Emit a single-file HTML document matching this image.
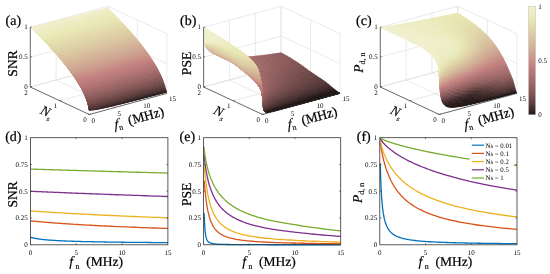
<!DOCTYPE html>
<html><head><meta charset="utf-8"><title>Figure</title>
<style>html,body{margin:0;padding:0;background:#fff}svg{display:block}text{font-family:"Liberation Serif",serif;fill:#000;text-rendering:geometricPrecision}.b{stroke:#000;stroke-width:.22px}.c{stroke:#000;stroke-width:.14px}</style></head><body>
<svg width="550" height="274" viewBox="0 0 550 274">
<rect width="550" height="274" fill="#fff"/>
<defs><filter id="sm" x="-5%" y="-5%" width="110%" height="110%"><feGaussianBlur stdDeviation="0.45"/></filter></defs>
<path d="M30.3 87L30.3 27.3" stroke="#dcdcdc" stroke-width="0.6" fill="none"/>
<path d="M30.3 87L89.3 114.5" stroke="#dcdcdc" stroke-width="0.6" fill="none"/>
<path d="M56.1 80L56.1 20.3" stroke="#dcdcdc" stroke-width="0.6" fill="none"/>
<path d="M56.1 80L115.1 107.5" stroke="#dcdcdc" stroke-width="0.6" fill="none"/>
<path d="M82 72.9L82 13.2" stroke="#dcdcdc" stroke-width="0.6" fill="none"/>
<path d="M82 72.9L141 100.4" stroke="#dcdcdc" stroke-width="0.6" fill="none"/>
<path d="M107.8 65.9L107.8 6.2" stroke="#dcdcdc" stroke-width="0.6" fill="none"/>
<path d="M107.8 65.9L166.8 93.4" stroke="#dcdcdc" stroke-width="0.6" fill="none"/>
<path d="M166.8 93.4L166.8 33.7" stroke="#dcdcdc" stroke-width="0.6" fill="none"/>
<path d="M89.3 114.5L166.8 93.4" stroke="#dcdcdc" stroke-width="0.6" fill="none"/>
<path d="M137.3 79.7L137.3 20" stroke="#dcdcdc" stroke-width="0.6" fill="none"/>
<path d="M59.8 100.8L137.3 79.7" stroke="#dcdcdc" stroke-width="0.6" fill="none"/>
<path d="M107.8 65.9L107.8 6.2" stroke="#dcdcdc" stroke-width="0.6" fill="none"/>
<path d="M30.3 87L107.8 65.9" stroke="#dcdcdc" stroke-width="0.6" fill="none"/>
<path d="M30.3 87L107.8 65.9" stroke="#dcdcdc" stroke-width="0.6" fill="none"/>
<path d="M107.8 65.9L166.8 93.4" stroke="#dcdcdc" stroke-width="0.6" fill="none"/>
<path d="M30.3 57.1L107.8 36.1" stroke="#dcdcdc" stroke-width="0.6" fill="none"/>
<path d="M107.8 36.1L166.8 63.6" stroke="#dcdcdc" stroke-width="0.6" fill="none"/>
<path d="M30.3 27.3L107.8 6.2" stroke="#dcdcdc" stroke-width="0.6" fill="none"/>
<path d="M107.8 6.2L166.8 33.7" stroke="#dcdcdc" stroke-width="0.6" fill="none"/>
<g stroke-width="0.7" stroke-linejoin="round" filter="url(#sm)">
<path fill="#eeeec8" stroke="#eeeec8" d="M106.4 12.1l-3.2-3.1 4.6-1.2 3.2 3.2zM102 13.2l-3.1-3.1 4.3-1.1 3.2 3.1zM97.8 14.3l-3.2-3.1 4.3-1.1 3.1 3.1zM93.7 15.3l-3.2-3.1 4.1-1 3.2 3.1z"/>
<path fill="#efefca" stroke="#efefca" d="M89.8 16.3l-3.2-3.1 3.9-1 3.2 3.1zM86 17.3l-3.1-3.2 3.7-.9 3.2 3.1zM82.4 18.2l-3.2-3.2 3.7-.9 3.1 3.2zM79 19l-3.2-3.1 3.4-.9 3.2 3.2zM75.6 19.9l-3.1-3.2 3.3-.8 3.2 3.1zM72.5 20.7l-3.2-3.2 3.2-.8 3.1 3.2z"/>
<path fill="#efefcc" stroke="#efefcc" d="M69.4 21.4l-3.1-3.1 3-.8 3.2 3.2zM66.6 22.1l-3.2-3.1 2.9-.7 3.1 3.1zM63.8 22.8l-3.2-3.1 2.8-.7 3.2 3.1zM61.2 23.5l-3.2-3.1 2.6-.7 3.2 3.1zM58.7 24.1l-3.1-3.1 2.4-.6 3.2 3.1zM56.4 24.7l-3.2-3.1 2.4-.6 3.1 3.1zM54.2 25.2l-3.2-3.1 2.2-.5 3.2 3.1zM52.1 25.8l-3.1-3.2 2-.5 3.2 3.1zM50.2 26.2l-3.2-3.1 2-.5 3.1 3.2z"/>
<path fill="#f0f0ce" stroke="#f0f0ce" d="M48.4 26.7l-3.2-3.1 1.8-.5 3.2 3.1zM46.7 27.1l-3.2-3.1 1.7-.4 3.2 3.1zM45.1 27.5l-3.2-3.1 1.6-.4 3.2 3.1zM43.6 27.9l-3.1-3.1 1.4-.4 3.2 3.1zM42.3 28.2l-3.2-3.1 1.4-.3 3.1 3.1zM41.1 28.5l-3.2-3.1 1.2-.3 3.2 3.1zM40 28.8l-3.2-3.1 1.1-.3 3.2 3.1zM38.9 29.1l-3.1-3.2 1-.2 3.2 3.1zM38 29.3l-3.1-3.1 .9-.3 3.1 3.2zM37.2 29.5l-3.2-3.1 .9-.2 3.1 3.1zM36.5 29.7l-3.2-3.2 .7-.1 3.2 3.1zM35.9 29.8l-3.2-3.1 .6-.2 3.2 3.2zM35.4 29.9l-3.2-3.1 .5-.1 3.2 3.1zM34.9 30.1l-3.2-3.2 .5-.1 3.2 3.1zM34.6 30.1l-3.2-3.1 .3-.1 3.2 3.2zM34.3 30.2l-3.2-3.1 .3-.1 3.2 3.1zM34 30.3l-3.1-3.1 .2-.1 3.2 3.1zM33.9 30.3l-3.2-3.1 .2 0 3.1 3.1zM33.8 30.3l-3.2-3.1 .1 0 3.2 3.1zM33.7 30.3l-3.1-3.1 0 0 3.2 3.1zM33.7 30.3l-3.1-3.1 0 0 3.1 3.1z"/>
<path fill="#ececbf" stroke="#ececbf" d="M109.5 15.2l-3.1-3.1 4.6-1.1 3.1 3.1zM105.1 16.4l-3.1-3.2 4.4-1.1 3.1 3.1z"/>
<path fill="#ececc1" stroke="#ececc1" d="M100.9 17.4l-3.1-3.1 4.2-1.1 3.1 3.2zM96.8 18.4l-3.1-3.1 4.1-1 3.1 3.1zM92.9 19.4l-3.1-3.1 3.9-1 3.1 3.1zM89.1 20.4l-3.1-3.1 3.8-1 3.1 3.1zM85.5 21.3l-3.1-3.1 3.6-.9 3.1 3.1z"/>
<path fill="#ededc3" stroke="#ededc3" d="M82 22.1l-3-3.1 3.4-.8 3.1 3.1zM78.7 23l-3.1-3.1 3.4-.9 3 3.1zM75.5 23.8l-3-3.1 3.1-.8 3.1 3.1zM72.5 24.5l-3.1-3.1 3.1-.7 3 3.1zM69.6 25.2l-3-3.1 2.8-.7 3.1 3.1zM66.9 25.9l-3.1-3.1 2.8-.7 3 3.1zM64.3 26.6l-3.1-3.1 2.6-.7 3.1 3.1z"/>
<path fill="#ededc6" stroke="#ededc6" d="M61.8 27.2l-3.1-3.1 2.5-.6 3.1 3.1zM59.5 27.8l-3.1-3.1 2.3-.6 3.1 3.1zM57.3 28.3l-3.1-3.1 2.2-.5 3.1 3.1zM55.2 28.8l-3.1-3 2.1-.6 3.1 3.1zM53.3 29.3l-3.1-3.1 1.9-.4 3.1 3zM51.5 29.8l-3.1-3.1 1.8-.5 3.1 3.1zM49.8 30.2l-3.1-3.1 1.7-.4 3.1 3.1zM48.2 30.6l-3.1-3.1 1.6-.4 3.1 3.1zM46.7 30.9l-3.1-3 1.5-.4 3.1 3.1zM45.4 31.3l-3.1-3.1 1.3-.3 3.1 3zM44.2 31.6l-3.1-3.1 1.2-.3 3.1 3.1zM43 31.9l-3-3.1 1.1-.3 3.1 3.1z"/>
<path fill="#eeeec8" stroke="#eeeec8" d="M42 32.1l-3.1-3 1.1-.3 3 3.1zM41.1 32.3l-3.1-3 .9-.2 3.1 3zM40.3 32.5l-3.1-3 .8-.2 3.1 3zM39.6 32.7l-3.1-3 .7-.2 3.1 3zM39 32.9l-3.1-3.1 .6-.1 3.1 3zM38.4 33l-3-3.1 .5-.1 3.1 3.1zM38 33.1l-3.1-3 .5-.2 3 3.1zM37.6 33.2l-3-3.1 .3 0 3.1 3zM37.3 33.3l-3-3.1 .3-.1 3 3.1zM37.1 33.3l-3.1-3 .3-.1 3 3.1zM37 33.4l-3.1-3.1 .1 0 3.1 3zM36.9 33.4l-3.1-3.1 .1 0 3.1 3.1zM36.8 33.4l-3.1-3.1 .1 0 3.1 3.1zM36.8 33.4l-3.1-3.1 0 0 3.1 3.1z"/>
<path fill="#eaeab8" stroke="#eaeab8" d="M112.5 18.3l-3-3.1 4.6-1.1 3 3.1zM108.1 19.4l-3-3 4.4-1.2 3 3.1zM103.9 20.5l-3-3.1 4.2-1 3 3zM99.8 21.5l-3-3.1 4.1-1 3 3.1z"/>
<path fill="#eaeaba" stroke="#eaeaba" d="M95.9 22.5l-3-3.1 3.9-1 3 3.1zM92.1 23.4l-3-3 3.8-1 3 3.1zM88.5 24.3l-3-3 3.6-.9 3 3zM85 25.2l-3-3.1 3.5-.8 3 3zM81.7 26l-3-3 3.3-.9 3 3.1zM78.5 26.8l-3-3 3.2-.8 3 3zM75.5 27.5l-3-3 3-.7 3 3z"/>
<path fill="#ebebbd" stroke="#ebebbd" d="M72.6 28.3l-3-3.1 2.9-.7 3 3zM69.9 29l-3-3.1 2.7-.7 3 3.1zM67.3 29.6l-3-3 2.6-.7 3 3.1zM64.8 30.2l-3-3 2.5-.6 3 3zM62.5 30.8l-3-3 2.3-.6 3 3zM60.3 31.3l-3-3 2.2-.5 3 3zM58.2 31.9l-3-3.1 2.1-.5 3 3zM56.3 32.3l-3-3 1.9-.5 3 3.1z"/>
<path fill="#ececbf" stroke="#ececbf" d="M54.4 32.8l-2.9-3 1.8-.5 3 3zM52.8 33.2l-3-3 1.7-.4 2.9 3zM51.2 33.6l-3-3 1.6-.4 3 3zM49.7 34l-3-3.1 1.5-.3 3 3zM48.4 34.3l-3-3 1.3-.4 3 3.1zM47.1 34.6l-2.9-3 1.2-.3 3 3zM46 34.9l-3-3 1.2-.3 2.9 3zM45 35.1l-3-3 1-.2 3 3zM44.1 35.4l-3-3.1 .9-.2 3 3zM43.3 35.6l-3-3.1 .8-.2 3 3.1zM42.6 35.7l-3-3 .7-.2 3 3.1zM42 35.9l-3-3 .6-.2 3 3zM41.4 36l-3-3 .6-.1 3 3zM41 36.1l-3-3 .4-.1 3 3zM40.6 36.2l-3-3 .4-.1 3 3zM40.3 36.3l-3-3 .3-.1 3 3zM40.1 36.4l-3-3.1 .2 0 3 3zM40 36.4l-3-3 .1-.1 3 3.1zM39.9 36.4l-3-3 .1 0 3 3zM39.8 36.4l-3-3 .1 0 3 3zM39.8 36.4l-3-3 0 0 3 3z"/>
<path fill="#e7e5b2" stroke="#e7e5b2" d="M115.4 21.3l-2.9-3 4.6-1.1 2.8 3zM111 22.4l-2.9-3 4.4-1.1 2.9 3z"/>
<path fill="#e8e7b3" stroke="#e8e7b3" d="M106.8 23.5l-2.9-3 4.2-1.1 2.9 3zM102.7 24.5l-2.9-3 4.1-1 2.9 3zM98.8 25.5l-2.9-3 3.9-1 2.9 3zM95 26.4l-2.9-3 3.8-.9 2.9 3zM91.4 27.3l-2.9-3 3.6-.9 2.9 3z"/>
<path fill="#e9e8b4" stroke="#e9e8b4" d="M87.9 28.2l-2.9-3 3.5-.9 2.9 3zM84.6 29l-2.9-3 3.3-.8 2.9 3zM81.4 29.8l-2.9-3 3.2-.8 2.9 3zM78.4 30.5l-2.9-3 3-.7 2.9 3zM75.5 31.3l-2.9-3 2.9-.8 2.9 3zM72.8 31.9l-2.9-2.9 2.7-.7 2.9 3zM70.2 32.6l-2.9-3 2.6-.6 2.9 2.9z"/>
<path fill="#e9e9b6" stroke="#e9e9b6" d="M67.7 33.2l-2.9-3 2.5-.6 2.9 3zM65.4 33.8l-2.9-3 2.3-.6 2.9 3zM63.2 34.3l-2.9-3 2.2-.5 2.9 3zM61.1 34.8l-2.9-2.9 2.1-.6 2.9 3zM59.2 35.3l-2.9-3 1.9-.4 2.9 2.9zM57.3 35.8l-2.9-3 1.9-.5 2.9 3zM55.6 36.2l-2.8-3 1.6-.4 2.9 3zM54.1 36.6l-2.9-3 1.6-.4 2.8 3zM52.6 36.9l-2.9-2.9 1.5-.4 2.9 3zM51.3 37.3l-2.9-3 1.3-.3 2.9 2.9zM50 37.6l-2.9-3 1.3-.3 2.9 3z"/>
<path fill="#eaeab8" stroke="#eaeab8" d="M48.9 37.9l-2.9-3 1.1-.3 2.9 3zM47.9 38.1l-2.9-3 1-.2 2.9 3zM47 38.3l-2.9-2.9 .9-.3 2.9 3zM46.2 38.5l-2.9-2.9 .8-.2 2.9 2.9zM45.5 38.7l-2.9-3 .7-.1 2.9 2.9zM44.9 38.9l-2.9-3 .6-.2 2.9 3zM44.3 39l-2.9-3 .6-.1 2.9 3zM43.9 39.1l-2.9-3 .4-.1 2.9 3zM43.5 39.2l-2.9-3 .4-.1 2.9 3zM43.2 39.3l-2.9-3 .3-.1 2.9 3zM43 39.3l-2.9-2.9 .2-.1 2.9 3zM42.9 39.4l-2.9-3 .1 0 2.9 2.9zM42.8 39.4l-2.9-3 .1 0 2.9 3zM42.7 39.4l-2.9-3 .1 0 2.9 3zM42.7 39.4l-2.9-3 0 0 2.9 3z"/>
<path fill="#e5e1b0" stroke="#e5e1b0" d="M118.2 24.3l-2.8-3 4.5-1.1 2.8 3zM113.8 25.4l-2.8-3 4.4-1.1 2.8 3zM109.6 26.4l-2.8-2.9 4.2-1.1 2.8 3zM105.5 27.5l-2.8-3 4.1-1 2.8 2.9zM101.6 28.4l-2.8-2.9 3.9-1 2.8 3z"/>
<path fill="#e6e2b1" stroke="#e6e2b1" d="M97.8 29.4l-2.8-3 3.8-.9 2.8 2.9zM94.2 30.3l-2.8-3 3.6-.9 2.8 3zM90.7 31.1l-2.8-2.9 3.5-.9 2.8 3zM87.4 31.9l-2.8-2.9 3.3-.8 2.8 2.9zM84.2 32.7l-2.8-2.9 3.2-.8 2.8 2.9z"/>
<path fill="#e7e4b2" stroke="#e7e4b2" d="M81.2 33.5l-2.8-3 3-.7 2.8 2.9zM78.3 34.2l-2.8-2.9 2.9-.8 2.8 3zM75.6 34.9l-2.8-3 2.7-.6 2.8 2.9zM73 35.5l-2.8-2.9 2.6-.7 2.8 3zM70.5 36.1l-2.8-2.9 2.5-.6 2.8 2.9zM68.2 36.7l-2.8-2.9 2.3-.6 2.8 2.9zM66 37.3l-2.8-3 2.2-.5 2.8 2.9zM63.9 37.8l-2.8-3 2.1-.5 2.8 3z"/>
<path fill="#e7e5b2" stroke="#e7e5b2" d="M62 38.2l-2.8-2.9 1.9-.5 2.8 3zM60.1 38.7l-2.8-2.9 1.9-.5 2.8 2.9zM58.4 39.1l-2.8-2.9 1.7-.4 2.8 2.9zM56.9 39.5l-2.8-2.9 1.5-.4 2.8 2.9zM55.4 39.9l-2.8-3 1.5-.3 2.8 2.9zM54.1 40.2l-2.8-2.9 1.3-.4 2.8 3zM52.8 40.5l-2.8-2.9 1.3-.3 2.8 2.9zM51.7 40.8l-2.8-2.9 1.1-.3 2.8 2.9zM50.7 41l-2.8-2.9 1-.2 2.8 2.9zM49.8 41.3l-2.8-3 .9-.2 2.8 2.9zM49 41.5l-2.8-3 .8-.2 2.8 3zM48.3 41.6l-2.8-2.9 .7-.2 2.8 3zM47.7 41.8l-2.8-2.9 .6-.2 2.8 2.9zM47.1 41.9l-2.8-2.9 .6-.1 2.8 2.9zM46.7 42l-2.8-2.9 .4-.1 2.8 2.9zM46.3 42.1l-2.8-2.9 .4-.1 2.8 2.9zM46 42.2l-2.8-2.9 .3-.1 2.8 2.9zM45.8 42.2l-2.8-2.9 .2 0 2.8 2.9zM45.7 42.3l-2.8-2.9 .1-.1 2.8 2.9zM45.6 42.3l-2.8-2.9 .1 0 2.8 2.9zM45.5 42.3l-2.8-2.9 .1 0 2.8 2.9zM45.5 42.3l-2.8-2.9 0 0 2.8 2.9z"/>
<path fill="#e3dbad" stroke="#e3dbad" d="M120.9 27.2l-2.7-2.9 4.5-1.1 2.7 2.9zM116.5 28.3l-2.7-2.9 4.4-1.1 2.7 2.9z"/>
<path fill="#e4dcae" stroke="#e4dcae" d="M112.3 29.3l-2.7-2.9 4.2-1 2.7 2.9zM108.2 30.4l-2.7-2.9 4.1-1.1 2.7 2.9zM104.3 31.3l-2.7-2.9 3.9-.9 2.7 2.9zM100.5 32.3l-2.7-2.9 3.8-1 2.7 2.9zM96.9 33.2l-2.7-2.9 3.6-.9 2.7 2.9z"/>
<path fill="#e4deae" stroke="#e4deae" d="M93.4 34l-2.7-2.9 3.5-.8 2.7 2.9zM90.1 34.8l-2.7-2.9 3.3-.8 2.7 2.9zM86.9 35.6l-2.7-2.9 3.2-.8 2.7 2.9zM83.9 36.4l-2.7-2.9 3-.8 2.7 2.9zM81 37.1l-2.7-2.9 2.9-.7 2.7 2.9zM78.3 37.8l-2.7-2.9 2.7-.7 2.7 2.9zM75.7 38.4l-2.7-2.9 2.6-.6 2.7 2.9z"/>
<path fill="#e5dfaf" stroke="#e5dfaf" d="M73.2 39l-2.7-2.9 2.5-.6 2.7 2.9zM70.9 39.6l-2.7-2.9 2.3-.6 2.7 2.9zM68.7 40.1l-2.7-2.8 2.2-.6 2.7 2.9zM66.6 40.7l-2.7-2.9 2.1-.5 2.7 2.8zM64.7 41.1l-2.7-2.9 1.9-.4 2.7 2.9zM62.8 41.6l-2.7-2.9 1.9-.5 2.7 2.9zM61.1 42l-2.7-2.9 1.7-.4 2.7 2.9zM59.6 42.4l-2.7-2.9 1.5-.4 2.7 2.9zM58.1 42.7l-2.7-2.8 1.5-.4 2.7 2.9z"/>
<path fill="#e5e1b0" stroke="#e5e1b0" d="M56.8 43.1l-2.7-2.9 1.3-.3 2.7 2.8zM55.5 43.4l-2.7-2.9 1.3-.3 2.7 2.9zM54.4 43.7l-2.7-2.9 1.1-.3 2.7 2.9zM53.4 43.9l-2.7-2.9 1-.2 2.7 2.9zM52.5 44.1l-2.7-2.8 .9-.3 2.7 2.9zM51.7 44.3l-2.7-2.8 .8-.2 2.7 2.8zM51 44.5l-2.7-2.9 .7-.1 2.7 2.8zM50.4 44.7l-2.7-2.9 .6-.2 2.7 2.9zM49.8 44.8l-2.7-2.9 .6-.1 2.7 2.9zM49.4 44.9l-2.7-2.9 .4-.1 2.7 2.9zM49 45l-2.7-2.9 .4-.1 2.7 2.9zM48.7 45.1l-2.7-2.9 .3-.1 2.7 2.9zM48.5 45.1l-2.7-2.9 .2 0 2.7 2.9zM48.4 45.1l-2.7-2.8 .1-.1 2.7 2.9zM48.3 45.2l-2.7-2.9 .1 0 2.7 2.8zM48.2 45.2l-2.7-2.9 .1 0 2.7 2.9zM48.2 45.2l-2.7-2.9 0 0 2.7 2.9z"/>
<path fill="#e1d6aa" stroke="#e1d6aa" d="M123.5 30.1l-2.6-2.9 4.5-1.1 2.7 2.8zM119.1 31.2l-2.6-2.9 4.4-1.1 2.6 2.9zM114.9 32.2l-2.6-2.9 4.2-1 2.6 2.9zM110.8 33.2l-2.6-2.8 4.1-1.1 2.6 2.9zM106.9 34.2l-2.6-2.9 3.9-.9 2.6 2.8z"/>
<path fill="#e2d8ab" stroke="#e2d8ab" d="M103.1 35.1l-2.6-2.8 3.8-1 2.6 2.9zM99.5 36l-2.6-2.8 3.6-.9 2.6 2.8zM96 36.9l-2.6-2.9 3.5-.8 2.6 2.8zM92.7 37.7l-2.6-2.9 3.3-.8 2.6 2.9zM89.5 38.5l-2.6-2.9 3.2-.8 2.6 2.9z"/>
<path fill="#e2d9ac" stroke="#e2d9ac" d="M86.5 39.2l-2.6-2.8 3-.8 2.6 2.9zM83.6 39.9l-2.6-2.8 2.9-.7 2.6 2.8zM80.9 40.6l-2.6-2.8 2.7-.7 2.6 2.8zM78.3 41.3l-2.6-2.9 2.6-.6 2.6 2.8zM75.8 41.9l-2.6-2.9 2.5-.6 2.6 2.9zM73.5 42.4l-2.6-2.8 2.3-.6 2.6 2.9zM71.3 43l-2.6-2.9 2.2-.5 2.6 2.8z"/>
<path fill="#e3dbad" stroke="#e3dbad" d="M69.2 43.5l-2.6-2.8 2.1-.6 2.6 2.9zM67.3 44l-2.6-2.9 1.9-.4 2.6 2.8zM65.4 44.4l-2.6-2.8 1.9-.5 2.6 2.9zM63.8 44.8l-2.7-2.8 1.7-.4 2.6 2.8zM62.2 45.2l-2.6-2.8 1.5-.4 2.7 2.8zM60.7 45.6l-2.6-2.9 1.5-.3 2.6 2.8zM59.4 45.9l-2.6-2.8 1.3-.4 2.6 2.9zM58.2 46.2l-2.7-2.8 1.3-.3 2.6 2.8zM57 46.5l-2.6-2.8 1.1-.3 2.7 2.8zM56 46.7l-2.6-2.8 1-.2 2.6 2.8zM55.1 46.9l-2.6-2.8 .9-.2 2.6 2.8zM54.3 47.1l-2.6-2.8 .8-.2 2.6 2.8zM53.6 47.3l-2.6-2.8 .7-.2 2.6 2.8zM53 47.5l-2.6-2.8 .6-.2 2.6 2.8zM52.4 47.6l-2.6-2.8 .6-.1 2.6 2.8z"/>
<path fill="#e4dcae" stroke="#e4dcae" d="M52 47.7l-2.6-2.8 .4-.1 2.6 2.8zM51.6 47.8l-2.6-2.8 .4-.1 2.6 2.8zM51.3 47.9l-2.6-2.8 .3-.1 2.6 2.8zM51.1 47.9l-2.6-2.8 .2 0 2.6 2.8zM51 48l-2.6-2.9 .1 0 2.6 2.8zM50.9 48l-2.6-2.8 .1-.1 2.6 2.9zM50.8 48l-2.6-2.8 .1 0 2.6 2.8zM50.8 48l-2.6-2.8 0 0 2.6 2.8z"/>
<path fill="#ded0a7" stroke="#ded0a7" d="M126 32.9l-2.5-2.8 4.6-1.2 2.5 2.9zM121.6 34l-2.5-2.8 4.4-1.1 2.5 2.8z"/>
<path fill="#dfd1a8" stroke="#dfd1a8" d="M117.4 35l-2.5-2.8 4.2-1 2.5 2.8zM113.3 36l-2.5-2.8 4.1-1 2.5 2.8zM109.4 37l-2.5-2.8 3.9-1 2.5 2.8zM105.6 37.9l-2.5-2.8 3.8-.9 2.5 2.8zM102 38.8l-2.5-2.8 3.6-.9 2.5 2.8z"/>
<path fill="#e0d3a8" stroke="#e0d3a8" d="M98.5 39.7l-2.5-2.8 3.5-.9 2.5 2.8zM95.2 40.5l-2.5-2.8 3.3-.8 2.5 2.8zM92.1 41.3l-2.6-2.8 3.2-.8 2.5 2.8zM89 42l-2.5-2.8 3-.7 2.6 2.8zM86.1 42.7l-2.5-2.8 2.9-.7 2.5 2.8zM83.4 43.4l-2.5-2.8 2.7-.7 2.5 2.8z"/>
<path fill="#e0d5a9" stroke="#e0d5a9" d="M80.8 44l-2.5-2.7 2.6-.7 2.5 2.8zM78.3 44.7l-2.5-2.8 2.5-.6 2.5 2.7zM76 45.2l-2.5-2.8 2.3-.5 2.5 2.8zM73.8 45.8l-2.5-2.8 2.2-.6 2.5 2.8zM71.7 46.3l-2.5-2.8 2.1-.5 2.5 2.8zM69.8 46.7l-2.5-2.7 1.9-.5 2.5 2.8zM68 47.2l-2.6-2.8 1.9-.4 2.5 2.7zM66.3 47.6l-2.5-2.8 1.6-.4 2.6 2.8zM64.7 48l-2.5-2.8 1.6-.4 2.5 2.8z"/>
<path fill="#e1d6aa" stroke="#e1d6aa" d="M63.2 48.4l-2.5-2.8 1.5-.4 2.5 2.8zM61.9 48.7l-2.5-2.8 1.3-.3 2.5 2.8zM60.7 49l-2.5-2.8 1.2-.3 2.5 2.8zM59.5 49.3l-2.5-2.8 1.2-.3 2.5 2.8zM58.5 49.5l-2.5-2.8 1-.2 2.5 2.8zM57.6 49.7l-2.5-2.8 .9-.2 2.5 2.8zM56.8 49.9l-2.5-2.8 .8-.2 2.5 2.8zM56.1 50.1l-2.5-2.8 .7-.2 2.5 2.8zM55.5 50.2l-2.5-2.7 .6-.2 2.5 2.8zM55 50.4l-2.6-2.8 .6-.1 2.5 2.7zM54.5 50.5l-2.5-2.8 .4-.1 2.6 2.8zM54.1 50.6l-2.5-2.8 .4-.1 2.5 2.8zM53.9 50.6l-2.6-2.7 .3-.1 2.5 2.8zM53.6 50.7l-2.5-2.8 .2 0 2.6 2.7zM53.5 50.7l-2.5-2.7 .1-.1 2.5 2.8zM53.4 50.8l-2.5-2.8 .1 0 2.5 2.7zM53.3 50.8l-2.5-2.8 .1 0 2.5 2.8zM53.3 50.8l-2.5-2.8 0 0 2.5 2.8z"/>
<path fill="#ddcba4" stroke="#ddcba4" d="M128.4 35.7l-2.4-2.8 4.6-1.1 2.4 2.8zM124.1 36.8l-2.5-2.8 4.4-1.1 2.4 2.8zM119.8 37.8l-2.4-2.8 4.2-1 2.5 2.8zM115.7 38.8l-2.4-2.8 4.1-1 2.4 2.8zM111.8 39.8l-2.4-2.8 3.9-1 2.4 2.8z"/>
<path fill="#ddcda5" stroke="#ddcda5" d="M108.1 40.7l-2.5-2.8 3.8-.9 2.4 2.8zM104.4 41.6l-2.4-2.8 3.6-.9 2.5 2.8zM101 42.4l-2.5-2.7 3.5-.9 2.4 2.8zM97.7 43.3l-2.5-2.8 3.3-.8 2.5 2.7zM94.5 44l-2.4-2.7 3.1-.8 2.5 2.8z"/>
<path fill="#decea6" stroke="#decea6" d="M91.5 44.8l-2.5-2.8 3.1-.7 2.4 2.7zM88.6 45.5l-2.5-2.8 2.9-.7 2.5 2.8zM85.8 46.2l-2.4-2.8 2.7-.7 2.5 2.8zM83.2 46.8l-2.4-2.8 2.6-.6 2.4 2.8zM80.8 47.4l-2.5-2.7 2.5-.7 2.4 2.8zM78.4 48l-2.4-2.8 2.3-.5 2.5 2.7z"/>
<path fill="#ded0a7" stroke="#ded0a7" d="M76.2 48.5l-2.4-2.7 2.2-.6 2.4 2.8zM74.2 49l-2.5-2.7 2.1-.5 2.4 2.7zM72.2 49.5l-2.4-2.8 1.9-.4 2.5 2.7zM70.4 49.9l-2.4-2.7 1.8-.5 2.4 2.8zM68.7 50.3l-2.4-2.7 1.7-.4 2.4 2.7zM67.1 50.7l-2.4-2.7 1.6-.4 2.4 2.7zM65.7 51.1l-2.5-2.7 1.5-.4 2.4 2.7zM64.3 51.4l-2.4-2.7 1.3-.3 2.5 2.7zM63.1 51.7l-2.4-2.7 1.2-.3 2.4 2.7zM62 52l-2.5-2.7 1.2-.3 2.4 2.7zM61 52.2l-2.5-2.7 1-.2 2.5 2.7z"/>
<path fill="#dfd1a8" stroke="#dfd1a8" d="M60.1 52.4l-2.5-2.7 .9-.2 2.5 2.7zM59.2 52.6l-2.4-2.7 .8-.2 2.5 2.7zM58.5 52.8l-2.4-2.7 .7-.2 2.4 2.7zM57.9 53l-2.4-2.8 .6-.1 2.4 2.7zM57.4 53.1l-2.4-2.7 .5-.2 2.4 2.8zM56.9 53.2l-2.4-2.7 .5-.1 2.4 2.7zM56.6 53.3l-2.5-2.7 .4-.1 2.4 2.7zM56.3 53.4l-2.4-2.8 .2 0 2.5 2.7zM56.1 53.4l-2.5-2.7 .3-.1 2.4 2.8zM55.9 53.5l-2.4-2.8 .1 0 2.5 2.7zM55.8 53.5l-2.4-2.7 .1-.1 2.4 2.8zM55.8 53.5l-2.5-2.7 .1 0 2.4 2.7zM55.8 53.5l-2.5-2.7 0 0 2.5 2.7z"/>
<path fill="#dac4a1" stroke="#dac4a1" d="M130.8 38.4l-2.4-2.7 4.6-1.1 2.3 2.7zM126.4 39.5l-2.3-2.7 4.3-1.1 2.4 2.7z"/>
<path fill="#dbc6a2" stroke="#dbc6a2" d="M122.1 40.5l-2.3-2.7 4.3-1 2.3 2.7zM118.1 41.5l-2.4-2.7 4.1-1 2.3 2.7zM114.2 42.5l-2.4-2.7 3.9-1 2.4 2.7zM110.4 43.4l-2.3-2.7 3.7-.9 2.4 2.7zM106.8 44.3l-2.4-2.7 3.7-.9 2.3 2.7z"/>
<path fill="#dbc8a2" stroke="#dbc8a2" d="M103.3 45.2l-2.3-2.8 3.4-.8 2.4 2.7zM100 46l-2.3-2.7 3.3-.9 2.3 2.8zM96.8 46.8l-2.3-2.8 3.2-.7 2.3 2.7zM93.8 47.5l-2.3-2.7 3-.8 2.3 2.8zM90.9 48.2l-2.3-2.7 2.9-.7 2.3 2.7zM88.2 48.9l-2.4-2.7 2.8-.7 2.3 2.7z"/>
<path fill="#dcc9a3" stroke="#dcc9a3" d="M85.6 49.5l-2.4-2.7 2.6-.6 2.4 2.7zM83.1 50.1l-2.3-2.7 2.4-.6 2.4 2.7zM80.8 50.7l-2.4-2.7 2.4-.6 2.3 2.7zM78.6 51.2l-2.4-2.7 2.2-.5 2.4 2.7zM76.5 51.7l-2.3-2.7 2-.5 2.4 2.7zM74.5 52.2l-2.3-2.7 2-.5 2.3 2.7zM72.7 52.6l-2.3-2.7 1.8-.4 2.3 2.7z"/>
<path fill="#ddcba4" stroke="#ddcba4" d="M71 53l-2.3-2.7 1.7-.4 2.3 2.7zM69.5 53.4l-2.4-2.7 1.6-.4 2.3 2.7zM68 53.8l-2.3-2.7 1.4-.4 2.4 2.7zM66.7 54.1l-2.4-2.7 1.4-.3 2.3 2.7zM65.4 54.4l-2.3-2.7 1.2-.3 2.4 2.7zM64.3 54.7l-2.3-2.7 1.1-.3 2.3 2.7zM63.3 54.9l-2.3-2.7 1-.2 2.3 2.7zM62.4 55.1l-2.3-2.7 .9-.2 2.3 2.7zM61.6 55.3l-2.4-2.7 .9-.2 2.3 2.7zM60.9 55.5l-2.4-2.7 .7-.2 2.4 2.7zM60.2 55.6l-2.3-2.6 .6-.2 2.4 2.7zM59.7 55.8l-2.3-2.7 .5-.1 2.3 2.6zM59.3 55.9l-2.4-2.7 .5-.1 2.3 2.7zM58.9 56l-2.3-2.7 .3-.1 2.4 2.7zM58.6 56l-2.3-2.6 .3-.1 2.3 2.7zM58.4 56.1l-2.3-2.7 .2 0 2.3 2.6zM58.2 56.1l-2.3-2.6 .2-.1 2.3 2.7zM58.1 56.2l-2.3-2.7 .1 0 2.3 2.6zM58.1 56.2l-2.3-2.7 0 0 2.3 2.7zM58.1 56.2l-2.3-2.7 0 0 2.3 2.7z"/>
<path fill="#d8bf9e" stroke="#d8bf9e" d="M133 41.1l-2.2-2.7 4.5-1.1 2.3 2.7zM128.6 42.2l-2.2-2.7 4.4-1.1 2.2 2.7zM124.4 43.2l-2.3-2.7 4.3-1 2.2 2.7zM120.3 44.2l-2.2-2.7 4-1 2.3 2.7zM116.4 45.2l-2.2-2.7 3.9-1 2.2 2.7z"/>
<path fill="#d9c19f" stroke="#d9c19f" d="M112.6 46.1l-2.2-2.7 3.8-.9 2.2 2.7zM109 47l-2.2-2.7 3.6-.9 2.2 2.7zM105.5 47.8l-2.2-2.6 3.5-.9 2.2 2.7zM102.2 48.6l-2.2-2.6 3.3-.8 2.2 2.6z"/>
<path fill="#d9c3a0" stroke="#d9c3a0" d="M99.1 49.4l-2.3-2.6 3.2-.8 2.2 2.6zM96 50.2l-2.2-2.7 3-.7 2.3 2.6zM93.1 50.9l-2.2-2.7 2.9-.7 2.2 2.7zM90.4 51.5l-2.2-2.6 2.7-.7 2.2 2.7zM87.8 52.2l-2.2-2.7 2.6-.6 2.2 2.6zM85.3 52.7l-2.2-2.6 2.5-.6 2.2 2.7z"/>
<path fill="#dac4a1" stroke="#dac4a1" d="M83 53.3l-2.2-2.6 2.3-.6 2.2 2.6zM80.8 53.8l-2.2-2.6 2.2-.5 2.2 2.6zM78.7 54.4l-2.2-2.7 2.1-.5 2.2 2.6zM76.8 54.8l-2.3-2.6 2-.5 2.2 2.7zM75 55.3l-2.3-2.7 1.8-.4 2.3 2.6zM73.3 55.7l-2.3-2.7 1.7-.4 2.3 2.7zM71.7 56.1l-2.2-2.7 1.5-.4 2.3 2.7zM70.2 56.4l-2.2-2.6 1.5-.4 2.2 2.7zM68.9 56.7l-2.2-2.6 1.3-.3 2.2 2.6z"/>
<path fill="#dbc6a2" stroke="#dbc6a2" d="M67.7 57l-2.3-2.6 1.3-.3 2.2 2.6zM66.5 57.3l-2.2-2.6 1.1-.3 2.3 2.6zM65.5 57.5l-2.2-2.6 1-.2 2.2 2.6zM64.6 57.8l-2.2-2.7 .9-.2 2.2 2.6zM63.8 58l-2.2-2.7 .8-.2 2.2 2.7zM63.1 58.1l-2.2-2.6 .7-.2 2.2 2.7zM62.5 58.3l-2.3-2.7 .7-.1 2.2 2.6zM62 58.4l-2.3-2.6 .5-.2 2.3 2.7zM61.5 58.5l-2.2-2.6 .4-.1 2.3 2.6zM61.1 58.6l-2.2-2.6 .4-.1 2.2 2.6zM60.9 58.7l-2.3-2.7 .3 0 2.2 2.6zM60.6 58.7l-2.2-2.6 .2-.1 2.3 2.7zM60.5 58.8l-2.3-2.7 .2 0 2.2 2.6zM60.4 58.8l-2.3-2.6 .1-.1 2.3 2.7zM60.3 58.8l-2.2-2.6 0 0 2.3 2.6zM60.3 58.8l-2.2-2.6 0 0 2.2 2.6z"/>
<path fill="#d5b89a" stroke="#d5b89a" d="M135.2 43.8l-2.2-2.7 4.6-1.1 2.1 2.6zM130.8 44.8l-2.2-2.6 4.4-1.1 2.2 2.7z"/>
<path fill="#d6ba9b" stroke="#d6ba9b" d="M126.5 45.9l-2.1-2.7 4.2-1 2.2 2.6zM122.5 46.9l-2.2-2.7 4.1-1 2.1 2.7zM118.5 47.8l-2.1-2.6 3.9-1 2.2 2.7zM114.8 48.7l-2.2-2.6 3.8-.9 2.1 2.6zM111.2 49.6l-2.2-2.6 3.6-.9 2.2 2.6z"/>
<path fill="#d7bc9c" stroke="#d7bc9c" d="M107.7 50.5l-2.2-2.7 3.5-.8 2.2 2.6zM104.4 51.3l-2.2-2.7 3.3-.8 2.2 2.7zM101.2 52l-2.1-2.6 3.1-.8 2.2 2.7zM98.2 52.8l-2.2-2.6 3.1-.8 2.1 2.6zM95.3 53.5l-2.2-2.6 2.9-.7 2.2 2.6z"/>
<path fill="#d7bd9d" stroke="#d7bd9d" d="M92.6 54.1l-2.2-2.6 2.7-.6 2.2 2.6zM89.9 54.8l-2.1-2.6 2.6-.7 2.2 2.6zM87.5 55.4l-2.2-2.7 2.5-.5 2.1 2.6zM85.1 55.9l-2.1-2.6 2.3-.6 2.2 2.7zM82.9 56.4l-2.1-2.6 2.2-.5 2.1 2.6zM80.9 56.9l-2.2-2.5 2.1-.6 2.1 2.6z"/>
<path fill="#d8bf9e" stroke="#d8bf9e" d="M78.9 57.4l-2.1-2.6 1.9-.4 2.2 2.5zM77.1 57.9l-2.1-2.6 1.8-.5 2.1 2.6zM75.4 58.3l-2.1-2.6 1.7-.4 2.1 2.6zM73.8 58.6l-2.1-2.5 1.6-.4 2.1 2.6zM72.4 59l-2.2-2.6 1.5-.3 2.1 2.5zM71 59.3l-2.1-2.6 1.3-.3 2.2 2.6zM69.8 59.6l-2.1-2.6 1.2-.3 2.1 2.6zM68.7 59.9l-2.2-2.6 1.2-.3 2.1 2.6zM67.7 60.1l-2.2-2.6 1-.2 2.2 2.6zM66.8 60.3l-2.2-2.5 .9-.3 2.2 2.6zM66 60.5l-2.2-2.5 .8-.2 2.2 2.5zM65.3 60.7l-2.2-2.6 .7-.1 2.2 2.5z"/>
<path fill="#d9c19f" stroke="#d9c19f" d="M64.6 60.9l-2.1-2.6 .6-.2 2.2 2.6zM64.1 61l-2.1-2.6 .5-.1 2.1 2.6zM63.7 61.1l-2.2-2.6 .5-.1 2.1 2.6zM63.3 61.2l-2.2-2.6 .4-.1 2.2 2.6zM63 61.2l-2.1-2.5 .2-.1 2.2 2.6zM62.8 61.3l-2.2-2.6 .3 0 2.1 2.5zM62.6 61.3l-2.1-2.5 .1-.1 2.2 2.6zM62.5 61.4l-2.1-2.6 .1 0 2.1 2.5zM62.5 61.4l-2.2-2.6 .1 0 2.1 2.6zM62.5 61.4l-2.2-2.6 0 0 2.2 2.6z"/>
<path fill="#d3b297" stroke="#d3b297" d="M137.2 46.4l-2-2.6 4.5-1.2 2.1 2.7zM132.8 47.4l-2-2.6 4.4-1 2 2.6zM128.6 48.5l-2.1-2.6 4.3-1.1 2 2.6zM124.5 49.5l-2-2.6 4-1 2.1 2.6z"/>
<path fill="#d4b498" stroke="#d4b498" d="M120.6 50.4l-2.1-2.6 4-.9 2 2.6zM116.8 51.3l-2-2.6 3.7-.9 2.1 2.6zM113.2 52.2l-2-2.6 3.6-.9 2 2.6zM109.8 53l-2.1-2.5 3.5-.9 2 2.6zM106.4 53.8l-2-2.5 3.3-.8 2.1 2.5z"/>
<path fill="#d5b699" stroke="#d5b699" d="M103.3 54.6l-2.1-2.6 3.2-.7 2 2.5zM100.2 55.3l-2-2.5 3-.8 2.1 2.6zM97.4 56l-2.1-2.5 2.9-.7 2 2.5zM94.6 56.7l-2-2.6 2.7-.6 2.1 2.5zM92 57.3l-2.1-2.5 2.7-.7 2 2.6z"/>
<path fill="#d5b89a" stroke="#d5b89a" d="M89.5 57.9l-2-2.5 2.4-.6 2.1 2.5zM87.2 58.5l-2.1-2.6 2.4-.5 2 2.5zM85 59l-2.1-2.6 2.2-.5 2.1 2.6zM82.9 59.5l-2-2.6 2-.5 2.1 2.6zM81 60l-2.1-2.6 2-.5 2 2.6zM79.2 60.4l-2.1-2.5 1.8-.5 2.1 2.6zM77.5 60.8l-2.1-2.5 1.7-.4 2.1 2.5z"/>
<path fill="#d6ba9b" stroke="#d6ba9b" d="M75.9 61.2l-2.1-2.6 1.6-.3 2.1 2.5zM74.4 61.5l-2-2.5 1.4-.4 2.1 2.6zM73.1 61.9l-2.1-2.6 1.4-.3 2 2.5zM71.9 62.1l-2.1-2.5 1.2-.3 2.1 2.6zM70.8 62.4l-2.1-2.5 1.1-.3 2.1 2.5zM69.7 62.7l-2-2.6 1-.2 2.1 2.5zM68.8 62.9l-2-2.6 .9-.2 2 2.6zM68 63.1l-2-2.6 .8-.2 2 2.6zM67.3 63.2l-2-2.5 .7-.2 2 2.6zM66.7 63.4l-2.1-2.5 .7-.2 2 2.5zM66.2 63.5l-2.1-2.5 .5-.1 2.1 2.5zM65.7 63.6l-2-2.5 .4-.1 2.1 2.5zM65.4 63.7l-2.1-2.5 .4-.1 2 2.5zM65.1 63.8l-2.1-2.6 .3 0 2.1 2.5zM64.8 63.8l-2-2.5 .2-.1 2.1 2.6zM64.7 63.9l-2.1-2.6 .2 0 2 2.5zM64.6 63.9l-2.1-2.5 .1-.1 2.1 2.6zM64.5 63.9l-2-2.5 0 0 2.1 2.5zM64.5 63.9l-2-2.5 0 0 2 2.5z"/>
<path fill="#d0ab94" stroke="#d0ab94" d="M139.2 48.9l-2-2.5 4.6-1.1 1.9 2.5zM134.8 50l-2-2.6 4.4-1 2 2.5z"/>
<path fill="#d1ad95" stroke="#d1ad95" d="M130.6 51l-2-2.5 4.2-1.1 2 2.6zM126.5 52l-2-2.5 4.1-1 2 2.5zM122.6 53l-2-2.6 3.9-.9 2 2.5zM118.8 53.9l-2-2.6 3.8-.9 2 2.6z"/>
<path fill="#d2af96" stroke="#d2af96" d="M115.2 54.7l-2-2.5 3.6-.9 2 2.6zM111.7 55.6l-1.9-2.6 3.4-.8 2 2.5zM108.4 56.4l-2-2.6 3.4-.8 1.9 2.6zM105.2 57.1l-1.9-2.5 3.1-.8 2 2.6zM102.2 57.9l-2-2.6 3.1-.7 1.9 2.5z"/>
<path fill="#d3b197" stroke="#d3b197" d="M99.3 58.6l-1.9-2.6 2.8-.7 2 2.6zM96.6 59.2l-2-2.5 2.8-.7 1.9 2.6zM94 59.8l-2-2.5 2.6-.6 2 2.5zM91.5 60.4l-2-2.5 2.5-.6 2 2.5zM89.2 61l-2-2.5 2.3-.6 2 2.5zM87 61.5l-2-2.5 2.2-.5 2 2.5z"/>
<path fill="#d3b297" stroke="#d3b297" d="M84.9 62l-2-2.5 2.1-.5 2 2.5zM83 62.5l-2-2.5 1.9-.5 2 2.5zM81.1 62.9l-1.9-2.5 1.8-.4 2 2.5zM79.4 63.3l-1.9-2.5 1.7-.4 1.9 2.5zM77.9 63.7l-2-2.5 1.6-.4 1.9 2.5zM76.4 64l-2-2.5 1.5-.3 2 2.5zM75.1 64.3l-2-2.4 1.3-.4 2 2.5zM73.8 64.6l-1.9-2.5 1.2-.2 2 2.4z"/>
<path fill="#d4b498" stroke="#d4b498" d="M72.7 64.9l-1.9-2.5 1.1-.3 1.9 2.5zM71.7 65.1l-2-2.4 1.1-.3 1.9 2.5zM70.8 65.4l-2-2.5 .9-.2 2 2.4zM70 65.6l-2-2.5 .8-.2 2 2.5zM69.3 65.7l-2-2.5 .7-.1 2 2.5zM68.7 65.9l-2-2.5 .6-.2 2 2.5zM68.1 66l-1.9-2.5 .5-.1 2 2.5zM67.7 66.1l-2-2.5 .5-.1 1.9 2.5zM67.3 66.2l-1.9-2.5 .3-.1 2 2.5zM67 66.3l-1.9-2.5 .3-.1 1.9 2.5zM66.8 66.3l-2-2.5 .3 0 1.9 2.5zM66.7 66.3l-2-2.4 .1-.1 2 2.5zM66.6 66.4l-2-2.5 .1 0 2 2.4zM66.5 66.4l-2-2.5 .1 0 2 2.5zM66.5 66.4l-2-2.5 0 0 2 2.5z"/>
<path fill="#cea591" stroke="#cea591" d="M141.1 51.4l-1.9-2.5 4.5-1.1 1.9 2.5zM136.7 52.5l-1.9-2.5 4.4-1.1 1.9 2.5zM132.4 53.5l-1.8-2.5 4.2-1 1.9 2.5zM128.4 54.5l-1.9-2.5 4.1-1 1.8 2.5z"/>
<path fill="#cfa792" stroke="#cfa792" d="M124.5 55.5l-1.9-2.5 3.9-1 1.9 2.5zM120.7 56.4l-1.9-2.5 3.8-.9 1.9 2.5zM117.1 57.2l-1.9-2.5 3.6-.8 1.9 2.5zM113.6 58.1l-1.9-2.5 3.5-.9 1.9 2.5z"/>
<path fill="#d0a993" stroke="#d0a993" d="M110.3 58.9l-1.9-2.5 3.3-.8 1.9 2.5zM107.1 59.6l-1.9-2.5 3.2-.7 1.9 2.5zM104.1 60.3l-1.9-2.4 3-.8 1.9 2.5zM101.2 61l-1.9-2.4 2.9-.7 1.9 2.4zM98.5 61.7l-1.9-2.5 2.7-.6 1.9 2.4z"/>
<path fill="#d0ab94" stroke="#d0ab94" d="M95.9 62.3l-1.9-2.5 2.6-.6 1.9 2.5zM93.4 62.9l-1.9-2.5 2.5-.6 1.9 2.5zM91.1 63.4l-1.9-2.4 2.3-.6 1.9 2.5zM88.9 64l-1.9-2.5 2.2-.5 1.9 2.4zM86.8 64.5l-1.9-2.5 2.1-.5 1.9 2.5zM84.8 64.9l-1.8-2.4 1.9-.5 1.9 2.5z"/>
<path fill="#d1ad95" stroke="#d1ad95" d="M83 65.4l-1.9-2.5 1.9-.4 1.8 2.4zM81.3 65.8l-1.9-2.5 1.7-.4 1.9 2.5zM79.8 66.1l-1.9-2.4 1.5-.4 1.9 2.5zM78.3 66.5l-1.9-2.5 1.5-.3 1.9 2.4zM77 66.8l-1.9-2.5 1.3-.3 1.9 2.5zM75.7 67.1l-1.9-2.5 1.3-.3 1.9 2.5zM74.6 67.3l-1.9-2.4 1.1-.3 1.9 2.5zM73.6 67.6l-1.9-2.5 1-.2 1.9 2.4zM72.7 67.8l-1.9-2.4 .9-.3 1.9 2.5zM71.9 68l-1.9-2.4 .8-.2 1.9 2.4zM71.2 68.2l-1.9-2.5 .7-.1 1.9 2.4z"/>
<path fill="#d2af96" stroke="#d2af96" d="M70.5 68.3l-1.8-2.4 .6-.2 1.9 2.5zM70 68.4l-1.9-2.4 .6-.1 1.8 2.4zM69.6 68.5l-1.9-2.4 .4-.1 1.9 2.4zM69.2 68.6l-1.9-2.4 .4-.1 1.9 2.4zM68.9 68.7l-1.9-2.4 .3-.1 1.9 2.4zM68.7 68.7l-1.9-2.4 .2 0 1.9 2.4zM68.5 68.8l-1.8-2.5 .1 0 1.9 2.4zM68.4 68.8l-1.8-2.4 .1-.1 1.8 2.5zM68.4 68.8l-1.9-2.4 .1 0 1.8 2.4zM68.4 68.8l-1.9-2.4 0 0 1.9 2.4z"/>
<path fill="#cc9c8d" stroke="#cc9c8d" d="M142.9 53.9l-1.8-2.5 4.5-1.1 1.8 2.5zM138.5 55l-1.8-2.5 4.4-1.1 1.8 2.5z"/>
<path fill="#cc9f8e" stroke="#cc9f8e" d="M134.2 56l-1.8-2.5 4.3-1 1.8 2.5zM130.2 57l-1.8-2.5 4-1 1.8 2.5zM126.2 57.9l-1.7-2.4 3.9-1 1.8 2.5zM122.5 58.8l-1.8-2.4 3.8-.9 1.7 2.4z"/>
<path fill="#cda18f" stroke="#cda18f" d="M118.9 59.7l-1.8-2.5 3.6-.8 1.8 2.4zM115.4 60.5l-1.8-2.4 3.5-.9 1.8 2.5zM112.1 61.3l-1.8-2.4 3.3-.8 1.8 2.4zM108.9 62.1l-1.8-2.5 3.2-.7 1.8 2.4z"/>
<path fill="#cea390" stroke="#cea390" d="M105.9 62.8l-1.8-2.5 3-.7 1.8 2.5zM103 63.5l-1.8-2.5 2.9-.7 1.8 2.5zM100.3 64.1l-1.8-2.4 2.7-.7 1.8 2.5zM97.7 64.7l-1.8-2.4 2.6-.6 1.8 2.4zM95.2 65.3l-1.8-2.4 2.5-.6 1.8 2.4z"/>
<path fill="#cea591" stroke="#cea591" d="M92.9 65.9l-1.8-2.5 2.3-.5 1.8 2.4zM90.6 66.4l-1.7-2.4 2.2-.6 1.8 2.5zM88.6 66.9l-1.8-2.4 2.1-.5 1.7 2.4zM86.6 67.3l-1.8-2.4 2-.4 1.8 2.4zM84.8 67.8l-1.8-2.4 1.8-.5 1.8 2.4zM83.1 68.2l-1.8-2.4 1.7-.4 1.8 2.4zM81.5 68.5l-1.7-2.4 1.5-.3 1.8 2.4z"/>
<path fill="#cfa792" stroke="#cfa792" d="M80.1 68.9l-1.8-2.4 1.5-.4 1.7 2.4zM78.7 69.2l-1.7-2.4 1.3-.3 1.8 2.4zM77.5 69.5l-1.8-2.4 1.3-.3 1.7 2.4zM76.4 69.7l-1.8-2.4 1.1-.2 1.8 2.4zM75.4 70l-1.8-2.4 1-.3 1.8 2.4zM74.5 70.2l-1.8-2.4 .9-.2 1.8 2.4zM73.7 70.4l-1.8-2.4 .8-.2 1.8 2.4zM73 70.5l-1.8-2.3 .7-.2 1.8 2.4zM72.3 70.7l-1.8-2.4 .7-.1 1.8 2.3zM71.8 70.8l-1.8-2.4 .5-.1 1.8 2.4zM71.4 70.9l-1.8-2.4 .4-.1 1.8 2.4zM71 71l-1.8-2.4 .4-.1 1.8 2.4zM70.7 71.1l-1.8-2.4 .3-.1 1.8 2.4zM70.5 71.1l-1.8-2.4 .2 0 1.8 2.4zM70.3 71.2l-1.8-2.4 .2-.1 1.8 2.4zM70.2 71.2l-1.8-2.4 .1 0 1.8 2.4zM70.2 71.2l-1.8-2.4 0 0 1.8 2.4zM70.2 71.2l-1.8-2.4 0 0 1.8 2.4z"/>
<path fill="#c9968a" stroke="#c9968a" d="M144.6 56.3l-1.7-2.4 4.5-1.1 1.7 2.4zM140.2 57.4l-1.7-2.4 4.4-1.1 1.7 2.4zM135.9 58.4l-1.7-2.4 4.3-1 1.7 2.4zM131.9 59.4l-1.7-2.4 4-1 1.7 2.4z"/>
<path fill="#ca988b" stroke="#ca988b" d="M127.9 60.3l-1.7-2.4 4-.9 1.7 2.4zM124.2 61.2l-1.7-2.4 3.7-.9 1.7 2.4zM120.6 62.1l-1.7-2.4 3.6-.9 1.7 2.4zM117.1 62.9l-1.7-2.4 3.5-.8 1.7 2.4z"/>
<path fill="#cb9a8c" stroke="#cb9a8c" d="M113.8 63.7l-1.7-2.4 3.3-.8 1.7 2.4zM110.6 64.4l-1.7-2.3 3.2-.8 1.7 2.4zM107.6 65.2l-1.7-2.4 3-.7 1.7 2.3zM104.7 65.8l-1.7-2.3 2.9-.7 1.7 2.4z"/>
<path fill="#cc9c8d" stroke="#cc9c8d" d="M102 66.5l-1.7-2.4 2.7-.6 1.7 2.3zM99.4 67.1l-1.7-2.4 2.6-.6 1.7 2.4zM96.9 67.7l-1.7-2.4 2.5-.6 1.7 2.4zM94.6 68.2l-1.7-2.3 2.3-.6 1.7 2.4zM92.4 68.8l-1.8-2.4 2.3-.5 1.7 2.3z"/>
<path fill="#cc9f8e" stroke="#cc9f8e" d="M90.3 69.2l-1.7-2.3 2-.5 1.8 2.4zM88.3 69.7l-1.7-2.4 2-.4 1.7 2.3zM86.5 70.1l-1.7-2.3 1.8-.5 1.7 2.4zM84.8 70.5l-1.7-2.3 1.7-.4 1.7 2.3zM83.3 70.9l-1.8-2.4 1.6-.3 1.7 2.3zM81.8 71.2l-1.7-2.3 1.4-.4 1.8 2.4zM80.5 71.5l-1.8-2.3 1.4-.3 1.7 2.3zM79.2 71.8l-1.7-2.3 1.2-.3 1.8 2.3z"/>
<path fill="#cda18f" stroke="#cda18f" d="M78.1 72.1l-1.7-2.4 1.1-.2 1.7 2.3zM77.1 72.3l-1.7-2.3 1-.3 1.7 2.4zM76.2 72.5l-1.7-2.3 .9-.2 1.7 2.3zM75.4 72.7l-1.7-2.3 .8-.2 1.7 2.3zM74.7 72.9l-1.7-2.4 .7-.1 1.7 2.3zM74 73l-1.7-2.3 .7-.2 1.7 2.4zM73.5 73.2l-1.7-2.4 .5-.1 1.7 2.3zM73.1 73.3l-1.7-2.4 .4-.1 1.7 2.4zM72.7 73.3l-1.7-2.3 .4-.1 1.7 2.4zM72.4 73.4l-1.7-2.3 .3-.1 1.7 2.3zM72.2 73.5l-1.7-2.4 .2 0 1.7 2.3zM72 73.5l-1.7-2.3 .2-.1 1.7 2.4zM71.9 73.5l-1.7-2.3 .1 0 1.7 2.3zM71.9 73.5l-1.7-2.3 0 0 1.7 2.3zM71.9 73.5l-1.7-2.3 0 0 1.7 2.3z"/>
<path fill="#c78d85" stroke="#c78d85" d="M146.2 58.7l-1.6-2.4 4.5-1.1 1.6 2.4zM141.8 59.8l-1.6-2.4 4.4-1.1 1.6 2.4z"/>
<path fill="#c78f86" stroke="#c78f86" d="M137.6 60.8l-1.7-2.4 4.3-1 1.6 2.4zM133.5 61.8l-1.6-2.4 4-1 1.7 2.4zM129.6 62.7l-1.7-2.4 4-.9 1.6 2.4z"/>
<path fill="#c89187" stroke="#c89187" d="M125.8 63.6l-1.6-2.4 3.7-.9 1.7 2.4zM122.2 64.4l-1.6-2.3 3.6-.9 1.6 2.4zM118.7 65.3l-1.6-2.4 3.5-.8 1.6 2.3zM115.4 66l-1.6-2.3 3.3-.8 1.6 2.4z"/>
<path fill="#c99489" stroke="#c99489" d="M112.2 66.8l-1.6-2.4 3.2-.7 1.6 2.3zM109.2 67.5l-1.6-2.3 3-.8 1.6 2.4zM106.3 68.2l-1.6-2.4 2.9-.6 1.6 2.3zM103.6 68.8l-1.6-2.3 2.7-.7 1.6 2.4zM101 69.4l-1.6-2.3 2.6-.6 1.6 2.3z"/>
<path fill="#c9968a" stroke="#c9968a" d="M98.5 70l-1.6-2.3 2.5-.6 1.6 2.3zM96.2 70.6l-1.6-2.4 2.3-.5 1.6 2.3zM94 71.1l-1.6-2.3 2.2-.6 1.6 2.4zM91.9 71.6l-1.6-2.4 2.1-.4 1.6 2.3zM90 72l-1.7-2.3 2-.5 1.6 2.4z"/>
<path fill="#ca988b" stroke="#ca988b" d="M88.1 72.4l-1.6-2.3 1.8-.4 1.7 2.3zM86.4 72.8l-1.6-2.3 1.7-.4 1.6 2.3zM84.9 73.2l-1.6-2.3 1.5-.4 1.6 2.3zM83.4 73.5l-1.6-2.3 1.5-.3 1.6 2.3zM82.1 73.8l-1.6-2.3 1.3-.3 1.6 2.3zM80.8 74.1l-1.6-2.3 1.3-.3 1.6 2.3zM79.7 74.4l-1.6-2.3 1.1-.3 1.6 2.3zM78.7 74.6l-1.6-2.3 1-.2 1.6 2.3zM77.8 74.8l-1.6-2.3 .9-.2 1.6 2.3z"/>
<path fill="#cb9a8c" stroke="#cb9a8c" d="M77 75l-1.6-2.3 .8-.2 1.6 2.3zM76.3 75.2l-1.6-2.3 .7-.2 1.6 2.3zM75.7 75.3l-1.7-2.3 .7-.1 1.6 2.3zM75.1 75.4l-1.6-2.2 .5-.2 1.7 2.3zM74.7 75.5l-1.6-2.2 .4-.1 1.6 2.2zM74.3 75.6l-1.6-2.3 .4 0 1.6 2.2zM74 75.7l-1.6-2.3 .3-.1 1.6 2.3zM73.8 75.7l-1.6-2.2 .2-.1 1.6 2.3zM73.7 75.8l-1.7-2.3 .2 0 1.6 2.2zM73.6 75.8l-1.7-2.3 .1 0 1.7 2.3zM73.5 75.8l-1.6-2.3 0 0 1.7 2.3zM73.5 75.8l-1.6-2.3 0 0 1.6 2.3z"/>
<path fill="#c48582" stroke="#c48582" d="M147.7 61.1l-1.5-2.4 4.5-1.1 1.6 2.4zM143.3 62.1l-1.5-2.3 4.4-1.1 1.5 2.4zM139.1 63.1l-1.5-2.3 4.2-1 1.5 2.3z"/>
<path fill="#c58883" stroke="#c58883" d="M135 64.1l-1.5-2.3 4.1-1 1.5 2.3zM131.1 65l-1.5-2.3 3.9-.9 1.5 2.3zM127.3 65.9l-1.5-2.3 3.8-.9 1.5 2.3zM123.7 66.8l-1.5-2.4 3.6-.8 1.5 2.3z"/>
<path fill="#c68a84" stroke="#c68a84" d="M120.3 67.6l-1.6-2.3 3.5-.9 1.5 2.4zM116.9 68.4l-1.5-2.4 3.3-.7 1.6 2.3zM113.8 69.1l-1.6-2.3 3.2-.8 1.5 2.4zM110.7 69.8l-1.5-2.3 3-.7 1.6 2.3z"/>
<path fill="#c78d85" stroke="#c78d85" d="M107.9 70.5l-1.6-2.3 2.9-.7 1.5 2.3zM105.1 71.1l-1.5-2.3 2.7-.6 1.6 2.3zM102.5 71.7l-1.5-2.3 2.6-.6 1.5 2.3zM100 72.3l-1.5-2.3 2.5-.6 1.5 2.3z"/>
<path fill="#c78f86" stroke="#c78f86" d="M97.7 72.8l-1.5-2.2 2.3-.6 1.5 2.3zM95.5 73.4l-1.5-2.3 2.2-.5 1.5 2.2zM93.4 73.8l-1.5-2.2 2.1-.5 1.5 2.3zM91.5 74.3l-1.5-2.3 1.9-.4 1.5 2.2zM89.7 74.7l-1.6-2.3 1.9-.4 1.5 2.3zM88 75.1l-1.6-2.3 1.7-.4 1.6 2.3z"/>
<path fill="#c89187" stroke="#c89187" d="M86.4 75.5l-1.5-2.3 1.5-.4 1.6 2.3zM84.9 75.8l-1.5-2.3 1.5-.3 1.5 2.3zM83.6 76.1l-1.5-2.3 1.3-.3 1.5 2.3zM82.4 76.4l-1.6-2.3 1.3-.3 1.5 2.3zM81.3 76.6l-1.6-2.2 1.1-.3 1.6 2.3zM80.2 76.9l-1.5-2.3 1-.2 1.6 2.2zM79.3 77.1l-1.5-2.3 .9-.2 1.5 2.3zM78.5 77.3l-1.5-2.3 .8-.2 1.5 2.3zM77.8 77.4l-1.5-2.2 .7-.2 1.5 2.3zM77.2 77.6l-1.5-2.3 .6-.1 1.5 2.2zM76.7 77.7l-1.6-2.3 .6-.1 1.5 2.3zM76.2 77.8l-1.5-2.3 .4-.1 1.6 2.3z"/>
<path fill="#c99489" stroke="#c99489" d="M75.9 77.9l-1.6-2.3 .4-.1 1.5 2.3zM75.6 77.9l-1.6-2.2 .3-.1 1.6 2.3zM75.3 78l-1.5-2.3 .2 0 1.6 2.2zM75.2 78l-1.5-2.2 .1-.1 1.5 2.3zM75.1 78l-1.5-2.2 .1 0 1.5 2.2zM75.1 78.1l-1.6-2.3 .1 0 1.5 2.2zM75 78.1l-1.5-2.3 0 0 1.6 2.3z"/>
<path fill="#c07e7e" stroke="#c07e7e" d="M149.2 63.4l-1.5-2.3 4.6-1.1 1.4 2.3zM144.8 64.4l-1.5-2.3 4.4-1 1.5 2.3z"/>
<path fill="#c27f7f" stroke="#c27f7f" d="M140.5 65.4l-1.4-2.3 4.2-1 1.5 2.3zM136.5 66.4l-1.5-2.3 4.1-1 1.4 2.3zM132.5 67.3l-1.4-2.3 3.9-.9 1.5 2.3z"/>
<path fill="#c38080" stroke="#c38080" d="M128.8 68.2l-1.5-2.3 3.8-.9 1.4 2.3zM125.2 69l-1.5-2.2 3.6-.9 1.5 2.3zM121.7 69.8l-1.4-2.2 3.4-.8 1.5 2.2z"/>
<path fill="#c48381" stroke="#c48381" d="M118.4 70.6l-1.5-2.2 3.4-.8 1.4 2.2zM115.2 71.4l-1.4-2.3 3.1-.7 1.5 2.2zM112.2 72.1l-1.5-2.3 3.1-.7 1.4 2.3zM109.3 72.7l-1.4-2.2 2.8-.7 1.5 2.3z"/>
<path fill="#c48582" stroke="#c48582" d="M106.6 73.4l-1.5-2.3 2.8-.6 1.4 2.2zM104 74l-1.5-2.3 2.6-.6 1.5 2.3zM101.5 74.5l-1.5-2.2 2.5-.6 1.5 2.3zM99.2 75.1l-1.5-2.3 2.3-.5 1.5 2.2zM97 75.6l-1.5-2.2 2.2-.6 1.5 2.3z"/>
<path fill="#c58883" stroke="#c58883" d="M94.9 76.1l-1.5-2.3 2.1-.4 1.5 2.2zM92.9 76.5l-1.4-2.2 1.9-.5 1.5 2.3zM91.1 76.9l-1.4-2.2 1.8-.4 1.4 2.2zM89.4 77.3l-1.4-2.2 1.7-.4 1.4 2.2zM87.9 77.7l-1.5-2.2 1.6-.4 1.4 2.2zM86.4 78l-1.5-2.2 1.5-.3 1.5 2.2zM85.1 78.3l-1.5-2.2 1.3-.3 1.5 2.2z"/>
<path fill="#c68a84" stroke="#c68a84" d="M83.8 78.6l-1.4-2.2 1.2-.3 1.5 2.2zM82.7 78.8l-1.4-2.2 1.1-.2 1.4 2.2zM81.7 79.1l-1.5-2.2 1.1-.3 1.4 2.2zM80.8 79.3l-1.5-2.2 .9-.2 1.5 2.2zM80 79.5l-1.5-2.2 .8-.2 1.5 2.2zM79.3 79.6l-1.5-2.2 .7-.1 1.5 2.2zM78.6 79.8l-1.4-2.2 .6-.2 1.5 2.2zM78.1 79.9l-1.4-2.2 .5-.1 1.4 2.2zM77.7 80l-1.5-2.2 .5-.1 1.4 2.2zM77.3 80.1l-1.4-2.2 .3-.1 1.5 2.2zM77 80.1l-1.4-2.2 .3 0 1.4 2.2zM76.8 80.2l-1.5-2.2 .3-.1 1.4 2.2zM76.6 80.2l-1.4-2.2 .1 0 1.5 2.2zM76.5 80.2l-1.4-2.2 .1 0 1.4 2.2zM76.5 80.2l-1.4-2.1 0-.1 1.4 2.2zM76.5 80.2l-1.5-2.1 .1 0 1.4 2.1z"/>
<path fill="#bb7a7a" stroke="#bb7a7a" d="M150.5 65.6l-1.3-2.2 4.5-1.1 1.4 2.2zM146.1 66.6l-1.3-2.2 4.4-1 1.3 2.2zM141.9 67.6l-1.4-2.2 4.3-1 1.3 2.2z"/>
<path fill="#bc7b7b" stroke="#bc7b7b" d="M137.8 68.6l-1.3-2.2 4-1 1.4 2.2zM133.9 69.5l-1.4-2.2 4-.9 1.3 2.2zM130.1 70.4l-1.3-2.2 3.7-.9 1.4 2.2z"/>
<path fill="#be7c7c" stroke="#be7c7c" d="M126.5 71.3l-1.3-2.3 3.6-.8 1.3 2.2zM123.1 72.1l-1.4-2.3 3.5-.8 1.3 2.3zM119.7 72.8l-1.3-2.2 3.3-.8 1.4 2.3zM116.6 73.6l-1.4-2.2 3.2-.8 1.3 2.2z"/>
<path fill="#c07e7e" stroke="#c07e7e" d="M113.5 74.3l-1.3-2.2 3-.7 1.4 2.2zM110.7 74.9l-1.4-2.2 2.9-.6 1.3 2.2zM107.9 75.6l-1.3-2.2 2.7-.7 1.4 2.2zM105.3 76.2l-1.3-2.2 2.6-.6 1.3 2.2z"/>
<path fill="#c27f7f" stroke="#c27f7f" d="M102.9 76.7l-1.4-2.2 2.5-.5 1.3 2.2zM100.5 77.3l-1.3-2.2 2.3-.6 1.4 2.2zM98.3 77.8l-1.3-2.2 2.2-.5 1.3 2.2zM96.2 78.2l-1.3-2.1 2.1-.5 1.3 2.2zM94.3 78.7l-1.4-2.2 2-.4 1.3 2.1z"/>
<path fill="#c38080" stroke="#c38080" d="M92.5 79.1l-1.4-2.2 1.8-.4 1.4 2.2zM90.8 79.5l-1.4-2.2 1.7-.4 1.4 2.2zM89.2 79.8l-1.3-2.1 1.5-.4 1.4 2.2zM87.8 80.2l-1.4-2.2 1.5-.3 1.3 2.1zM86.4 80.5l-1.3-2.2 1.3-.3 1.4 2.2zM85.2 80.7l-1.4-2.1 1.3-.3 1.3 2.2zM84.1 81l-1.4-2.2 1.1-.2 1.4 2.1z"/>
<path fill="#c48381" stroke="#c48381" d="M83.1 81.2l-1.4-2.1 1-.3 1.4 2.2zM82.1 81.4l-1.3-2.1 .9-.2 1.4 2.1zM81.3 81.6l-1.3-2.1 .8-.2 1.3 2.1zM80.6 81.8l-1.3-2.2 .7-.1 1.3 2.1zM80 81.9l-1.4-2.1 .7-.2 1.3 2.2zM79.5 82l-1.4-2.1 .5-.1 1.4 2.1zM79 82.1l-1.3-2.1 .4-.1 1.4 2.1zM78.7 82.2l-1.4-2.1 .4-.1 1.3 2.1zM78.4 82.3l-1.4-2.2 .3 0 1.4 2.1zM78.2 82.3l-1.4-2.1 .2-.1 1.4 2.2zM78 82.4l-1.4-2.2 .2 0 1.4 2.1zM77.9 82.4l-1.4-2.2 .1 0 1.4 2.2zM77.9 82.4l-1.4-2.2 0 0 1.4 2.2zM77.9 82.4l-1.4-2.2 0 0 1.4 2.2z"/>
<path fill="#b37575" stroke="#b37575" d="M151.8 67.8l-1.3-2.2 4.6-1.1 1.3 2.2z"/>
<path fill="#b57777" stroke="#b57777" d="M147.4 68.9l-1.3-2.3 4.4-1 1.3 2.2zM143.2 69.9l-1.3-2.3 4.2-1 1.3 2.3zM139.1 70.8l-1.3-2.2 4.1-1 1.3 2.3z"/>
<path fill="#b77878" stroke="#b77878" d="M135.2 71.7l-1.3-2.2 3.9-.9 1.3 2.2zM131.4 72.6l-1.3-2.2 3.8-.9 1.3 2.2zM127.8 73.5l-1.3-2.2 3.6-.9 1.3 2.2zM124.3 74.3l-1.2-2.2 3.4-.8 1.3 2.2z"/>
<path fill="#b97979" stroke="#b97979" d="M121 75l-1.3-2.2 3.4-.7 1.2 2.2zM117.9 75.8l-1.3-2.2 3.1-.8 1.3 2.2zM114.8 76.5l-1.3-2.2 3.1-.7 1.3 2.2z"/>
<path fill="#bb7a7a" stroke="#bb7a7a" d="M111.9 77.1l-1.2-2.2 2.8-.6 1.3 2.2zM109.2 77.7l-1.3-2.1 2.8-.7 1.2 2.2zM106.6 78.3l-1.3-2.1 2.6-.6 1.3 2.1zM104.1 78.9l-1.2-2.2 2.4-.5 1.3 2.1z"/>
<path fill="#bc7b7b" stroke="#bc7b7b" d="M101.8 79.4l-1.3-2.1 2.4-.6 1.2 2.2zM99.6 79.9l-1.3-2.1 2.2-.5 1.3 2.1zM97.5 80.4l-1.3-2.2 2.1-.4 1.3 2.1zM95.6 80.8l-1.3-2.1 1.9-.5 1.3 2.2zM93.8 81.2l-1.3-2.1 1.8-.4 1.3 2.1z"/>
<path fill="#be7c7c" stroke="#be7c7c" d="M92.1 81.6l-1.3-2.1 1.7-.4 1.3 2.1zM90.5 82l-1.3-2.2 1.6-.3 1.3 2.1zM89 82.3l-1.2-2.1 1.4-.4 1.3 2.2zM87.7 82.6l-1.3-2.1 1.4-.3 1.2 2.1zM86.5 82.9l-1.3-2.2 1.2-.2 1.3 2.1zM85.3 83.1l-1.2-2.1 1.1-.3 1.3 2.2zM84.3 83.3l-1.2-2.1 1-.2 1.2 2.1zM83.4 83.5l-1.3-2.1 1-.2 1.2 2.1z"/>
<path fill="#c07e7e" stroke="#c07e7e" d="M82.6 83.7l-1.3-2.1 .8-.2 1.3 2.1zM81.9 83.9l-1.3-2.1 .7-.2 1.3 2.1zM81.3 84l-1.3-2.1 .6-.1 1.3 2.1zM80.8 84.1l-1.3-2.1 .5-.1 1.3 2.1zM80.3 84.2l-1.3-2.1 .5-.1 1.3 2.1zM79.9 84.3l-1.2-2.1 .3-.1 1.3 2.1zM79.7 84.4l-1.3-2.1 .3-.1 1.2 2.1zM79.4 84.4l-1.2-2.1 .2 0 1.3 2.1zM79.3 84.5l-1.3-2.1 .2-.1 1.2 2.1zM79.2 84.5l-1.3-2.1 .1 0 1.3 2.1zM79.1 84.5l-1.2-2.1 0 0 1.3 2.1zM79.1 84.5l-1.2-2.1 0 0 1.2 2.1z"/>
<path fill="#ae7272" stroke="#ae7272" d="M153 70l-1.2-2.2 4.6-1.1 1.2 2.2zM148.6 71l-1.2-2.1 4.4-1.1 1.2 2.2z"/>
<path fill="#af7373" stroke="#af7373" d="M144.4 72l-1.2-2.1 4.2-1 1.2 2.1zM140.3 73l-1.2-2.2 4.1-.9 1.2 2.1zM136.4 73.9l-1.2-2.2 3.9-.9 1.2 2.2zM132.6 74.8l-1.2-2.2 3.8-.9 1.2 2.2z"/>
<path fill="#b17474" stroke="#b17474" d="M129 75.6l-1.2-2.1 3.6-.9 1.2 2.2zM125.5 76.4l-1.2-2.1 3.5-.8 1.2 2.1zM122.2 77.2l-1.2-2.2 3.3-.7 1.2 2.1z"/>
<path fill="#b37575" stroke="#b37575" d="M119.1 77.9l-1.2-2.1 3.1-.8 1.2 2.2zM116 78.6l-1.2-2.1 3.1-.7 1.2 2.1zM113.1 79.2l-1.2-2.1 2.9-.6 1.2 2.1z"/>
<path fill="#b57777" stroke="#b57777" d="M110.4 79.9l-1.2-2.2 2.7-.6 1.2 2.1zM107.8 80.4l-1.2-2.1 2.6-.6 1.2 2.2zM105.3 81l-1.2-2.1 2.5-.6 1.2 2.1zM103 81.5l-1.2-2.1 2.3-.5 1.2 2.1zM100.8 82l-1.2-2.1 2.2-.5 1.2 2.1z"/>
<path fill="#b77878" stroke="#b77878" d="M98.7 82.5l-1.2-2.1 2.1-.5 1.2 2.1zM96.8 82.9l-1.2-2.1 1.9-.4 1.2 2.1zM95 83.3l-1.2-2.1 1.8-.4 1.2 2.1zM93.3 83.7l-1.2-2.1 1.7-.4 1.2 2.1zM91.7 84l-1.2-2 1.6-.4 1.2 2.1z"/>
<path fill="#b97979" stroke="#b97979" d="M90.2 84.4l-1.2-2.1 1.5-.3 1.2 2zM88.9 84.7l-1.2-2.1 1.3-.3 1.2 2.1zM87.7 84.9l-1.2-2 1.2-.3 1.2 2.1zM86.5 85.2l-1.2-2.1 1.2-.2 1.2 2zM85.5 85.4l-1.2-2.1 1-.2 1.2 2.1zM84.6 85.6l-1.2-2.1 .9-.2 1.2 2.1zM83.8 85.8l-1.2-2.1 .8-.2 1.2 2.1zM83.1 85.9l-1.2-2 .7-.2 1.2 2.1z"/>
<path fill="#bb7a7a" stroke="#bb7a7a" d="M82.5 86.1l-1.2-2.1 .6-.1 1.2 2zM82 86.2l-1.2-2.1 .5-.1 1.2 2.1zM81.5 86.3l-1.2-2.1 .5-.1 1.2 2.1zM81.1 86.4l-1.2-2.1 .4-.1 1.2 2.1zM80.9 86.4l-1.2-2 .2-.1 1.2 2.1zM80.6 86.5l-1.2-2.1 .3 0 1.2 2zM80.5 86.5l-1.2-2 .1-.1 1.2 2.1zM80.4 86.5l-1.2-2 .1 0 1.2 2zM80.3 86.5l-1.2-2 .1 0 1.2 2zM80.3 86.5l-1.2-2 0 0 1.2 2z"/>
<path fill="#a66c6c" stroke="#a66c6c" d="M154.1 72.1l-1.1-2.1 4.6-1.1 1.1 2.1z"/>
<path fill="#a86e6e" stroke="#a86e6e" d="M149.7 73.1l-1.1-2.1 4.4-1 1.1 2.1zM145.5 74.1l-1.1-2.1 4.2-1 1.1 2.1zM141.4 75.1l-1.1-2.1 4.1-1 1.1 2.1z"/>
<path fill="#aa6f6f" stroke="#aa6f6f" d="M137.5 76l-1.1-2.1 3.9-.9 1.1 2.1zM133.7 76.9l-1.1-2.1 3.8-.9 1.1 2.1zM130.1 77.7l-1.1-2.1 3.6-.8 1.1 2.1z"/>
<path fill="#ac7070" stroke="#ac7070" d="M126.7 78.5l-1.2-2.1 3.5-.8 1.1 2.1zM123.3 79.3l-1.1-2.1 3.3-.8 1.2 2.1zM120.2 80l-1.1-2.1 3.1-.7 1.1 2.1z"/>
<path fill="#ae7272" stroke="#ae7272" d="M117.1 80.7l-1.1-2.1 3.1-.7 1.1 2.1zM114.3 81.3l-1.2-2.1 2.9-.6 1.1 2.1zM111.5 81.9l-1.1-2 2.7-.7 1.2 2.1zM108.9 82.5l-1.1-2.1 2.6-.5 1.1 2z"/>
<path fill="#af7373" stroke="#af7373" d="M106.4 83.1l-1.1-2.1 2.5-.6 1.1 2.1zM104.1 83.6l-1.1-2.1 2.3-.5 1.1 2.1zM101.9 84.1l-1.1-2.1 2.2-.5 1.1 2.1zM99.8 84.5l-1.1-2 2.1-.5 1.1 2.1z"/>
<path fill="#b17474" stroke="#b17474" d="M97.9 85l-1.1-2.1 1.9-.4 1.1 2zM96.1 85.4l-1.1-2.1 1.8-.4 1.1 2.1zM94.4 85.7l-1.1-2 1.7-.4 1.1 2.1zM92.8 86.1l-1.1-2.1 1.6-.3 1.1 2zM91.4 86.4l-1.2-2 1.5-.4 1.1 2.1z"/>
<path fill="#b37575" stroke="#b37575" d="M90 86.7l-1.1-2 1.3-.3 1.2 2zM88.8 86.9l-1.1-2 1.2-.2 1.1 2zM87.7 87.2l-1.2-2 1.2-.3 1.1 2zM86.6 87.4l-1.1-2 1-.2 1.2 2zM85.7 87.6l-1.1-2 .9-.2 1.1 2zM84.9 87.8l-1.1-2 .8-.2 1.1 2zM84.2 87.9l-1.1-2 .7-.1 1.1 2zM83.6 88.1l-1.1-2 .6-.2 1.1 2zM83.1 88.2l-1.1-2 .5-.1 1.1 2zM82.6 88.3l-1.1-2 .5-.1 1.1 2z"/>
<path fill="#b57777" stroke="#b57777" d="M82.3 88.3l-1.2-1.9 .4-.1 1.1 2zM82 88.4l-1.1-2 .2 0 1.2 1.9zM81.8 88.5l-1.2-2 .3-.1 1.1 2zM81.6 88.5l-1.1-2 .1 0 1.2 2zM81.5 88.5l-1.1-2 .1 0 1.1 2zM81.5 88.5l-1.2-2 .1 0 1.1 2zM81.4 88.5l-1.1-2 0 0 1.2 2z"/>
<path fill="#9f6868" stroke="#9f6868" d="M155.2 74.2l-1.1-2.1 4.6-1.1 1 2.1zM150.8 75.2l-1.1-2.1 4.4-1 1.1 2.1z"/>
<path fill="#a26a6a" stroke="#a26a6a" d="M146.5 76.2l-1-2.1 4.2-1 1.1 2.1zM142.5 77.1l-1.1-2 4.1-1 1 2.1zM138.5 78.1l-1-2.1 3.9-.9 1.1 2z"/>
<path fill="#a46b6b" stroke="#a46b6b" d="M134.8 78.9l-1.1-2 3.8-.9 1 2.1zM131.2 79.8l-1.1-2.1 3.6-.8 1.1 2zM127.7 80.5l-1-2 3.4-.8 1.1 2.1z"/>
<path fill="#a66c6c" stroke="#a66c6c" d="M124.4 81.3l-1.1-2 3.4-.8 1 2zM121.2 82l-1-2 3.1-.7 1.1 2zM118.2 82.7l-1.1-2 3.1-.7 1 2z"/>
<path fill="#a86e6e" stroke="#a86e6e" d="M115.3 83.3l-1-2 2.8-.6 1.1 2zM112.6 84l-1.1-2.1 2.8-.6 1 2zM109.9 84.5l-1-2 2.6-.6 1.1 2.1zM107.5 85.1l-1.1-2 2.5-.6 1 2z"/>
<path fill="#aa6f6f" stroke="#aa6f6f" d="M105.1 85.6l-1-2 2.3-.5 1.1 2zM102.9 86.1l-1-2 2.2-.5 1 2zM100.9 86.5l-1.1-2 2.1-.4 1 2zM98.9 87l-1-2 1.9-.5 1.1 2z"/>
<path fill="#ac7070" stroke="#ac7070" d="M97.1 87.4l-1-2 1.8-.4 1 2zM95.4 87.7l-1-2 1.7-.3 1 2zM93.8 88.1l-1-2 1.6-.4 1 2zM92.4 88.4l-1-2 1.4-.3 1 2zM91 88.7l-1-2 1.4-.3 1 2z"/>
<path fill="#ae7272" stroke="#ae7272" d="M89.8 88.9l-1-2 1.2-.2 1 2zM88.7 89.2l-1-2 1.1-.3 1 2zM87.7 89.4l-1.1-2 1.1-.2 1 2zM86.8 89.6l-1.1-2 .9-.2 1.1 2zM86 89.7l-1.1-1.9 .8-.2 1.1 2zM85.3 89.9l-1.1-2 .7-.1 1.1 1.9zM84.6 90l-1-1.9 .6-.2 1.1 2zM84.1 90.1l-1-1.9 .5-.1 1 1.9zM83.7 90.2l-1.1-1.9 .5-.1 1 1.9zM83.3 90.3l-1-2 .3 0 1.1 1.9zM83 90.4l-1-2 .3-.1 1 2zM82.8 90.4l-1-1.9 .2-.1 1 2zM82.6 90.4l-1-1.9 .2 0 1 1.9zM82.5 90.5l-1-2 .1 0 1 1.9z"/>
<path fill="#af7373" stroke="#af7373" d="M82.5 90.5l-1-2 0 0 1 2zM82.5 90.5l-1.1-2 .1 0 1 2z"/>
<path fill="#996464" stroke="#996464" d="M156.1 76.2l-.9-2 4.5-1.1 1 2zM151.7 77.2l-.9-2 4.4-1 .9 2zM147.5 78.2l-1-2 4.3-1 .9 2z"/>
<path fill="#9b6666" stroke="#9b6666" d="M143.4 79.2l-.9-2.1 4-.9 1 2zM139.5 80.1l-1-2 4-1 .9 2.1zM135.7 80.9l-.9-2 3.7-.8 1 2z"/>
<path fill="#9d6767" stroke="#9d6767" d="M132.1 81.8l-.9-2 3.6-.9 .9 2zM128.6 82.6l-.9-2.1 3.5-.7 .9 2zM125.3 83.3l-.9-2 3.3-.8 .9 2.1z"/>
<path fill="#9f6868" stroke="#9f6868" d="M122.2 84l-1-2 3.2-.7 .9 2zM119.1 84.7l-.9-2 3-.7 1 2zM116.3 85.3l-1-2 2.9-.6 .9 2z"/>
<path fill="#a26a6a" stroke="#a26a6a" d="M113.5 85.9l-.9-1.9 2.7-.7 1 2zM110.9 86.5l-1-2 2.7-.5 .9 1.9zM108.4 87.1l-.9-2 2.4-.6 1 2zM106.1 87.6l-1-2 2.4-.5 .9 2z"/>
<path fill="#a46b6b" stroke="#a46b6b" d="M103.9 88l-1-1.9 2.2-.5 1 2zM101.8 88.5l-.9-2 2-.4 1 1.9zM99.9 88.9l-1-1.9 2-.5 .9 2zM98.1 89.3l-1-1.9 1.8-.4 1 1.9z"/>
<path fill="#a66c6c" stroke="#a66c6c" d="M96.4 89.7l-1-2 1.7-.3 1 1.9zM94.8 90l-1-1.9 1.6-.4 1 2zM93.3 90.3l-.9-1.9 1.4-.3 1 1.9zM92 90.6l-1-1.9 1.4-.3 .9 1.9zM90.8 90.8l-1-1.9 1.2-.2 1 1.9zM89.7 91.1l-1-1.9 1.1-.3 1 1.9z"/>
<path fill="#a86e6e" stroke="#a86e6e" d="M88.6 91.3l-.9-1.9 1-.2 1 1.9zM87.7 91.5l-.9-1.9 .9-.2 .9 1.9zM86.9 91.6l-.9-1.9 .8-.1 .9 1.9zM86.2 91.8l-.9-1.9 .7-.2 .9 1.9zM85.6 91.9l-1-1.9 .7-.1 .9 1.9zM85.1 92l-1-1.9 .5-.1 1 1.9zM84.6 92.1l-.9-1.9 .4-.1 1 1.9zM84.2 92.2l-.9-1.9 .4-.1 .9 1.9zM84 92.3l-1-1.9 .3-.1 .9 1.9zM83.7 92.3l-.9-1.9 .2 0 1 1.9zM83.6 92.3l-1-1.9 .2 0 .9 1.9zM83.5 92.3l-1-1.8 .1-.1 1 1.9zM83.4 92.4l-.9-1.9 0 0 1 1.8zM83.4 92.4l-.9-1.9 0 0 .9 1.9z"/>
<path fill="#905e5e" stroke="#905e5e" d="M157 78.2l-.9-2 4.6-1.1 .9 2z"/>
<path fill="#926060" stroke="#926060" d="M152.6 79.2l-.9-2 4.4-1 .9 2zM148.4 80.2l-.9-2 4.2-1 .9 2zM144.3 81.1l-.9-1.9 4.1-1 .9 2z"/>
<path fill="#956161" stroke="#956161" d="M140.4 82l-.9-1.9 3.9-.9 .9 1.9zM136.6 82.9l-.9-2 3.8-.8 .9 1.9zM133 83.7l-.9-1.9 3.6-.9 .9 2z"/>
<path fill="#976363" stroke="#976363" d="M129.5 84.5l-.9-1.9 3.5-.8 .9 1.9zM126.2 85.3l-.9-2 3.3-.7 .9 1.9zM123 86l-.8-2 3.1-.7 .9 2z"/>
<path fill="#996464" stroke="#996464" d="M120 86.6l-.9-1.9 3.1-.7 .8 2zM117.1 87.3l-.8-2 2.8-.6 .9 1.9zM114.4 87.9l-.9-2 2.8-.6 .8 2z"/>
<path fill="#9b6666" stroke="#9b6666" d="M111.8 88.5l-.9-2 2.6-.6 .9 2zM109.3 89l-.9-1.9 2.5-.6 .9 2zM107 89.5l-.9-1.9 2.3-.5 .9 1.9zM104.8 90l-.9-2 2.2-.4 .9 1.9z"/>
<path fill="#9d6767" stroke="#9d6767" d="M102.7 90.4l-.9-1.9 2.1-.5 .9 2zM100.8 90.8l-.9-1.9 1.9-.4 .9 1.9zM98.9 91.2l-.8-1.9 1.8-.4 .9 1.9zM97.3 91.6l-.9-1.9 1.7-.4 .8 1.9z"/>
<path fill="#9f6868" stroke="#9f6868" d="M95.7 91.9l-.9-1.9 1.6-.3 .9 1.9zM94.2 92.2l-.9-1.9 1.5-.3 .9 1.9zM92.9 92.5l-.9-1.9 1.3-.3 .9 1.9zM91.6 92.7l-.8-1.9 1.2-.2 .9 1.9zM90.5 92.9l-.8-1.8 1.1-.3 .8 1.9z"/>
<path fill="#a26a6a" stroke="#a26a6a" d="M89.5 93.2l-.9-1.9 1.1-.2 .8 1.8zM88.6 93.3l-.9-1.8 .9-.2 .9 1.9zM87.8 93.5l-.9-1.9 .8-.1 .9 1.8zM87.1 93.6l-.9-1.8 .7-.2 .9 1.9zM86.5 93.8l-.9-1.9 .6-.1 .9 1.8zM85.9 93.9l-.8-1.9 .5-.1 .9 1.9zM85.5 94l-.9-1.9 .5-.1 .8 1.9zM85.1 94l-.9-1.8 .4-.1 .9 1.9zM84.8 94.1l-.8-1.8 .2-.1 .9 1.8zM84.6 94.1l-.9-1.8 .3 0 .8 1.8zM84.5 94.2l-.9-1.9 .1 0 .9 1.8zM84.4 94.2l-.9-1.9 .1 0 .9 1.9zM84.3 94.2l-.9-1.8 .1-.1 .9 1.9zM84.3 94.2l-.9-1.8 0 0 .9 1.8z"/>
<path fill="#895a5a" stroke="#895a5a" d="M157.8 80.1l-.8-1.9 4.6-1.1 .8 1.9zM153.4 81.1l-.8-1.9 4.4-1 .8 1.9z"/>
<path fill="#8b5b5b" stroke="#8b5b5b" d="M149.2 82.1l-.8-1.9 4.2-1 .8 1.9zM145.1 83l-.8-1.9 4.1-.9 .8 1.9zM141.2 83.9l-.8-1.9 3.9-.9 .8 1.9z"/>
<path fill="#8e5d5d" stroke="#8e5d5d" d="M137.4 84.8l-.8-1.9 3.8-.9 .8 1.9zM133.8 85.6l-.8-1.9 3.6-.8 .8 1.9zM130.3 86.4l-.8-1.9 3.5-.8 .8 1.9z"/>
<path fill="#905e5e" stroke="#905e5e" d="M127 87.2l-.8-1.9 3.3-.8 .8 1.9zM123.8 87.9l-.8-1.9 3.2-.7 .8 1.9zM120.8 88.5l-.8-1.9 3-.6 .8 1.9z"/>
<path fill="#926060" stroke="#926060" d="M117.9 89.2l-.8-1.9 2.9-.7 .8 1.9zM115.2 89.8l-.8-1.9 2.7-.6 .8 1.9zM112.6 90.3l-.8-1.8 2.6-.6 .8 1.9z"/>
<path fill="#956161" stroke="#956161" d="M110.1 90.9l-.8-1.9 2.5-.5 .8 1.8zM107.8 91.4l-.8-1.9 2.3-.5 .8 1.9zM105.6 91.8l-.8-1.8 2.2-.5 .8 1.9z"/>
<path fill="#976363" stroke="#976363" d="M103.5 92.3l-.8-1.9 2.1-.4 .8 1.8zM101.6 92.7l-.8-1.9 1.9-.4 .8 1.9zM99.7 93.1l-.8-1.9 1.9-.4 .8 1.9zM98 93.4l-.7-1.8 1.6-.4 .8 1.9zM96.5 93.7l-.8-1.8 1.6-.3 .7 1.8z"/>
<path fill="#996464" stroke="#996464" d="M95 94l-.8-1.8 1.5-.3 .8 1.8zM93.7 94.3l-.8-1.8 1.3-.3 .8 1.8zM92.4 94.5l-.8-1.8 1.3-.2 .8 1.8zM91.3 94.8l-.8-1.9 1.1-.2 .8 1.8zM90.3 95l-.8-1.8 1-.3 .8 1.9z"/>
<path fill="#9b6666" stroke="#9b6666" d="M89.4 95.2l-.8-1.9 .9-.1 .8 1.8zM88.6 95.3l-.8-1.8 .8-.2 .8 1.9zM87.9 95.4l-.8-1.8 .7-.1 .8 1.8zM87.3 95.6l-.8-1.8 .6-.2 .8 1.8zM86.7 95.7l-.8-1.8 .6-.1 .8 1.8zM86.3 95.8l-.8-1.8 .4-.1 .8 1.8zM85.9 95.8l-.8-1.8 .4 0 .8 1.8zM85.6 95.9l-.8-1.8 .3-.1 .8 1.8zM85.4 95.9l-.8-1.8 .2 0 .8 1.8zM85.3 96l-.8-1.8 .1-.1 .8 1.8zM85.2 96l-.8-1.8 .1 0 .8 1.8zM85.1 96l-.8-1.8 .1 0 .8 1.8zM85.1 96l-.8-1.8 0 0 .8 1.8z"/>
<path fill="#815555" stroke="#815555" d="M158.5 81.9l-.7-1.8 4.6-1.1 .7 1.8zM154.1 82.9l-.7-1.8 4.4-1 .7 1.8z"/>
<path fill="#845656" stroke="#845656" d="M149.9 83.9l-.7-1.8 4.2-1 .7 1.8zM145.8 84.9l-.7-1.9 4.1-.9 .7 1.8zM141.9 85.8l-.7-1.9 3.9-.9 .7 1.9z"/>
<path fill="#865858" stroke="#865858" d="M138.1 86.7l-.7-1.9 3.8-.9 .7 1.9zM134.5 87.5l-.7-1.9 3.6-.8 .7 1.9zM131 88.3l-.7-1.9 3.5-.8 .7 1.9z"/>
<path fill="#895a5a" stroke="#895a5a" d="M127.7 89l-.7-1.8 3.3-.8 .7 1.9zM124.6 89.7l-.8-1.8 3.2-.7 .7 1.8zM121.5 90.4l-.7-1.9 3-.6 .8 1.8z"/>
<path fill="#8b5b5b" stroke="#8b5b5b" d="M118.7 91l-.8-1.8 2.9-.7 .7 1.9zM115.9 91.6l-.7-1.8 2.7-.6 .8 1.8zM113.3 92.2l-.7-1.9 2.6-.5 .7 1.8zM110.8 92.7l-.7-1.8 2.5-.6 .7 1.9z"/>
<path fill="#8e5d5d" stroke="#8e5d5d" d="M108.5 93.2l-.7-1.8 2.3-.5 .7 1.8zM106.3 93.7l-.7-1.9 2.2-.4 .7 1.8zM104.2 94.1l-.7-1.8 2.1-.5 .7 1.9z"/>
<path fill="#905e5e" stroke="#905e5e" d="M102.3 94.5l-.7-1.8 1.9-.4 .7 1.8zM100.5 94.9l-.8-1.8 1.9-.4 .7 1.8zM98.8 95.2l-.8-1.8 1.7-.3 .8 1.8zM97.2 95.5l-.7-1.8 1.5-.3 .8 1.8z"/>
<path fill="#926060" stroke="#926060" d="M95.7 95.8l-.7-1.8 1.5-.3 .7 1.8zM94.4 96.1l-.7-1.8 1.3-.3 .7 1.8zM93.2 96.3l-.8-1.8 1.3-.2 .7 1.8zM92.1 96.5l-.8-1.7 1.1-.3 .8 1.8zM91 96.7l-.7-1.7 1-.2 .8 1.7z"/>
<path fill="#956161" stroke="#956161" d="M90.1 96.9l-.7-1.7 .9-.2 .7 1.7zM89.3 97.1l-.7-1.8 .8-.1 .7 1.7zM88.6 97.2l-.7-1.8 .7-.1 .7 1.8zM88 97.3l-.7-1.7 .6-.2 .7 1.8zM87.5 97.4l-.8-1.7 .6-.1 .7 1.7zM87 97.5l-.7-1.7 .4-.1 .8 1.7zM86.6 97.6l-.7-1.8 .4 0 .7 1.7zM86.4 97.6l-.8-1.7 .3-.1 .7 1.8zM86.1 97.7l-.7-1.8 .2 0 .8 1.7zM86 97.7l-.7-1.7 .1-.1 .7 1.8zM85.9 97.7l-.7-1.7 .1 0 .7 1.7zM85.8 97.7l-.7-1.7 .1 0 .7 1.7zM85.8 97.7l-.7-1.7 0 0 .7 1.7z"/>
<path fill="#794f4f" stroke="#794f4f" d="M159.2 83.7l-.7-1.8 4.6-1.1 .6 1.8zM154.8 84.7l-.7-1.8 4.4-1 .7 1.8zM150.5 85.7l-.6-1.8 4.2-1 .7 1.8z"/>
<path fill="#7c5151" stroke="#7c5151" d="M146.5 86.7l-.7-1.8 4.1-1 .6 1.8zM142.5 87.6l-.6-1.8 3.9-.9 .7 1.8zM138.8 88.4l-.7-1.7 3.8-.9 .6 1.8z"/>
<path fill="#7f5353" stroke="#7f5353" d="M135.2 89.3l-.7-1.8 3.6-.8 .7 1.7zM131.7 90.1l-.7-1.8 3.5-.8 .7 1.8zM128.4 90.8l-.7-1.8 3.3-.7 .7 1.8z"/>
<path fill="#815555" stroke="#815555" d="M125.2 91.5l-.6-1.8 3.1-.7 .7 1.8zM122.2 92.2l-.7-1.8 3.1-.7 .6 1.8zM119.3 92.8l-.6-1.8 2.8-.6 .7 1.8z"/>
<path fill="#845656" stroke="#845656" d="M116.6 93.4l-.7-1.8 2.8-.6 .6 1.8zM114 94l-.7-1.8 2.6-.6 .7 1.8zM111.5 94.5l-.7-1.8 2.5-.5 .7 1.8z"/>
<path fill="#865858" stroke="#865858" d="M109.2 95l-.7-1.8 2.3-.5 .7 1.8zM106.9 95.4l-.6-1.7 2.2-.5 .7 1.8zM104.9 95.9l-.7-1.8 2.1-.4 .6 1.7zM102.9 96.3l-.6-1.8 1.9-.4 .7 1.8z"/>
<path fill="#895a5a" stroke="#895a5a" d="M101.1 96.6l-.6-1.7 1.8-.4 .6 1.8zM99.4 97l-.6-1.8 1.7-.3 .6 1.7zM97.8 97.3l-.6-1.8 1.6-.3 .6 1.8z"/>
<path fill="#8b5b5b" stroke="#8b5b5b" d="M96.4 97.6l-.7-1.8 1.5-.3 .6 1.8zM95 97.8l-.6-1.7 1.3-.3 .7 1.8zM93.8 98l-.6-1.7 1.2-.2 .6 1.7zM92.7 98.3l-.6-1.8 1.1-.2 .6 1.7zM91.7 98.4l-.7-1.7 1.1-.2 .6 1.8z"/>
<path fill="#8e5d5d" stroke="#8e5d5d" d="M90.8 98.6l-.7-1.7 .9-.2 .7 1.7zM90 98.8l-.7-1.7 .8-.2 .7 1.7zM89.3 98.9l-.7-1.7 .7-.1 .7 1.7zM88.6 99l-.6-1.7 .6-.1 .7 1.7zM88.1 99.1l-.6-1.7 .5-.1 .6 1.7zM87.7 99.2l-.7-1.7 .5-.1 .6 1.7zM87.3 99.2l-.7-1.6 .4-.1 .7 1.7zM87 99.3l-.6-1.7 .2 0 .7 1.6zM86.8 99.3l-.7-1.6 .3-.1 .6 1.7zM86.6 99.4l-.6-1.7 .1 0 .7 1.6zM86.5 99.4l-.6-1.7 .1 0 .6 1.7zM86.5 99.4l-.7-1.7 .1 0 .6 1.7zM86.5 99.4l-.7-1.7 0 0 .7 1.7z"/>
<path fill="#714a4a" stroke="#714a4a" d="M159.7 85.3l-.5-1.6 4.5-1.1 .6 1.6zM155.4 86.4l-.6-1.7 4.4-1 .5 1.6zM151.1 87.4l-.6-1.7 4.3-1 .6 1.7z"/>
<path fill="#744c4c" stroke="#744c4c" d="M147 88.4l-.5-1.7 4-1 .6 1.7zM143.1 89.3l-.6-1.7 4-.9 .5 1.7zM139.4 90.2l-.6-1.8 3.7-.8 .6 1.7z"/>
<path fill="#774e4e" stroke="#774e4e" d="M135.7 91l-.5-1.7 3.6-.9 .6 1.8zM132.3 91.8l-.6-1.7 3.5-.8 .5 1.7zM129 92.5l-.6-1.7 3.3-.7 .6 1.7z"/>
<path fill="#794f4f" stroke="#794f4f" d="M125.8 93.2l-.6-1.7 3.2-.7 .6 1.7zM122.8 93.9l-.6-1.7 3-.7 .6 1.7zM119.9 94.5l-.6-1.7 2.9-.6 .6 1.7z"/>
<path fill="#7c5151" stroke="#7c5151" d="M117.1 95.1l-.5-1.7 2.7-.6 .6 1.7zM114.5 95.7l-.5-1.7 2.6-.6 .5 1.7zM112.1 96.2l-.6-1.7 2.5-.5 .5 1.7zM109.7 96.7l-.5-1.7 2.3-.5 .6 1.7z"/>
<path fill="#7f5353" stroke="#7f5353" d="M107.5 97.2l-.6-1.8 2.3-.4 .5 1.7zM105.5 97.6l-.6-1.7 2-.5 .6 1.8zM103.5 98l-.6-1.7 2-.4 .6 1.7z"/>
<path fill="#815555" stroke="#815555" d="M101.7 98.3l-.6-1.7 1.8-.3 .6 1.7zM100 98.7l-.6-1.7 1.7-.4 .6 1.7zM98.4 99l-.6-1.7 1.6-.3 .6 1.7zM97 99.2l-.6-1.6 1.4-.3 .6 1.7z"/>
<path fill="#845656" stroke="#845656" d="M95.6 99.5l-.6-1.7 1.4-.2 .6 1.6zM94.4 99.7l-.6-1.7 1.2-.2 .6 1.7zM93.3 99.9l-.6-1.6 1.1-.3 .6 1.7zM92.3 100.1l-.6-1.7 1-.1 .6 1.6z"/>
<path fill="#865858" stroke="#865858" d="M91.4 100.3l-.6-1.7 .9-.2 .6 1.7zM90.5 100.4l-.5-1.6 .8-.2 .6 1.7zM89.8 100.5l-.5-1.6 .7-.1 .5 1.6zM89.2 100.6l-.6-1.6 .7-.1 .5 1.6zM88.7 100.7l-.6-1.6 .5-.1 .6 1.6zM88.2 100.8l-.5-1.6 .4-.1 .6 1.6zM87.9 100.9l-.6-1.7 .4 0 .5 1.6zM87.6 100.9l-.6-1.6 .3-.1 .6 1.7zM87.4 101l-.6-1.7 .2 0 .6 1.6zM87.2 101l-.6-1.6 .2-.1 .6 1.7zM87.1 101l-.6-1.6 .1 0 .6 1.6z"/>
<path fill="#895a5a" stroke="#895a5a" d="M87.1 101l-.6-1.6 0 0 .6 1.6zM87.1 101l-.6-1.6 0 0 .6 1.6z"/>
<path fill="#674444" stroke="#674444" d="M160.2 86.9l-.5-1.6 4.6-1.1 .5 1.6zM155.9 88l-.5-1.6 4.3-1.1 .5 1.6zM151.6 89l-.5-1.6 4.3-1 .5 1.6z"/>
<path fill="#6b4646" stroke="#6b4646" d="M147.5 90l-.5-1.6 4.1-1 .5 1.6zM143.6 90.9l-.5-1.6 3.9-.9 .5 1.6zM139.9 91.8l-.5-1.6 3.7-.9 .5 1.6z"/>
<path fill="#6e4848" stroke="#6e4848" d="M136.2 92.6l-.5-1.6 3.7-.8 .5 1.6zM132.8 93.4l-.5-1.6 3.4-.8 .5 1.6zM129.5 94.2l-.5-1.7 3.3-.7 .5 1.6z"/>
<path fill="#714a4a" stroke="#714a4a" d="M126.3 94.9l-.5-1.7 3.2-.7 .5 1.7zM123.3 95.6l-.5-1.7 3-.7 .5 1.7zM120.4 96.2l-.5-1.7 2.9-.6 .5 1.7zM117.6 96.8l-.5-1.7 2.8-.6 .5 1.7z"/>
<path fill="#744c4c" stroke="#744c4c" d="M115 97.4l-.5-1.7 2.6-.6 .5 1.7zM112.6 97.9l-.5-1.7 2.4-.5 .5 1.7zM110.2 98.4l-.5-1.7 2.4-.5 .5 1.7z"/>
<path fill="#774e4e" stroke="#774e4e" d="M108 98.8l-.5-1.6 2.2-.5 .5 1.7zM106 99.2l-.5-1.6 2-.4 .5 1.6zM104 99.6l-.5-1.6 2-.4 .5 1.6z"/>
<path fill="#794f4f" stroke="#794f4f" d="M102.2 100l-.5-1.7 1.8-.3 .5 1.6zM100.5 100.3l-.5-1.6 1.7-.4 .5 1.7zM98.9 100.6l-.5-1.6 1.6-.3 .5 1.6zM97.5 100.9l-.5-1.7 1.4-.2 .5 1.6z"/>
<path fill="#7c5151" stroke="#7c5151" d="M96.1 101.1l-.5-1.6 1.4-.3 .5 1.7zM94.9 101.3l-.5-1.6 1.2-.2 .5 1.6zM93.8 101.5l-.5-1.6 1.1-.2 .5 1.6zM92.8 101.7l-.5-1.6 1-.2 .5 1.6z"/>
<path fill="#7f5353" stroke="#7f5353" d="M91.9 101.9l-.5-1.6 .9-.2 .5 1.6zM91 102l-.5-1.6 .9-.1 .5 1.6zM90.3 102.1l-.5-1.6 .7-.1 .5 1.6zM89.7 102.2l-.5-1.6 .6-.1 .5 1.6zM89.2 102.3l-.5-1.6 .5-.1 .5 1.6zM88.7 102.4l-.5-1.6 .5-.1 .5 1.6zM88.4 102.4l-.5-1.5 .3-.1 .5 1.6z"/>
<path fill="#815555" stroke="#815555" d="M88.1 102.5l-.5-1.6 .3 0 .5 1.5zM87.9 102.5l-.5-1.5 .2-.1 .5 1.6zM87.7 102.5l-.5-1.5 .2 0 .5 1.5zM87.6 102.5l-.5-1.5 .1 0 .5 1.5zM87.6 102.5l-.5-1.5 0 0 .5 1.5zM87.6 102.5l-.5-1.5 0 0 .5 1.5z"/>
<path fill="#5d3d3d" stroke="#5d3d3d" d="M160.7 88.3l-.5-1.4 4.6-1.1 .4 1.4zM156.3 89.4l-.4-1.4 4.3-1.1 .5 1.4z"/>
<path fill="#613f3f" stroke="#613f3f" d="M152.1 90.4l-.5-1.4 4.3-1 .4 1.4zM148 91.4l-.5-1.4 4.1-1 .5 1.4zM144.1 92.4l-.5-1.5 3.9-.9 .5 1.4zM140.3 93.3l-.4-1.5 3.7-.9 .5 1.5z"/>
<path fill="#644242" stroke="#644242" d="M136.7 94.1l-.5-1.5 3.7-.8 .4 1.5zM133.2 94.9l-.4-1.5 3.4-.8 .5 1.5zM129.9 95.7l-.4-1.5 3.3-.8 .4 1.5z"/>
<path fill="#674444" stroke="#674444" d="M126.7 96.4l-.4-1.5 3.2-.7 .4 1.5zM123.7 97.1l-.4-1.5 3-.7 .4 1.5zM120.8 97.8l-.4-1.6 2.9-.6 .4 1.5z"/>
<path fill="#6b4646" stroke="#6b4646" d="M118.1 98.4l-.5-1.6 2.8-.6 .4 1.6zM115.5 98.9l-.5-1.5 2.6-.6 .5 1.6zM113 99.5l-.4-1.6 2.4-.5 .5 1.5zM110.7 99.9l-.5-1.5 2.4-.5 .4 1.6z"/>
<path fill="#6e4848" stroke="#6e4848" d="M108.5 100.4l-.5-1.6 2.2-.4 .5 1.5zM106.4 100.8l-.4-1.6 2-.4 .5 1.6zM104.4 101.2l-.4-1.6 2-.4 .4 1.6z"/>
<path fill="#714a4a" stroke="#714a4a" d="M102.6 101.5l-.4-1.5 1.8-.4 .4 1.6zM100.9 101.9l-.4-1.6 1.7-.3 .4 1.5zM99.4 102.2l-.5-1.6 1.6-.3 .4 1.6z"/>
<path fill="#744c4c" stroke="#744c4c" d="M97.9 102.4l-.4-1.5 1.4-.3 .5 1.6zM96.6 102.7l-.5-1.6 1.4-.2 .4 1.5zM95.3 102.9l-.4-1.6 1.2-.2 .5 1.6zM94.2 103.1l-.4-1.6 1.1-.2 .4 1.6z"/>
<path fill="#774e4e" stroke="#774e4e" d="M93.2 103.2l-.4-1.5 1-.2 .4 1.6zM92.3 103.4l-.4-1.5 .9-.2 .4 1.5zM91.5 103.5l-.5-1.5 .9-.1 .4 1.5zM90.8 103.6l-.5-1.5 .7-.1 .5 1.5zM90.1 103.7l-.4-1.5 .6-.1 .5 1.5zM89.6 103.8l-.4-1.5 .5-.1 .4 1.5z"/>
<path fill="#794f4f" stroke="#794f4f" d="M89.2 103.9l-.5-1.5 .5-.1 .4 1.5zM88.8 103.9l-.4-1.5 .3 0 .5 1.5zM88.5 103.9l-.4-1.4 .3-.1 .4 1.5zM88.3 104l-.4-1.5 .2 0 .4 1.4zM88.1 104l-.4-1.5 .2 0 .4 1.5zM88.1 104l-.5-1.5 .1 0 .4 1.5zM88 104l-.4-1.5 0 0 .5 1.5zM88 104l-.4-1.5 0 0 .4 1.5z"/>
<path fill="#563838" stroke="#563838" d="M161 89.6l-.3-1.3 4.5-1.1 .4 1.3zM156.7 90.7l-.4-1.3 4.4-1.1 .3 1.3zM152.4 91.8l-.3-1.4 4.2-1 .4 1.3zM148.3 92.8l-.3-1.4 4.1-1 .3 1.4z"/>
<path fill="#5a3b3b" stroke="#5a3b3b" d="M144.4 93.7l-.3-1.3 3.9-1 .3 1.4zM140.7 94.6l-.4-1.3 3.8-.9 .3 1.3zM137 95.5l-.3-1.4 3.6-.8 .4 1.3zM133.6 96.3l-.4-1.4 3.5-.8 .3 1.4z"/>
<path fill="#5d3d3d" stroke="#5d3d3d" d="M130.3 97.1l-.4-1.4 3.3-.8 .4 1.4zM127.1 97.9l-.4-1.5 3.2-.7 .4 1.4zM124.1 98.6l-.4-1.5 3-.7 .4 1.5zM121.2 99.2l-.4-1.4 2.9-.7 .4 1.5z"/>
<path fill="#613f3f" stroke="#613f3f" d="M118.4 99.8l-.3-1.4 2.7-.6 .4 1.4zM115.8 100.4l-.3-1.5 2.6-.5 .3 1.4zM113.4 100.9l-.4-1.4 2.5-.6 .3 1.5z"/>
<path fill="#644242" stroke="#644242" d="M111 101.4l-.3-1.5 2.3-.4 .4 1.4zM108.8 101.9l-.3-1.5 2.2-.5 .3 1.5zM106.8 102.3l-.4-1.5 2.1-.4 .3 1.5z"/>
<path fill="#674444" stroke="#674444" d="M104.8 102.7l-.4-1.5 2-.4 .4 1.5zM103 103l-.4-1.5 1.8-.3 .4 1.5zM101.3 103.4l-.4-1.5 1.7-.4 .4 1.5zM99.7 103.6l-.3-1.4 1.5-.3 .4 1.5z"/>
<path fill="#6b4646" stroke="#6b4646" d="M98.3 103.9l-.4-1.5 1.5-.2 .3 1.4zM96.9 104.1l-.3-1.4 1.3-.3 .4 1.5zM95.7 104.3l-.4-1.4 1.3-.2 .3 1.4z"/>
<path fill="#6e4848" stroke="#6e4848" d="M94.6 104.5l-.4-1.4 1.1-.2 .4 1.4zM93.6 104.7l-.4-1.5 1-.1 .4 1.4zM92.7 104.8l-.4-1.4 .9-.2 .4 1.5zM91.8 104.9l-.3-1.4 .8-.1 .4 1.4zM91.1 105l-.3-1.4 .7-.1 .3 1.4z"/>
<path fill="#714a4a" stroke="#714a4a" d="M90.5 105.1l-.4-1.4 .7-.1 .3 1.4zM90 105.2l-.4-1.4 .5-.1 .4 1.4zM89.5 105.3l-.3-1.4 .4-.1 .4 1.4zM89.2 105.3l-.4-1.4 .4 0 .3 1.4zM88.9 105.3l-.4-1.4 .3 0 .4 1.4zM88.7 105.4l-.4-1.4 .2-.1 .4 1.4zM88.5 105.4l-.4-1.4 .2 0 .4 1.4zM88.4 105.4l-.3-1.4 0 0 .4 1.4zM88.4 105.4l-.4-1.4 .1 0 .3 1.4zM88.4 105.4l-.4-1.4 0 0 .4 1.4z"/>
<path fill="#493030" stroke="#493030" d="M161.3 90.8l-.3-1.2 4.6-1.1 .3 1.1z"/>
<path fill="#4e3333" stroke="#4e3333" d="M157 91.9l-.3-1.2 4.3-1.1 .3 1.2zM152.7 92.9l-.3-1.1 4.3-1.1 .3 1.2zM148.6 94l-.3-1.2 4.1-1 .3 1.1zM144.7 94.9l-.3-1.2 3.9-.9 .3 1.2zM141 95.9l-.3-1.3 3.7-.9 .3 1.2z"/>
<path fill="#523636" stroke="#523636" d="M137.3 96.7l-.3-1.2 3.7-.9 .3 1.3zM133.9 97.6l-.3-1.3 3.4-.8 .3 1.2zM130.6 98.4l-.3-1.3 3.3-.8 .3 1.3zM127.4 99.1l-.3-1.2 3.2-.8 .3 1.3z"/>
<path fill="#563838" stroke="#563838" d="M124.4 99.8l-.3-1.2 3-.7 .3 1.2zM121.5 100.5l-.3-1.3 2.9-.6 .3 1.2zM118.7 101.1l-.3-1.3 2.8-.6 .3 1.3zM116.1 101.7l-.3-1.3 2.6-.6 .3 1.3z"/>
<path fill="#5a3b3b" stroke="#5a3b3b" d="M113.7 102.3l-.3-1.4 2.4-.5 .3 1.3zM111.3 102.8l-.3-1.4 2.4-.5 .3 1.4zM109.1 103.2l-.3-1.3 2.2-.5 .3 1.4z"/>
<path fill="#5d3d3d" stroke="#5d3d3d" d="M107.1 103.7l-.3-1.4 2-.4 .3 1.3zM105.1 104.1l-.3-1.4 2-.4 .3 1.4zM103.3 104.4l-.3-1.4 1.8-.3 .3 1.4zM101.6 104.7l-.3-1.3 1.7-.4 .3 1.4z"/>
<path fill="#613f3f" stroke="#613f3f" d="M100 105l-.3-1.4 1.6-.2 .3 1.3zM98.6 105.3l-.3-1.4 1.4-.3 .3 1.4zM97.2 105.5l-.3-1.4 1.4-.2 .3 1.4z"/>
<path fill="#644242" stroke="#644242" d="M96 105.7l-.3-1.4 1.2-.2 .3 1.4zM94.9 105.9l-.3-1.4 1.1-.2 .3 1.4zM93.9 106l-.3-1.3 1-.2 .3 1.4zM93 106.2l-.3-1.4 .9-.1 .3 1.3z"/>
<path fill="#674444" stroke="#674444" d="M92.1 106.3l-.3-1.4 .9-.1 .3 1.4zM91.4 106.4l-.3-1.4 .7-.1 .3 1.4zM90.8 106.4l-.3-1.3 .6-.1 .3 1.4zM90.3 106.5l-.3-1.3 .5-.1 .3 1.3zM89.8 106.6l-.3-1.3 .5-.1 .3 1.3zM89.5 106.6l-.3-1.3 .3 0 .3 1.3z"/>
<path fill="#6b4646" stroke="#6b4646" d="M89.2 106.6l-.3-1.3 .3 0 .3 1.3zM89 106.7l-.3-1.3 .2-.1 .3 1.3zM88.8 106.7l-.3-1.3 .2 0 .3 1.3zM88.7 106.7l-.3-1.3 .1 0 .3 1.3zM88.7 106.7l-.3-1.3 0 0 .3 1.3zM88.7 106.7l-.3-1.3 0 0 .3 1.3z"/>
<path fill="#3f2929" stroke="#3f2929" d="M161.6 91.7l-.3-.9 4.6-1.2 .2 .9z"/>
<path fill="#442d2d" stroke="#442d2d" d="M157.2 92.8l-.2-.9 4.3-1.1 .3 .9zM153 93.9l-.3-1 4.3-1 .2 .9zM148.9 94.9l-.3-.9 4.1-1.1 .3 1zM145 95.9l-.3-1 3.9-.9 .3 .9zM141.2 96.9l-.2-1 3.7-1 .3 1zM137.6 97.8l-.3-1.1 3.7-.8 .2 1z"/>
<path fill="#493030" stroke="#493030" d="M134.1 98.6l-.2-1 3.4-.9 .3 1.1zM130.8 99.4l-.2-1 3.3-.8 .2 1zM127.6 100.2l-.2-1.1 3.2-.7 .2 1zM124.6 100.9l-.2-1.1 3-.7 .2 1.1z"/>
<path fill="#4e3333" stroke="#4e3333" d="M121.7 101.6l-.2-1.1 2.9-.7 .2 1.1zM119 102.3l-.3-1.2 2.8-.6 .2 1.1zM116.4 102.9l-.3-1.2 2.6-.6 .3 1.2zM113.9 103.4l-.2-1.1 2.4-.6 .3 1.2z"/>
<path fill="#523636" stroke="#523636" d="M111.6 103.9l-.3-1.1 2.4-.5 .2 1.1zM109.4 104.4l-.3-1.2 2.2-.4 .3 1.1zM107.3 104.9l-.2-1.2 2-.5 .3 1.2zM105.3 105.3l-.2-1.2 2-.4 .2 1.2z"/>
<path fill="#563838" stroke="#563838" d="M103.5 105.6l-.2-1.2 1.8-.3 .2 1.2zM101.8 106l-.2-1.3 1.7-.3 .2 1.2zM100.3 106.3l-.3-1.3 1.6-.3 .2 1.3zM98.8 106.5l-.2-1.2 1.4-.3 .3 1.3z"/>
<path fill="#5a3b3b" stroke="#5a3b3b" d="M97.5 106.7l-.3-1.2 1.4-.2 .2 1.2zM96.2 106.9l-.2-1.2 1.2-.2 .3 1.2zM95.1 107.1l-.2-1.2 1.1-.2 .2 1.2z"/>
<path fill="#5d3d3d" stroke="#5d3d3d" d="M94.1 107.3l-.2-1.3 1-.1 .2 1.2zM93.2 107.4l-.2-1.2 .9-.2 .2 1.3zM92.4 107.5l-.3-1.2 .9-.1 .2 1.2zM91.7 107.6l-.3-1.2 .7-.1 .3 1.2z"/>
<path fill="#613f3f" stroke="#613f3f" d="M91 107.6l-.2-1.2 .6 0 .3 1.2zM90.5 107.7l-.2-1.2 .5-.1 .2 1.2zM90.1 107.7l-.3-1.1 .5-.1 .2 1.2zM89.7 107.8l-.2-1.2 .3 0 .3 1.1zM89.4 107.8l-.2-1.2 .3 0 .2 1.2zM89.2 107.8l-.2-1.1 .2-.1 .2 1.2zM89 107.8l-.2-1.1 .2 0 .2 1.1zM89 107.8l-.3-1.1 .1 0 .2 1.1zM88.9 107.8l-.2-1.1 0 0 .3 1.1zM88.9 107.8l-.2-1.1 0 0 .2 1.1z"/>
<path fill="#3a2626" stroke="#3a2626" d="M161.8 92.4l-.2-.7 4.5-1.2 .2 .7zM157.4 93.6l-.2-.8 4.4-1.1 .2 .7zM153.1 94.7l-.1-.8 4.2-1.1 .2 .8zM149.1 95.7l-.2-.8 4.1-1 .1 .8zM145.1 96.7l-.1-.8 3.9-1 .2 .8z"/>
<path fill="#3f2929" stroke="#3f2929" d="M141.4 97.7l-.2-.8 3.8-1 .1 .8zM137.7 98.6l-.1-.8 3.6-.9 .2 .8zM134.3 99.5l-.2-.9 3.5-.8 .1 .8zM131 100.3l-.2-.9 3.3-.8 .2 .9zM127.8 101.1l-.2-.9 3.2-.8 .2 .9zM124.8 101.8l-.2-.9 3-.7 .2 .9z"/>
<path fill="#442d2d" stroke="#442d2d" d="M121.9 102.5l-.2-.9 2.9-.7 .2 .9zM119.1 103.2l-.1-.9 2.7-.7 .2 .9zM116.5 103.8l-.1-.9 2.6-.6 .1 .9zM114.1 104.4l-.2-1 2.5-.5 .1 .9zM111.7 104.9l-.1-1 2.3-.5 .2 1z"/>
<path fill="#493030" stroke="#493030" d="M109.5 105.4l-.1-1 2.2-.5 .1 1zM107.5 105.8l-.2-.9 2.1-.5 .1 1zM105.5 106.3l-.2-1 2-.4 .2 .9zM103.7 106.6l-.2-1 1.8-.3 .2 1z"/>
<path fill="#4e3333" stroke="#4e3333" d="M102 107l-.2-1 1.7-.4 .2 1zM100.4 107.3l-.1-1 1.5-.3 .2 1zM99 107.6l-.2-1.1 1.5-.2 .1 1z"/>
<path fill="#523636" stroke="#523636" d="M97.6 107.8l-.1-1.1 1.3-.2 .2 1.1zM96.4 108l-.2-1.1 1.3-.2 .1 1.1zM95.3 108.2l-.2-1.1 1.1-.2 .2 1.1zM94.3 108.3l-.2-1 1-.2 .2 1.1z"/>
<path fill="#563838" stroke="#563838" d="M93.4 108.4l-.2-1 .9-.1 .2 1zM92.6 108.5l-.2-1 .8-.1 .2 1zM91.8 108.6l-.1-1 .7-.1 .2 1zM91.2 108.7l-.2-1.1 .7 0 .1 1z"/>
<path fill="#5a3b3b" stroke="#5a3b3b" d="M90.7 108.7l-.2-1 .5-.1 .2 1.1zM90.2 108.7l-.1-1 .4 0 .2 1zM89.9 108.8l-.2-1 .4-.1 .1 1zM89.6 108.8l-.2-1 .3 0 .2 1zM89.4 108.8l-.2-1 .2 0 .2 1zM89.2 108.8l-.2-1 .2 0 .2 1zM89.1 108.8l-.1-1 0 0 .2 1zM89.1 108.8l-.2-1 .1 0 .1 1zM89.1 108.8l-.2-1 0 0 .2 1z"/>
<path fill="#342222" stroke="#342222" d="M161.9 92.9l-.1-.5 4.5-1.2 .1 .5zM157.5 94.1l-.1-.5 4.4-1.2 .1 .5zM153.2 95.2l-.1-.5 4.3-1.1 .1 .5zM149.2 96.2l-.1-.5 4-1 .1 .5zM145.2 97.3l-.1-.6 4-1 .1 .5zM141.5 98.2l-.1-.5 3.7-1 .1 .6zM137.9 99.2l-.2-.6 3.7-.9 .1 .5z"/>
<path fill="#3a2626" stroke="#3a2626" d="M134.4 100l-.1-.5 3.4-.9 .2 .6zM131.1 100.9l-.1-.6 3.3-.8 .1 .5zM127.9 101.7l-.1-.6 3.2-.8 .1 .6zM124.9 102.4l-.1-.6 3-.7 .1 .6zM122 103.2l-.1-.7 2.9-.7 .1 .6zM119.3 103.8l-.2-.6 2.8-.7 .1 .7zM116.7 104.5l-.2-.7 2.6-.6 .2 .6z"/>
<path fill="#3f2929" stroke="#3f2929" d="M114.2 105l-.1-.6 2.4-.6 .2 .7zM111.9 105.6l-.2-.7 2.4-.5 .1 .6zM109.6 106.1l-.1-.7 2.2-.5 .2 .7zM107.6 106.6l-.1-.8 2-.4 .1 .7z"/>
<path fill="#442d2d" stroke="#442d2d" d="M105.6 107l-.1-.7 2-.5 .1 .8zM103.8 107.4l-.1-.8 1.8-.3 .1 .7zM102.1 107.7l-.1-.7 1.7-.4 .1 .8zM100.5 108.1l-.1-.8 1.6-.3 .1 .7z"/>
<path fill="#493030" stroke="#493030" d="M99.1 108.3l-.1-.7 1.4-.3 .1 .8zM97.7 108.6l-.1-.8 1.4-.2 .1 .7zM96.5 108.8l-.1-.8 1.2-.2 .1 .8zM95.4 109l-.1-.8 1.1-.2 .1 .8z"/>
<path fill="#4e3333" stroke="#4e3333" d="M94.4 109.1l-.1-.8 1-.1 .1 .8zM93.5 109.2l-.1-.8 .9-.1 .1 .8zM92.7 109.3l-.1-.8 .8-.1 .1 .8zM92 109.4l-.2-.8 .8-.1 .1 .8z"/>
<path fill="#523636" stroke="#523636" d="M91.3 109.5l-.1-.8 .6-.1 .2 .8zM90.8 109.5l-.1-.8 .5 0 .1 .8zM90.4 109.5l-.2-.8 .5 0 .1 .8zM90 109.5l-.1-.7 .3-.1 .2 .8zM89.7 109.6l-.1-.8 .3 0 .1 .7z"/>
<path fill="#563838" stroke="#563838" d="M89.5 109.6l-.1-.8 .2 0 .1 .8zM89.3 109.6l-.1-.8 .2 0 .1 .8zM89.2 109.6l-.1-.8 .1 0 .1 .8zM89.2 109.6l-.1-.8 0 0 .1 .8zM89.2 109.6l-.1-.8 0 0 .1 .8z"/>
<path fill="#2d1d1d" stroke="#2d1d1d" d="M161.9 93.2l0-.3 4.5-1.2 .1 .3zM157.5 94.4l0-.3 4.4-1.2 0 .3zM153.3 95.5l-.1-.3 4.3-1.1 0 .3zM149.2 96.5l0-.3 4-1 .1 .3zM145.3 97.6l-.1-.3 4-1.1 0 .3zM141.5 98.5l0-.3 3.7-.9 .1 .3z"/>
<path fill="#342222" stroke="#342222" d="M137.9 99.5l0-.3 3.6-1 0 .3zM134.5 100.4l-.1-.4 3.5-.8 0 .3zM131.1 101.2l0-.3 3.3-.9 .1 .4zM128 102l-.1-.3 3.2-.8 0 .3zM124.9 102.8l0-.4 3-.7 .1 .3zM122.1 103.5l-.1-.3 2.9-.8 0 .4zM119.3 104.2l0-.4 2.7-.6 .1 .3zM116.7 104.8l0-.3 2.6-.7 0 .4z"/>
<path fill="#3a2626" stroke="#3a2626" d="M114.2 105.4l0-.4 2.5-.5 0 .3zM111.9 106l0-.4 2.3-.6 0 .4zM109.7 106.5l-.1-.4 2.3-.5 0 .4zM107.6 107l0-.4 2-.5 .1 .4zM105.7 107.4l-.1-.4 2-.4 0 .4z"/>
<path fill="#3f2929" stroke="#3f2929" d="M103.9 107.8l-.1-.4 1.8-.4 .1 .4zM102.2 108.2l-.1-.5 1.7-.3 .1 .4zM100.6 108.5l-.1-.4 1.6-.4 .1 .5zM99.2 108.8l-.1-.5 1.4-.2 .1 .4z"/>
<path fill="#442d2d" stroke="#442d2d" d="M97.8 109l-.1-.4 1.4-.3 .1 .5zM96.6 109.3l-.1-.5 1.2-.2 .1 .4zM95.5 109.4l-.1-.4 1.1-.2 .1 .5zM94.5 109.6l-.1-.5 1-.1 .1 .4z"/>
<path fill="#493030" stroke="#493030" d="M93.5 109.7l0-.5 .9-.1 .1 .5zM92.7 109.8l0-.5 .8-.1 0 .5zM92 109.9l0-.5 .7-.1 0 .5zM91.4 109.9l-.1-.4 .7-.1 0 .5z"/>
<path fill="#4e3333" stroke="#4e3333" d="M90.9 110l-.1-.5 .5 0 .1 .4zM90.4 110l0-.5 .4 0 .1 .5zM90.1 110l-.1-.5 .4 0 0 .5zM89.8 110l-.1-.4 .3-.1 .1 .5zM89.6 110l-.1-.4 .2 0 .1 .4zM89.4 110l-.1-.4 .2 0 .1 .4zM89.3 110l-.1-.4 .1 0 .1 .4z"/>
<path fill="#523636" stroke="#523636" d="M89.3 110l-.1-.4 0 0 .1 .4zM89.2 110l0-.4 0 0 .1 .4z"/>
<path fill="#2d1d1d" stroke="#2d1d1d" d="M162 93.3l-.1-.1 4.6-1.2 0 .1zM157.6 94.4l-.1 0 4.4-1.2 .1 .1zM153.3 95.5l0 0 4.2-1.1 .1 0zM149.2 96.6l0-.1 4.1-1 0 0zM145.3 97.6l0 0 3.9-1.1 0 .1zM141.6 98.6l-.1-.1 3.8-.9 0 0zM137.9 99.6l0-.1 3.6-1 .1 .1zM134.5 100.5l0-.1 3.4-.9 0 .1zM131.2 101.3l-.1-.1 3.4-.8 0 .1zM128 102.1l0-.1 3.1-.8 .1 .1z"/>
<path fill="#342222" stroke="#342222" d="M125 102.9l-.1-.1 3.1-.8 0 .1zM122.1 103.6l0-.1 2.8-.7 .1 .1zM119.3 104.3l0-.1 2.8-.7 0 .1zM116.7 104.9l0-.1 2.6-.6 0 .1zM114.3 105.5l-.1-.1 2.5-.6 0 .1zM111.9 106.1l0-.1 2.3-.6 .1 .1zM109.7 106.6l0-.1 2.2-.5 0 .1z"/>
<path fill="#3a2626" stroke="#3a2626" d="M107.7 107.1l-.1-.1 2.1-.5 0 .1zM105.7 107.5l0-.1 1.9-.4 .1 .1zM103.9 107.9l0-.1 1.8-.4 0 .1zM102.2 108.3l0-.1 1.7-.4 0 .1zM100.6 108.6l0-.1 1.6-.3 0 .1z"/>
<path fill="#3f2929" stroke="#3f2929" d="M99.2 108.9l0-.1 1.4-.3 0 .1zM97.8 109.2l0-.2 1.4-.2 0 .1zM96.6 109.4l0-.1 1.2-.3 0 .2zM95.5 109.6l0-.2 1.1-.1 0 .1z"/>
<path fill="#442d2d" stroke="#442d2d" d="M94.5 109.7l0-.1 1-.2 0 .2zM93.6 109.9l-.1-.2 1-.1 0 .1zM92.7 110l0-.2 .8-.1 .1 .2zM92 110l0-.1 .7-.1 0 .2z"/>
<path fill="#493030" stroke="#493030" d="M91.4 110.1l0-.2 .6 0 0 .1zM90.9 110.1l0-.1 .5-.1 0 .2zM90.4 110.1l0-.1 .5 0 0 .1zM90.1 110.1l0-.1 .3 0 0 .1z"/>
<path fill="#4e3333" stroke="#4e3333" d="M89.8 110.2l0-.2 .3 0 0 .1zM89.6 110.2l0-.2 .2 0 0 .2zM89.4 110.2l0-.2 .2 0 0 .2zM89.3 110.2l0-.2 .1 0 0 .2zM89.3 110.1l0-.1 0 0 0 .2zM89.3 110.1l-.1-.1 .1 0 0 .1z"/>
</g>
<path d="M30.3 87L30.3 27.3" stroke="#333" stroke-width="0.7" fill="none"/>
<path d="M30.3 87L89.3 114.5" stroke="#333" stroke-width="0.7" fill="none"/>
<path d="M89.3 114.5L166.8 93.4" stroke="#333" stroke-width="0.7" fill="none"/>
<path d="M30.3 87L31.8 86.6" stroke="#333" stroke-width="0.6" fill="none"/>
<path d="M30.3 57.1L31.8 56.7" stroke="#333" stroke-width="0.6" fill="none"/>
<path d="M30.3 27.3L31.8 26.9" stroke="#333" stroke-width="0.6" fill="none"/>
<path d="M89.3 114.5L90.8 114.1" stroke="#333" stroke-width="0.6" fill="none"/>
<path d="M59.8 100.8L61.3 100.3" stroke="#333" stroke-width="0.6" fill="none"/>
<path d="M30.3 87L31.8 86.6" stroke="#333" stroke-width="0.6" fill="none"/>
<path d="M89.3 114.5L87.8 113.8" stroke="#333" stroke-width="0.6" fill="none"/>
<path d="M115.1 107.5L113.7 106.8" stroke="#333" stroke-width="0.6" fill="none"/>
<path d="M141 100.4L139.5 99.8" stroke="#333" stroke-width="0.6" fill="none"/>
<path d="M166.8 93.4L165.3 92.7" stroke="#333" stroke-width="0.6" fill="none"/>
<text x="27.7" y="88.9" font-size="7" text-anchor="end" >0</text>
<text x="27.7" y="59" font-size="7" text-anchor="end" >0.5</text>
<text x="27.7" y="29.2" font-size="7" text-anchor="end" >1</text>
<text x="27.8" y="94.6" font-size="7" text-anchor="end" >2</text>
<text x="57.3" y="108.3" font-size="7" text-anchor="end" >1</text>
<text x="86.8" y="122.1" font-size="7" text-anchor="end" >0</text>
<text x="91.6" y="122.5" font-size="7" text-anchor="start" >0</text>
<text x="117.4" y="115.5" font-size="7" text-anchor="start" >5</text>
<text x="143.3" y="108.4" font-size="7" text-anchor="start" >10</text>
<text x="169.1" y="101.4" font-size="7" text-anchor="start" >15</text>
<text x="5.5" y="25.1" font-size="14" text-anchor="start" class="b">(a)</text>
<text transform="translate(17.3 63.5) rotate(-90)" class="b" font-size="13.5" text-anchor="middle">SNR</text>
<text transform="translate(44.7 115.8) rotate(25)" class="c" font-size="13.5" text-anchor="middle" font-style="italic">N<tspan font-size="7" dy="3.5">s</tspan></text>
<g transform="translate(139.2 122.3) rotate(-15.2)"><text x="-25.4" y="0.2" font-size="14" font-style="italic" class="c" transform="skewX(-13)">f</text><text x="-20.9" y="2.5" font-size="8" class="c">n</text><text x="-10.2" y="0" font-size="13.5" class="b">(MHz)</text></g>
<path d="M203.6 87L203.6 27.3" stroke="#dcdcdc" stroke-width="0.6" fill="none"/>
<path d="M203.6 87L262.6 114.5" stroke="#dcdcdc" stroke-width="0.6" fill="none"/>
<path d="M229.4 80L229.4 20.3" stroke="#dcdcdc" stroke-width="0.6" fill="none"/>
<path d="M229.4 80L288.4 107.5" stroke="#dcdcdc" stroke-width="0.6" fill="none"/>
<path d="M255.3 72.9L255.3 13.2" stroke="#dcdcdc" stroke-width="0.6" fill="none"/>
<path d="M255.3 72.9L314.3 100.4" stroke="#dcdcdc" stroke-width="0.6" fill="none"/>
<path d="M281.1 65.9L281.1 6.2" stroke="#dcdcdc" stroke-width="0.6" fill="none"/>
<path d="M281.1 65.9L340.1 93.4" stroke="#dcdcdc" stroke-width="0.6" fill="none"/>
<path d="M340.1 93.4L340.1 33.7" stroke="#dcdcdc" stroke-width="0.6" fill="none"/>
<path d="M262.6 114.5L340.1 93.4" stroke="#dcdcdc" stroke-width="0.6" fill="none"/>
<path d="M310.6 79.7L310.6 20" stroke="#dcdcdc" stroke-width="0.6" fill="none"/>
<path d="M233.1 100.8L310.6 79.7" stroke="#dcdcdc" stroke-width="0.6" fill="none"/>
<path d="M281.1 65.9L281.1 6.2" stroke="#dcdcdc" stroke-width="0.6" fill="none"/>
<path d="M203.6 87L281.1 65.9" stroke="#dcdcdc" stroke-width="0.6" fill="none"/>
<path d="M203.6 87L281.1 65.9" stroke="#dcdcdc" stroke-width="0.6" fill="none"/>
<path d="M281.1 65.9L340.1 93.4" stroke="#dcdcdc" stroke-width="0.6" fill="none"/>
<path d="M203.6 57.1L281.1 36.1" stroke="#dcdcdc" stroke-width="0.6" fill="none"/>
<path d="M281.1 36.1L340.1 63.6" stroke="#dcdcdc" stroke-width="0.6" fill="none"/>
<path d="M203.6 27.3L281.1 6.2" stroke="#dcdcdc" stroke-width="0.6" fill="none"/>
<path d="M281.1 6.2L340.1 33.7" stroke="#dcdcdc" stroke-width="0.6" fill="none"/>
<g stroke-width="0.7" stroke-linejoin="round" filter="url(#sm)">
<path fill="#8e5d5d" stroke="#8e5d5d" d="M279.7 55.2l-3.2-1.7 4.6-.7 3.2 1.7z"/>
<path fill="#905e5e" stroke="#905e5e" d="M275.3 55.9l-3.1-1.8 4.3-.6 3.2 1.7z"/>
<path fill="#926060" stroke="#926060" d="M271.1 56.5l-3.2-1.8 4.3-.6 3.1 1.8z"/>
<path fill="#976363" stroke="#976363" d="M267 57l-3.2-1.8 4.1-.5 3.2 1.8z"/>
<path fill="#996464" stroke="#996464" d="M263.1 57.5l-3.2-1.8 3.9-.5 3.2 1.8z"/>
<path fill="#9b6666" stroke="#9b6666" d="M259.3 57.9l-3.1-1.8 3.7-.4 3.2 1.8z"/>
<path fill="#9f6868" stroke="#9f6868" d="M255.7 58.2l-3.2-1.7 3.7-.4 3.1 1.8z"/>
<path fill="#a26a6a" stroke="#a26a6a" d="M252.3 58.6l-3.2-1.8 3.4-.3 3.2 1.7z"/>
<path fill="#a66c6c" stroke="#a66c6c" d="M248.9 58.8l-3.1-1.7 3.3-.3 3.2 1.8z"/>
<path fill="#a86e6e" stroke="#a86e6e" d="M245.8 59l-3.2-1.7 3.2-.2 3.1 1.7z"/>
<path fill="#ac7070" stroke="#ac7070" d="M242.7 59.1l-3.1-1.7 3-.1 3.2 1.7z"/>
<path fill="#af7373" stroke="#af7373" d="M239.9 59.1l-3.2-1.7 2.9 0 3.1 1.7z"/>
<path fill="#b37575" stroke="#b37575" d="M237.1 59l-3.2-1.7 2.8 .1 3.2 1.7z"/>
<path fill="#b77878" stroke="#b77878" d="M234.5 58.8l-3.2-1.7 2.6 .2 3.2 1.7z"/>
<path fill="#bc7b7b" stroke="#bc7b7b" d="M232 58.6l-3.1-1.7 2.4 .2 3.2 1.7z"/>
<path fill="#c07e7e" stroke="#c07e7e" d="M229.7 58.3l-3.2-1.6 2.4 .2 3.1 1.7z"/>
<path fill="#c38080" stroke="#c38080" d="M227.5 58l-3.2-1.6 2.2 .3 3.2 1.6z"/>
<path fill="#c48582" stroke="#c48582" d="M225.4 57.6l-3.1-1.5 2 .3 3.2 1.6z"/>
<path fill="#c68a84" stroke="#c68a84" d="M223.5 57.2l-3.2-1.5 2 .4 3.1 1.5z"/>
<path fill="#c78f86" stroke="#c78f86" d="M221.7 56.8l-3.2-1.6 1.8 .5 3.2 1.5z"/>
<path fill="#c9968a" stroke="#c9968a" d="M220 56.3l-3.2-1.5 1.7 .4 3.2 1.6z"/>
<path fill="#cb9a8c" stroke="#cb9a8c" d="M218.4 55.7l-3.2-1.5 1.6 .6 3.2 1.5z"/>
<path fill="#cc9f8e" stroke="#cc9f8e" d="M216.9 55.1l-3.1-1.4 1.4 .5 3.2 1.5z"/>
<path fill="#cea390" stroke="#cea390" d="M215.6 54.5l-3.2-1.4 1.4 .6 3.1 1.4z"/>
<path fill="#d0a993" stroke="#d0a993" d="M214.4 53.8l-3.2-1.4 1.2 .7 3.2 1.4z"/>
<path fill="#d1ad95" stroke="#d1ad95" d="M213.3 53l-3.2-1.3 1.1 .7 3.2 1.4z"/>
<path fill="#d3b197" stroke="#d3b197" d="M212.2 52.1l-3.1-1.2 1 .8 3.2 1.3z"/>
<path fill="#d5b699" stroke="#d5b699" d="M211.3 51.2l-3.1-1.1 .9 .8 3.1 1.2z"/>
<path fill="#d6ba9b" stroke="#d6ba9b" d="M210.5 50.3l-3.2-1 .9 .8 3.1 1.1z"/>
<path fill="#d7bd9d" stroke="#d7bd9d" d="M209.8 49.3l-3.2-.9 .7 .9 3.2 1z"/>
<path fill="#d9c3a0" stroke="#d9c3a0" d="M209.2 48.2l-3.2-.7 .6 .9 3.2 .9z"/>
<path fill="#dbc6a2" stroke="#dbc6a2" d="M208.7 47.2l-3.2-.6 .5 .9 3.2 .7z"/>
<path fill="#ddcba4" stroke="#ddcba4" d="M208.2 46l-3.2-.3 .5 .9 3.2 .6z"/>
<path fill="#dfd1a8" stroke="#dfd1a8" d="M207.9 44.7l-3.2-.2 .3 1.2 3.2 .3z"/>
<path fill="#e6e2b1" stroke="#e6e2b1" d="M207.6 43.2l-3.2-.1 .3 1.4 3.2 .2z"/>
<path fill="#ededc6" stroke="#ededc6" d="M207.3 41.1l-3.1 0 .2 2 3.2 .1z"/>
<path fill="#f0f0ce" stroke="#f0f0ce" d="M207.2 36.2l-3.2-.9 .2 5.8 3.1 0z"/>
<path fill="#f0f0d0" stroke="#f0f0d0" d="M207.1 31.2l-3.2-1.7 .1 5.8 3.2 .9zM207 29.7l-3.1-1.7 0 1.5 3.2 1.7zM207 29.5l-3.1-1.7 0 .2 3.1 1.7z"/>
<path fill="#8b5b5b" stroke="#8b5b5b" d="M282.8 57l-3.1-1.8 4.6-.7 3.1 1.8z"/>
<path fill="#8e5d5d" stroke="#8e5d5d" d="M278.4 57.7l-3.1-1.8 4.4-.7 3.1 1.8z"/>
<path fill="#926060" stroke="#926060" d="M274.2 58.2l-3.1-1.7 4.2-.6 3.1 1.8z"/>
<path fill="#956161" stroke="#956161" d="M270.1 58.8l-3.1-1.8 4.1-.5 3.1 1.7z"/>
<path fill="#976363" stroke="#976363" d="M266.2 59.2l-3.1-1.7 3.9-.5 3.1 1.8z"/>
<path fill="#9b6666" stroke="#9b6666" d="M262.4 59.6l-3.1-1.7 3.8-.4 3.1 1.7z"/>
<path fill="#9d6767" stroke="#9d6767" d="M258.8 60l-3.1-1.8 3.6-.3 3.1 1.7z"/>
<path fill="#a26a6a" stroke="#a26a6a" d="M255.3 60.3l-3-1.7 3.4-.4 3.1 1.8z"/>
<path fill="#a46b6b" stroke="#a46b6b" d="M252 60.5l-3.1-1.7 3.4-.2 3 1.7z"/>
<path fill="#a86e6e" stroke="#a86e6e" d="M248.8 60.7l-3-1.7 3.1-.2 3.1 1.7z"/>
<path fill="#ac7070" stroke="#ac7070" d="M245.8 60.8l-3.1-1.7 3.1-.1 3 1.7z"/>
<path fill="#af7373" stroke="#af7373" d="M242.9 60.7l-3-1.6 2.8 0 3.1 1.7z"/>
<path fill="#b37575" stroke="#b37575" d="M240.2 60.6l-3.1-1.6 2.8 .1 3 1.6z"/>
<path fill="#b77878" stroke="#b77878" d="M237.6 60.5l-3.1-1.7 2.6 .2 3.1 1.6z"/>
<path fill="#bb7a7a" stroke="#bb7a7a" d="M235.1 60.3l-3.1-1.7 2.5 .2 3.1 1.7z"/>
<path fill="#be7c7c" stroke="#be7c7c" d="M232.8 60l-3.1-1.7 2.3 .3 3.1 1.7z"/>
<path fill="#c38080" stroke="#c38080" d="M230.6 59.6l-3.1-1.6 2.2 .3 3.1 1.7z"/>
<path fill="#c48582" stroke="#c48582" d="M228.5 59.2l-3.1-1.6 2.1 .4 3.1 1.6z"/>
<path fill="#c68a84" stroke="#c68a84" d="M226.6 58.8l-3.1-1.6 1.9 .4 3.1 1.6z"/>
<path fill="#c78f86" stroke="#c78f86" d="M224.8 58.3l-3.1-1.5 1.8 .4 3.1 1.6z"/>
<path fill="#c9968a" stroke="#c9968a" d="M223.1 57.8l-3.1-1.5 1.7 .5 3.1 1.5z"/>
<path fill="#cb9a8c" stroke="#cb9a8c" d="M221.5 57.2l-3.1-1.5 1.6 .6 3.1 1.5z"/>
<path fill="#cc9f8e" stroke="#cc9f8e" d="M220 56.6l-3.1-1.5 1.5 .6 3.1 1.5z"/>
<path fill="#cea591" stroke="#cea591" d="M218.7 55.9l-3.1-1.4 1.3 .6 3.1 1.5z"/>
<path fill="#d0a993" stroke="#d0a993" d="M217.5 55.1l-3.1-1.3 1.2 .7 3.1 1.4z"/>
<path fill="#d2af96" stroke="#d2af96" d="M216.3 54.3l-3-1.3 1.1 .8 3.1 1.3z"/>
<path fill="#d4b498" stroke="#d4b498" d="M215.3 53.3l-3.1-1.2 1.1 .9 3 1.3z"/>
<path fill="#d5b89a" stroke="#d5b89a" d="M214.4 52.3l-3.1-1.1 .9 .9 3.1 1.2z"/>
<path fill="#d7bd9d" stroke="#d7bd9d" d="M213.6 51.3l-3.1-1 .8 .9 3.1 1.1z"/>
<path fill="#d9c19f" stroke="#d9c19f" d="M212.9 50.1l-3.1-.8 .7 1 3.1 1z"/>
<path fill="#dbc6a2" stroke="#dbc6a2" d="M212.3 48.9l-3.1-.7 .6 1.1 3.1 .8z"/>
<path fill="#ddcba4" stroke="#ddcba4" d="M211.7 47.7l-3-.5 .5 1 3.1 .7z"/>
<path fill="#ded0a7" stroke="#ded0a7" d="M211.3 46.4l-3.1-.4 .5 1.2 3 .5z"/>
<path fill="#e1d6aa" stroke="#e1d6aa" d="M210.9 44.9l-3-.2 .3 1.3 3.1 .4z"/>
<path fill="#e7e4b2" stroke="#e7e4b2" d="M210.6 43.3l-3-.1 .3 1.5 3 .2z"/>
<path fill="#ededc6" stroke="#ededc6" d="M210.4 41.3l-3.1-.2 .3 2.1 3 .1z"/>
<path fill="#f0f0ce" stroke="#f0f0ce" d="M210.3 37l-3.1-.8 .1 4.9 3.1 .2zM210.2 32.8l-3.1-1.6 .1 5 3.1 .8zM210.1 31.4l-3.1-1.7 .1 1.5 3.1 1.6zM210.1 31.2l-3.1-1.7 0 .2 3.1 1.7z"/>
<path fill="#895a5a" stroke="#895a5a" d="M285.8 58.8l-3-1.8 4.6-.7 3 1.7z"/>
<path fill="#8e5d5d" stroke="#8e5d5d" d="M281.4 59.4l-3-1.7 4.4-.7 3 1.8z"/>
<path fill="#905e5e" stroke="#905e5e" d="M277.2 60l-3-1.8 4.2-.5 3 1.7z"/>
<path fill="#926060" stroke="#926060" d="M273.1 60.5l-3-1.7 4.1-.6 3 1.8z"/>
<path fill="#976363" stroke="#976363" d="M269.2 61l-3-1.8 3.9-.4 3 1.7z"/>
<path fill="#996464" stroke="#996464" d="M265.4 61.4l-3-1.8 3.8-.4 3 1.8z"/>
<path fill="#9b6666" stroke="#9b6666" d="M261.8 61.7l-3-1.7 3.6-.4 3 1.8z"/>
<path fill="#9f6868" stroke="#9f6868" d="M258.3 62l-3-1.7 3.5-.3 3 1.7z"/>
<path fill="#a46b6b" stroke="#a46b6b" d="M255 62.2l-3-1.7 3.3-.2 3 1.7z"/>
<path fill="#a66c6c" stroke="#a66c6c" d="M251.8 62.4l-3-1.7 3.2-.2 3 1.7z"/>
<path fill="#aa6f6f" stroke="#aa6f6f" d="M248.8 62.5l-3-1.7 3-.1 3 1.7z"/>
<path fill="#ae7272" stroke="#ae7272" d="M245.9 62.4l-3-1.7 2.9 .1 3 1.7z"/>
<path fill="#b17474" stroke="#b17474" d="M243.2 62.4l-3-1.8 2.7 .1 3 1.7z"/>
<path fill="#b57777" stroke="#b57777" d="M240.6 62.2l-3-1.7 2.6 .1 3 1.8z"/>
<path fill="#bb7a7a" stroke="#bb7a7a" d="M238.1 62l-3-1.7 2.5 .2 3 1.7z"/>
<path fill="#be7c7c" stroke="#be7c7c" d="M235.8 61.7l-3-1.7 2.3 .3 3 1.7z"/>
<path fill="#c27f7f" stroke="#c27f7f" d="M233.6 61.3l-3-1.7 2.2 .4 3 1.7z"/>
<path fill="#c48582" stroke="#c48582" d="M231.5 60.9l-3-1.7 2.1 .4 3 1.7z"/>
<path fill="#c68a84" stroke="#c68a84" d="M229.6 60.4l-3-1.6 1.9 .4 3 1.7z"/>
<path fill="#c78f86" stroke="#c78f86" d="M227.7 59.8l-2.9-1.5 1.8 .5 3 1.6z"/>
<path fill="#c9968a" stroke="#c9968a" d="M226.1 59.3l-3-1.5 1.7 .5 2.9 1.5z"/>
<path fill="#cb9a8c" stroke="#cb9a8c" d="M224.5 58.7l-3-1.5 1.6 .6 3 1.5z"/>
<path fill="#cda18f" stroke="#cda18f" d="M223 58l-3-1.4 1.5 .6 3 1.5z"/>
<path fill="#cea591" stroke="#cea591" d="M221.7 57.2l-3-1.3 1.3 .7 3 1.4z"/>
<path fill="#d0ab94" stroke="#d0ab94" d="M220.4 56.4l-2.9-1.3 1.2 .8 3 1.3z"/>
<path fill="#d3b197" stroke="#d3b197" d="M219.3 55.5l-3-1.2 1.2 .8 2.9 1.3z"/>
<path fill="#d5b699" stroke="#d5b699" d="M218.3 54.6l-3-1.3 1 1 3 1.2z"/>
<path fill="#d6ba9b" stroke="#d6ba9b" d="M217.4 53.5l-3-1.2 .9 1 3 1.3z"/>
<path fill="#d8bf9e" stroke="#d8bf9e" d="M216.6 52.3l-3-1 .8 1 3 1.2z"/>
<path fill="#dac4a1" stroke="#dac4a1" d="M215.9 51l-3-.9 .7 1.2 3 1z"/>
<path fill="#dcc9a3" stroke="#dcc9a3" d="M215.3 49.7l-3-.8 .6 1.2 3 .9z"/>
<path fill="#decea6" stroke="#decea6" d="M214.7 48.3l-3-.6 .6 1.2 3 .8z"/>
<path fill="#e0d3a8" stroke="#e0d3a8" d="M214.3 46.9l-3-.5 .4 1.3 3 .6z"/>
<path fill="#e3dbad" stroke="#e3dbad" d="M213.9 45.3l-3-.4 .4 1.5 3 .5z"/>
<path fill="#e7e5b2" stroke="#e7e5b2" d="M213.6 43.6l-3-.3 .3 1.6 3 .4z"/>
<path fill="#ededc3" stroke="#ededc3" d="M213.4 41.6l-3-.3 .2 2 3 .3z"/>
<path fill="#efefcc" stroke="#efefcc" d="M213.3 38l-3-1 .1 4.3 3 .3zM213.2 34.5l-3-1.7 .1 4.2 3 1zM213.1 33.2l-3-1.8 .1 1.4 3 1.7zM213.1 32.9l-3-1.7 0 .2 3 1.8z"/>
<path fill="#865858" stroke="#865858" d="M288.7 60.5l-2.9-1.7 4.6-.8 2.8 1.8z"/>
<path fill="#8b5b5b" stroke="#8b5b5b" d="M284.3 61.2l-2.9-1.8 4.4-.6 2.9 1.7z"/>
<path fill="#8e5d5d" stroke="#8e5d5d" d="M280.1 61.8l-2.9-1.8 4.2-.6 2.9 1.8z"/>
<path fill="#905e5e" stroke="#905e5e" d="M276 62.3l-2.9-1.8 4.1-.5 2.9 1.8z"/>
<path fill="#956161" stroke="#956161" d="M272.1 62.8l-2.9-1.8 3.9-.5 2.9 1.8z"/>
<path fill="#976363" stroke="#976363" d="M268.3 63.2l-2.9-1.8 3.8-.4 2.9 1.8z"/>
<path fill="#9b6666" stroke="#9b6666" d="M264.7 63.5l-2.9-1.8 3.6-.3 2.9 1.8z"/>
<path fill="#9d6767" stroke="#9d6767" d="M261.2 63.8l-2.9-1.8 3.5-.3 2.9 1.8z"/>
<path fill="#a26a6a" stroke="#a26a6a" d="M257.9 64l-2.9-1.8 3.3-.2 2.9 1.8z"/>
<path fill="#a66c6c" stroke="#a66c6c" d="M254.7 64.1l-2.9-1.7 3.2-.2 2.9 1.8z"/>
<path fill="#aa6f6f" stroke="#aa6f6f" d="M251.7 64.2l-2.9-1.7 3-.1 2.9 1.7z"/>
<path fill="#ae7272" stroke="#ae7272" d="M248.8 64.2l-2.9-1.8 2.9 .1 2.9 1.7z"/>
<path fill="#b17474" stroke="#b17474" d="M246.1 64.1l-2.9-1.7 2.7 0 2.9 1.8z"/>
<path fill="#b57777" stroke="#b57777" d="M243.5 63.9l-2.9-1.7 2.6 .2 2.9 1.7z"/>
<path fill="#b97979" stroke="#b97979" d="M241 63.7l-2.9-1.7 2.5 .2 2.9 1.7z"/>
<path fill="#bc7b7b" stroke="#bc7b7b" d="M238.7 63.4l-2.9-1.7 2.3 .3 2.9 1.7z"/>
<path fill="#c27f7f" stroke="#c27f7f" d="M236.5 63l-2.9-1.7 2.2 .4 2.9 1.7z"/>
<path fill="#c48381" stroke="#c48381" d="M234.4 62.5l-2.9-1.6 2.1 .4 2.9 1.7z"/>
<path fill="#c68a84" stroke="#c68a84" d="M232.5 62l-2.9-1.6 1.9 .5 2.9 1.6z"/>
<path fill="#c78f86" stroke="#c78f86" d="M230.6 61.4l-2.9-1.6 1.9 .6 2.9 1.6z"/>
<path fill="#c9968a" stroke="#c9968a" d="M228.9 60.8l-2.8-1.5 1.6 .5 2.9 1.6z"/>
<path fill="#cb9a8c" stroke="#cb9a8c" d="M227.4 60.1l-2.9-1.4 1.6 .6 2.8 1.5z"/>
<path fill="#cda18f" stroke="#cda18f" d="M225.9 59.3l-2.9-1.3 1.5 .7 2.9 1.4z"/>
<path fill="#cea591" stroke="#cea591" d="M224.6 58.5l-2.9-1.3 1.3 .8 2.9 1.3z"/>
<path fill="#d0ab94" stroke="#d0ab94" d="M223.3 57.7l-2.9-1.3 1.3 .8 2.9 1.3z"/>
<path fill="#d3b197" stroke="#d3b197" d="M222.2 56.8l-2.9-1.3 1.1 .9 2.9 1.3z"/>
<path fill="#d5b699" stroke="#d5b699" d="M221.2 55.8l-2.9-1.2 1 .9 2.9 1.3z"/>
<path fill="#d7bc9c" stroke="#d7bc9c" d="M220.3 54.7l-2.9-1.2 .9 1.1 2.9 1.2z"/>
<path fill="#d9c3a0" stroke="#d9c3a0" d="M219.5 53.4l-2.9-1.1 .8 1.2 2.9 1.2z"/>
<path fill="#dbc8a2" stroke="#dbc8a2" d="M218.8 52l-2.9-1 .7 1.3 2.9 1.1z"/>
<path fill="#ddcda5" stroke="#ddcda5" d="M218.2 50.5l-2.9-.8 .6 1.3 2.9 1z"/>
<path fill="#dfd1a8" stroke="#dfd1a8" d="M217.6 49.1l-2.9-.8 .6 1.4 2.9 .8z"/>
<path fill="#e1d6aa" stroke="#e1d6aa" d="M217.2 47.6l-2.9-.7 .4 1.4 2.9 .8z"/>
<path fill="#e4deae" stroke="#e4deae" d="M216.8 45.9l-2.9-.6 .4 1.6 2.9 .7z"/>
<path fill="#e8e7b3" stroke="#e8e7b3" d="M216.5 44.2l-2.9-.6 .3 1.7 2.9 .6z"/>
<path fill="#ededc3" stroke="#ededc3" d="M216.3 42.2l-2.9-.6 .2 2 2.9 .6z"/>
<path fill="#efefcc" stroke="#efefcc" d="M216.2 39.1l-2.9-1.1 .1 3.6 2.9 .6zM216.1 36.1l-2.9-1.6 .1 3.5 2.9 1.1zM216 34.9l-2.9-1.7 .1 1.3 2.9 1.6zM216 34.6l-2.9-1.7 0 .3 2.9 1.7z"/>
<path fill="#865858" stroke="#865858" d="M291.5 62.3l-2.8-1.8 4.5-.7 2.8 1.8z"/>
<path fill="#895a5a" stroke="#895a5a" d="M287.1 62.9l-2.8-1.7 4.4-.7 2.8 1.8z"/>
<path fill="#8b5b5b" stroke="#8b5b5b" d="M282.9 63.5l-2.8-1.7 4.2-.6 2.8 1.7z"/>
<path fill="#8e5d5d" stroke="#8e5d5d" d="M278.8 64.1l-2.8-1.8 4.1-.5 2.8 1.7z"/>
<path fill="#926060" stroke="#926060" d="M274.9 64.5l-2.8-1.7 3.9-.5 2.8 1.8z"/>
<path fill="#956161" stroke="#956161" d="M271.1 64.9l-2.8-1.7 3.8-.4 2.8 1.7z"/>
<path fill="#996464" stroke="#996464" d="M267.5 65.2l-2.8-1.7 3.6-.3 2.8 1.7z"/>
<path fill="#9b6666" stroke="#9b6666" d="M264 65.5l-2.8-1.7 3.5-.3 2.8 1.7z"/>
<path fill="#9f6868" stroke="#9f6868" d="M260.7 65.7l-2.8-1.7 3.3-.2 2.8 1.7z"/>
<path fill="#a46b6b" stroke="#a46b6b" d="M257.5 65.8l-2.8-1.7 3.2-.1 2.8 1.7z"/>
<path fill="#a86e6e" stroke="#a86e6e" d="M254.5 65.9l-2.8-1.7 3-.1 2.8 1.7z"/>
<path fill="#ac7070" stroke="#ac7070" d="M251.6 65.9l-2.8-1.7 2.9 0 2.8 1.7z"/>
<path fill="#af7373" stroke="#af7373" d="M248.9 65.8l-2.8-1.7 2.7 .1 2.8 1.7z"/>
<path fill="#b37575" stroke="#b37575" d="M246.3 65.6l-2.8-1.7 2.6 .2 2.8 1.7z"/>
<path fill="#b77878" stroke="#b77878" d="M243.8 65.4l-2.8-1.7 2.5 .2 2.8 1.7z"/>
<path fill="#bc7b7b" stroke="#bc7b7b" d="M241.5 65.1l-2.8-1.7 2.3 .3 2.8 1.7z"/>
<path fill="#c07e7e" stroke="#c07e7e" d="M239.3 64.6l-2.8-1.6 2.2 .4 2.8 1.7z"/>
<path fill="#c48381" stroke="#c48381" d="M237.2 64.1l-2.8-1.6 2.1 .5 2.8 1.6z"/>
<path fill="#c58883" stroke="#c58883" d="M235.3 63.6l-2.8-1.6 1.9 .5 2.8 1.6z"/>
<path fill="#c78f86" stroke="#c78f86" d="M233.4 62.9l-2.8-1.5 1.9 .6 2.8 1.6z"/>
<path fill="#c9968a" stroke="#c9968a" d="M231.7 62.2l-2.8-1.4 1.7 .6 2.8 1.5z"/>
<path fill="#cb9a8c" stroke="#cb9a8c" d="M230.2 61.4l-2.8-1.3 1.5 .7 2.8 1.4z"/>
<path fill="#cda18f" stroke="#cda18f" d="M228.7 60.6l-2.8-1.3 1.5 .8 2.8 1.3z"/>
<path fill="#cfa792" stroke="#cfa792" d="M227.4 59.8l-2.8-1.3 1.3 .8 2.8 1.3z"/>
<path fill="#d0ab94" stroke="#d0ab94" d="M226.1 59l-2.8-1.3 1.3 .8 2.8 1.3z"/>
<path fill="#d3b297" stroke="#d3b297" d="M225 58.1l-2.8-1.3 1.1 .9 2.8 1.3z"/>
<path fill="#d5b89a" stroke="#d5b89a" d="M224 57.1l-2.8-1.3 1 1 2.8 1.3z"/>
<path fill="#d7bd9d" stroke="#d7bd9d" d="M223.1 55.9l-2.8-1.2 .9 1.1 2.8 1.3z"/>
<path fill="#d9c3a0" stroke="#d9c3a0" d="M222.3 54.6l-2.8-1.2 .8 1.3 2.8 1.2z"/>
<path fill="#dcc9a3" stroke="#dcc9a3" d="M221.6 53.1l-2.8-1.1 .7 1.4 2.8 1.2z"/>
<path fill="#decea6" stroke="#decea6" d="M221 51.6l-2.8-1.1 .6 1.5 2.8 1.1z"/>
<path fill="#e0d3a8" stroke="#e0d3a8" d="M220.4 50.1l-2.8-1 .6 1.4 2.8 1.1z"/>
<path fill="#e2d9ac" stroke="#e2d9ac" d="M220 48.5l-2.8-.9 .4 1.5 2.8 1z"/>
<path fill="#e5dfaf" stroke="#e5dfaf" d="M219.6 46.7l-2.8-.8 .4 1.7 2.8 .9z"/>
<path fill="#e9e8b4" stroke="#e9e8b4" d="M219.3 45l-2.8-.8 .3 1.7 2.8 .8z"/>
<path fill="#ededc3" stroke="#ededc3" d="M219.1 43.1l-2.8-.9 .2 2 2.8 .8z"/>
<path fill="#efefca" stroke="#efefca" d="M219 40.4l-2.8-1.3 .1 3.1 2.8 .9zM218.9 37.8l-2.8-1.7 .1 3 2.8 1.3zM218.8 36.6l-2.8-1.7 .1 1.2 2.8 1.7zM218.8 36.3l-2.8-1.7 0 .3 2.8 1.7z"/>
<path fill="#815555" stroke="#815555" d="M294.2 64.1l-2.7-1.8 4.5-.7 2.7 1.7z"/>
<path fill="#865858" stroke="#865858" d="M289.8 64.7l-2.7-1.8 4.4-.6 2.7 1.8z"/>
<path fill="#895a5a" stroke="#895a5a" d="M285.6 65.3l-2.7-1.8 4.2-.6 2.7 1.8z"/>
<path fill="#8b5b5b" stroke="#8b5b5b" d="M281.5 65.9l-2.7-1.8 4.1-.6 2.7 1.8z"/>
<path fill="#905e5e" stroke="#905e5e" d="M277.6 66.3l-2.7-1.8 3.9-.4 2.7 1.8z"/>
<path fill="#926060" stroke="#926060" d="M273.8 66.7l-2.7-1.8 3.8-.4 2.7 1.8z"/>
<path fill="#976363" stroke="#976363" d="M270.2 67l-2.7-1.8 3.6-.3 2.7 1.8z"/>
<path fill="#996464" stroke="#996464" d="M266.7 67.3l-2.7-1.8 3.5-.3 2.7 1.8z"/>
<path fill="#9d6767" stroke="#9d6767" d="M263.4 67.5l-2.7-1.8 3.3-.2 2.7 1.8z"/>
<path fill="#a26a6a" stroke="#a26a6a" d="M260.2 67.6l-2.7-1.8 3.2-.1 2.7 1.8z"/>
<path fill="#a66c6c" stroke="#a66c6c" d="M257.2 67.7l-2.7-1.8 3-.1 2.7 1.8z"/>
<path fill="#aa6f6f" stroke="#aa6f6f" d="M254.3 67.7l-2.7-1.8 2.9 0 2.7 1.8z"/>
<path fill="#ae7272" stroke="#ae7272" d="M251.6 67.6l-2.7-1.8 2.7 .1 2.7 1.8z"/>
<path fill="#b17474" stroke="#b17474" d="M249 67.5l-2.7-1.9 2.6 .2 2.7 1.8z"/>
<path fill="#b57777" stroke="#b57777" d="M246.5 67.2l-2.7-1.8 2.5 .2 2.7 1.9z"/>
<path fill="#bb7a7a" stroke="#bb7a7a" d="M244.2 66.9l-2.7-1.8 2.3 .3 2.7 1.8z"/>
<path fill="#be7c7c" stroke="#be7c7c" d="M242 66.4l-2.7-1.8 2.2 .5 2.7 1.8z"/>
<path fill="#c38080" stroke="#c38080" d="M239.9 65.9l-2.7-1.8 2.1 .5 2.7 1.8z"/>
<path fill="#c58883" stroke="#c58883" d="M238 65.3l-2.7-1.7 1.9 .5 2.7 1.8z"/>
<path fill="#c78f86" stroke="#c78f86" d="M236.1 64.6l-2.7-1.7 1.9 .7 2.7 1.7z"/>
<path fill="#c9968a" stroke="#c9968a" d="M234.4 63.8l-2.7-1.6 1.7 .7 2.7 1.7z"/>
<path fill="#cb9a8c" stroke="#cb9a8c" d="M232.9 62.9l-2.7-1.5 1.5 .8 2.7 1.6z"/>
<path fill="#cda18f" stroke="#cda18f" d="M231.4 62.1l-2.7-1.5 1.5 .8 2.7 1.5z"/>
<path fill="#cfa792" stroke="#cfa792" d="M230.1 61.2l-2.7-1.4 1.3 .8 2.7 1.5z"/>
<path fill="#d0ab94" stroke="#d0ab94" d="M228.8 60.4l-2.7-1.4 1.3 .8 2.7 1.4z"/>
<path fill="#d3b297" stroke="#d3b297" d="M227.7 59.4l-2.7-1.3 1.1 .9 2.7 1.4z"/>
<path fill="#d5b89a" stroke="#d5b89a" d="M226.7 58.4l-2.7-1.3 1 1 2.7 1.3z"/>
<path fill="#d7bd9d" stroke="#d7bd9d" d="M225.8 57.2l-2.7-1.3 .9 1.2 2.7 1.3z"/>
<path fill="#dac4a1" stroke="#dac4a1" d="M225 55.8l-2.7-1.2 .8 1.3 2.7 1.3z"/>
<path fill="#dcc9a3" stroke="#dcc9a3" d="M224.3 54.4l-2.7-1.3 .7 1.5 2.7 1.2z"/>
<path fill="#ded0a7" stroke="#ded0a7" d="M223.7 52.8l-2.7-1.2 .6 1.5 2.7 1.3z"/>
<path fill="#e0d5a9" stroke="#e0d5a9" d="M223.1 51.2l-2.7-1.1 .6 1.5 2.7 1.2z"/>
<path fill="#e3dbad" stroke="#e3dbad" d="M222.7 49.5l-2.7-1 .4 1.6 2.7 1.1z"/>
<path fill="#e5dfaf" stroke="#e5dfaf" d="M222.3 47.7l-2.7-1 .4 1.8 2.7 1z"/>
<path fill="#e9e8b4" stroke="#e9e8b4" d="M222 46l-2.7-1 .3 1.7 2.7 1z"/>
<path fill="#ececc1" stroke="#ececc1" d="M221.8 44.2l-2.7-1.1 .2 1.9 2.7 1z"/>
<path fill="#eeeec8" stroke="#eeeec8" d="M221.7 41.7l-2.7-1.3 .1 2.7 2.7 1.1zM221.6 39.4l-2.7-1.6 .1 2.6 2.7 1.3zM221.5 38.2l-2.7-1.6 .1 1.2 2.7 1.6zM221.5 38l-2.7-1.7 0 .3 2.7 1.6z"/>
<path fill="#7f5353" stroke="#7f5353" d="M296.8 65.9l-2.6-1.8 4.5-.8 2.7 1.9z"/>
<path fill="#815555" stroke="#815555" d="M292.4 66.6l-2.6-1.9 4.4-.6 2.6 1.8z"/>
<path fill="#865858" stroke="#865858" d="M288.2 67.2l-2.6-1.9 4.2-.6 2.6 1.9z"/>
<path fill="#895a5a" stroke="#895a5a" d="M284.1 67.7l-2.6-1.8 4.1-.6 2.6 1.9z"/>
<path fill="#8e5d5d" stroke="#8e5d5d" d="M280.2 68.2l-2.6-1.9 3.9-.4 2.6 1.8z"/>
<path fill="#905e5e" stroke="#905e5e" d="M276.4 68.6l-2.6-1.9 3.8-.4 2.6 1.9z"/>
<path fill="#956161" stroke="#956161" d="M272.8 68.9l-2.6-1.9 3.6-.3 2.6 1.9z"/>
<path fill="#976363" stroke="#976363" d="M269.3 69.2l-2.6-1.9 3.5-.3 2.6 1.9z"/>
<path fill="#9b6666" stroke="#9b6666" d="M266 69.4l-2.6-1.9 3.3-.2 2.6 1.9z"/>
<path fill="#9f6868" stroke="#9f6868" d="M262.8 69.5l-2.6-1.9 3.2-.1 2.6 1.9z"/>
<path fill="#a26a6a" stroke="#a26a6a" d="M259.8 69.6l-2.6-1.9 3-.1 2.6 1.9z"/>
<path fill="#a66c6c" stroke="#a66c6c" d="M256.9 69.6l-2.6-1.9 2.9 0 2.6 1.9z"/>
<path fill="#aa6f6f" stroke="#aa6f6f" d="M254.2 69.5l-2.6-1.9 2.7 .1 2.6 1.9z"/>
<path fill="#af7373" stroke="#af7373" d="M251.6 69.4l-2.6-1.9 2.6 .1 2.6 1.9z"/>
<path fill="#b37575" stroke="#b37575" d="M249.1 69.1l-2.6-1.9 2.5 .3 2.6 1.9z"/>
<path fill="#b97979" stroke="#b97979" d="M246.8 68.8l-2.6-1.9 2.3 .3 2.6 1.9z"/>
<path fill="#bc7b7b" stroke="#bc7b7b" d="M244.6 68.3l-2.6-1.9 2.2 .5 2.6 1.9z"/>
<path fill="#c27f7f" stroke="#c27f7f" d="M242.5 67.8l-2.6-1.9 2.1 .5 2.6 1.9z"/>
<path fill="#c48582" stroke="#c48582" d="M240.6 67.1l-2.6-1.8 1.9 .6 2.6 1.9z"/>
<path fill="#c78d85" stroke="#c78d85" d="M238.7 66.4l-2.6-1.8 1.9 .7 2.6 1.8z"/>
<path fill="#c99489" stroke="#c99489" d="M237.1 65.6l-2.7-1.8 1.7 .8 2.6 1.8z"/>
<path fill="#cb9a8c" stroke="#cb9a8c" d="M235.5 64.7l-2.6-1.8 1.5 .9 2.7 1.8z"/>
<path fill="#cc9f8e" stroke="#cc9f8e" d="M234 63.7l-2.6-1.6 1.5 .8 2.6 1.8z"/>
<path fill="#cea591" stroke="#cea591" d="M232.7 62.8l-2.6-1.6 1.3 .9 2.6 1.6z"/>
<path fill="#d0ab94" stroke="#d0ab94" d="M231.5 61.9l-2.7-1.5 1.3 .8 2.6 1.6z"/>
<path fill="#d3b197" stroke="#d3b197" d="M230.3 60.9l-2.6-1.5 1.1 1 2.7 1.5z"/>
<path fill="#d5b89a" stroke="#d5b89a" d="M229.3 59.8l-2.6-1.4 1 1 2.6 1.5z"/>
<path fill="#d7bd9d" stroke="#d7bd9d" d="M228.4 58.5l-2.6-1.3 .9 1.2 2.6 1.4z"/>
<path fill="#dac4a1" stroke="#dac4a1" d="M227.6 57.1l-2.6-1.3 .8 1.4 2.6 1.3z"/>
<path fill="#ddcba4" stroke="#ddcba4" d="M226.9 55.6l-2.6-1.2 .7 1.4 2.6 1.3z"/>
<path fill="#ded0a7" stroke="#ded0a7" d="M226.3 53.9l-2.6-1.1 .6 1.6 2.6 1.2z"/>
<path fill="#e1d6aa" stroke="#e1d6aa" d="M225.7 52.2l-2.6-1 .6 1.6 2.6 1.1z"/>
<path fill="#e3dbad" stroke="#e3dbad" d="M225.3 50.5l-2.6-1 .4 1.7 2.6 1z"/>
<path fill="#e5e1b0" stroke="#e5e1b0" d="M224.9 48.6l-2.6-.9 .4 1.8 2.6 1z"/>
<path fill="#e9e8b4" stroke="#e9e8b4" d="M224.6 47l-2.6-1 .3 1.7 2.6 .9z"/>
<path fill="#ececbf" stroke="#ececbf" d="M224.4 45.3l-2.6-1.1 .2 1.8 2.6 1z"/>
<path fill="#ededc6" stroke="#ededc6" d="M224.3 43l-2.6-1.3 .1 2.5 2.6 1.1zM224.2 41l-2.6-1.6 .1 2.3 2.6 1.3zM224.1 39.9l-2.6-1.7 .1 1.2 2.6 1.6zM224.1 39.7l-2.6-1.7 0 .2 2.6 1.7z"/>
<path fill="#7c5151" stroke="#7c5151" d="M299.3 67.7l-2.5-1.8 4.6-.7 2.5 1.8z"/>
<path fill="#7f5353" stroke="#7f5353" d="M294.9 68.4l-2.5-1.8 4.4-.7 2.5 1.8z"/>
<path fill="#815555" stroke="#815555" d="M290.7 69l-2.5-1.8 4.2-.6 2.5 1.8z"/>
<path fill="#865858" stroke="#865858" d="M286.6 69.5l-2.5-1.8 4.1-.5 2.5 1.8z"/>
<path fill="#895a5a" stroke="#895a5a" d="M282.7 70l-2.5-1.8 3.9-.5 2.5 1.8z"/>
<path fill="#8e5d5d" stroke="#8e5d5d" d="M278.9 70.4l-2.5-1.8 3.8-.4 2.5 1.8z"/>
<path fill="#905e5e" stroke="#905e5e" d="M275.3 70.7l-2.5-1.8 3.6-.3 2.5 1.8z"/>
<path fill="#956161" stroke="#956161" d="M271.8 71l-2.5-1.8 3.5-.3 2.5 1.8z"/>
<path fill="#976363" stroke="#976363" d="M268.5 71.3l-2.5-1.9 3.3-.2 2.5 1.8z"/>
<path fill="#9b6666" stroke="#9b6666" d="M265.4 71.5l-2.6-2 3.2-.1 2.5 1.9z"/>
<path fill="#9f6868" stroke="#9f6868" d="M262.3 71.5l-2.5-1.9 3-.1 2.6 2z"/>
<path fill="#a46b6b" stroke="#a46b6b" d="M259.4 71.6l-2.5-2 2.9 0 2.5 1.9z"/>
<path fill="#a86e6e" stroke="#a86e6e" d="M256.7 71.5l-2.5-2 2.7 .1 2.5 2z"/>
<path fill="#ac7070" stroke="#ac7070" d="M254.1 71.4l-2.5-2 2.6 .1 2.5 2z"/>
<path fill="#af7373" stroke="#af7373" d="M251.6 71.1l-2.5-2 2.5 .3 2.5 2z"/>
<path fill="#b57777" stroke="#b57777" d="M249.3 70.8l-2.5-2 2.3 .3 2.5 2z"/>
<path fill="#bb7a7a" stroke="#bb7a7a" d="M247.1 70.3l-2.5-2 2.2 .5 2.5 2z"/>
<path fill="#c07e7e" stroke="#c07e7e" d="M245 69.8l-2.5-2 2.1 .5 2.5 2z"/>
<path fill="#c48381" stroke="#c48381" d="M243.1 69.1l-2.5-2 1.9 .7 2.5 2z"/>
<path fill="#c68a84" stroke="#c68a84" d="M241.3 68.4l-2.6-2 1.9 .7 2.5 2z"/>
<path fill="#c89187" stroke="#c89187" d="M239.6 67.5l-2.5-1.9 1.6 .8 2.6 2z"/>
<path fill="#ca988b" stroke="#ca988b" d="M238 66.6l-2.5-1.9 1.6 .9 2.5 1.9z"/>
<path fill="#cc9f8e" stroke="#cc9f8e" d="M236.5 65.6l-2.5-1.9 1.5 1 2.5 1.9z"/>
<path fill="#cea591" stroke="#cea591" d="M235.2 64.6l-2.5-1.8 1.3 .9 2.5 1.9z"/>
<path fill="#d0ab94" stroke="#d0ab94" d="M234 63.6l-2.5-1.7 1.2 .9 2.5 1.8z"/>
<path fill="#d3b197" stroke="#d3b197" d="M232.8 62.4l-2.5-1.5 1.2 1 2.5 1.7z"/>
<path fill="#d5b89a" stroke="#d5b89a" d="M231.8 61.2l-2.5-1.4 1 1.1 2.5 1.5z"/>
<path fill="#d7bd9d" stroke="#d7bd9d" d="M230.9 59.8l-2.5-1.3 .9 1.3 2.5 1.4z"/>
<path fill="#dac4a1" stroke="#dac4a1" d="M230.1 58.4l-2.5-1.3 .8 1.4 2.5 1.3z"/>
<path fill="#ddcba4" stroke="#ddcba4" d="M229.4 56.8l-2.5-1.2 .7 1.5 2.5 1.3z"/>
<path fill="#dfd1a8" stroke="#dfd1a8" d="M228.8 55.1l-2.5-1.2 .6 1.7 2.5 1.2z"/>
<path fill="#e1d6aa" stroke="#e1d6aa" d="M228.3 53.3l-2.6-1.1 .6 1.7 2.5 1.2z"/>
<path fill="#e4dcae" stroke="#e4dcae" d="M227.8 51.4l-2.5-.9 .4 1.7 2.6 1.1z"/>
<path fill="#e5e1b0" stroke="#e5e1b0" d="M227.4 49.6l-2.5-1 .4 1.9 2.5 .9z"/>
<path fill="#e9e8b4" stroke="#e9e8b4" d="M227.2 47.9l-2.6-.9 .3 1.6 2.5 1z"/>
<path fill="#ebebbd" stroke="#ebebbd" d="M226.9 46.3l-2.5-1 .2 1.7 2.6 .9z"/>
<path fill="#ededc3" stroke="#ededc3" d="M226.8 44.3l-2.5-1.3 .1 2.3 2.5 1zM226.7 42.6l-2.5-1.6 .1 2 2.5 1.3zM226.6 41.6l-2.5-1.7 .1 1.1 2.5 1.6zM226.6 41.4l-2.5-1.7 0 .2 2.5 1.7z"/>
<path fill="#774e4e" stroke="#774e4e" d="M301.7 69.5l-2.4-1.8 4.6-.7 2.4 1.8z"/>
<path fill="#7c5151" stroke="#7c5151" d="M297.4 70.2l-2.5-1.8 4.4-.7 2.4 1.8z"/>
<path fill="#7f5353" stroke="#7f5353" d="M293.1 70.8l-2.4-1.8 4.2-.6 2.5 1.8z"/>
<path fill="#815555" stroke="#815555" d="M289 71.3l-2.4-1.8 4.1-.5 2.4 1.8z"/>
<path fill="#865858" stroke="#865858" d="M285.1 71.8l-2.4-1.8 3.9-.5 2.4 1.8z"/>
<path fill="#895a5a" stroke="#895a5a" d="M281.4 72.2l-2.5-1.8 3.8-.4 2.4 1.8z"/>
<path fill="#8e5d5d" stroke="#8e5d5d" d="M277.7 72.6l-2.4-1.9 3.6-.3 2.5 1.8z"/>
<path fill="#905e5e" stroke="#905e5e" d="M274.3 72.9l-2.5-1.9 3.5-.3 2.4 1.9z"/>
<path fill="#956161" stroke="#956161" d="M271 73.2l-2.5-1.9 3.3-.3 2.5 1.9z"/>
<path fill="#976363" stroke="#976363" d="M267.8 73.4l-2.4-1.9 3.1-.2 2.5 1.9z"/>
<path fill="#9b6666" stroke="#9b6666" d="M264.8 73.5l-2.5-2 3.1 0 2.4 1.9z"/>
<path fill="#9f6868" stroke="#9f6868" d="M261.9 73.5l-2.5-1.9 2.9-.1 2.5 2z"/>
<path fill="#a46b6b" stroke="#a46b6b" d="M259.1 73.5l-2.4-2 2.7 .1 2.5 1.9z"/>
<path fill="#a86e6e" stroke="#a86e6e" d="M256.5 73.3l-2.4-1.9 2.6 .1 2.4 2z"/>
<path fill="#ae7272" stroke="#ae7272" d="M254.1 73.1l-2.5-2 2.5 .3 2.4 1.9z"/>
<path fill="#b17474" stroke="#b17474" d="M251.7 72.8l-2.4-2 2.3 .3 2.5 2z"/>
<path fill="#b77878" stroke="#b77878" d="M249.5 72.3l-2.4-2 2.2 .5 2.4 2z"/>
<path fill="#bc7b7b" stroke="#bc7b7b" d="M247.5 71.8l-2.5-2 2.1 .5 2.4 2z"/>
<path fill="#c27f7f" stroke="#c27f7f" d="M245.5 71.2l-2.4-2.1 1.9 .7 2.5 2z"/>
<path fill="#c48582" stroke="#c48582" d="M243.7 70.4l-2.4-2 1.8 .7 2.4 2.1z"/>
<path fill="#c78d85" stroke="#c78d85" d="M242 69.5l-2.4-2 1.7 .9 2.4 2z"/>
<path fill="#c99489" stroke="#c99489" d="M240.4 68.6l-2.4-2 1.6 .9 2.4 2z"/>
<path fill="#cc9c8d" stroke="#cc9c8d" d="M239 67.5l-2.5-1.9 1.5 1 2.4 2z"/>
<path fill="#cea390" stroke="#cea390" d="M237.6 66.4l-2.4-1.8 1.3 1 2.5 1.9z"/>
<path fill="#d0a993" stroke="#d0a993" d="M236.4 65.3l-2.4-1.7 1.2 1 2.4 1.8z"/>
<path fill="#d3b197" stroke="#d3b197" d="M235.3 64l-2.5-1.6 1.2 1.2 2.4 1.7z"/>
<path fill="#d5b89a" stroke="#d5b89a" d="M234.3 62.7l-2.5-1.5 1 1.2 2.5 1.6z"/>
<path fill="#d7bd9d" stroke="#d7bd9d" d="M233.4 61.2l-2.5-1.4 .9 1.4 2.5 1.5z"/>
<path fill="#dac4a1" stroke="#dac4a1" d="M232.5 59.6l-2.4-1.2 .8 1.4 2.5 1.4z"/>
<path fill="#ddcba4" stroke="#ddcba4" d="M231.8 57.9l-2.4-1.1 .7 1.6 2.4 1.2z"/>
<path fill="#dfd1a8" stroke="#dfd1a8" d="M231.2 56.1l-2.4-1 .6 1.7 2.4 1.1z"/>
<path fill="#e2d8ab" stroke="#e2d8ab" d="M230.7 54.3l-2.4-1 .5 1.8 2.4 1z"/>
<path fill="#e4dcae" stroke="#e4dcae" d="M230.2 52.4l-2.4-1 .5 1.9 2.4 1z"/>
<path fill="#e5e1b0" stroke="#e5e1b0" d="M229.9 50.6l-2.5-1 .4 1.8 2.4 1z"/>
<path fill="#e8e7b3" stroke="#e8e7b3" d="M229.6 48.9l-2.4-1 .2 1.7 2.5 1z"/>
<path fill="#ebebbd" stroke="#ebebbd" d="M229.4 47.3l-2.5-1 .3 1.6 2.4 1z"/>
<path fill="#ececc1" stroke="#ececc1" d="M229.2 45.6l-2.4-1.3 .1 2 2.5 1zM229.1 44.1l-2.4-1.5 .1 1.7 2.4 1.3zM229.1 43.3l-2.5-1.7 .1 1 2.4 1.5zM229.1 43.1l-2.5-1.7 0 .2 2.5 1.7z"/>
<path fill="#744c4c" stroke="#744c4c" d="M304.1 71.2l-2.4-1.7 4.6-.7 2.3 1.7z"/>
<path fill="#774e4e" stroke="#774e4e" d="M299.7 71.9l-2.3-1.7 4.3-.7 2.4 1.7z"/>
<path fill="#7c5151" stroke="#7c5151" d="M295.4 72.5l-2.3-1.7 4.3-.6 2.3 1.7z"/>
<path fill="#7f5353" stroke="#7f5353" d="M291.4 73.1l-2.4-1.8 4.1-.5 2.3 1.7z"/>
<path fill="#815555" stroke="#815555" d="M287.5 73.5l-2.4-1.7 3.9-.5 2.4 1.8z"/>
<path fill="#865858" stroke="#865858" d="M283.7 74l-2.3-1.8 3.7-.4 2.4 1.7z"/>
<path fill="#895a5a" stroke="#895a5a" d="M280.1 74.4l-2.4-1.8 3.7-.4 2.3 1.8z"/>
<path fill="#8b5b5b" stroke="#8b5b5b" d="M276.6 74.7l-2.3-1.8 3.4-.3 2.4 1.8z"/>
<path fill="#905e5e" stroke="#905e5e" d="M273.3 75l-2.3-1.8 3.3-.3 2.3 1.8z"/>
<path fill="#956161" stroke="#956161" d="M270.1 75.3l-2.3-1.9 3.2-.2 2.3 1.8z"/>
<path fill="#976363" stroke="#976363" d="M267.1 75.4l-2.3-1.9 3-.1 2.3 1.9z"/>
<path fill="#9b6666" stroke="#9b6666" d="M264.2 75.4l-2.3-1.9 2.9 0 2.3 1.9z"/>
<path fill="#9f6868" stroke="#9f6868" d="M261.5 75.4l-2.4-1.9 2.8 0 2.3 1.9z"/>
<path fill="#a46b6b" stroke="#a46b6b" d="M258.9 75.3l-2.4-2 2.6 .2 2.4 1.9z"/>
<path fill="#aa6f6f" stroke="#aa6f6f" d="M256.4 75.1l-2.3-2 2.4 .2 2.4 2z"/>
<path fill="#ae7272" stroke="#ae7272" d="M254.1 74.7l-2.4-1.9 2.4 .3 2.3 2z"/>
<path fill="#b37575" stroke="#b37575" d="M251.9 74.3l-2.4-2 2.2 .5 2.4 1.9z"/>
<path fill="#b97979" stroke="#b97979" d="M249.8 73.8l-2.3-2 2 .5 2.4 2z"/>
<path fill="#be7c7c" stroke="#be7c7c" d="M247.8 73.1l-2.3-1.9 2 .6 2.3 2z"/>
<path fill="#c38080" stroke="#c38080" d="M246 72.4l-2.3-2 1.8 .8 2.3 1.9z"/>
<path fill="#c58883" stroke="#c58883" d="M244.3 71.5l-2.3-2 1.7 .9 2.3 2z"/>
<path fill="#c89187" stroke="#c89187" d="M242.8 70.6l-2.4-2 1.6 .9 2.3 2z"/>
<path fill="#ca988b" stroke="#ca988b" d="M241.3 69.5l-2.3-2 1.4 1.1 2.4 2z"/>
<path fill="#cda18f" stroke="#cda18f" d="M240 68.3l-2.4-1.9 1.4 1.1 2.3 2z"/>
<path fill="#d0a993" stroke="#d0a993" d="M238.7 67l-2.3-1.7 1.2 1.1 2.4 1.9z"/>
<path fill="#d3b197" stroke="#d3b197" d="M237.6 65.6l-2.3-1.6 1.1 1.3 2.3 1.7z"/>
<path fill="#d5b699" stroke="#d5b699" d="M236.6 64.1l-2.3-1.4 1 1.3 2.3 1.6z"/>
<path fill="#d7bd9d" stroke="#d7bd9d" d="M235.7 62.5l-2.3-1.3 .9 1.5 2.3 1.4z"/>
<path fill="#dac4a1" stroke="#dac4a1" d="M234.9 60.8l-2.4-1.2 .9 1.6 2.3 1.3z"/>
<path fill="#ddcba4" stroke="#ddcba4" d="M234.2 59l-2.4-1.1 .7 1.7 2.4 1.2z"/>
<path fill="#dfd1a8" stroke="#dfd1a8" d="M233.5 57.2l-2.3-1.1 .6 1.8 2.4 1.1z"/>
<path fill="#e2d8ab" stroke="#e2d8ab" d="M233 55.3l-2.3-1 .5 1.8 2.3 1.1z"/>
<path fill="#e4dcae" stroke="#e4dcae" d="M232.6 53.4l-2.4-1 .5 1.9 2.3 1z"/>
<path fill="#e6e2b1" stroke="#e6e2b1" d="M232.2 51.5l-2.3-.9 .3 1.8 2.4 1z"/>
<path fill="#e8e7b3" stroke="#e8e7b3" d="M231.9 49.9l-2.3-1 .3 1.7 2.3 .9z"/>
<path fill="#eaeaba" stroke="#eaeaba" d="M231.7 48.3l-2.3-1 .2 1.6 2.3 1z"/>
<path fill="#ececbf" stroke="#ececbf" d="M231.5 46.8l-2.3-1.2 .2 1.7 2.3 1zM231.4 45.6l-2.3-1.5 .1 1.5 2.3 1.2zM231.4 44.9l-2.3-1.6 0 .8 2.3 1.5zM231.4 44.7l-2.3-1.6 0 .2 2.3 1.6z"/>
<path fill="#714a4a" stroke="#714a4a" d="M306.3 72.8l-2.2-1.6 4.5-.7 2.3 1.6z"/>
<path fill="#744c4c" stroke="#744c4c" d="M301.9 73.5l-2.2-1.6 4.4-.7 2.2 1.6z"/>
<path fill="#774e4e" stroke="#774e4e" d="M297.7 74.1l-2.3-1.6 4.3-.6 2.2 1.6z"/>
<path fill="#7c5151" stroke="#7c5151" d="M293.6 74.7l-2.2-1.6 4-.6 2.3 1.6z"/>
<path fill="#7f5353" stroke="#7f5353" d="M289.7 75.2l-2.2-1.7 3.9-.4 2.2 1.6z"/>
<path fill="#815555" stroke="#815555" d="M285.9 75.6l-2.2-1.6 3.8-.5 2.2 1.7z"/>
<path fill="#865858" stroke="#865858" d="M282.3 76l-2.2-1.6 3.6-.4 2.2 1.6z"/>
<path fill="#895a5a" stroke="#895a5a" d="M278.8 76.4l-2.2-1.7 3.5-.3 2.2 1.6z"/>
<path fill="#8b5b5b" stroke="#8b5b5b" d="M275.5 76.7l-2.2-1.7 3.3-.3 2.2 1.7z"/>
<path fill="#905e5e" stroke="#905e5e" d="M272.4 77l-2.3-1.7 3.2-.3 2.2 1.7z"/>
<path fill="#956161" stroke="#956161" d="M269.3 77.1l-2.2-1.7 3-.1 2.3 1.7z"/>
<path fill="#976363" stroke="#976363" d="M266.4 77.2l-2.2-1.8 2.9 0 2.2 1.7z"/>
<path fill="#9b6666" stroke="#9b6666" d="M263.7 77.2l-2.2-1.8 2.7 0 2.2 1.8z"/>
<path fill="#a26a6a" stroke="#a26a6a" d="M261.1 77.1l-2.2-1.8 2.6 .1 2.2 1.8z"/>
<path fill="#a66c6c" stroke="#a66c6c" d="M258.6 76.9l-2.2-1.8 2.5 .2 2.2 1.8z"/>
<path fill="#aa6f6f" stroke="#aa6f6f" d="M256.3 76.6l-2.2-1.9 2.3 .4 2.2 1.8z"/>
<path fill="#af7373" stroke="#af7373" d="M254.1 76.1l-2.2-1.8 2.2 .4 2.2 1.9z"/>
<path fill="#b57777" stroke="#b57777" d="M252 75.6l-2.2-1.8 2.1 .5 2.2 1.8z"/>
<path fill="#bb7a7a" stroke="#bb7a7a" d="M250.1 75l-2.3-1.9 2 .7 2.2 1.8z"/>
<path fill="#c07e7e" stroke="#c07e7e" d="M248.3 74.2l-2.3-1.8 1.8 .7 2.3 1.9z"/>
<path fill="#c48582" stroke="#c48582" d="M246.6 73.4l-2.3-1.9 1.7 .9 2.3 1.8z"/>
<path fill="#c78d85" stroke="#c78d85" d="M245 72.4l-2.2-1.8 1.5 .9 2.3 1.9z"/>
<path fill="#c9968a" stroke="#c9968a" d="M243.5 71.3l-2.2-1.8 1.5 1.1 2.2 1.8z"/>
<path fill="#cc9f8e" stroke="#cc9f8e" d="M242.2 70l-2.2-1.7 1.3 1.2 2.2 1.8z"/>
<path fill="#cfa792" stroke="#cfa792" d="M241 68.7l-2.3-1.7 1.3 1.3 2.2 1.7z"/>
<path fill="#d2af96" stroke="#d2af96" d="M239.8 67.2l-2.2-1.6 1.1 1.4 2.3 1.7z"/>
<path fill="#d5b699" stroke="#d5b699" d="M238.8 65.6l-2.2-1.5 1 1.5 2.2 1.6z"/>
<path fill="#d7bd9d" stroke="#d7bd9d" d="M237.9 63.8l-2.2-1.3 .9 1.6 2.2 1.5z"/>
<path fill="#dac4a1" stroke="#dac4a1" d="M237.1 62l-2.2-1.2 .8 1.7 2.2 1.3z"/>
<path fill="#ddcda5" stroke="#ddcda5" d="M236.4 60.1l-2.2-1.1 .7 1.8 2.2 1.2z"/>
<path fill="#dfd1a8" stroke="#dfd1a8" d="M235.8 58.2l-2.3-1 .7 1.8 2.2 1.1z"/>
<path fill="#e2d8ab" stroke="#e2d8ab" d="M235.3 56.3l-2.3-1 .5 1.9 2.3 1z"/>
<path fill="#e4deae" stroke="#e4deae" d="M234.8 54.4l-2.2-1 .4 1.9 2.3 1z"/>
<path fill="#e6e2b1" stroke="#e6e2b1" d="M234.4 52.5l-2.2-1 .4 1.9 2.2 1z"/>
<path fill="#e8e7b3" stroke="#e8e7b3" d="M234.2 50.9l-2.3-1 .3 1.6 2.2 1z"/>
<path fill="#eaeab8" stroke="#eaeab8" d="M233.9 49.3l-2.2-1 .2 1.6 2.3 1z"/>
<path fill="#ebebbd" stroke="#ebebbd" d="M233.8 48l-2.3-1.2 .2 1.5 2.2 1zM233.7 46.9l-2.3-1.3 .1 1.2 2.3 1.2zM233.6 46.4l-2.2-1.5 0 .7 2.3 1.3zM233.6 46.2l-2.2-1.5 0 .2 2.2 1.5z"/>
<path fill="#6e4848" stroke="#6e4848" d="M308.5 74.3l-2.2-1.5 4.6-.7 2.1 1.4z"/>
<path fill="#714a4a" stroke="#714a4a" d="M304.1 75l-2.2-1.5 4.4-.7 2.2 1.5z"/>
<path fill="#744c4c" stroke="#744c4c" d="M299.8 75.6l-2.1-1.5 4.2-.6 2.2 1.5z"/>
<path fill="#774e4e" stroke="#774e4e" d="M295.8 76.2l-2.2-1.5 4.1-.6 2.1 1.5z"/>
<path fill="#7c5151" stroke="#7c5151" d="M291.8 76.7l-2.1-1.5 3.9-.5 2.2 1.5z"/>
<path fill="#7f5353" stroke="#7f5353" d="M288.1 77.2l-2.2-1.6 3.8-.4 2.1 1.5z"/>
<path fill="#815555" stroke="#815555" d="M284.5 77.6l-2.2-1.6 3.6-.4 2.2 1.6z"/>
<path fill="#865858" stroke="#865858" d="M281 78l-2.2-1.6 3.5-.4 2.2 1.6z"/>
<path fill="#895a5a" stroke="#895a5a" d="M277.7 78.3l-2.2-1.6 3.3-.3 2.2 1.6z"/>
<path fill="#8b5b5b" stroke="#8b5b5b" d="M274.5 78.6l-2.1-1.6 3.1-.3 2.2 1.6z"/>
<path fill="#905e5e" stroke="#905e5e" d="M271.5 78.8l-2.2-1.7 3.1-.1 2.1 1.6z"/>
<path fill="#956161" stroke="#956161" d="M268.6 78.9l-2.2-1.7 2.9-.1 2.2 1.7z"/>
<path fill="#996464" stroke="#996464" d="M265.9 78.9l-2.2-1.7 2.7 0 2.2 1.7z"/>
<path fill="#9d6767" stroke="#9d6767" d="M263.2 78.8l-2.1-1.7 2.6 .1 2.2 1.7z"/>
<path fill="#a26a6a" stroke="#a26a6a" d="M260.8 78.6l-2.2-1.7 2.5 .2 2.1 1.7z"/>
<path fill="#a86e6e" stroke="#a86e6e" d="M258.4 78.3l-2.1-1.7 2.3 .3 2.2 1.7z"/>
<path fill="#ac7070" stroke="#ac7070" d="M256.2 77.9l-2.1-1.8 2.2 .5 2.1 1.7z"/>
<path fill="#b17474" stroke="#b17474" d="M254.2 77.4l-2.2-1.8 2.1 .5 2.1 1.8z"/>
<path fill="#b77878" stroke="#b77878" d="M252.2 76.7l-2.1-1.7 1.9 .6 2.2 1.8z"/>
<path fill="#be7c7c" stroke="#be7c7c" d="M250.4 76l-2.1-1.8 1.8 .8 2.1 1.7z"/>
<path fill="#c38080" stroke="#c38080" d="M248.7 75.1l-2.1-1.7 1.7 .8 2.1 1.8z"/>
<path fill="#c68a84" stroke="#c68a84" d="M247.1 74.1l-2.1-1.7 1.6 1 2.1 1.7z"/>
<path fill="#c99489" stroke="#c99489" d="M245.7 73l-2.2-1.7 1.5 1.1 2.1 1.7z"/>
<path fill="#cc9c8d" stroke="#cc9c8d" d="M244.3 71.7l-2.1-1.7 1.3 1.3 2.2 1.7z"/>
<path fill="#cea591" stroke="#cea591" d="M243.1 70.3l-2.1-1.6 1.2 1.3 2.1 1.7z"/>
<path fill="#d2af96" stroke="#d2af96" d="M242 68.7l-2.2-1.5 1.2 1.5 2.1 1.6z"/>
<path fill="#d5b699" stroke="#d5b699" d="M241 67l-2.2-1.4 1 1.6 2.2 1.5z"/>
<path fill="#d7bd9d" stroke="#d7bd9d" d="M240.1 65.2l-2.2-1.4 .9 1.8 2.2 1.4z"/>
<path fill="#dac4a1" stroke="#dac4a1" d="M239.3 63.3l-2.2-1.3 .8 1.8 2.2 1.4z"/>
<path fill="#ddcba4" stroke="#ddcba4" d="M238.6 61.3l-2.2-1.2 .7 1.9 2.2 1.3z"/>
<path fill="#dfd1a8" stroke="#dfd1a8" d="M237.9 59.4l-2.1-1.2 .6 1.9 2.2 1.2z"/>
<path fill="#e2d8ab" stroke="#e2d8ab" d="M237.4 57.4l-2.1-1.1 .5 1.9 2.1 1.2z"/>
<path fill="#e4dcae" stroke="#e4dcae" d="M237 55.5l-2.2-1.1 .5 1.9 2.1 1.1z"/>
<path fill="#e6e2b1" stroke="#e6e2b1" d="M236.6 53.7l-2.2-1.2 .4 1.9 2.2 1.1z"/>
<path fill="#e8e7b3" stroke="#e8e7b3" d="M236.3 51.9l-2.1-1 .2 1.6 2.2 1.2z"/>
<path fill="#e9e9b6" stroke="#e9e9b6" d="M236.1 50.4l-2.2-1.1 .3 1.6 2.1 1z"/>
<path fill="#eaeaba" stroke="#eaeaba" d="M235.9 49.2l-2.1-1.2 .1 1.3 2.2 1.1zM235.8 48.3l-2.1-1.4 .1 1.1 2.1 1.2zM235.8 47.8l-2.2-1.4 .1 .5 2.1 1.4zM235.8 47.7l-2.2-1.5 0 .2 2.2 1.4z"/>
<path fill="#6b4646" stroke="#6b4646" d="M310.5 75.7l-2-1.4 4.5-.8 2.1 1.4z"/>
<path fill="#6e4848" stroke="#6e4848" d="M306.1 76.4l-2-1.4 4.4-.7 2 1.4z"/>
<path fill="#714a4a" stroke="#714a4a" d="M301.9 77l-2.1-1.4 4.3-.6 2 1.4z"/>
<path fill="#744c4c" stroke="#744c4c" d="M297.8 77.6l-2-1.4 4-.6 2.1 1.4z"/>
<path fill="#794f4f" stroke="#794f4f" d="M293.9 78.2l-2.1-1.5 4-.5 2 1.4z"/>
<path fill="#7c5151" stroke="#7c5151" d="M290.1 78.6l-2-1.4 3.7-.5 2.1 1.5z"/>
<path fill="#7f5353" stroke="#7f5353" d="M286.5 79.1l-2-1.5 3.6-.4 2 1.4z"/>
<path fill="#815555" stroke="#815555" d="M283.1 79.5l-2.1-1.5 3.5-.4 2 1.5z"/>
<path fill="#865858" stroke="#865858" d="M279.7 79.9l-2-1.6 3.3-.3 2.1 1.5z"/>
<path fill="#895a5a" stroke="#895a5a" d="M276.6 80.2l-2.1-1.6 3.2-.3 2 1.6z"/>
<path fill="#8e5d5d" stroke="#8e5d5d" d="M273.5 80.3l-2-1.5 3-.2 2.1 1.6z"/>
<path fill="#926060" stroke="#926060" d="M270.7 80.4l-2.1-1.5 2.9-.1 2 1.5z"/>
<path fill="#976363" stroke="#976363" d="M267.9 80.4l-2-1.5 2.7 0 2.1 1.5z"/>
<path fill="#9b6666" stroke="#9b6666" d="M265.3 80.4l-2.1-1.6 2.7 .1 2 1.5z"/>
<path fill="#9f6868" stroke="#9f6868" d="M262.8 80.2l-2-1.6 2.4 .2 2.1 1.6z"/>
<path fill="#a46b6b" stroke="#a46b6b" d="M260.5 79.9l-2.1-1.6 2.4 .3 2 1.6z"/>
<path fill="#aa6f6f" stroke="#aa6f6f" d="M258.3 79.5l-2.1-1.6 2.2 .4 2.1 1.6z"/>
<path fill="#af7373" stroke="#af7373" d="M256.2 79l-2-1.6 2 .5 2.1 1.6z"/>
<path fill="#b57777" stroke="#b57777" d="M254.3 78.4l-2.1-1.7 2 .7 2 1.6z"/>
<path fill="#bb7a7a" stroke="#bb7a7a" d="M252.5 77.7l-2.1-1.7 1.8 .7 2.1 1.7z"/>
<path fill="#c27f7f" stroke="#c27f7f" d="M250.8 76.8l-2.1-1.7 1.7 .9 2.1 1.7z"/>
<path fill="#c58883" stroke="#c58883" d="M249.2 75.8l-2.1-1.7 1.6 1 2.1 1.7z"/>
<path fill="#c89187" stroke="#c89187" d="M247.7 74.7l-2-1.7 1.4 1.1 2.1 1.7z"/>
<path fill="#cb9a8c" stroke="#cb9a8c" d="M246.4 73.4l-2.1-1.7 1.4 1.3 2 1.7z"/>
<path fill="#cea390" stroke="#cea390" d="M245.2 71.9l-2.1-1.6 1.2 1.4 2.1 1.7z"/>
<path fill="#d1ad95" stroke="#d1ad95" d="M244.1 70.3l-2.1-1.6 1.1 1.6 2.1 1.6z"/>
<path fill="#d4b498" stroke="#d4b498" d="M243 68.6l-2-1.6 1 1.7 2.1 1.6z"/>
<path fill="#d7bd9d" stroke="#d7bd9d" d="M242.1 66.7l-2-1.5 .9 1.8 2 1.6z"/>
<path fill="#dac4a1" stroke="#dac4a1" d="M241.3 64.7l-2-1.4 .8 1.9 2 1.5z"/>
<path fill="#ddcba4" stroke="#ddcba4" d="M240.6 62.7l-2-1.4 .7 2 2 1.4z"/>
<path fill="#dfd1a8" stroke="#dfd1a8" d="M240 60.7l-2.1-1.3 .7 1.9 2 1.4z"/>
<path fill="#e2d8ab" stroke="#e2d8ab" d="M239.5 58.7l-2.1-1.3 .5 2 2.1 1.3z"/>
<path fill="#e4dcae" stroke="#e4dcae" d="M239 56.8l-2-1.3 .4 1.9 2.1 1.3z"/>
<path fill="#e5e1b0" stroke="#e5e1b0" d="M238.7 54.9l-2.1-1.2 .4 1.8 2 1.3z"/>
<path fill="#e7e5b2" stroke="#e7e5b2" d="M238.4 53.1l-2.1-1.2 .3 1.8 2.1 1.2z"/>
<path fill="#e9e8b4" stroke="#e9e8b4" d="M238.1 51.6l-2-1.2 .2 1.5 2.1 1.2z"/>
<path fill="#eaeab8" stroke="#eaeab8" d="M238 50.4l-2.1-1.2 .2 1.2 2 1.2zM237.9 49.7l-2.1-1.4 .1 .9 2.1 1.2zM237.8 49.2l-2-1.4 0 .5 2.1 1.4zM237.8 49.1l-2-1.4 0 .1 2 1.4z"/>
<path fill="#674444" stroke="#674444" d="M312.5 77l-2-1.3 4.6-.8 1.9 1.3z"/>
<path fill="#6b4646" stroke="#6b4646" d="M308.1 77.7l-2-1.3 4.4-.7 2 1.3z"/>
<path fill="#6e4848" stroke="#6e4848" d="M303.9 78.4l-2-1.4 4.2-.6 2 1.3z"/>
<path fill="#714a4a" stroke="#714a4a" d="M299.8 79l-2-1.4 4.1-.6 2 1.4z"/>
<path fill="#744c4c" stroke="#744c4c" d="M295.9 79.6l-2-1.4 3.9-.6 2 1.4z"/>
<path fill="#794f4f" stroke="#794f4f" d="M292.1 80.1l-2-1.5 3.8-.4 2 1.4z"/>
<path fill="#7c5151" stroke="#7c5151" d="M288.5 80.5l-2-1.4 3.6-.5 2 1.5z"/>
<path fill="#7f5353" stroke="#7f5353" d="M285 80.9l-1.9-1.4 3.4-.4 2 1.4z"/>
<path fill="#815555" stroke="#815555" d="M281.7 81.3l-2-1.4 3.4-.4 1.9 1.4z"/>
<path fill="#865858" stroke="#865858" d="M278.5 81.6l-1.9-1.4 3.1-.3 2 1.4z"/>
<path fill="#895a5a" stroke="#895a5a" d="M275.5 81.8l-2-1.5 3.1-.1 1.9 1.4z"/>
<path fill="#8e5d5d" stroke="#8e5d5d" d="M272.6 81.9l-1.9-1.5 2.8-.1 2 1.5z"/>
<path fill="#926060" stroke="#926060" d="M269.9 82l-2-1.6 2.8 0 1.9 1.5z"/>
<path fill="#976363" stroke="#976363" d="M267.3 81.9l-2-1.5 2.6 0 2 1.6z"/>
<path fill="#9b6666" stroke="#9b6666" d="M264.8 81.8l-2-1.6 2.5 .2 2 1.5z"/>
<path fill="#a26a6a" stroke="#a26a6a" d="M262.5 81.5l-2-1.6 2.3 .3 2 1.6z"/>
<path fill="#a66c6c" stroke="#a66c6c" d="M260.3 81.1l-2-1.6 2.2 .4 2 1.6z"/>
<path fill="#ac7070" stroke="#ac7070" d="M258.2 80.6l-2-1.6 2.1 .5 2 1.6z"/>
<path fill="#b17474" stroke="#b17474" d="M256.3 80l-2-1.6 1.9 .6 2 1.6z"/>
<path fill="#b97979" stroke="#b97979" d="M254.4 79.3l-1.9-1.6 1.8 .7 2 1.6z"/>
<path fill="#be7c7c" stroke="#be7c7c" d="M252.7 78.5l-1.9-1.7 1.7 .9 1.9 1.6z"/>
<path fill="#c48381" stroke="#c48381" d="M251.2 77.5l-2-1.7 1.6 1 1.9 1.7z"/>
<path fill="#c78d85" stroke="#c78d85" d="M249.7 76.3l-2-1.6 1.5 1.1 2 1.7z"/>
<path fill="#c9968a" stroke="#c9968a" d="M248.4 75l-2-1.6 1.3 1.3 2 1.6z"/>
<path fill="#cda18f" stroke="#cda18f" d="M247.1 73.6l-1.9-1.7 1.2 1.5 2 1.6z"/>
<path fill="#d0a993" stroke="#d0a993" d="M246 71.9l-1.9-1.6 1.1 1.6 1.9 1.7z"/>
<path fill="#d3b297" stroke="#d3b297" d="M245 70.2l-2-1.6 1.1 1.7 1.9 1.6z"/>
<path fill="#d6ba9b" stroke="#d6ba9b" d="M244.1 68.3l-2-1.6 .9 1.9 2 1.6z"/>
<path fill="#d9c3a0" stroke="#d9c3a0" d="M243.3 66.3l-2-1.6 .8 2 2 1.6z"/>
<path fill="#dcc9a3" stroke="#dcc9a3" d="M242.6 64.2l-2-1.5 .7 2 2 1.6z"/>
<path fill="#ded0a7" stroke="#ded0a7" d="M242 62.2l-2-1.5 .6 2 2 1.5z"/>
<path fill="#e1d6aa" stroke="#e1d6aa" d="M241.4 60.2l-1.9-1.5 .5 2 2 1.5z"/>
<path fill="#e3dbad" stroke="#e3dbad" d="M241 58.2l-2-1.4 .5 1.9 1.9 1.5z"/>
<path fill="#e5dfaf" stroke="#e5dfaf" d="M240.6 56.3l-1.9-1.4 .3 1.9 2 1.4z"/>
<path fill="#e7e4b2" stroke="#e7e4b2" d="M240.3 54.5l-1.9-1.4 .3 1.8 1.9 1.4z"/>
<path fill="#e8e7b3" stroke="#e8e7b3" d="M240.1 52.9l-2-1.3 .3 1.5 1.9 1.4z"/>
<path fill="#e9e9b6" stroke="#e9e9b6" d="M240 51.8l-2-1.4 .1 1.2 2 1.3zM239.9 51l-2-1.3 .1 .7 2 1.4zM239.8 50.6l-2-1.4 .1 .5 2 1.3zM239.8 50.5l-2-1.4 0 .1 2 1.4z"/>
<path fill="#644242" stroke="#644242" d="M314.4 78.2l-1.9-1.2 4.5-.8 1.9 1.2z"/>
<path fill="#674444" stroke="#674444" d="M310 79l-1.9-1.3 4.4-.7 1.9 1.2z"/>
<path fill="#6b4646" stroke="#6b4646" d="M305.7 79.7l-1.8-1.3 4.2-.7 1.9 1.3z"/>
<path fill="#6e4848" stroke="#6e4848" d="M301.7 80.3l-1.9-1.3 4.1-.6 1.8 1.3z"/>
<path fill="#714a4a" stroke="#714a4a" d="M297.8 80.9l-1.9-1.3 3.9-.6 1.9 1.3z"/>
<path fill="#774e4e" stroke="#774e4e" d="M294 81.4l-1.9-1.3 3.8-.5 1.9 1.3z"/>
<path fill="#794f4f" stroke="#794f4f" d="M290.4 81.9l-1.9-1.4 3.6-.4 1.9 1.3z"/>
<path fill="#7c5151" stroke="#7c5151" d="M286.9 82.3l-1.9-1.4 3.5-.4 1.9 1.4z"/>
<path fill="#7f5353" stroke="#7f5353" d="M283.6 82.7l-1.9-1.4 3.3-.4 1.9 1.4z"/>
<path fill="#845656" stroke="#845656" d="M280.4 83l-1.9-1.4 3.2-.3 1.9 1.4z"/>
<path fill="#865858" stroke="#865858" d="M277.4 83.3l-1.9-1.5 3-.2 1.9 1.4z"/>
<path fill="#8b5b5b" stroke="#8b5b5b" d="M274.5 83.4l-1.9-1.5 2.9-.1 1.9 1.5z"/>
<path fill="#905e5e" stroke="#905e5e" d="M271.8 83.5l-1.9-1.5 2.7-.1 1.9 1.5z"/>
<path fill="#956161" stroke="#956161" d="M269.2 83.4l-1.9-1.5 2.6 .1 1.9 1.5z"/>
<path fill="#996464" stroke="#996464" d="M266.7 83.3l-1.9-1.5 2.5 .1 1.9 1.5z"/>
<path fill="#9d6767" stroke="#9d6767" d="M264.4 83l-1.9-1.5 2.3 .3 1.9 1.5z"/>
<path fill="#a46b6b" stroke="#a46b6b" d="M262.2 82.7l-1.9-1.6 2.2 .4 1.9 1.5z"/>
<path fill="#a86e6e" stroke="#a86e6e" d="M260.1 82.2l-1.9-1.6 2.1 .5 1.9 1.6z"/>
<path fill="#ae7272" stroke="#ae7272" d="M258.1 81.6l-1.8-1.6 1.9 .6 1.9 1.6z"/>
<path fill="#b37575" stroke="#b37575" d="M256.3 80.9l-1.9-1.6 1.9 .7 1.8 1.6z"/>
<path fill="#bb7a7a" stroke="#bb7a7a" d="M254.6 80.1l-1.9-1.6 1.7 .8 1.9 1.6z"/>
<path fill="#c27f7f" stroke="#c27f7f" d="M253.1 79.1l-1.9-1.6 1.5 1 1.9 1.6z"/>
<path fill="#c58883" stroke="#c58883" d="M251.6 78l-1.9-1.7 1.5 1.2 1.9 1.6z"/>
<path fill="#c89187" stroke="#c89187" d="M250.3 76.7l-1.9-1.7 1.3 1.3 1.9 1.7z"/>
<path fill="#cb9a8c" stroke="#cb9a8c" d="M249 75.2l-1.9-1.6 1.3 1.4 1.9 1.7z"/>
<path fill="#cea591" stroke="#cea591" d="M247.9 73.6l-1.9-1.7 1.1 1.7 1.9 1.6z"/>
<path fill="#d1ad95" stroke="#d1ad95" d="M246.9 71.9l-1.9-1.7 1 1.7 1.9 1.7z"/>
<path fill="#d5b699" stroke="#d5b699" d="M246 70l-1.9-1.7 .9 1.9 1.9 1.7z"/>
<path fill="#d7bd9d" stroke="#d7bd9d" d="M245.2 68l-1.9-1.7 .8 2 1.9 1.7z"/>
<path fill="#dbc6a2" stroke="#dbc6a2" d="M244.5 65.9l-1.9-1.7 .7 2.1 1.9 1.7z"/>
<path fill="#ddcda5" stroke="#ddcda5" d="M243.8 63.8l-1.8-1.6 .6 2 1.9 1.7z"/>
<path fill="#e0d3a8" stroke="#e0d3a8" d="M243.3 61.8l-1.9-1.6 .6 2 1.8 1.6z"/>
<path fill="#e2d8ab" stroke="#e2d8ab" d="M242.9 59.8l-1.9-1.6 .4 2 1.9 1.6z"/>
<path fill="#e4deae" stroke="#e4deae" d="M242.5 57.8l-1.9-1.5 .4 1.9 1.9 1.6z"/>
<path fill="#e6e2b1" stroke="#e6e2b1" d="M242.2 56l-1.9-1.5 .3 1.8 1.9 1.5z"/>
<path fill="#e7e5b2" stroke="#e7e5b2" d="M242 54.3l-1.9-1.4 .2 1.6 1.9 1.5z"/>
<path fill="#e8e7b3" stroke="#e8e7b3" d="M241.8 53.2l-1.8-1.4 .1 1.1 1.9 1.4z"/>
<path fill="#e9e8b4" stroke="#e9e8b4" d="M241.7 52.4l-1.8-1.4 .1 .8 1.8 1.4zM241.7 51.9l-1.9-1.3 .1 .4 1.8 1.4zM241.7 51.8l-1.9-1.3 0 .1 1.9 1.3z"/>
<path fill="#613f3f" stroke="#613f3f" d="M316.2 79.4l-1.8-1.2 4.5-.8 1.8 1.2z"/>
<path fill="#644242" stroke="#644242" d="M311.8 80.2l-1.8-1.2 4.4-.8 1.8 1.2z"/>
<path fill="#674444" stroke="#674444" d="M307.5 80.9l-1.8-1.2 4.3-.7 1.8 1.2z"/>
<path fill="#6b4646" stroke="#6b4646" d="M303.5 81.6l-1.8-1.3 4-.6 1.8 1.2z"/>
<path fill="#6e4848" stroke="#6e4848" d="M299.5 82.2l-1.7-1.3 3.9-.6 1.8 1.3z"/>
<path fill="#714a4a" stroke="#714a4a" d="M295.8 82.7l-1.8-1.3 3.8-.5 1.7 1.3z"/>
<path fill="#744c4c" stroke="#744c4c" d="M292.2 83.2l-1.8-1.3 3.6-.5 1.8 1.3z"/>
<path fill="#794f4f" stroke="#794f4f" d="M288.7 83.7l-1.8-1.4 3.5-.4 1.8 1.3z"/>
<path fill="#7c5151" stroke="#7c5151" d="M285.4 84.1l-1.8-1.4 3.3-.4 1.8 1.4z"/>
<path fill="#7f5353" stroke="#7f5353" d="M282.2 84.4l-1.8-1.4 3.2-.3 1.8 1.4z"/>
<path fill="#845656" stroke="#845656" d="M279.2 84.7l-1.8-1.4 3-.3 1.8 1.4z"/>
<path fill="#865858" stroke="#865858" d="M276.3 84.8l-1.8-1.4 2.9-.1 1.8 1.4z"/>
<path fill="#8b5b5b" stroke="#8b5b5b" d="M273.6 84.9l-1.8-1.4 2.7-.1 1.8 1.4z"/>
<path fill="#905e5e" stroke="#905e5e" d="M271 84.9l-1.8-1.5 2.6 .1 1.8 1.4z"/>
<path fill="#956161" stroke="#956161" d="M268.5 84.7l-1.8-1.4 2.5 .1 1.8 1.5z"/>
<path fill="#996464" stroke="#996464" d="M266.2 84.5l-1.8-1.5 2.3 .3 1.8 1.4z"/>
<path fill="#9f6868" stroke="#9f6868" d="M263.9 84.2l-1.7-1.5 2.2 .3 1.8 1.5z"/>
<path fill="#a46b6b" stroke="#a46b6b" d="M261.9 83.8l-1.8-1.6 2.1 .5 1.7 1.5z"/>
<path fill="#aa6f6f" stroke="#aa6f6f" d="M259.9 83.2l-1.8-1.6 2 .6 1.8 1.6z"/>
<path fill="#af7373" stroke="#af7373" d="M258.1 82.5l-1.8-1.6 1.8 .7 1.8 1.6z"/>
<path fill="#b57777" stroke="#b57777" d="M256.4 81.7l-1.8-1.6 1.7 .8 1.8 1.6z"/>
<path fill="#bc7b7b" stroke="#bc7b7b" d="M254.8 80.7l-1.7-1.6 1.5 1 1.8 1.6z"/>
<path fill="#c38080" stroke="#c38080" d="M253.4 79.6l-1.8-1.6 1.5 1.1 1.7 1.6z"/>
<path fill="#c68a84" stroke="#c68a84" d="M252 78.4l-1.7-1.7 1.3 1.3 1.8 1.6z"/>
<path fill="#c99489" stroke="#c99489" d="M250.8 76.9l-1.8-1.7 1.3 1.5 1.7 1.7z"/>
<path fill="#cc9f8e" stroke="#cc9f8e" d="M249.7 75.4l-1.8-1.8 1.1 1.6 1.8 1.7z"/>
<path fill="#cfa792" stroke="#cfa792" d="M248.7 73.6l-1.8-1.7 1 1.7 1.8 1.8z"/>
<path fill="#d3b197" stroke="#d3b197" d="M247.8 71.8l-1.8-1.8 .9 1.9 1.8 1.7z"/>
<path fill="#d6ba9b" stroke="#d6ba9b" d="M247 69.8l-1.8-1.8 .8 2 1.8 1.8z"/>
<path fill="#d9c19f" stroke="#d9c19f" d="M246.3 67.7l-1.8-1.8 .7 2.1 1.8 1.8z"/>
<path fill="#dbc8a2" stroke="#dbc8a2" d="M245.6 65.6l-1.8-1.8 .7 2.1 1.8 1.8z"/>
<path fill="#decea6" stroke="#decea6" d="M245.1 63.5l-1.8-1.7 .5 2 1.8 1.8z"/>
<path fill="#e0d5a9" stroke="#e0d5a9" d="M244.7 61.4l-1.8-1.6 .4 2 1.8 1.7z"/>
<path fill="#e3dbad" stroke="#e3dbad" d="M244.3 59.4l-1.8-1.6 .4 2 1.8 1.6z"/>
<path fill="#e5dfaf" stroke="#e5dfaf" d="M244 57.5l-1.8-1.5 .3 1.8 1.8 1.6z"/>
<path fill="#e7e4b2" stroke="#e7e4b2" d="M243.8 55.9l-1.8-1.6 .2 1.7 1.8 1.5z"/>
<path fill="#e7e5b2" stroke="#e7e5b2" d="M243.6 54.6l-1.8-1.4 .2 1.1 1.8 1.6z"/>
<path fill="#e8e7b3" stroke="#e8e7b3" d="M243.5 53.7l-1.8-1.3 .1 .8 1.8 1.4zM243.5 53.3l-1.8-1.4 0 .5 1.8 1.3zM243.5 53.1l-1.8-1.3 0 .1 1.8 1.4z"/>
<path fill="#5d3d3d" stroke="#5d3d3d" d="M317.9 80.6l-1.7-1.2 4.5-.8 1.7 1.2z"/>
<path fill="#613f3f" stroke="#613f3f" d="M313.5 81.4l-1.7-1.2 4.4-.8 1.7 1.2z"/>
<path fill="#644242" stroke="#644242" d="M309.2 82.2l-1.7-1.3 4.3-.7 1.7 1.2z"/>
<path fill="#674444" stroke="#674444" d="M305.2 82.8l-1.7-1.2 4-.7 1.7 1.3z"/>
<path fill="#6b4646" stroke="#6b4646" d="M301.2 83.5l-1.7-1.3 4-.6 1.7 1.2z"/>
<path fill="#6e4848" stroke="#6e4848" d="M297.5 84l-1.7-1.3 3.7-.5 1.7 1.3z"/>
<path fill="#714a4a" stroke="#714a4a" d="M293.9 84.5l-1.7-1.3 3.6-.5 1.7 1.3z"/>
<path fill="#744c4c" stroke="#744c4c" d="M290.4 85l-1.7-1.3 3.5-.5 1.7 1.3z"/>
<path fill="#774e4e" stroke="#774e4e" d="M287.1 85.4l-1.7-1.3 3.3-.4 1.7 1.3z"/>
<path fill="#7c5151" stroke="#7c5151" d="M283.9 85.8l-1.7-1.4 3.2-.3 1.7 1.3z"/>
<path fill="#7f5353" stroke="#7f5353" d="M280.9 86.1l-1.7-1.4 3-.3 1.7 1.4z"/>
<path fill="#845656" stroke="#845656" d="M278 86.2l-1.7-1.4 2.9-.1 1.7 1.4z"/>
<path fill="#865858" stroke="#865858" d="M275.3 86.3l-1.7-1.4 2.7-.1 1.7 1.4z"/>
<path fill="#8b5b5b" stroke="#8b5b5b" d="M272.7 86.3l-1.7-1.4 2.6 0 1.7 1.4z"/>
<path fill="#905e5e" stroke="#905e5e" d="M270.2 86.2l-1.7-1.5 2.5 .2 1.7 1.4z"/>
<path fill="#956161" stroke="#956161" d="M267.9 86l-1.7-1.5 2.3 .2 1.7 1.5z"/>
<path fill="#996464" stroke="#996464" d="M265.7 85.7l-1.8-1.5 2.3 .3 1.7 1.5z"/>
<path fill="#9f6868" stroke="#9f6868" d="M263.6 85.3l-1.7-1.5 2 .4 1.8 1.5z"/>
<path fill="#a66c6c" stroke="#a66c6c" d="M261.6 84.8l-1.7-1.6 2 .6 1.7 1.5z"/>
<path fill="#ac7070" stroke="#ac7070" d="M259.8 84.1l-1.7-1.6 1.8 .7 1.7 1.6z"/>
<path fill="#b17474" stroke="#b17474" d="M258.1 83.3l-1.7-1.6 1.7 .8 1.7 1.6z"/>
<path fill="#b77878" stroke="#b77878" d="M256.6 82.4l-1.8-1.7 1.6 1 1.7 1.6z"/>
<path fill="#be7c7c" stroke="#be7c7c" d="M255.1 81.3l-1.7-1.7 1.4 1.1 1.8 1.7z"/>
<path fill="#c48381" stroke="#c48381" d="M253.8 80.1l-1.8-1.7 1.4 1.2 1.7 1.7z"/>
<path fill="#c78d85" stroke="#c78d85" d="M252.5 78.7l-1.7-1.8 1.2 1.5 1.8 1.7z"/>
<path fill="#ca988b" stroke="#ca988b" d="M251.4 77.1l-1.7-1.7 1.1 1.5 1.7 1.8z"/>
<path fill="#cda18f" stroke="#cda18f" d="M250.4 75.4l-1.7-1.8 1 1.8 1.7 1.7z"/>
<path fill="#d0ab94" stroke="#d0ab94" d="M249.5 73.6l-1.7-1.8 .9 1.8 1.7 1.8z"/>
<path fill="#d3b297" stroke="#d3b297" d="M248.7 71.6l-1.7-1.8 .8 2 1.7 1.8z"/>
<path fill="#d7bc9c" stroke="#d7bc9c" d="M248 69.5l-1.7-1.8 .7 2.1 1.7 1.8z"/>
<path fill="#d9c3a0" stroke="#d9c3a0" d="M247.3 67.4l-1.7-1.8 .7 2.1 1.7 1.8z"/>
<path fill="#ddcba4" stroke="#ddcba4" d="M246.8 65.2l-1.7-1.7 .5 2.1 1.7 1.8z"/>
<path fill="#dfd1a8" stroke="#dfd1a8" d="M246.4 63.1l-1.7-1.7 .4 2.1 1.7 1.7z"/>
<path fill="#e1d6aa" stroke="#e1d6aa" d="M246 61l-1.7-1.6 .4 2 1.7 1.7z"/>
<path fill="#e4dcae" stroke="#e4dcae" d="M245.7 59.1l-1.7-1.6 .3 1.9 1.7 1.6z"/>
<path fill="#e5e1b0" stroke="#e5e1b0" d="M245.5 57.4l-1.7-1.5 .2 1.6 1.7 1.6z"/>
<path fill="#e7e4b2" stroke="#e7e4b2" d="M245.3 56l-1.7-1.4 .2 1.3 1.7 1.5z"/>
<path fill="#e7e5b2" stroke="#e7e5b2" d="M245.2 55.1l-1.7-1.4 .1 .9 1.7 1.4zM245.2 54.5l-1.7-1.2 0 .4 1.7 1.4zM245.2 54.4l-1.7-1.3 0 .2 1.7 1.2z"/>
<path fill="#5a3b3b" stroke="#5a3b3b" d="M319.5 81.8l-1.6-1.2 4.5-.8 1.6 1.1z"/>
<path fill="#5d3d3d" stroke="#5d3d3d" d="M315.1 82.6l-1.6-1.2 4.4-.8 1.6 1.2z"/>
<path fill="#613f3f" stroke="#613f3f" d="M310.9 83.4l-1.7-1.2 4.3-.8 1.6 1.2z"/>
<path fill="#644242" stroke="#644242" d="M306.8 84.1l-1.6-1.3 4-.6 1.7 1.2z"/>
<path fill="#674444" stroke="#674444" d="M302.9 84.7l-1.7-1.2 4-.7 1.6 1.3z"/>
<path fill="#6b4646" stroke="#6b4646" d="M299.1 85.3l-1.6-1.3 3.7-.5 1.7 1.2z"/>
<path fill="#6e4848" stroke="#6e4848" d="M295.5 85.8l-1.6-1.3 3.6-.5 1.6 1.3z"/>
<path fill="#714a4a" stroke="#714a4a" d="M292 86.3l-1.6-1.3 3.5-.5 1.6 1.3z"/>
<path fill="#744c4c" stroke="#744c4c" d="M288.7 86.8l-1.6-1.4 3.3-.4 1.6 1.3z"/>
<path fill="#774e4e" stroke="#774e4e" d="M285.5 87.2l-1.6-1.4 3.2-.4 1.6 1.4z"/>
<path fill="#7c5151" stroke="#7c5151" d="M282.5 87.4l-1.6-1.3 3-.3 1.6 1.4z"/>
<path fill="#7f5353" stroke="#7f5353" d="M279.6 87.6l-1.6-1.4 2.9-.1 1.6 1.3z"/>
<path fill="#845656" stroke="#845656" d="M276.9 87.8l-1.6-1.5 2.7-.1 1.6 1.4z"/>
<path fill="#865858" stroke="#865858" d="M274.3 87.8l-1.6-1.5 2.6 0 1.6 1.5z"/>
<path fill="#8b5b5b" stroke="#8b5b5b" d="M271.8 87.7l-1.6-1.5 2.5 .1 1.6 1.5z"/>
<path fill="#905e5e" stroke="#905e5e" d="M269.5 87.5l-1.6-1.5 2.3 .2 1.6 1.5z"/>
<path fill="#956161" stroke="#956161" d="M267.3 87.2l-1.6-1.5 2.2 .3 1.6 1.5z"/>
<path fill="#9b6666" stroke="#9b6666" d="M265.2 86.9l-1.6-1.6 2.1 .4 1.6 1.5z"/>
<path fill="#9f6868" stroke="#9f6868" d="M263.3 86.3l-1.7-1.5 2 .5 1.6 1.6z"/>
<path fill="#a66c6c" stroke="#a66c6c" d="M261.4 85.7l-1.6-1.6 1.8 .7 1.7 1.5z"/>
<path fill="#ac7070" stroke="#ac7070" d="M259.7 84.9l-1.6-1.6 1.7 .8 1.6 1.6z"/>
<path fill="#b37575" stroke="#b37575" d="M258.2 84l-1.6-1.6 1.5 .9 1.6 1.6z"/>
<path fill="#b97979" stroke="#b97979" d="M256.7 83l-1.6-1.7 1.5 1.1 1.6 1.6z"/>
<path fill="#c07e7e" stroke="#c07e7e" d="M255.4 81.8l-1.6-1.7 1.3 1.2 1.6 1.7z"/>
<path fill="#c48582" stroke="#c48582" d="M254.1 80.4l-1.6-1.7 1.3 1.4 1.6 1.7z"/>
<path fill="#c89187" stroke="#c89187" d="M253 78.9l-1.6-1.8 1.1 1.6 1.6 1.7z"/>
<path fill="#cb9a8c" stroke="#cb9a8c" d="M252 77.2l-1.6-1.8 1 1.7 1.6 1.8z"/>
<path fill="#cea591" stroke="#cea591" d="M251.1 75.3l-1.6-1.7 .9 1.8 1.6 1.8z"/>
<path fill="#d1ad95" stroke="#d1ad95" d="M250.3 73.4l-1.6-1.8 .8 2 1.6 1.7z"/>
<path fill="#d5b699" stroke="#d5b699" d="M249.6 71.3l-1.6-1.8 .7 2.1 1.6 1.8z"/>
<path fill="#d7bd9d" stroke="#d7bd9d" d="M249 69.1l-1.7-1.7 .7 2.1 1.6 1.8z"/>
<path fill="#dbc6a2" stroke="#dbc6a2" d="M248.4 67l-1.6-1.8 .5 2.2 1.7 1.7z"/>
<path fill="#ddcda5" stroke="#ddcda5" d="M248 64.8l-1.6-1.7 .4 2.1 1.6 1.8z"/>
<path fill="#e0d3a8" stroke="#e0d3a8" d="M247.6 62.6l-1.6-1.6 .4 2.1 1.6 1.7z"/>
<path fill="#e2d9ac" stroke="#e2d9ac" d="M247.3 60.7l-1.6-1.6 .3 1.9 1.6 1.6z"/>
<path fill="#e4deae" stroke="#e4deae" d="M247.1 59l-1.6-1.6 .2 1.7 1.6 1.6z"/>
<path fill="#e5e1b0" stroke="#e5e1b0" d="M247 57.5l-1.7-1.5 .2 1.4 1.6 1.6z"/>
<path fill="#e7e4b2" stroke="#e7e4b2" d="M246.9 56.4l-1.7-1.3 .1 .9 1.7 1.5zM246.8 55.8l-1.6-1.3 0 .6 1.7 1.3zM246.8 55.7l-1.6-1.3 0 .1 1.6 1.3z"/>
<path fill="#563838" stroke="#563838" d="M321 82.9l-1.5-1.1 4.5-.9 1.6 1.1z"/>
<path fill="#5a3b3b" stroke="#5a3b3b" d="M316.6 83.8l-1.5-1.2 4.4-.8 1.5 1.1z"/>
<path fill="#5d3d3d" stroke="#5d3d3d" d="M312.4 84.6l-1.5-1.2 4.2-.8 1.5 1.2z"/>
<path fill="#613f3f" stroke="#613f3f" d="M308.3 85.3l-1.5-1.2 4.1-.7 1.5 1.2z"/>
<path fill="#644242" stroke="#644242" d="M304.4 86l-1.5-1.3 3.9-.6 1.5 1.2z"/>
<path fill="#674444" stroke="#674444" d="M300.6 86.6l-1.5-1.3 3.8-.6 1.5 1.3z"/>
<path fill="#6b4646" stroke="#6b4646" d="M297 87.2l-1.5-1.4 3.6-.5 1.5 1.3z"/>
<path fill="#6e4848" stroke="#6e4848" d="M293.6 87.7l-1.6-1.4 3.5-.5 1.5 1.4z"/>
<path fill="#714a4a" stroke="#714a4a" d="M290.2 88.1l-1.5-1.3 3.3-.5 1.6 1.4z"/>
<path fill="#744c4c" stroke="#744c4c" d="M287.1 88.5l-1.6-1.3 3.2-.4 1.5 1.3z"/>
<path fill="#774e4e" stroke="#774e4e" d="M284 88.8l-1.5-1.4 3-.2 1.6 1.3z"/>
<path fill="#794f4f" stroke="#794f4f" d="M281.2 89.1l-1.6-1.5 2.9-.2 1.5 1.4z"/>
<path fill="#7f5353" stroke="#7f5353" d="M278.4 89.2l-1.5-1.4 2.7-.2 1.6 1.5z"/>
<path fill="#815555" stroke="#815555" d="M275.8 89.3l-1.5-1.5 2.6 0 1.5 1.4z"/>
<path fill="#865858" stroke="#865858" d="M273.3 89.2l-1.5-1.5 2.5 .1 1.5 1.5z"/>
<path fill="#8b5b5b" stroke="#8b5b5b" d="M271 89.1l-1.5-1.6 2.3 .2 1.5 1.5z"/>
<path fill="#905e5e" stroke="#905e5e" d="M268.8 88.8l-1.5-1.6 2.2 .3 1.5 1.6z"/>
<path fill="#976363" stroke="#976363" d="M266.7 88.4l-1.5-1.5 2.1 .3 1.5 1.6z"/>
<path fill="#9b6666" stroke="#9b6666" d="M264.8 88l-1.5-1.7 1.9 .6 1.5 1.5z"/>
<path fill="#a26a6a" stroke="#a26a6a" d="M263 87.3l-1.6-1.6 1.9 .6 1.5 1.7z"/>
<path fill="#a86e6e" stroke="#a86e6e" d="M261.3 86.6l-1.6-1.7 1.7 .8 1.6 1.6z"/>
<path fill="#ae7272" stroke="#ae7272" d="M259.7 85.7l-1.5-1.7 1.5 .9 1.6 1.7z"/>
<path fill="#b57777" stroke="#b57777" d="M258.2 84.7l-1.5-1.7 1.5 1 1.5 1.7z"/>
<path fill="#bb7a7a" stroke="#bb7a7a" d="M256.9 83.5l-1.5-1.7 1.3 1.2 1.5 1.7z"/>
<path fill="#c27f7f" stroke="#c27f7f" d="M255.7 82.1l-1.6-1.7 1.3 1.4 1.5 1.7z"/>
<path fill="#c58883" stroke="#c58883" d="M254.6 80.6l-1.6-1.7 1.1 1.5 1.6 1.7z"/>
<path fill="#c99489" stroke="#c99489" d="M253.5 78.9l-1.5-1.7 1 1.7 1.6 1.7z"/>
<path fill="#cc9c8d" stroke="#cc9c8d" d="M252.6 77.1l-1.5-1.8 .9 1.9 1.5 1.7z"/>
<path fill="#cfa792" stroke="#cfa792" d="M251.8 75.1l-1.5-1.7 .8 1.9 1.5 1.8z"/>
<path fill="#d3b197" stroke="#d3b197" d="M251.1 73l-1.5-1.7 .7 2.1 1.5 1.7z"/>
<path fill="#d5b89a" stroke="#d5b89a" d="M250.5 70.8l-1.5-1.7 .6 2.2 1.5 1.7z"/>
<path fill="#d9c19f" stroke="#d9c19f" d="M250 68.6l-1.6-1.6 .6 2.1 1.5 1.7z"/>
<path fill="#dbc8a2" stroke="#dbc8a2" d="M249.5 66.3l-1.5-1.5 .4 2.2 1.6 1.6z"/>
<path fill="#ded0a7" stroke="#ded0a7" d="M249.2 64.1l-1.6-1.5 .4 2.2 1.5 1.5z"/>
<path fill="#e0d5a9" stroke="#e0d5a9" d="M248.9 62.1l-1.6-1.4 .3 1.9 1.6 1.5z"/>
<path fill="#e3dbad" stroke="#e3dbad" d="M248.6 60.4l-1.5-1.4 .2 1.7 1.6 1.4z"/>
<path fill="#e5dfaf" stroke="#e5dfaf" d="M248.5 58.9l-1.5-1.4 .1 1.5 1.5 1.4z"/>
<path fill="#e5e1b0" stroke="#e5e1b0" d="M248.4 57.8l-1.5-1.4 .1 1.1 1.5 1.4zM248.4 57.2l-1.6-1.4 .1 .6 1.5 1.4zM248.3 57l-1.5-1.3 0 .1 1.6 1.4z"/>
<path fill="#523636" stroke="#523636" d="M322.5 84.1l-1.5-1.2 4.6-.9 1.4 1.2z"/>
<path fill="#563838" stroke="#563838" d="M318.1 85l-1.5-1.2 4.4-.9 1.5 1.2z"/>
<path fill="#5a3b3b" stroke="#5a3b3b" d="M313.8 85.8l-1.4-1.2 4.2-.8 1.5 1.2zM309.8 86.5l-1.5-1.2 4.1-.7 1.4 1.2z"/>
<path fill="#5d3d3d" stroke="#5d3d3d" d="M305.8 87.2l-1.4-1.2 3.9-.7 1.5 1.2z"/>
<path fill="#613f3f" stroke="#613f3f" d="M302.1 87.9l-1.5-1.3 3.8-.6 1.4 1.2z"/>
<path fill="#644242" stroke="#644242" d="M298.5 88.5l-1.5-1.3 3.6-.6 1.5 1.3z"/>
<path fill="#674444" stroke="#674444" d="M295 89l-1.4-1.3 3.4-.5 1.5 1.3z"/>
<path fill="#6b4646" stroke="#6b4646" d="M291.7 89.5l-1.5-1.4 3.4-.4 1.4 1.3z"/>
<path fill="#6e4848" stroke="#6e4848" d="M288.5 89.9l-1.4-1.4 3.1-.4 1.5 1.4z"/>
<path fill="#714a4a" stroke="#714a4a" d="M285.5 90.3l-1.5-1.5 3.1-.3 1.4 1.4z"/>
<path fill="#774e4e" stroke="#774e4e" d="M282.6 90.5l-1.4-1.4 2.8-.3 1.5 1.5z"/>
<path fill="#794f4f" stroke="#794f4f" d="M279.9 90.7l-1.5-1.5 2.8-.1 1.4 1.4z"/>
<path fill="#7c5151" stroke="#7c5151" d="M277.3 90.8l-1.5-1.5 2.6-.1 1.5 1.5z"/>
<path fill="#815555" stroke="#815555" d="M274.8 90.7l-1.5-1.5 2.5 .1 1.5 1.5z"/>
<path fill="#865858" stroke="#865858" d="M272.5 90.6l-1.5-1.5 2.3 .1 1.5 1.5z"/>
<path fill="#8b5b5b" stroke="#8b5b5b" d="M270.3 90.4l-1.5-1.6 2.2 .3 1.5 1.5z"/>
<path fill="#905e5e" stroke="#905e5e" d="M268.2 90.1l-1.5-1.7 2.1 .4 1.5 1.6z"/>
<path fill="#976363" stroke="#976363" d="M266.2 89.6l-1.4-1.6 1.9 .4 1.5 1.7z"/>
<path fill="#9b6666" stroke="#9b6666" d="M264.4 89l-1.4-1.7 1.8 .7 1.4 1.6z"/>
<path fill="#a26a6a" stroke="#a26a6a" d="M262.7 88.3l-1.4-1.7 1.7 .7 1.4 1.7z"/>
<path fill="#a86e6e" stroke="#a86e6e" d="M261.2 87.4l-1.5-1.7 1.6 .9 1.4 1.7z"/>
<path fill="#af7373" stroke="#af7373" d="M259.7 86.4l-1.5-1.7 1.5 1 1.5 1.7z"/>
<path fill="#b57777" stroke="#b57777" d="M258.4 85.2l-1.5-1.7 1.3 1.2 1.5 1.7z"/>
<path fill="#bc7b7b" stroke="#bc7b7b" d="M257.1 83.9l-1.4-1.8 1.2 1.4 1.5 1.7z"/>
<path fill="#c38080" stroke="#c38080" d="M256 82.3l-1.4-1.7 1.1 1.5 1.4 1.8z"/>
<path fill="#c78d85" stroke="#c78d85" d="M255 80.7l-1.5-1.8 1.1 1.7 1.4 1.7z"/>
<path fill="#c9968a" stroke="#c9968a" d="M254.1 78.8l-1.5-1.7 .9 1.8 1.5 1.8z"/>
<path fill="#cda18f" stroke="#cda18f" d="M253.3 76.8l-1.5-1.7 .8 2 1.5 1.7z"/>
<path fill="#d0ab94" stroke="#d0ab94" d="M252.6 74.6l-1.5-1.6 .7 2.1 1.5 1.7z"/>
<path fill="#d4b498" stroke="#d4b498" d="M251.9 72.4l-1.4-1.6 .6 2.2 1.5 1.6z"/>
<path fill="#d7bc9c" stroke="#d7bc9c" d="M251.4 70.1l-1.4-1.5 .5 2.2 1.4 1.6z"/>
<path fill="#dac4a1" stroke="#dac4a1" d="M251 67.8l-1.5-1.5 .5 2.3 1.4 1.5z"/>
<path fill="#ddcba4" stroke="#ddcba4" d="M250.6 65.5l-1.4-1.4 .3 2.2 1.5 1.5z"/>
<path fill="#dfd1a8" stroke="#dfd1a8" d="M250.3 63.5l-1.4-1.4 .3 2 1.4 1.4z"/>
<path fill="#e2d8ab" stroke="#e2d8ab" d="M250.1 61.7l-1.5-1.3 .3 1.7 1.4 1.4z"/>
<path fill="#e4dcae" stroke="#e4dcae" d="M249.9 60.2l-1.4-1.3 .1 1.5 1.5 1.3z"/>
<path fill="#e5dfaf" stroke="#e5dfaf" d="M249.8 59.1l-1.4-1.3 .1 1.1 1.4 1.3zM249.8 58.5l-1.4-1.3 0 .6 1.4 1.3zM249.8 58.4l-1.5-1.4 .1 .2 1.4 1.3z"/>
<path fill="#4e3333" stroke="#4e3333" d="M323.8 85.2l-1.3-1.1 4.5-.9 1.4 1.1z"/>
<path fill="#523636" stroke="#523636" d="M319.4 86.1l-1.3-1.1 4.4-.9 1.3 1.1zM315.2 87l-1.4-1.2 4.3-.8 1.3 1.1z"/>
<path fill="#563838" stroke="#563838" d="M311.1 87.8l-1.3-1.3 4-.7 1.4 1.2z"/>
<path fill="#5a3b3b" stroke="#5a3b3b" d="M307.2 88.5l-1.4-1.3 4-.7 1.3 1.3z"/>
<path fill="#5d3d3d" stroke="#5d3d3d" d="M303.4 89.2l-1.3-1.3 3.7-.7 1.4 1.3z"/>
<path fill="#613f3f" stroke="#613f3f" d="M299.8 89.8l-1.3-1.3 3.6-.6 1.3 1.3zM296.4 90.4l-1.4-1.4 3.5-.5 1.3 1.3z"/>
<path fill="#644242" stroke="#644242" d="M293 90.9l-1.3-1.4 3.3-.5 1.4 1.4z"/>
<path fill="#674444" stroke="#674444" d="M289.9 91.3l-1.4-1.4 3.2-.4 1.3 1.4z"/>
<path fill="#6b4646" stroke="#6b4646" d="M286.8 91.7l-1.3-1.4 3-.4 1.4 1.4z"/>
<path fill="#714a4a" stroke="#714a4a" d="M284 92l-1.4-1.5 2.9-.2 1.3 1.4z"/>
<path fill="#744c4c" stroke="#744c4c" d="M281.2 92.2l-1.3-1.5 2.7-.2 1.4 1.5z"/>
<path fill="#774e4e" stroke="#774e4e" d="M278.6 92.3l-1.3-1.5 2.6-.1 1.3 1.5z"/>
<path fill="#7c5151" stroke="#7c5151" d="M276.2 92.3l-1.4-1.6 2.5 .1 1.3 1.5z"/>
<path fill="#815555" stroke="#815555" d="M273.8 92.2l-1.3-1.6 2.3 .1 1.4 1.6z"/>
<path fill="#865858" stroke="#865858" d="M271.6 92l-1.3-1.6 2.2 .2 1.3 1.6z"/>
<path fill="#8b5b5b" stroke="#8b5b5b" d="M269.5 91.7l-1.3-1.6 2.1 .3 1.3 1.6z"/>
<path fill="#905e5e" stroke="#905e5e" d="M267.6 91.3l-1.4-1.7 2 .5 1.3 1.6z"/>
<path fill="#976363" stroke="#976363" d="M265.8 90.7l-1.4-1.7 1.8 .6 1.4 1.7z"/>
<path fill="#9b6666" stroke="#9b6666" d="M264.1 90l-1.4-1.7 1.7 .7 1.4 1.7z"/>
<path fill="#a26a6a" stroke="#a26a6a" d="M262.5 89.2l-1.3-1.8 1.5 .9 1.4 1.7z"/>
<path fill="#aa6f6f" stroke="#aa6f6f" d="M261.1 88.2l-1.4-1.8 1.5 1 1.3 1.8z"/>
<path fill="#af7373" stroke="#af7373" d="M259.7 87l-1.3-1.8 1.3 1.2 1.4 1.8z"/>
<path fill="#b77878" stroke="#b77878" d="M258.5 85.7l-1.4-1.8 1.3 1.3 1.3 1.8z"/>
<path fill="#be7c7c" stroke="#be7c7c" d="M257.4 84.1l-1.4-1.8 1.1 1.6 1.4 1.8z"/>
<path fill="#c48582" stroke="#c48582" d="M256.4 82.4l-1.4-1.7 1 1.6 1.4 1.8z"/>
<path fill="#c78f86" stroke="#c78f86" d="M255.4 80.5l-1.3-1.7 .9 1.9 1.4 1.7z"/>
<path fill="#cb9a8c" stroke="#cb9a8c" d="M254.6 78.4l-1.3-1.6 .8 2 1.3 1.7z"/>
<path fill="#cea591" stroke="#cea591" d="M253.9 76.2l-1.3-1.6 .7 2.2 1.3 1.6z"/>
<path fill="#d2af96" stroke="#d2af96" d="M253.3 73.9l-1.4-1.5 .7 2.2 1.3 1.6z"/>
<path fill="#d5b89a" stroke="#d5b89a" d="M252.8 71.6l-1.4-1.5 .5 2.3 1.4 1.5z"/>
<path fill="#d9c19f" stroke="#d9c19f" d="M252.3 69.2l-1.3-1.4 .4 2.3 1.4 1.5z"/>
<path fill="#dbc8a2" stroke="#dbc8a2" d="M252 66.9l-1.4-1.4 .4 2.3 1.3 1.4z"/>
<path fill="#decea6" stroke="#decea6" d="M251.7 64.8l-1.4-1.3 .3 2 1.4 1.4z"/>
<path fill="#e0d5a9" stroke="#e0d5a9" d="M251.5 63l-1.4-1.3 .2 1.8 1.4 1.3z"/>
<path fill="#e2d9ac" stroke="#e2d9ac" d="M251.3 61.5l-1.4-1.3 .2 1.5 1.4 1.3z"/>
<path fill="#e4dcae" stroke="#e4dcae" d="M251.2 60.4l-1.4-1.3 .1 1.1 1.4 1.3z"/>
<path fill="#e4deae" stroke="#e4deae" d="M251.2 59.8l-1.4-1.3 0 .6 1.4 1.3zM251.2 59.7l-1.4-1.3 0 .1 1.4 1.3z"/>
<path fill="#493030" stroke="#493030" d="M325.1 86.3l-1.3-1.1 4.6-.9 1.3 1z"/>
<path fill="#4e3333" stroke="#4e3333" d="M320.7 87.3l-1.3-1.2 4.4-.9 1.3 1.1zM316.5 88.1l-1.3-1.1 4.2-.9 1.3 1.2z"/>
<path fill="#523636" stroke="#523636" d="M312.4 89l-1.3-1.2 4.1-.8 1.3 1.1z"/>
<path fill="#563838" stroke="#563838" d="M308.5 89.7l-1.3-1.2 3.9-.7 1.3 1.2zM304.7 90.4l-1.3-1.2 3.8-.7 1.3 1.2z"/>
<path fill="#5a3b3b" stroke="#5a3b3b" d="M301.1 91.1l-1.3-1.3 3.6-.6 1.3 1.2z"/>
<path fill="#5d3d3d" stroke="#5d3d3d" d="M297.6 91.7l-1.2-1.3 3.4-.6 1.3 1.3z"/>
<path fill="#613f3f" stroke="#613f3f" d="M294.3 92.2l-1.3-1.3 3.4-.5 1.2 1.3z"/>
<path fill="#644242" stroke="#644242" d="M291.2 92.7l-1.3-1.4 3.1-.4 1.3 1.3z"/>
<path fill="#674444" stroke="#674444" d="M288.1 93.1l-1.3-1.4 3.1-.4 1.3 1.4z"/>
<path fill="#6b4646" stroke="#6b4646" d="M285.2 93.4l-1.2-1.4 2.8-.3 1.3 1.4z"/>
<path fill="#6e4848" stroke="#6e4848" d="M282.5 93.6l-1.3-1.4 2.8-.2 1.2 1.4z"/>
<path fill="#714a4a" stroke="#714a4a" d="M279.9 93.8l-1.3-1.5 2.6-.1 1.3 1.4z"/>
<path fill="#774e4e" stroke="#774e4e" d="M277.4 93.8l-1.2-1.5 2.4 0 1.3 1.5z"/>
<path fill="#794f4f" stroke="#794f4f" d="M275.1 93.8l-1.3-1.6 2.4 .1 1.2 1.5z"/>
<path fill="#7f5353" stroke="#7f5353" d="M272.9 93.6l-1.3-1.6 2.2 .2 1.3 1.6z"/>
<path fill="#845656" stroke="#845656" d="M270.8 93.4l-1.3-1.7 2.1 .3 1.3 1.6z"/>
<path fill="#895a5a" stroke="#895a5a" d="M268.9 93l-1.3-1.7 1.9 .4 1.3 1.7z"/>
<path fill="#905e5e" stroke="#905e5e" d="M267.1 92.4l-1.3-1.7 1.8 .6 1.3 1.7z"/>
<path fill="#976363" stroke="#976363" d="M265.4 91.8l-1.3-1.8 1.7 .7 1.3 1.7z"/>
<path fill="#9b6666" stroke="#9b6666" d="M263.8 90.9l-1.3-1.7 1.6 .8 1.3 1.8z"/>
<path fill="#a46b6b" stroke="#a46b6b" d="M262.3 90l-1.2-1.8 1.4 1 1.3 1.7z"/>
<path fill="#aa6f6f" stroke="#aa6f6f" d="M261 88.8l-1.3-1.8 1.4 1.2 1.2 1.8z"/>
<path fill="#b17474" stroke="#b17474" d="M259.8 87.5l-1.3-1.8 1.2 1.3 1.3 1.8z"/>
<path fill="#b97979" stroke="#b97979" d="M258.6 85.9l-1.2-1.8 1.1 1.6 1.3 1.8z"/>
<path fill="#c27f7f" stroke="#c27f7f" d="M257.6 84.2l-1.2-1.8 1 1.7 1.2 1.8z"/>
<path fill="#c58883" stroke="#c58883" d="M256.7 82.3l-1.3-1.8 1 1.9 1.2 1.8z"/>
<path fill="#c99489" stroke="#c99489" d="M255.9 80.2l-1.3-1.8 .8 2.1 1.3 1.8z"/>
<path fill="#cc9f8e" stroke="#cc9f8e" d="M255.2 77.9l-1.3-1.7 .7 2.2 1.3 1.8z"/>
<path fill="#d0a993" stroke="#d0a993" d="M254.6 75.5l-1.3-1.6 .6 2.3 1.3 1.7z"/>
<path fill="#d3b297" stroke="#d3b297" d="M254.1 73.1l-1.3-1.5 .5 2.3 1.3 1.6z"/>
<path fill="#d7bc9c" stroke="#d7bc9c" d="M253.6 70.6l-1.3-1.4 .5 2.4 1.3 1.5z"/>
<path fill="#dac4a1" stroke="#dac4a1" d="M253.2 68.3l-1.2-1.4 .3 2.3 1.3 1.4z"/>
<path fill="#ddcba4" stroke="#ddcba4" d="M253 66.1l-1.3-1.3 .3 2.1 1.2 1.4z"/>
<path fill="#dfd1a8" stroke="#dfd1a8" d="M252.7 64.3l-1.2-1.3 .2 1.8 1.3 1.3z"/>
<path fill="#e1d6aa" stroke="#e1d6aa" d="M252.6 62.8l-1.3-1.3 .2 1.5 1.2 1.3z"/>
<path fill="#e2d9ac" stroke="#e2d9ac" d="M252.5 61.7l-1.3-1.3 .1 1.1 1.3 1.3z"/>
<path fill="#e3dbad" stroke="#e3dbad" d="M252.4 61.2l-1.2-1.4 0 .6 1.3 1.3zM252.4 61l-1.2-1.3 0 .1 1.2 1.4z"/>
<path fill="#442d2d" stroke="#442d2d" d="M326.3 87.4l-1.2-1.1 4.6-1 1.2 1.1zM321.9 88.3l-1.2-1 4.4-1 1.2 1.1z"/>
<path fill="#493030" stroke="#493030" d="M317.7 89.2l-1.2-1.1 4.2-.8 1.2 1z"/>
<path fill="#4e3333" stroke="#4e3333" d="M313.6 90.1l-1.2-1.1 4.1-.9 1.2 1.1zM309.7 90.9l-1.2-1.2 3.9-.7 1.2 1.1z"/>
<path fill="#523636" stroke="#523636" d="M305.9 91.6l-1.2-1.2 3.8-.7 1.2 1.2z"/>
<path fill="#563838" stroke="#563838" d="M302.3 92.3l-1.2-1.2 3.6-.7 1.2 1.2zM298.8 92.9l-1.2-1.2 3.5-.6 1.2 1.2z"/>
<path fill="#5a3b3b" stroke="#5a3b3b" d="M295.5 93.5l-1.2-1.3 3.3-.5 1.2 1.2z"/>
<path fill="#5d3d3d" stroke="#5d3d3d" d="M292.4 94l-1.2-1.3 3.1-.5 1.2 1.3z"/>
<path fill="#613f3f" stroke="#613f3f" d="M289.3 94.4l-1.2-1.3 3.1-.4 1.2 1.3z"/>
<path fill="#644242" stroke="#644242" d="M286.4 94.8l-1.2-1.4 2.9-.3 1.2 1.3z"/>
<path fill="#674444" stroke="#674444" d="M283.7 95.1l-1.2-1.5 2.7-.2 1.2 1.4z"/>
<path fill="#6b4646" stroke="#6b4646" d="M281.1 95.2l-1.2-1.4 2.6-.2 1.2 1.5z"/>
<path fill="#714a4a" stroke="#714a4a" d="M278.6 95.3l-1.2-1.5 2.5 0 1.2 1.4z"/>
<path fill="#744c4c" stroke="#744c4c" d="M276.3 95.3l-1.2-1.5 2.3 0 1.2 1.5z"/>
<path fill="#794f4f" stroke="#794f4f" d="M274.1 95.2l-1.2-1.6 2.2 .2 1.2 1.5z"/>
<path fill="#7f5353" stroke="#7f5353" d="M272 95l-1.2-1.6 2.1 .2 1.2 1.6z"/>
<path fill="#845656" stroke="#845656" d="M270.1 94.6l-1.2-1.6 1.9 .4 1.2 1.6z"/>
<path fill="#895a5a" stroke="#895a5a" d="M268.3 94.1l-1.2-1.7 1.8 .6 1.2 1.6z"/>
<path fill="#905e5e" stroke="#905e5e" d="M266.6 93.5l-1.2-1.7 1.7 .6 1.2 1.7z"/>
<path fill="#956161" stroke="#956161" d="M265 92.7l-1.2-1.8 1.6 .9 1.2 1.7z"/>
<path fill="#9d6767" stroke="#9d6767" d="M263.5 91.8l-1.2-1.8 1.5 .9 1.2 1.8z"/>
<path fill="#a46b6b" stroke="#a46b6b" d="M262.2 90.6l-1.2-1.8 1.3 1.2 1.2 1.8z"/>
<path fill="#ac7070" stroke="#ac7070" d="M261 89.3l-1.2-1.8 1.2 1.3 1.2 1.8z"/>
<path fill="#b37575" stroke="#b37575" d="M259.8 87.8l-1.2-1.9 1.2 1.6 1.2 1.8z"/>
<path fill="#bb7a7a" stroke="#bb7a7a" d="M258.8 86l-1.2-1.8 1 1.7 1.2 1.9z"/>
<path fill="#c38080" stroke="#c38080" d="M257.9 84.1l-1.2-1.8 .9 1.9 1.2 1.8z"/>
<path fill="#c78d85" stroke="#c78d85" d="M257.1 81.9l-1.2-1.7 .8 2.1 1.2 1.8z"/>
<path fill="#ca988b" stroke="#ca988b" d="M256.4 79.6l-1.2-1.7 .7 2.3 1.2 1.7z"/>
<path fill="#cea591" stroke="#cea591" d="M255.8 77.1l-1.2-1.6 .6 2.4 1.2 1.7z"/>
<path fill="#d2af96" stroke="#d2af96" d="M255.3 74.6l-1.2-1.5 .5 2.4 1.2 1.6z"/>
<path fill="#d5b89a" stroke="#d5b89a" d="M254.8 72.1l-1.2-1.5 .5 2.5 1.2 1.5z"/>
<path fill="#d9c19f" stroke="#d9c19f" d="M254.4 69.7l-1.2-1.4 .4 2.3 1.2 1.5z"/>
<path fill="#dbc8a2" stroke="#dbc8a2" d="M254.2 67.5l-1.2-1.4 .2 2.2 1.2 1.4z"/>
<path fill="#decea6" stroke="#decea6" d="M253.9 65.6l-1.2-1.3 .3 1.8 1.2 1.4z"/>
<path fill="#e0d3a8" stroke="#e0d3a8" d="M253.8 64.1l-1.2-1.3 .1 1.5 1.2 1.3z"/>
<path fill="#e2d8ab" stroke="#e2d8ab" d="M253.7 63.1l-1.2-1.4 .1 1.1 1.2 1.3zM253.6 62.5l-1.2-1.3 .1 .5 1.2 1.4zM253.6 62.4l-1.2-1.4 0 .2 1.2 1.3z"/>
<path fill="#3f2929" stroke="#3f2929" d="M327.4 88.4l-1.1-1 4.6-1 1.1 .9zM323 89.4l-1.1-1.1 4.4-.9 1.1 1z"/>
<path fill="#442d2d" stroke="#442d2d" d="M318.8 90.3l-1.1-1.1 4.2-.9 1.1 1.1zM314.7 91.2l-1.1-1.1 4.1-.9 1.1 1.1z"/>
<path fill="#493030" stroke="#493030" d="M310.8 92l-1.1-1.1 3.9-.8 1.1 1.1zM307 92.8l-1.1-1.2 3.8-.7 1.1 1.1z"/>
<path fill="#4e3333" stroke="#4e3333" d="M303.4 93.5l-1.1-1.2 3.6-.7 1.1 1.2z"/>
<path fill="#523636" stroke="#523636" d="M300 94.1l-1.2-1.2 3.5-.6 1.1 1.2zM296.6 94.7l-1.1-1.2 3.3-.6 1.2 1.2z"/>
<path fill="#563838" stroke="#563838" d="M293.5 95.3l-1.1-1.3 3.1-.5 1.1 1.2z"/>
<path fill="#5a3b3b" stroke="#5a3b3b" d="M290.4 95.7l-1.1-1.3 3.1-.4 1.1 1.3z"/>
<path fill="#5d3d3d" stroke="#5d3d3d" d="M287.6 96.1l-1.2-1.3 2.9-.4 1.1 1.3z"/>
<path fill="#613f3f" stroke="#613f3f" d="M284.8 96.4l-1.1-1.3 2.7-.3 1.2 1.3z"/>
<path fill="#644242" stroke="#644242" d="M282.2 96.7l-1.1-1.5 2.6-.1 1.1 1.3z"/>
<path fill="#674444" stroke="#674444" d="M279.7 96.8l-1.1-1.5 2.5-.1 1.1 1.5z"/>
<path fill="#6e4848" stroke="#6e4848" d="M277.4 96.8l-1.1-1.5 2.3 0 1.1 1.5z"/>
<path fill="#714a4a" stroke="#714a4a" d="M275.2 96.8l-1.1-1.6 2.2 .1 1.1 1.5z"/>
<path fill="#774e4e" stroke="#774e4e" d="M273.1 96.6l-1.1-1.6 2.1 .2 1.1 1.6z"/>
<path fill="#7c5151" stroke="#7c5151" d="M271.2 96.3l-1.1-1.7 1.9 .4 1.1 1.6z"/>
<path fill="#815555" stroke="#815555" d="M269.4 95.8l-1.1-1.7 1.8 .5 1.1 1.7z"/>
<path fill="#895a5a" stroke="#895a5a" d="M267.7 95.3l-1.1-1.8 1.7 .6 1.1 1.7z"/>
<path fill="#8e5d5d" stroke="#8e5d5d" d="M266.1 94.5l-1.1-1.8 1.6 .8 1.1 1.8z"/>
<path fill="#956161" stroke="#956161" d="M264.7 93.6l-1.2-1.8 1.5 .9 1.1 1.8z"/>
<path fill="#9d6767" stroke="#9d6767" d="M263.3 92.5l-1.1-1.9 1.3 1.2 1.2 1.8z"/>
<path fill="#a46b6b" stroke="#a46b6b" d="M262.1 91.2l-1.1-1.9 1.2 1.3 1.1 1.9z"/>
<path fill="#ae7272" stroke="#ae7272" d="M261 89.6l-1.2-1.8 1.2 1.5 1.1 1.9z"/>
<path fill="#b57777" stroke="#b57777" d="M259.9 87.9l-1.1-1.9 1 1.8 1.2 1.8z"/>
<path fill="#be7c7c" stroke="#be7c7c" d="M259 85.9l-1.1-1.8 .9 1.9 1.1 1.9z"/>
<path fill="#c48582" stroke="#c48582" d="M258.2 83.7l-1.1-1.8 .8 2.2 1.1 1.8z"/>
<path fill="#c89187" stroke="#c89187" d="M257.5 81.3l-1.1-1.7 .7 2.3 1.1 1.8z"/>
<path fill="#cc9f8e" stroke="#cc9f8e" d="M256.9 78.8l-1.1-1.7 .6 2.5 1.1 1.7z"/>
<path fill="#d0a993" stroke="#d0a993" d="M256.4 76.2l-1.1-1.6 .5 2.5 1.1 1.7z"/>
<path fill="#d4b498" stroke="#d4b498" d="M255.9 73.6l-1.1-1.5 .5 2.5 1.1 1.6z"/>
<path fill="#d7bd9d" stroke="#d7bd9d" d="M255.6 71.1l-1.2-1.4 .4 2.4 1.1 1.5z"/>
<path fill="#dac4a1" stroke="#dac4a1" d="M255.3 68.9l-1.1-1.4 .2 2.2 1.2 1.4z"/>
<path fill="#ddcba4" stroke="#ddcba4" d="M255.1 66.9l-1.2-1.3 .3 1.9 1.1 1.4z"/>
<path fill="#ded0a7" stroke="#ded0a7" d="M254.9 65.5l-1.1-1.4 .1 1.5 1.2 1.3z"/>
<path fill="#e0d5a9" stroke="#e0d5a9" d="M254.8 64.5l-1.1-1.4 .1 1 1.1 1.4z"/>
<path fill="#e1d6aa" stroke="#e1d6aa" d="M254.8 63.9l-1.2-1.4 .1 .6 1.1 1.4zM254.7 63.8l-1.1-1.4 0 .1 1.2 1.4z"/>
<path fill="#3a2626" stroke="#3a2626" d="M328.5 89.3l-1.1-.9 4.6-1.1 1 .9zM324.1 90.3l-1.1-.9 4.4-1 1.1 .9z"/>
<path fill="#3f2929" stroke="#3f2929" d="M319.8 91.3l-1-1 4.2-.9 1.1 .9zM315.8 92.2l-1.1-1 4.1-.9 1 1z"/>
<path fill="#442d2d" stroke="#442d2d" d="M311.8 93l-1-1 3.9-.8 1.1 1zM308.1 93.8l-1.1-1 3.8-.8 1 1z"/>
<path fill="#493030" stroke="#493030" d="M304.5 94.6l-1.1-1.1 3.6-.7 1.1 1zM301 95.3l-1-1.2 3.4-.6 1.1 1.1z"/>
<path fill="#4e3333" stroke="#4e3333" d="M297.7 95.9l-1.1-1.2 3.4-.6 1 1.2z"/>
<path fill="#523636" stroke="#523636" d="M294.5 96.5l-1-1.2 3.1-.6 1.1 1.2zM291.5 97l-1.1-1.3 3.1-.4 1 1.2z"/>
<path fill="#563838" stroke="#563838" d="M288.6 97.4l-1-1.3 2.8-.4 1.1 1.3z"/>
<path fill="#5a3b3b" stroke="#5a3b3b" d="M285.9 97.8l-1.1-1.4 2.8-.3 1 1.3z"/>
<path fill="#5d3d3d" stroke="#5d3d3d" d="M283.2 98l-1-1.3 2.6-.3 1.1 1.4z"/>
<path fill="#613f3f" stroke="#613f3f" d="M280.8 98.2l-1.1-1.4 2.5-.1 1 1.3z"/>
<path fill="#674444" stroke="#674444" d="M278.4 98.3l-1-1.5 2.3 0 1.1 1.4z"/>
<path fill="#6b4646" stroke="#6b4646" d="M276.2 98.3l-1-1.5 2.2 0 1 1.5z"/>
<path fill="#714a4a" stroke="#714a4a" d="M274.2 98.1l-1.1-1.5 2.1 .2 1 1.5z"/>
<path fill="#744c4c" stroke="#744c4c" d="M272.2 97.9l-1-1.6 1.9 .3 1.1 1.5z"/>
<path fill="#794f4f" stroke="#794f4f" d="M270.4 97.5l-1-1.7 1.8 .5 1 1.6z"/>
<path fill="#815555" stroke="#815555" d="M268.7 97l-1-1.7 1.7 .5 1 1.7z"/>
<path fill="#865858" stroke="#865858" d="M267.1 96.3l-1-1.8 1.6 .8 1 1.7z"/>
<path fill="#8e5d5d" stroke="#8e5d5d" d="M265.7 95.4l-1-1.8 1.4 .9 1 1.8z"/>
<path fill="#956161" stroke="#956161" d="M264.3 94.4l-1-1.9 1.4 1.1 1 1.8z"/>
<path fill="#9d6767" stroke="#9d6767" d="M263.1 93.1l-1-1.9 1.2 1.3 1 1.9z"/>
<path fill="#a66c6c" stroke="#a66c6c" d="M262 91.6l-1-2 1.1 1.6 1 1.9z"/>
<path fill="#ae7272" stroke="#ae7272" d="M261 89.8l-1.1-1.9 1.1 1.7 1 2z"/>
<path fill="#b77878" stroke="#b77878" d="M260.1 87.9l-1.1-2 .9 2 1.1 1.9z"/>
<path fill="#c07e7e" stroke="#c07e7e" d="M259.3 85.6l-1.1-1.9 .8 2.2 1.1 2z"/>
<path fill="#c68a84" stroke="#c68a84" d="M258.6 83.2l-1.1-1.9 .7 2.4 1.1 1.9z"/>
<path fill="#c9968a" stroke="#c9968a" d="M257.9 80.6l-1-1.8 .6 2.5 1.1 1.9z"/>
<path fill="#cea390" stroke="#cea390" d="M257.4 77.9l-1-1.7 .5 2.6 1 1.8z"/>
<path fill="#d2af96" stroke="#d2af96" d="M257 75.2l-1.1-1.6 .5 2.6 1 1.7z"/>
<path fill="#d5b89a" stroke="#d5b89a" d="M256.6 72.6l-1-1.5 .3 2.5 1.1 1.6z"/>
<path fill="#d9c19f" stroke="#d9c19f" d="M256.3 70.3l-1-1.4 .3 2.2 1 1.5z"/>
<path fill="#dbc8a2" stroke="#dbc8a2" d="M256.1 68.4l-1-1.5 .2 2 1 1.4z"/>
<path fill="#ddcda5" stroke="#ddcda5" d="M255.9 66.9l-1-1.4 .2 1.4 1 1.5z"/>
<path fill="#dfd1a8" stroke="#dfd1a8" d="M255.8 66l-1-1.5 .1 1 1 1.4zM255.8 65.5l-1-1.6 0 .6 1 1.5zM255.8 65.4l-1.1-1.6 .1 .1 1 1.6z"/>
<path fill="#342222" stroke="#342222" d="M329.4 90.1l-.9-.8 4.5-1.1 1 .8zM325 91.1l-.9-.8 4.4-1 .9 .8z"/>
<path fill="#3a2626" stroke="#3a2626" d="M320.8 92.1l-1-.8 4.3-1 .9 .8zM316.7 93.1l-.9-.9 4-.9 1 .8z"/>
<path fill="#3f2929" stroke="#3f2929" d="M312.8 93.9l-1-.9 4-.8 .9 .9zM309 94.8l-.9-1 3.7-.8 1 .9zM305.4 95.6l-.9-1 3.6-.8 .9 1z"/>
<path fill="#442d2d" stroke="#442d2d" d="M301.9 96.3l-.9-1 3.5-.7 .9 1zM298.6 97l-.9-1.1 3.3-.6 .9 1z"/>
<path fill="#493030" stroke="#493030" d="M295.5 97.6l-1-1.1 3.2-.6 .9 1.1z"/>
<path fill="#4e3333" stroke="#4e3333" d="M292.4 98.1l-.9-1.1 3-.5 1 1.1zM289.6 98.6l-1-1.2 2.9-.4 .9 1.1z"/>
<path fill="#523636" stroke="#523636" d="M286.8 99l-.9-1.2 2.7-.4 1 1.2z"/>
<path fill="#563838" stroke="#563838" d="M284.2 99.3l-1-1.3 2.7-.2 .9 1.2z"/>
<path fill="#5a3b3b" stroke="#5a3b3b" d="M281.7 99.5l-.9-1.3 2.4-.2 1 1.3z"/>
<path fill="#5d3d3d" stroke="#5d3d3d" d="M279.4 99.7l-1-1.4 2.4-.1 .9 1.3z"/>
<path fill="#644242" stroke="#644242" d="M277.2 99.7l-1-1.4 2.2 0 1 1.4z"/>
<path fill="#674444" stroke="#674444" d="M275.1 99.6l-.9-1.5 2 .2 1 1.4z"/>
<path fill="#6e4848" stroke="#6e4848" d="M273.2 99.4l-1-1.5 2 .2 .9 1.5z"/>
<path fill="#744c4c" stroke="#744c4c" d="M271.4 99.1l-1-1.6 1.8 .4 1 1.5z"/>
<path fill="#794f4f" stroke="#794f4f" d="M269.7 98.7l-1-1.7 1.7 .5 1 1.6z"/>
<path fill="#7f5353" stroke="#7f5353" d="M268.1 98l-1-1.7 1.6 .7 1 1.7z"/>
<path fill="#865858" stroke="#865858" d="M266.6 97.2l-.9-1.8 1.4 .9 1 1.7z"/>
<path fill="#8e5d5d" stroke="#8e5d5d" d="M265.3 96.2l-1-1.8 1.4 1 .9 1.8z"/>
<path fill="#956161" stroke="#956161" d="M264.1 95l-1-1.9 1.2 1.3 1 1.8z"/>
<path fill="#9d6767" stroke="#9d6767" d="M263 93.6l-1-2 1.1 1.5 1 1.9z"/>
<path fill="#a86e6e" stroke="#a86e6e" d="M261.9 91.9l-.9-2.1 1 1.8 1 2z"/>
<path fill="#af7373" stroke="#af7373" d="M261 89.9l-.9-2 .9 1.9 .9 2.1z"/>
<path fill="#bb7a7a" stroke="#bb7a7a" d="M260.2 87.7l-.9-2.1 .8 2.3 .9 2z"/>
<path fill="#c38080" stroke="#c38080" d="M259.5 85.2l-.9-2 .7 2.4 .9 2.1z"/>
<path fill="#c78f86" stroke="#c78f86" d="M258.9 82.6l-1-2 .7 2.6 .9 2z"/>
<path fill="#cc9c8d" stroke="#cc9c8d" d="M258.4 79.8l-1-1.9 .5 2.7 1 2z"/>
<path fill="#d0a993" stroke="#d0a993" d="M257.9 77l-.9-1.8 .4 2.7 1 1.9z"/>
<path fill="#d3b297" stroke="#d3b297" d="M257.5 74.4l-.9-1.8 .4 2.6 .9 1.8z"/>
<path fill="#d7bc9c" stroke="#d7bc9c" d="M257.3 72l-1-1.7 .3 2.3 .9 1.8z"/>
<path fill="#d9c3a0" stroke="#d9c3a0" d="M257 70l-.9-1.6 .2 1.9 1 1.7z"/>
<path fill="#dcc9a3" stroke="#dcc9a3" d="M256.9 68.6l-1-1.7 .2 1.5 .9 1.6z"/>
<path fill="#ddcda5" stroke="#ddcda5" d="M256.8 67.6l-1-1.6 .1 .9 1 1.7z"/>
<path fill="#decea6" stroke="#decea6" d="M256.7 67.1l-.9-1.6 0 .5 1 1.6zM256.7 67l-.9-1.6 0 .1 .9 1.6z"/>
<path fill="#2d1d1d" stroke="#2d1d1d" d="M330.3 90.8l-.9-.7 4.6-1.1 .9 .7z"/>
<path fill="#342222" stroke="#342222" d="M325.9 91.9l-.9-.8 4.4-1 .9 .7zM321.7 92.9l-.9-.8 4.2-1 .9 .8zM317.6 93.9l-.9-.8 4.1-1 .9 .8z"/>
<path fill="#3a2626" stroke="#3a2626" d="M313.7 94.8l-.9-.9 3.9-.8 .9 .8zM309.9 95.6l-.9-.8 3.8-.9 .9 .9zM306.3 96.5l-.9-.9 3.6-.8 .9 .8z"/>
<path fill="#3f2929" stroke="#3f2929" d="M302.8 97.2l-.9-.9 3.5-.7 .9 .9zM299.5 97.9l-.9-.9 3.3-.7 .9 .9z"/>
<path fill="#442d2d" stroke="#442d2d" d="M296.3 98.6l-.8-1 3.1-.6 .9 .9zM293.3 99.1l-.9-1 3.1-.5 .8 1z"/>
<path fill="#493030" stroke="#493030" d="M290.4 99.7l-.8-1.1 2.8-.5 .9 1z"/>
<path fill="#4e3333" stroke="#4e3333" d="M287.7 100.1l-.9-1.1 2.8-.4 .8 1.1zM285.1 100.5l-.9-1.2 2.6-.3 .9 1.1z"/>
<path fill="#523636" stroke="#523636" d="M282.6 100.7l-.9-1.2 2.5-.2 .9 1.2z"/>
<path fill="#563838" stroke="#563838" d="M280.3 100.9l-.9-1.2 2.3-.2 .9 1.2z"/>
<path fill="#5d3d3d" stroke="#5d3d3d" d="M278.1 101l-.9-1.3 2.2 0 .9 1.2z"/>
<path fill="#613f3f" stroke="#613f3f" d="M276 101l-.9-1.4 2.1 .1 .9 1.3z"/>
<path fill="#644242" stroke="#644242" d="M274.1 100.9l-.9-1.5 1.9 .2 .9 1.4z"/>
<path fill="#6b4646" stroke="#6b4646" d="M272.2 100.7l-.8-1.6 1.8 .3 .9 1.5z"/>
<path fill="#714a4a" stroke="#714a4a" d="M270.6 100.3l-.9-1.6 1.7 .4 .8 1.6z"/>
<path fill="#774e4e" stroke="#774e4e" d="M269 99.8l-.9-1.8 1.6 .7 .9 1.6z"/>
<path fill="#7f5353" stroke="#7f5353" d="M267.5 99.1l-.9-1.9 1.5 .8 .9 1.8z"/>
<path fill="#865858" stroke="#865858" d="M266.2 98.1l-.9-1.9 1.3 1 .9 1.9z"/>
<path fill="#8e5d5d" stroke="#8e5d5d" d="M264.9 97l-.8-2 1.2 1.2 .9 1.9z"/>
<path fill="#956161" stroke="#956161" d="M263.8 95.6l-.8-2 1.1 1.4 .8 2z"/>
<path fill="#9f6868" stroke="#9f6868" d="M262.8 94l-.9-2.1 1.1 1.7 .8 2z"/>
<path fill="#a86e6e" stroke="#a86e6e" d="M261.9 92.1l-.9-2.2 .9 2 .9 2.1z"/>
<path fill="#b17474" stroke="#b17474" d="M261.1 89.9l-.9-2.2 .8 2.2 .9 2.2z"/>
<path fill="#bc7b7b" stroke="#bc7b7b" d="M260.4 87.4l-.9-2.2 .7 2.5 .9 2.2z"/>
<path fill="#c48582" stroke="#c48582" d="M259.8 84.8l-.9-2.2 .6 2.6 .9 2.2z"/>
<path fill="#c99489" stroke="#c99489" d="M259.2 82l-.8-2.2 .5 2.8 .9 2.2z"/>
<path fill="#cda18f" stroke="#cda18f" d="M258.8 79.1l-.9-2.1 .5 2.8 .8 2.2z"/>
<path fill="#d1ad95" stroke="#d1ad95" d="M258.4 76.4l-.9-2 .4 2.6 .9 2.1z"/>
<path fill="#d5b699" stroke="#d5b699" d="M258.1 73.9l-.8-1.9 .2 2.4 .9 2z"/>
<path fill="#d7bd9d" stroke="#d7bd9d" d="M257.9 71.9l-.9-1.9 .3 2 .8 1.9z"/>
<path fill="#dac4a1" stroke="#dac4a1" d="M257.8 70.5l-.9-1.9 .1 1.4 .9 1.9z"/>
<path fill="#dbc8a2" stroke="#dbc8a2" d="M257.7 69.6l-.9-2 .1 1 .9 1.9z"/>
<path fill="#dcc9a3" stroke="#dcc9a3" d="M257.6 69.1l-.9-2 .1 .5 .9 2zM257.6 69l-.9-2 0 .1 .9 2z"/>
<path fill="#2d1d1d" stroke="#2d1d1d" d="M331.1 91.5l-.8-.7 4.6-1.1 .8 .6zM326.7 92.6l-.8-.7 4.4-1.1 .8 .7zM322.5 93.6l-.8-.7 4.2-1 .8 .7zM318.4 94.6l-.8-.7 4.1-1 .8 .7z"/>
<path fill="#342222" stroke="#342222" d="M314.5 95.5l-.8-.7 3.9-.9 .8 .7zM310.7 96.4l-.8-.8 3.8-.8 .8 .7zM307.1 97.3l-.8-.8 3.6-.9 .8 .8z"/>
<path fill="#3a2626" stroke="#3a2626" d="M303.6 98.1l-.8-.9 3.5-.7 .8 .8zM300.3 98.8l-.8-.9 3.3-.7 .8 .9zM297.1 99.5l-.8-.9 3.2-.7 .8 .9z"/>
<path fill="#3f2929" stroke="#3f2929" d="M294.1 100.1l-.8-1 3-.5 .8 .9zM291.2 100.7l-.8-1 2.9-.6 .8 1z"/>
<path fill="#442d2d" stroke="#442d2d" d="M288.5 101.1l-.8-1 2.7-.4 .8 1z"/>
<path fill="#493030" stroke="#493030" d="M285.9 101.6l-.8-1.1 2.6-.4 .8 1z"/>
<path fill="#4e3333" stroke="#4e3333" d="M283.4 101.9l-.8-1.2 2.5-.2 .8 1.1zM281.1 102.2l-.8-1.3 2.3-.2 .8 1.2z"/>
<path fill="#523636" stroke="#523636" d="M278.9 102.3l-.8-1.3 2.2-.1 .8 1.3z"/>
<path fill="#5a3b3b" stroke="#5a3b3b" d="M276.8 102.4l-.8-1.4 2.1 0 .8 1.3z"/>
<path fill="#5d3d3d" stroke="#5d3d3d" d="M274.9 102.4l-.8-1.5 1.9 .1 .8 1.4z"/>
<path fill="#613f3f" stroke="#613f3f" d="M273 102.2l-.8-1.5 1.9 .2 .8 1.5z"/>
<path fill="#674444" stroke="#674444" d="M271.3 101.9l-.7-1.6 1.6 .4 .8 1.5z"/>
<path fill="#6e4848" stroke="#6e4848" d="M269.8 101.5l-.8-1.7 1.6 .5 .7 1.6z"/>
<path fill="#744c4c" stroke="#744c4c" d="M268.3 100.9l-.8-1.8 1.5 .7 .8 1.7z"/>
<path fill="#7c5151" stroke="#7c5151" d="M267 100.1l-.8-2 1.3 1 .8 1.8z"/>
<path fill="#845656" stroke="#845656" d="M265.7 99.1l-.8-2.1 1.3 1.1 .8 2z"/>
<path fill="#8b5b5b" stroke="#8b5b5b" d="M264.6 97.8l-.8-2.2 1.1 1.4 .8 2.1z"/>
<path fill="#956161" stroke="#956161" d="M263.6 96.3l-.8-2.3 1 1.6 .8 2.2z"/>
<path fill="#9f6868" stroke="#9f6868" d="M262.7 94.5l-.8-2.4 .9 1.9 .8 2.3z"/>
<path fill="#aa6f6f" stroke="#aa6f6f" d="M261.9 92.3l-.8-2.4 .8 2.2 .8 2.4z"/>
<path fill="#b37575" stroke="#b37575" d="M261.2 89.9l-.8-2.5 .7 2.5 .8 2.4z"/>
<path fill="#be7c7c" stroke="#be7c7c" d="M260.6 87.3l-.8-2.5 .6 2.6 .8 2.5z"/>
<path fill="#c58883" stroke="#c58883" d="M260 84.5l-.8-2.5 .6 2.8 .8 2.5z"/>
<path fill="#c9968a" stroke="#c9968a" d="M259.6 81.5l-.8-2.4 .4 2.9 .8 2.5z"/>
<path fill="#cea390" stroke="#cea390" d="M259.2 78.7l-.8-2.3 .4 2.7 .8 2.4z"/>
<path fill="#d2af96" stroke="#d2af96" d="M258.9 76.3l-.8-2.4 .3 2.5 .8 2.3z"/>
<path fill="#d5b699" stroke="#d5b699" d="M258.7 74.2l-.8-2.3 .2 2 .8 2.4z"/>
<path fill="#d7bd9d" stroke="#d7bd9d" d="M258.6 72.8l-.8-2.3 .1 1.4 .8 2.3z"/>
<path fill="#d9c19f" stroke="#d9c19f" d="M258.5 71.9l-.8-2.3 .1 .9 .8 2.3z"/>
<path fill="#d9c3a0" stroke="#d9c3a0" d="M258.4 71.5l-.8-2.4 .1 .5 .8 2.3zM258.4 71.4l-.8-2.4 0 .1 .8 2.4z"/>
<path fill="#251818" stroke="#251818" d="M331.8 92.1l-.7-.6 4.6-1.2 .7 .6zM327.4 93.2l-.7-.6 4.4-1.1 .7 .6zM323.2 94.2l-.7-.6 4.2-1 .7 .6z"/>
<path fill="#2d1d1d" stroke="#2d1d1d" d="M319.1 95.3l-.7-.7 4.1-1 .7 .6zM315.2 96.2l-.7-.7 3.9-.9 .7 .7zM311.4 97.1l-.7-.7 3.8-.9 .7 .7zM307.8 98l-.7-.7 3.6-.9 .7 .7z"/>
<path fill="#342222" stroke="#342222" d="M304.3 98.8l-.7-.7 3.5-.8 .7 .7zM301 99.6l-.7-.8 3.3-.7 .7 .7zM297.9 100.3l-.8-.8 3.2-.7 .7 .8z"/>
<path fill="#3a2626" stroke="#3a2626" d="M294.8 101l-.7-.9 3-.6 .8 .8zM292 101.6l-.8-.9 2.9-.6 .7 .9z"/>
<path fill="#3f2929" stroke="#3f2929" d="M289.2 102.1l-.7-1 2.7-.4 .8 .9zM286.6 102.6l-.7-1 2.6-.5 .7 1z"/>
<path fill="#442d2d" stroke="#442d2d" d="M284.1 103l-.7-1.1 2.5-.3 .7 1z"/>
<path fill="#493030" stroke="#493030" d="M281.8 103.3l-.7-1.1 2.3-.3 .7 1.1zM279.6 103.5l-.7-1.2 2.2-.1 .7 1.1z"/>
<path fill="#4e3333" stroke="#4e3333" d="M277.5 103.7l-.7-1.3 2.1-.1 .7 1.2z"/>
<path fill="#563838" stroke="#563838" d="M275.6 103.7l-.7-1.3 1.9 0 .7 1.3z"/>
<path fill="#5a3b3b" stroke="#5a3b3b" d="M273.8 103.7l-.8-1.5 1.9 .2 .7 1.3z"/>
<path fill="#5d3d3d" stroke="#5d3d3d" d="M272.1 103.5l-.8-1.6 1.7 .3 .8 1.5z"/>
<path fill="#644242" stroke="#644242" d="M270.5 103.1l-.7-1.6 1.5 .4 .8 1.6z"/>
<path fill="#6b4646" stroke="#6b4646" d="M269 102.7l-.7-1.8 1.5 .6 .7 1.6z"/>
<path fill="#714a4a" stroke="#714a4a" d="M267.7 102l-.7-1.9 1.3 .8 .7 1.8z"/>
<path fill="#794f4f" stroke="#794f4f" d="M266.5 101.1l-.8-2 1.3 1 .7 1.9z"/>
<path fill="#815555" stroke="#815555" d="M265.4 100l-.8-2.2 1.1 1.3 .8 2z"/>
<path fill="#8b5b5b" stroke="#8b5b5b" d="M264.3 98.6l-.7-2.3 1 1.5 .8 2.2z"/>
<path fill="#956161" stroke="#956161" d="M263.4 96.9l-.7-2.4 .9 1.8 .7 2.3z"/>
<path fill="#9f6868" stroke="#9f6868" d="M262.6 94.9l-.7-2.6 .8 2.2 .7 2.4z"/>
<path fill="#aa6f6f" stroke="#aa6f6f" d="M261.9 92.6l-.7-2.7 .7 2.4 .7 2.6z"/>
<path fill="#b57777" stroke="#b57777" d="M261.3 90l-.7-2.7 .6 2.6 .7 2.7z"/>
<path fill="#c07e7e" stroke="#c07e7e" d="M260.8 87.2l-.8-2.7 .6 2.8 .7 2.7z"/>
<path fill="#c68a84" stroke="#c68a84" d="M260.3 84.3l-.7-2.8 .4 3 .8 2.7z"/>
<path fill="#ca988b" stroke="#ca988b" d="M259.9 81.4l-.7-2.7 .4 2.8 .7 2.8z"/>
<path fill="#cea591" stroke="#cea591" d="M259.7 78.9l-.8-2.6 .3 2.4 .7 2.7z"/>
<path fill="#d2af96" stroke="#d2af96" d="M259.4 76.8l-.7-2.6 .2 2.1 .8 2.6z"/>
<path fill="#d4b498" stroke="#d4b498" d="M259.3 75.4l-.7-2.6 .1 1.4 .7 2.6z"/>
<path fill="#d5b89a" stroke="#d5b89a" d="M259.2 74.5l-.7-2.6 .1 .9 .7 2.6z"/>
<path fill="#d6ba9b" stroke="#d6ba9b" d="M259.1 74.2l-.7-2.7 .1 .4 .7 2.6z"/>
<path fill="#d7bc9c" stroke="#d7bc9c" d="M259.1 74.1l-.7-2.7 0 .1 .7 2.7z"/>
<path fill="#251818" stroke="#251818" d="M332.5 92.6l-.7-.5 4.6-1.2 .6 .5zM328.1 93.7l-.7-.5 4.4-1.1 .7 .5zM323.8 94.8l-.6-.6 4.2-1 .7 .5zM319.8 95.8l-.7-.5 4.1-1.1 .6 .6zM315.8 96.8l-.6-.6 3.9-.9 .7 .5zM312.1 97.8l-.7-.7 3.8-.9 .6 .6z"/>
<path fill="#2d1d1d" stroke="#2d1d1d" d="M308.5 98.7l-.7-.7 3.6-.9 .7 .7zM305 99.5l-.7-.7 3.5-.8 .7 .7zM301.7 100.3l-.7-.7 3.3-.8 .7 .7zM298.5 101l-.6-.7 3.1-.7 .7 .7z"/>
<path fill="#342222" stroke="#342222" d="M295.5 101.7l-.7-.7 3.1-.7 .6 .7zM292.6 102.4l-.6-.8 2.8-.6 .7 .7zM289.9 102.9l-.7-.8 2.8-.5 .6 .8z"/>
<path fill="#3a2626" stroke="#3a2626" d="M287.3 103.5l-.7-.9 2.6-.5 .7 .8zM284.8 103.9l-.7-.9 2.5-.4 .7 .9z"/>
<path fill="#3f2929" stroke="#3f2929" d="M282.5 104.3l-.7-1 2.3-.3 .7 .9z"/>
<path fill="#442d2d" stroke="#442d2d" d="M280.2 104.6l-.6-1.1 2.2-.2 .7 1z"/>
<path fill="#493030" stroke="#493030" d="M278.2 104.8l-.7-1.1 2.1-.2 .6 1.1zM276.2 104.9l-.6-1.2 1.9 0 .7 1.1z"/>
<path fill="#523636" stroke="#523636" d="M274.4 105l-.6-1.3 1.8 0 .6 1.2z"/>
<path fill="#563838" stroke="#563838" d="M272.7 104.9l-.6-1.4 1.7 .2 .6 1.3z"/>
<path fill="#5a3b3b" stroke="#5a3b3b" d="M271.1 104.7l-.6-1.6 1.6 .4 .6 1.4z"/>
<path fill="#613f3f" stroke="#613f3f" d="M269.7 104.3l-.7-1.6 1.5 .4 .6 1.6z"/>
<path fill="#674444" stroke="#674444" d="M268.3 103.8l-.6-1.8 1.3 .7 .7 1.6z"/>
<path fill="#6e4848" stroke="#6e4848" d="M267.1 103.1l-.6-2 1.2 .9 .6 1.8z"/>
<path fill="#774e4e" stroke="#774e4e" d="M266 102.1l-.6-2.1 1.1 1.1 .6 2z"/>
<path fill="#7f5353" stroke="#7f5353" d="M265 100.9l-.7-2.3 1.1 1.4 .6 2.1z"/>
<path fill="#895a5a" stroke="#895a5a" d="M264.1 99.4l-.7-2.5 .9 1.7 .7 2.3z"/>
<path fill="#956161" stroke="#956161" d="M263.3 97.5l-.7-2.6 .8 2 .7 2.5z"/>
<path fill="#9f6868" stroke="#9f6868" d="M262.6 95.4l-.7-2.8 .7 2.3 .7 2.6z"/>
<path fill="#aa6f6f" stroke="#aa6f6f" d="M261.9 92.9l-.6-2.9 .6 2.6 .7 2.8z"/>
<path fill="#b57777" stroke="#b57777" d="M261.4 90.2l-.6-3 .5 2.8 .6 2.9z"/>
<path fill="#c27f7f" stroke="#c27f7f" d="M261 87.2l-.7-2.9 .5 2.9 .6 3z"/>
<path fill="#c78d85" stroke="#c78d85" d="M260.6 84.3l-.7-2.9 .4 2.9 .7 2.9z"/>
<path fill="#cb9a8c" stroke="#cb9a8c" d="M260.3 81.7l-.6-2.8 .2 2.5 .7 2.9z"/>
<path fill="#cea390" stroke="#cea390" d="M260.1 79.6l-.7-2.8 .3 2.1 .6 2.8z"/>
<path fill="#d0ab94" stroke="#d0ab94" d="M259.9 78.1l-.6-2.7 .1 1.4 .7 2.8z"/>
<path fill="#d2af96" stroke="#d2af96" d="M259.8 77.2l-.6-2.7 .1 .9 .6 2.7z"/>
<path fill="#d3b197" stroke="#d3b197" d="M259.8 76.8l-.7-2.6 .1 .3 .6 2.7z"/>
<path fill="#d3b297" stroke="#d3b297" d="M259.8 76.7l-.7-2.6 0 .1 .7 2.6z"/>
<path fill="#231717" stroke="#231717" d="M333 93l-.5-.4 4.5-1.2 .6 .4zM328.7 94.2l-.6-.5 4.4-1.1 .5 .4zM324.4 95.3l-.6-.5 4.3-1.1 .6 .5z"/>
<path fill="#251818" stroke="#251818" d="M320.3 96.3l-.5-.5 4-1 .6 .5zM316.4 97.3l-.6-.5 4-1 .5 .5zM312.7 98.3l-.6-.5 3.7-1 .6 .5zM309 99.2l-.5-.5 3.6-.9 .6 .5zM305.6 100.1l-.6-.6 3.5-.8 .5 .5zM302.3 100.9l-.6-.6 3.3-.8 .6 .6z"/>
<path fill="#2d1d1d" stroke="#2d1d1d" d="M299.1 101.7l-.6-.7 3.2-.7 .6 .6zM296.1 102.4l-.6-.7 3-.7 .6 .7zM293.2 103.1l-.6-.7 2.9-.7 .6 .7zM290.4 103.7l-.5-.8 2.7-.5 .6 .7z"/>
<path fill="#342222" stroke="#342222" d="M287.8 104.2l-.5-.7 2.6-.6 .5 .8zM285.4 104.7l-.6-.8 2.5-.4 .5 .7z"/>
<path fill="#3a2626" stroke="#3a2626" d="M283 105.2l-.5-.9 2.3-.4 .6 .8zM280.8 105.5l-.6-.9 2.3-.3 .5 .9z"/>
<path fill="#3f2929" stroke="#3f2929" d="M278.8 105.8l-.6-1 2-.2 .6 .9z"/>
<path fill="#442d2d" stroke="#442d2d" d="M276.8 106l-.6-1.1 2-.1 .6 1z"/>
<path fill="#493030" stroke="#493030" d="M275 106.1l-.6-1.1 1.8-.1 .6 1.1z"/>
<path fill="#4e3333" stroke="#4e3333" d="M273.3 106.2l-.6-1.3 1.7 .1 .6 1.1z"/>
<path fill="#523636" stroke="#523636" d="M271.7 106.1l-.6-1.4 1.6 .2 .6 1.3z"/>
<path fill="#563838" stroke="#563838" d="M270.3 105.8l-.6-1.5 1.4 .4 .6 1.4z"/>
<path fill="#5d3d3d" stroke="#5d3d3d" d="M268.9 105.5l-.6-1.7 1.4 .5 .6 1.5z"/>
<path fill="#644242" stroke="#644242" d="M267.7 104.9l-.6-1.8 1.2 .7 .6 1.7z"/>
<path fill="#6b4646" stroke="#6b4646" d="M266.6 104.1l-.6-2 1.1 1 .6 1.8z"/>
<path fill="#744c4c" stroke="#744c4c" d="M265.6 103.1l-.6-2.2 1 1.2 .6 2z"/>
<path fill="#7f5353" stroke="#7f5353" d="M264.7 101.8l-.6-2.4 .9 1.5 .6 2.2z"/>
<path fill="#895a5a" stroke="#895a5a" d="M263.8 100.1l-.5-2.6 .8 1.9 .6 2.4z"/>
<path fill="#956161" stroke="#956161" d="M263.1 98.1l-.5-2.7 .7 2.1 .5 2.6z"/>
<path fill="#9f6868" stroke="#9f6868" d="M262.5 95.8l-.6-2.9 .7 2.5 .5 2.7z"/>
<path fill="#ac7070" stroke="#ac7070" d="M262 93.2l-.6-3 .5 2.7 .6 2.9z"/>
<path fill="#b77878" stroke="#b77878" d="M261.5 90.2l-.5-3 .4 3 .6 3z"/>
<path fill="#c27f7f" stroke="#c27f7f" d="M261.2 87.3l-.6-3 .4 2.9 .5 3z"/>
<path fill="#c78d85" stroke="#c78d85" d="M260.9 84.6l-.6-2.9 .3 2.6 .6 3z"/>
<path fill="#ca988b" stroke="#ca988b" d="M260.7 82.2l-.6-2.6 .2 2.1 .6 2.9z"/>
<path fill="#cda18f" stroke="#cda18f" d="M260.5 80.7l-.6-2.6 .2 1.5 .6 2.6z"/>
<path fill="#cea591" stroke="#cea591" d="M260.4 79.7l-.6-2.5 .1 .9 .6 2.6z"/>
<path fill="#d0a993" stroke="#d0a993" d="M260.4 79.2l-.6-2.4 0 .4 .6 2.5zM260.4 79.2l-.6-2.5 0 .1 .6 2.4z"/>
<path fill="#231717" stroke="#231717" d="M333.5 93.4l-.5-.4 4.6-1.2 .5 .4zM329.2 94.5l-.5-.3 4.3-1.2 .5 .4zM324.9 95.7l-.5-.4 4.3-1.1 .5 .3zM320.8 96.7l-.5-.4 4.1-1 .5 .4zM316.9 97.8l-.5-.5 3.9-1 .5 .4zM313.2 98.7l-.5-.4 3.7-1 .5 .5zM309.5 99.7l-.5-.5 3.7-.9 .5 .4z"/>
<path fill="#251818" stroke="#251818" d="M306.1 100.6l-.5-.5 3.4-.9 .5 .5zM302.8 101.4l-.5-.5 3.3-.8 .5 .5zM299.6 102.2l-.5-.5 3.2-.8 .5 .5zM296.6 102.9l-.5-.5 3-.7 .5 .5zM293.7 103.6l-.5-.5 2.9-.7 .5 .5z"/>
<path fill="#2d1d1d" stroke="#2d1d1d" d="M290.9 104.3l-.5-.6 2.8-.6 .5 .5zM288.3 104.9l-.5-.7 2.6-.5 .5 .6zM285.9 105.4l-.5-.7 2.4-.5 .5 .7z"/>
<path fill="#342222" stroke="#342222" d="M283.5 105.9l-.5-.7 2.4-.5 .5 .7zM281.3 106.3l-.5-.8 2.2-.3 .5 .7zM279.3 106.7l-.5-.9 2-.3 .5 .8z"/>
<path fill="#3a2626" stroke="#3a2626" d="M277.3 107l-.5-1 2-.2 .5 .9z"/>
<path fill="#3f2929" stroke="#3f2929" d="M275.5 107.2l-.5-1.1 1.8-.1 .5 1z"/>
<path fill="#442d2d" stroke="#442d2d" d="M273.8 107.3l-.5-1.1 1.7-.1 .5 1.1z"/>
<path fill="#493030" stroke="#493030" d="M272.2 107.3l-.5-1.2 1.6 .1 .5 1.1z"/>
<path fill="#4e3333" stroke="#4e3333" d="M270.8 107.2l-.5-1.4 1.4 .3 .5 1.2z"/>
<path fill="#523636" stroke="#523636" d="M269.4 106.9l-.5-1.4 1.4 .3 .5 1.4z"/>
<path fill="#5a3b3b" stroke="#5a3b3b" d="M268.2 106.5l-.5-1.6 1.2 .6 .5 1.4z"/>
<path fill="#613f3f" stroke="#613f3f" d="M267.1 105.9l-.5-1.8 1.1 .8 .5 1.6z"/>
<path fill="#674444" stroke="#674444" d="M266.1 105.1l-.5-2 1 1 .5 1.8z"/>
<path fill="#714a4a" stroke="#714a4a" d="M265.2 104l-.5-2.2 .9 1.3 .5 2z"/>
<path fill="#7c5151" stroke="#7c5151" d="M264.3 102.6l-.5-2.5 .9 1.7 .5 2.2z"/>
<path fill="#865858" stroke="#865858" d="M263.6 100.8l-.5-2.7 .7 2 .5 2.5z"/>
<path fill="#926060" stroke="#926060" d="M263 98.7l-.5-2.9 .6 2.3 .5 2.7z"/>
<path fill="#9f6868" stroke="#9f6868" d="M262.5 96.2l-.5-3 .5 2.6 .5 2.9z"/>
<path fill="#ac7070" stroke="#ac7070" d="M262 93.4l-.5-3.2 .5 3 .5 3z"/>
<path fill="#b77878" stroke="#b77878" d="M261.7 90.4l-.5-3.1 .3 2.9 .5 3.2z"/>
<path fill="#c27f7f" stroke="#c27f7f" d="M261.4 87.5l-.5-2.9 .3 2.7 .5 3.1z"/>
<path fill="#c78d85" stroke="#c78d85" d="M261.2 85.1l-.5-2.9 .2 2.4 .5 2.9z"/>
<path fill="#c9968a" stroke="#c9968a" d="M261 83.4l-.5-2.7 .2 1.5 .5 2.9z"/>
<path fill="#cb9a8c" stroke="#cb9a8c" d="M260.9 82.3l-.5-2.6 .1 1 .5 2.7z"/>
<path fill="#cc9f8e" stroke="#cc9f8e" d="M260.9 81.8l-.5-2.6 0 .5 .5 2.6zM260.9 81.7l-.5-2.5 0 0 .5 2.6z"/>
<path fill="#231717" stroke="#231717" d="M334 93.7l-.5-.3 4.6-1.2 .4 .3zM329.6 94.9l-.4-.4 4.3-1.1 .5 .3zM325.4 96l-.5-.3 4.3-1.2 .4 .4zM321.3 97.1l-.5-.4 4.1-1 .5 .3zM317.4 98.1l-.5-.3 3.9-1.1 .5 .4zM313.6 99.1l-.4-.4 3.7-.9 .5 .3zM310 100l-.5-.3 3.7-1 .4 .4zM306.5 101l-.4-.4 3.4-.9 .5 .3zM303.2 101.8l-.4-.4 3.3-.8 .4 .4zM300 102.6l-.4-.4 3.2-.8 .4 .4zM297 103.4l-.4-.5 3-.7 .4 .4z"/>
<path fill="#251818" stroke="#251818" d="M294.1 104.1l-.4-.5 2.9-.7 .4 .5zM291.4 104.8l-.5-.5 2.8-.7 .4 .5zM288.8 105.4l-.5-.5 2.6-.6 .5 .5zM286.3 106l-.4-.6 2.4-.5 .5 .5z"/>
<path fill="#2d1d1d" stroke="#2d1d1d" d="M284 106.5l-.5-.6 2.4-.5 .4 .6zM281.8 107l-.5-.7 2.2-.4 .5 .6zM279.7 107.4l-.4-.7 2-.4 .5 .7z"/>
<path fill="#342222" stroke="#342222" d="M277.7 107.7l-.4-.7 2-.3 .4 .7zM275.9 108l-.4-.8 1.8-.2 .4 .7z"/>
<path fill="#3a2626" stroke="#3a2626" d="M274.2 108.2l-.4-.9 1.7-.1 .4 .8z"/>
<path fill="#3f2929" stroke="#3f2929" d="M272.7 108.3l-.5-1 1.6 0 .4 .9z"/>
<path fill="#442d2d" stroke="#442d2d" d="M271.2 108.3l-.4-1.1 1.4 .1 .5 1z"/>
<path fill="#493030" stroke="#493030" d="M269.9 108.2l-.5-1.3 1.4 .3 .4 1.1z"/>
<path fill="#4e3333" stroke="#4e3333" d="M268.6 108l-.4-1.5 1.2 .4 .5 1.3z"/>
<path fill="#563838" stroke="#563838" d="M267.5 107.5l-.4-1.6 1.1 .6 .4 1.5z"/>
<path fill="#5d3d3d" stroke="#5d3d3d" d="M266.5 106.9l-.4-1.8 1 .8 .4 1.6z"/>
<path fill="#644242" stroke="#644242" d="M265.6 106.1l-.4-2.1 .9 1.1 .4 1.8z"/>
<path fill="#714a4a" stroke="#714a4a" d="M264.8 104.9l-.5-2.3 .9 1.4 .4 2.1z"/>
<path fill="#794f4f" stroke="#794f4f" d="M264.1 103.4l-.5-2.6 .7 1.8 .5 2.3z"/>
<path fill="#865858" stroke="#865858" d="M263.4 101.5l-.4-2.8 .6 2.1 .5 2.6z"/>
<path fill="#926060" stroke="#926060" d="M262.9 99.2l-.4-3 .5 2.5 .4 2.8z"/>
<path fill="#9f6868" stroke="#9f6868" d="M262.5 96.5l-.5-3.1 .5 2.8 .4 3z"/>
<path fill="#ac7070" stroke="#ac7070" d="M262.1 93.6l-.4-3.2 .3 3 .5 3.1z"/>
<path fill="#b77878" stroke="#b77878" d="M261.8 90.6l-.4-3.1 .3 2.9 .4 3.2z"/>
<path fill="#c27f7f" stroke="#c27f7f" d="M261.6 88l-.4-2.9 .2 2.4 .4 3.1z"/>
<path fill="#c58883" stroke="#c58883" d="M261.4 86.2l-.4-2.8 .2 1.7 .4 2.9z"/>
<path fill="#c78f86" stroke="#c78f86" d="M261.4 85l-.5-2.7 .1 1.1 .4 2.8z"/>
<path fill="#c99489" stroke="#c99489" d="M261.3 84.5l-.4-2.7 0 .5 .5 2.7zM261.3 84.4l-.4-2.7 0 .1 .4 2.7z"/>
<path fill="#231717" stroke="#231717" d="M334.3 93.9l-.3-.2 4.5-1.2 .4 .2zM330 95.1l-.4-.2 4.4-1.2 .3 .2zM325.7 96.3l-.3-.3 4.2-1.1 .4 .2zM321.6 97.3l-.3-.2 4.1-1.1 .3 .3zM317.7 98.4l-.3-.3 3.9-1 .3 .2zM314 99.4l-.4-.3 3.8-1 .3 .3zM310.3 100.4l-.3-.4 3.6-.9 .4 .3zM306.9 101.3l-.4-.3 3.5-1 .3 .4zM303.6 102.1l-.4-.3 3.3-.8 .4 .3zM300.4 103l-.4-.4 3.2-.8 .4 .3zM297.4 103.8l-.4-.4 3-.8 .4 .4zM294.5 104.5l-.4-.4 2.9-.7 .4 .4zM291.7 105.2l-.3-.4 2.7-.7 .4 .4zM289.1 105.8l-.3-.4 2.6-.6 .3 .4z"/>
<path fill="#251818" stroke="#251818" d="M286.7 106.4l-.4-.4 2.5-.6 .3 .4zM284.3 107l-.3-.5 2.3-.5 .4 .4zM282.1 107.5l-.3-.5 2.2-.5 .3 .5zM280.1 108l-.4-.6 2.1-.4 .3 .5z"/>
<path fill="#2d1d1d" stroke="#2d1d1d" d="M278.1 108.4l-.4-.7 2-.3 .4 .6zM276.3 108.7l-.4-.7 1.8-.3 .4 .7z"/>
<path fill="#342222" stroke="#342222" d="M274.6 109l-.4-.8 1.7-.2 .4 .7zM273 109.2l-.3-.9 1.5-.1 .4 .8z"/>
<path fill="#3a2626" stroke="#3a2626" d="M271.6 109.3l-.4-1 1.5 0 .3 .9z"/>
<path fill="#3f2929" stroke="#3f2929" d="M270.2 109.3l-.3-1.1 1.3 .1 .4 1z"/>
<path fill="#442d2d" stroke="#442d2d" d="M269 109.2l-.4-1.2 1.3 .2 .3 1.1z"/>
<path fill="#493030" stroke="#493030" d="M267.9 108.9l-.4-1.4 1.1 .5 .4 1.2z"/>
<path fill="#523636" stroke="#523636" d="M266.9 108.5l-.4-1.6 1 .6 .4 1.4z"/>
<path fill="#5a3b3b" stroke="#5a3b3b" d="M266 107.9l-.4-1.8 .9 .8 .4 1.6z"/>
<path fill="#613f3f" stroke="#613f3f" d="M265.1 107l-.3-2.1 .8 1.2 .4 1.8z"/>
<path fill="#6e4848" stroke="#6e4848" d="M264.4 105.7l-.3-2.3 .7 1.5 .3 2.1z"/>
<path fill="#774e4e" stroke="#774e4e" d="M263.8 104.1l-.4-2.6 .7 1.9 .3 2.3z"/>
<path fill="#845656" stroke="#845656" d="M263.3 102.1l-.4-2.9 .5 2.3 .4 2.6z"/>
<path fill="#926060" stroke="#926060" d="M262.8 99.6l-.3-3.1 .4 2.7 .4 2.9z"/>
<path fill="#9f6868" stroke="#9f6868" d="M262.5 96.8l-.4-3.2 .4 2.9 .3 3.1z"/>
<path fill="#ac7070" stroke="#ac7070" d="M262.2 93.8l-.4-3.2 .3 3 .4 3.2z"/>
<path fill="#b77878" stroke="#b77878" d="M262 90.9l-.4-2.9 .2 2.6 .4 3.2z"/>
<path fill="#c07e7e" stroke="#c07e7e" d="M261.8 89l-.4-2.8 .2 1.8 .4 2.9z"/>
<path fill="#c48381" stroke="#c48381" d="M261.7 87.7l-.3-2.7 0 1.2 .4 2.8z"/>
<path fill="#c48582" stroke="#c48582" d="M261.7 87.2l-.4-2.7 .1 .5 .3 2.7z"/>
<path fill="#c58883" stroke="#c58883" d="M261.7 87.1l-.4-2.7 0 .1 .4 2.7z"/>
<path fill="#231717" stroke="#231717" d="M334.6 94.1l-.3-.2 4.6-1.2 .3 .2zM330.3 95.3l-.3-.2 4.3-1.2 .3 .2zM326 96.5l-.3-.2 4.3-1.2 .3 .2zM321.9 97.6l-.3-.3 4.1-1 .3 .2zM318 98.6l-.3-.2 3.9-1.1 .3 .3zM314.3 99.6l-.3-.2 3.7-1 .3 .2zM310.6 100.6l-.3-.2 3.7-1 .3 .2zM307.2 101.5l-.3-.2 3.4-.9 .3 .2zM303.9 102.4l-.3-.3 3.3-.8 .3 .2zM300.7 103.2l-.3-.2 3.2-.9 .3 .3zM297.7 104l-.3-.2 3-.8 .3 .2zM294.8 104.8l-.3-.3 2.9-.7 .3 .2zM292 105.5l-.3-.3 2.8-.7 .3 .3zM289.4 106.2l-.3-.4 2.6-.6 .3 .3zM287 106.8l-.3-.4 2.4-.6 .3 .4zM284.6 107.4l-.3-.4 2.4-.6 .3 .4zM282.4 107.9l-.3-.4 2.2-.5 .3 .4z"/>
<path fill="#251818" stroke="#251818" d="M280.4 108.4l-.3-.4 2-.5 .3 .4zM278.4 108.8l-.3-.4 2-.4 .3 .4zM276.6 109.2l-.3-.5 1.8-.3 .3 .4zM274.9 109.6l-.3-.6 1.7-.3 .3 .5z"/>
<path fill="#2d1d1d" stroke="#2d1d1d" d="M273.3 109.8l-.3-.6 1.6-.2 .3 .6zM271.9 110l-.3-.7 1.4-.1 .3 .6z"/>
<path fill="#342222" stroke="#342222" d="M270.5 110.1l-.3-.8 1.4 0 .3 .7z"/>
<path fill="#3a2626" stroke="#3a2626" d="M269.3 110.1l-.3-.9 1.2 .1 .3 .8z"/>
<path fill="#3f2929" stroke="#3f2929" d="M268.2 110l-.3-1.1 1.1 .3 .3 .9z"/>
<path fill="#442d2d" stroke="#442d2d" d="M267.2 109.8l-.3-1.3 1 .4 .3 1.1z"/>
<path fill="#4e3333" stroke="#4e3333" d="M266.3 109.4l-.3-1.5 .9 .6 .3 1.3z"/>
<path fill="#563838" stroke="#563838" d="M265.4 108.7l-.3-1.7 .9 .9 .3 1.5z"/>
<path fill="#5d3d3d" stroke="#5d3d3d" d="M264.7 107.8l-.3-2.1 .7 1.3 .3 1.7z"/>
<path fill="#6b4646" stroke="#6b4646" d="M264.1 106.5l-.3-2.4 .6 1.6 .3 2.1z"/>
<path fill="#774e4e" stroke="#774e4e" d="M263.6 104.8l-.3-2.7 .5 2 .3 2.4z"/>
<path fill="#845656" stroke="#845656" d="M263.1 102.5l-.3-2.9 .5 2.5 .3 2.7z"/>
<path fill="#905e5e" stroke="#905e5e" d="M262.8 99.8l-.3-3 .3 2.8 .3 2.9z"/>
<path fill="#9f6868" stroke="#9f6868" d="M262.5 96.8l-.3-3 .3 3 .3 3z"/>
<path fill="#ac7070" stroke="#ac7070" d="M262.3 93.9l-.3-3 .2 2.9 .3 3z"/>
<path fill="#b57777" stroke="#b57777" d="M262.1 91.8l-.3-2.8 .2 1.9 .3 3z"/>
<path fill="#bb7a7a" stroke="#bb7a7a" d="M262 90.4l-.3-2.7 .1 1.3 .3 2.8z"/>
<path fill="#be7c7c" stroke="#be7c7c" d="M262 89.8l-.3-2.6 0 .5 .3 2.7zM262 89.7l-.3-2.6 0 .1 .3 2.6z"/>
<path fill="#231717" stroke="#231717" d="M334.9 94.3l-.3-.2 4.6-1.2 .2 .1zM330.5 95.5l-.2-.2 4.3-1.2 .3 .2zM326.3 96.6l-.3-.1 4.3-1.2 .2 .2zM322.2 97.7l-.3-.1 4.1-1.1 .3 .1zM318.3 98.8l-.3-.2 3.9-1 .3 .1zM314.5 99.8l-.2-.2 3.7-1 .3 .2zM310.9 100.8l-.3-.2 3.7-1 .2 .2zM307.4 101.7l-.2-.2 3.4-.9 .3 .2zM304.1 102.6l-.2-.2 3.3-.9 .2 .2zM300.9 103.4l-.2-.2 3.2-.8 .2 .2zM297.9 104.2l-.2-.2 3-.8 .2 .2zM295 105l-.2-.2 2.9-.8 .2 .2zM292.3 105.7l-.3-.2 2.8-.7 .2 .2zM289.7 106.4l-.3-.2 2.6-.7 .3 .2zM287.2 107.1l-.2-.3 2.4-.6 .3 .2zM284.9 107.7l-.3-.3 2.4-.6 .2 .3zM282.7 108.2l-.3-.3 2.2-.5 .3 .3zM280.6 108.7l-.2-.3 2-.5 .3 .3zM278.6 109.2l-.2-.4 2-.4 .2 .3zM276.8 109.6l-.2-.4 1.8-.4 .2 .4z"/>
<path fill="#251818" stroke="#251818" d="M275.1 110l-.2-.4 1.7-.4 .2 .4zM273.6 110.3l-.3-.5 1.6-.2 .2 .4zM272.1 110.6l-.2-.6 1.4-.2 .3 .5z"/>
<path fill="#2d1d1d" stroke="#2d1d1d" d="M270.8 110.8l-.3-.7 1.4-.1 .2 .6zM269.5 110.9l-.2-.8 1.2 0 .3 .7z"/>
<path fill="#342222" stroke="#342222" d="M268.4 110.9l-.2-.9 1.1 .1 .2 .8z"/>
<path fill="#3a2626" stroke="#3a2626" d="M267.4 110.8l-.2-1 1 .2 .2 .9z"/>
<path fill="#3f2929" stroke="#3f2929" d="M266.5 110.6l-.2-1.2 .9 .4 .2 1z"/>
<path fill="#493030" stroke="#493030" d="M265.7 110.1l-.3-1.4 .9 .7 .2 1.2z"/>
<path fill="#523636" stroke="#523636" d="M265 109.4l-.3-1.6 .7 .9 .3 1.4z"/>
<path fill="#5a3b3b" stroke="#5a3b3b" d="M264.3 108.5l-.2-2 .6 1.3 .3 1.6z"/>
<path fill="#674444" stroke="#674444" d="M263.8 107.1l-.2-2.3 .5 1.7 .2 2z"/>
<path fill="#744c4c" stroke="#744c4c" d="M263.4 105.1l-.3-2.6 .5 2.3 .2 2.3z"/>
<path fill="#845656" stroke="#845656" d="M263 102.7l-.2-2.9 .3 2.7 .3 2.6z"/>
<path fill="#926060" stroke="#926060" d="M262.7 99.7l-.2-2.9 .3 3 .2 2.9z"/>
<path fill="#9f6868" stroke="#9f6868" d="M262.5 96.6l-.2-2.7 .2 2.9 .2 2.9z"/>
<path fill="#aa6f6f" stroke="#aa6f6f" d="M262.3 94.4l-.2-2.6 .2 2.1 .2 2.7z"/>
<path fill="#b17474" stroke="#b17474" d="M262.3 92.9l-.3-2.5 .1 1.4 .2 2.6z"/>
<path fill="#b57777" stroke="#b57777" d="M262.2 92.2l-.2-2.4 0 .6 .3 2.5zM262.2 92.1l-.2-2.4 0 .1 .2 2.4z"/>
<path fill="#231717" stroke="#231717" d="M335.1 94.4l-.2-.1 4.5-1.3 .2 .1zM330.7 95.6l-.2-.1 4.4-1.2 .2 .1zM326.4 96.7l-.1-.1 4.2-1.1 .2 .1zM322.4 97.8l-.2-.1 4.1-1.1 .1 .1zM318.4 98.9l-.1-.1 3.9-1.1 .2 .1zM314.7 99.9l-.2-.1 3.8-1 .1 .1zM311 100.9l-.1-.1 3.6-1 .2 .1zM307.6 101.8l-.2-.1 3.5-.9 .1 .1zM304.3 102.7l-.2-.1 3.3-.9 .2 .1zM301.1 103.6l-.2-.2 3.2-.8 .2 .1zM298.1 104.4l-.2-.2 3-.8 .2 .2zM295.2 105.2l-.2-.2 2.9-.8 .2 .2zM292.4 105.9l-.1-.2 2.7-.7 .2 .2zM289.8 106.6l-.1-.2 2.6-.7 .1 .2zM287.4 107.2l-.2-.1 2.5-.7 .1 .2zM285 107.8l-.1-.1 2.3-.6 .2 .1zM282.8 108.4l-.1-.2 2.2-.5 .1 .1zM280.8 109l-.2-.3 2.1-.5 .1 .2zM278.8 109.4l-.2-.2 2-.5 .2 .3zM277 109.9l-.2-.3 1.8-.4 .2 .2zM275.3 110.3l-.2-.3 1.7-.4 .2 .3zM273.7 110.6l-.1-.3 1.5-.3 .2 .3zM272.3 111l-.2-.4 1.5-.3 .1 .3z"/>
<path fill="#251818" stroke="#251818" d="M270.9 111.2l-.1-.4 1.3-.2 .2 .4zM269.7 111.4l-.2-.5 1.3-.1 .1 .4z"/>
<path fill="#2d1d1d" stroke="#2d1d1d" d="M268.6 111.5l-.2-.6 1.1 0 .2 .5zM267.6 111.5l-.2-.7 1 .1 .2 .6z"/>
<path fill="#342222" stroke="#342222" d="M266.7 111.4l-.2-.8 .9 .2 .2 .7z"/>
<path fill="#3a2626" stroke="#3a2626" d="M265.9 111.2l-.2-1.1 .8 .5 .2 .8z"/>
<path fill="#442d2d" stroke="#442d2d" d="M265.1 110.7l-.1-1.3 .7 .7 .2 1.1z"/>
<path fill="#4e3333" stroke="#4e3333" d="M264.5 110l-.2-1.5 .7 .9 .1 1.3z"/>
<path fill="#5a3b3b" stroke="#5a3b3b" d="M264 108.9l-.2-1.8 .5 1.4 .2 1.5z"/>
<path fill="#644242" stroke="#644242" d="M263.5 107.2l-.1-2.1 .4 2 .2 1.8z"/>
<path fill="#744c4c" stroke="#744c4c" d="M263.2 105l-.2-2.3 .4 2.4 .1 2.1z"/>
<path fill="#845656" stroke="#845656" d="M262.9 102.2l-.2-2.5 .3 3 .2 2.3z"/>
<path fill="#956161" stroke="#956161" d="M262.7 99l-.2-2.4 .2 3.1 .2 2.5z"/>
<path fill="#9f6868" stroke="#9f6868" d="M262.5 96.6l-.2-2.2 .2 2.2 .2 2.4z"/>
<path fill="#a86e6e" stroke="#a86e6e" d="M262.4 95l-.1-2.1 0 1.5 .2 2.2z"/>
<path fill="#ac7070" stroke="#ac7070" d="M262.4 94.2l-.2-2 .1 .7 .1 2.1z"/>
<path fill="#ae7272" stroke="#ae7272" d="M262.4 94.1l-.2-2 0 .1 .2 2z"/>
<path fill="#231717" stroke="#231717" d="M335.2 94.4l-.1 0 4.5-1.3 .1 .1zM330.8 95.6l-.1 0 4.4-1.2 .1 0zM326.5 96.8l-.1-.1 4.3-1.1 .1 0zM322.5 97.9l-.1-.1 4-1.1 .1 .1zM318.5 99l-.1-.1 4-1.1 .1 .1zM314.8 100l-.1-.1 3.7-1 .1 .1zM311.2 101l-.2-.1 3.7-1 .1 .1zM307.7 101.9l-.1-.1 3.4-.9 .2 .1zM304.4 102.8l-.1-.1 3.3-.9 .1 .1zM301.2 103.7l-.1-.1 3.2-.9 .1 .1zM298.2 104.5l-.1-.1 3-.8 .1 .1zM295.3 105.2l-.1 0 2.9-.8 .1 .1zM292.6 106l-.2-.1 2.8-.7 .1 0zM290 106.7l-.2-.1 2.6-.7 .2 .1zM287.5 107.3l-.1-.1 2.4-.6 .2 .1zM285.2 108l-.2-.2 2.4-.6 .1 .1zM282.9 108.5l-.1-.1 2.2-.6 .2 .2zM280.9 109.1l-.1-.1 2-.6 .1 .1zM278.9 109.6l-.1-.2 2-.4 .1 .1zM277.1 110.1l-.1-.2 1.8-.5 .1 .2zM275.4 110.5l-.1-.2 1.7-.4 .1 .2zM273.8 110.9l-.1-.3 1.6-.3 .1 .2zM272.4 111.2l-.1-.2 1.4-.4 .1 .3zM271 111.5l-.1-.3 1.4-.2 .1 .2zM269.8 111.7l-.1-.3 1.2-.2 .1 .3z"/>
<path fill="#251818" stroke="#251818" d="M268.7 111.9l-.1-.4 1.1-.1 .1 .3zM267.7 112l-.1-.5 1 0 .1 .4z"/>
<path fill="#2d1d1d" stroke="#2d1d1d" d="M266.8 112l-.1-.6 .9 .1 .1 .5z"/>
<path fill="#342222" stroke="#342222" d="M266 111.8l-.1-.6 .8 .2 .1 .6z"/>
<path fill="#3a2626" stroke="#3a2626" d="M265.3 111.5l-.2-.8 .8 .5 .1 .6z"/>
<path fill="#3f2929" stroke="#3f2929" d="M264.6 111l-.1-1 .6 .7 .2 .8z"/>
<path fill="#4e3333" stroke="#4e3333" d="M264.1 110.2l-.1-1.3 .5 1.1 .1 1z"/>
<path fill="#5a3b3b" stroke="#5a3b3b" d="M263.7 108.8l-.2-1.6 .5 1.7 .1 1.3z"/>
<path fill="#674444" stroke="#674444" d="M263.3 106.8l-.1-1.8 .3 2.2 .2 1.6z"/>
<path fill="#794f4f" stroke="#794f4f" d="M263 104.1l-.1-1.9 .3 2.8 .1 1.8z"/>
<path fill="#895a5a" stroke="#895a5a" d="M262.8 100.9l-.1-1.9 .2 3.2 .1 1.9z"/>
<path fill="#976363" stroke="#976363" d="M262.6 98.3l-.1-1.7 .2 2.4 .1 1.9z"/>
<path fill="#a26a6a" stroke="#a26a6a" d="M262.5 96.5l-.1-1.5 .1 1.6 .1 1.7z"/>
<path fill="#a66c6c" stroke="#a66c6c" d="M262.5 95.6l-.1-1.4 0 .8 .1 1.5zM262.5 95.4l-.1-1.3 0 .1 .1 1.4z"/>
<path fill="#231717" stroke="#231717" d="M335.2 94.5l0-.1 4.5-1.2 .1 0zM330.8 95.7l0-.1 4.4-1.2 0 .1zM326.6 96.8l-.1 0 4.3-1.2 0 .1zM322.5 97.9l0 0 4-1.1 .1 0zM318.6 99l-.1 0 4-1.1 0 0zM314.8 100l0 0 3.7-1 .1 0zM311.2 101l0 0 3.6-1 0 0zM307.8 101.9l-.1 0 3.5-.9 0 0zM304.4 102.8l0 0 3.3-.9 .1 0zM301.3 103.7l-.1 0 3.2-.9 0 0zM298.2 104.5l0 0 3-.8 .1 0zM295.4 105.3l-.1-.1 2.9-.7 0 0zM292.6 106l0 0 2.7-.8 .1 .1zM290 106.7l0 0 2.6-.7 0 0zM287.5 107.4l0-.1 2.5-.6 0 0zM285.2 108l0 0 2.3-.7 0 .1zM283 108.6l-.1-.1 2.3-.5 0 0zM280.9 109.2l0-.1 2-.6 .1 .1zM279 109.7l-.1-.1 2-.5 0 .1zM277.2 110.1l-.1 0 1.8-.5 .1 .1zM275.5 110.6l-.1-.1 1.7-.4 .1 0zM273.9 111l-.1-.1 1.6-.4 .1 .1zM272.5 111.3l-.1-.1 1.4-.3 .1 .1zM271.1 111.6l-.1-.1 1.4-.3 .1 .1zM269.9 111.9l-.1-.2 1.2-.2 .1 .1zM268.8 112.1l-.1-.2 1.1-.2 .1 .2z"/>
<path fill="#251818" stroke="#251818" d="M267.8 112.2l-.1-.2 1-.1 .1 .2zM266.8 112.3l0-.3 .9 0 .1 .2z"/>
<path fill="#2d1d1d" stroke="#2d1d1d" d="M266 112.2l0-.4 .8 .2 0 .3z"/>
<path fill="#342222" stroke="#342222" d="M265.3 112l0-.5 .7 .3 0 .4z"/>
<path fill="#3a2626" stroke="#3a2626" d="M264.7 111.6l-.1-.6 .7 .5 0 .5z"/>
<path fill="#442d2d" stroke="#442d2d" d="M264.2 110.9l-.1-.7 .5 .8 .1 .6z"/>
<path fill="#4e3333" stroke="#4e3333" d="M263.7 109.7l0-.9 .4 1.4 .1 .7z"/>
<path fill="#5d3d3d" stroke="#5d3d3d" d="M263.4 107.9l-.1-1.1 .4 2 0 .9z"/>
<path fill="#714a4a" stroke="#714a4a" d="M263.1 105.2l-.1-1.1 .3 2.7 .1 1.1z"/>
<path fill="#815555" stroke="#815555" d="M262.9 102l-.1-1.1 .2 3.2 .1 1.1z"/>
<path fill="#926060" stroke="#926060" d="M262.7 99.3l-.1-1 .2 2.6 .1 1.1z"/>
<path fill="#9b6666" stroke="#9b6666" d="M262.6 97.3l-.1-.8 .1 1.8 .1 1z"/>
<path fill="#a26a6a" stroke="#a26a6a" d="M262.6 96.4l-.1-.8 0 .9 .1 .8zM262.5 96.2l0-.8 0 .2 .1 .8z"/>
<path fill="#231717" stroke="#231717" d="M335.3 94.5l-.1 0 4.6-1.3 0 .1zM330.9 95.7l-.1 0 4.4-1.2 .1 0zM326.6 96.8l0 0 4.2-1.1 .1 0zM322.5 97.9l0 0 4.1-1.1 0 0zM318.6 99l0 0 3.9-1.1 0 0zM314.9 100l-.1 0 3.8-1 0 0zM311.2 101l0 0 3.6-1 .1 0zM307.8 102l0-.1 3.4-.9 0 0zM304.5 102.9l-.1-.1 3.4-.9 0 .1zM301.3 103.7l0 0 3.1-.9 .1 .1zM298.3 104.5l-.1 0 3.1-.8 0 0zM295.4 105.3l0 0 2.8-.8 .1 0zM292.6 106.1l0-.1 2.8-.7 0 0zM290 106.8l0-.1 2.6-.7 0 .1zM287.6 107.4l-.1 0 2.5-.7 0 .1zM285.2 108l0 0 2.3-.6 .1 0zM283 108.6l0 0 2.2-.6 0 0zM281 109.2l-.1 0 2.1-.6 0 0zM279 109.7l0 0 1.9-.5 .1 0zM277.2 110.2l0-.1 1.8-.4 0 0zM275.5 110.6l0 0 1.7-.5 0 .1zM273.9 111l0 0 1.6-.4 0 0zM272.5 111.3l0 0 1.4-.3 0 0zM271.1 111.7l0-.1 1.4-.3 0 0zM269.9 111.9l0 0 1.2-.3 0 .1zM268.8 112.1l0 0 1.1-.2 0 0zM267.8 112.3l0-.1 1-.1 0 0z"/>
<path fill="#251818" stroke="#251818" d="M266.9 112.3l-.1 0 1-.1 0 .1zM266 112.3l0-.1 .8 .1 .1 0z"/>
<path fill="#2d1d1d" stroke="#2d1d1d" d="M265.3 112.1l0-.1 .7 .2 0 .1z"/>
<path fill="#342222" stroke="#342222" d="M264.7 111.7l0-.1 .6 .4 0 .1z"/>
<path fill="#3f2929" stroke="#3f2929" d="M264.2 111.1l0-.2 .5 .7 0 .1z"/>
<path fill="#493030" stroke="#493030" d="M263.7 109.9l0-.2 .5 1.2 0 .2z"/>
<path fill="#5a3b3b" stroke="#5a3b3b" d="M263.4 108.2l0-.3 .3 1.8 0 .2z"/>
<path fill="#6b4646" stroke="#6b4646" d="M263.1 105.6l0-.4 .3 2.7 0 .3z"/>
<path fill="#7f5353" stroke="#7f5353" d="M262.9 102.3l0-.3 .2 3.2 0 .4z"/>
<path fill="#8e5d5d" stroke="#8e5d5d" d="M262.7 99.6l0-.3 .2 2.7 0 .3z"/>
<path fill="#996464" stroke="#996464" d="M262.6 97.5l0-.2 .1 2 0 .3z"/>
<path fill="#9f6868" stroke="#9f6868" d="M262.6 96.6l0-.2 0 .9 0 .2zM262.6 96.4l-.1-.2 .1 .2 0 .2z"/>
</g>
<path d="M203.6 87L203.6 27.3" stroke="#333" stroke-width="0.7" fill="none"/>
<path d="M203.6 87L262.6 114.5" stroke="#333" stroke-width="0.7" fill="none"/>
<path d="M262.6 114.5L340.1 93.4" stroke="#333" stroke-width="0.7" fill="none"/>
<path d="M203.6 87L205.1 86.6" stroke="#333" stroke-width="0.6" fill="none"/>
<path d="M203.6 57.1L205.1 56.7" stroke="#333" stroke-width="0.6" fill="none"/>
<path d="M203.6 27.3L205.1 26.9" stroke="#333" stroke-width="0.6" fill="none"/>
<path d="M262.6 114.5L264.1 114.1" stroke="#333" stroke-width="0.6" fill="none"/>
<path d="M233.1 100.8L234.6 100.3" stroke="#333" stroke-width="0.6" fill="none"/>
<path d="M203.6 87L205.1 86.6" stroke="#333" stroke-width="0.6" fill="none"/>
<path d="M262.6 114.5L261.1 113.8" stroke="#333" stroke-width="0.6" fill="none"/>
<path d="M288.4 107.5L287 106.8" stroke="#333" stroke-width="0.6" fill="none"/>
<path d="M314.3 100.4L312.8 99.8" stroke="#333" stroke-width="0.6" fill="none"/>
<path d="M340.1 93.4L338.6 92.7" stroke="#333" stroke-width="0.6" fill="none"/>
<text x="201" y="88.9" font-size="7" text-anchor="end" >0</text>
<text x="201" y="59" font-size="7" text-anchor="end" >0.5</text>
<text x="201" y="29.2" font-size="7" text-anchor="end" >1</text>
<text x="201.1" y="94.6" font-size="7" text-anchor="end" >2</text>
<text x="230.6" y="108.3" font-size="7" text-anchor="end" >1</text>
<text x="260.1" y="122.1" font-size="7" text-anchor="end" >0</text>
<text x="264.9" y="122.5" font-size="7" text-anchor="start" >0</text>
<text x="290.7" y="115.5" font-size="7" text-anchor="start" >5</text>
<text x="316.6" y="108.4" font-size="7" text-anchor="start" >10</text>
<text x="342.4" y="101.4" font-size="7" text-anchor="start" >15</text>
<text x="180" y="25.1" font-size="14" text-anchor="start" class="b">(b)</text>
<text transform="translate(190.6 63.5) rotate(-90)" class="b" font-size="13.5" text-anchor="middle">PSE</text>
<text transform="translate(218 115.8) rotate(25)" class="c" font-size="13.5" text-anchor="middle" font-style="italic">N<tspan font-size="7" dy="3.5">s</tspan></text>
<g transform="translate(312.5 122.3) rotate(-15.2)"><text x="-25.4" y="0.2" font-size="14" font-style="italic" class="c" transform="skewX(-13)">f</text><text x="-20.9" y="2.5" font-size="8" class="c">n</text><text x="-10.2" y="0" font-size="13.5" class="b">(MHz)</text></g>
<path d="M380.3 87L380.3 27.3" stroke="#dcdcdc" stroke-width="0.6" fill="none"/>
<path d="M380.3 87L439.3 114.5" stroke="#dcdcdc" stroke-width="0.6" fill="none"/>
<path d="M406.1 80L406.1 20.3" stroke="#dcdcdc" stroke-width="0.6" fill="none"/>
<path d="M406.1 80L465.1 107.5" stroke="#dcdcdc" stroke-width="0.6" fill="none"/>
<path d="M432 72.9L432 13.2" stroke="#dcdcdc" stroke-width="0.6" fill="none"/>
<path d="M432 72.9L491 100.4" stroke="#dcdcdc" stroke-width="0.6" fill="none"/>
<path d="M457.8 65.9L457.8 6.2" stroke="#dcdcdc" stroke-width="0.6" fill="none"/>
<path d="M457.8 65.9L516.8 93.4" stroke="#dcdcdc" stroke-width="0.6" fill="none"/>
<path d="M516.8 93.4L516.8 33.7" stroke="#dcdcdc" stroke-width="0.6" fill="none"/>
<path d="M439.3 114.5L516.8 93.4" stroke="#dcdcdc" stroke-width="0.6" fill="none"/>
<path d="M487.3 79.7L487.3 20" stroke="#dcdcdc" stroke-width="0.6" fill="none"/>
<path d="M409.8 100.8L487.3 79.7" stroke="#dcdcdc" stroke-width="0.6" fill="none"/>
<path d="M457.8 65.9L457.8 6.2" stroke="#dcdcdc" stroke-width="0.6" fill="none"/>
<path d="M380.3 87L457.8 65.9" stroke="#dcdcdc" stroke-width="0.6" fill="none"/>
<path d="M380.3 87L457.8 65.9" stroke="#dcdcdc" stroke-width="0.6" fill="none"/>
<path d="M457.8 65.9L516.8 93.4" stroke="#dcdcdc" stroke-width="0.6" fill="none"/>
<path d="M380.3 57.1L457.8 36.1" stroke="#dcdcdc" stroke-width="0.6" fill="none"/>
<path d="M457.8 36.1L516.8 63.6" stroke="#dcdcdc" stroke-width="0.6" fill="none"/>
<path d="M380.3 27.3L457.8 6.2" stroke="#dcdcdc" stroke-width="0.6" fill="none"/>
<path d="M457.8 6.2L516.8 33.7" stroke="#dcdcdc" stroke-width="0.6" fill="none"/>
<g stroke-width="0.7" stroke-linejoin="round" filter="url(#sm)">
<path fill="#e8e7b3" stroke="#e8e7b3" d="M456.4 15.9l-3.2-1.9 4.6-1 3.2 2z"/>
<path fill="#e9e8b4" stroke="#e9e8b4" d="M452 16.8l-3.1-1.9 4.3-.9 3.2 1.9z"/>
<path fill="#e9e9b6" stroke="#e9e9b6" d="M447.8 17.7l-3.2-1.9 4.3-.9 3.1 1.9zM443.7 18.5l-3.2-1.9 4.1-.8 3.2 1.9z"/>
<path fill="#eaeab8" stroke="#eaeab8" d="M439.8 19.3l-3.2-1.9 3.9-.8 3.2 1.9z"/>
<path fill="#eaeaba" stroke="#eaeaba" d="M436 20l-3.1-1.9 3.7-.7 3.2 1.9zM432.4 20.7l-3.2-1.8 3.7-.8 3.1 1.9z"/>
<path fill="#ebebbd" stroke="#ebebbd" d="M429 21.4l-3.2-1.8 3.4-.7 3.2 1.8zM425.6 22l-3.1-1.8 3.3-.6 3.2 1.8z"/>
<path fill="#ececbf" stroke="#ececbf" d="M422.5 22.6l-3.2-1.8 3.2-.6 3.1 1.8zM419.4 23.2l-3.1-1.8 3-.6 3.2 1.8z"/>
<path fill="#ececc1" stroke="#ececc1" d="M416.6 23.7l-3.2-1.7 2.9-.6 3.1 1.8zM413.8 24.2l-3.2-1.7 2.8-.5 3.2 1.7z"/>
<path fill="#ededc3" stroke="#ededc3" d="M411.2 24.7l-3.2-1.7 2.6-.5 3.2 1.7zM408.7 25.1l-3.1-1.7 2.4-.4 3.2 1.7z"/>
<path fill="#ededc6" stroke="#ededc6" d="M406.4 25.5l-3.2-1.7 2.4-.4 3.1 1.7zM404.2 25.9l-3.2-1.7 2.2-.4 3.2 1.7z"/>
<path fill="#eeeec8" stroke="#eeeec8" d="M402.1 26.3l-3.1-1.7 2-.4 3.2 1.7zM400.2 26.6l-3.2-1.7 2-.3 3.1 1.7z"/>
<path fill="#efefca" stroke="#efefca" d="M398.4 26.9l-3.2-1.7 1.8-.3 3.2 1.7zM396.7 27.1l-3.2-1.6 1.7-.3 3.2 1.7zM395.1 27.4l-3.2-1.6 1.6-.3 3.2 1.6z"/>
<path fill="#efefcc" stroke="#efefcc" d="M393.6 27.6l-3.1-1.6 1.4-.2 3.2 1.6zM392.3 27.8l-3.2-1.6 1.4-.2 3.1 1.6zM391.1 28l-3.2-1.6 1.2-.2 3.2 1.6z"/>
<path fill="#f0f0ce" stroke="#f0f0ce" d="M390 28.1l-3.2-1.5 1.1-.2 3.2 1.6zM388.9 28.3l-3.1-1.6 1-.1 3.2 1.5zM388 28.4l-3.1-1.6 .9-.1 3.1 1.6zM387.2 28.5l-3.2-1.5 .9-.2 3.1 1.6z"/>
<path fill="#f0f0d0" stroke="#f0f0d0" d="M386.5 28.6l-3.2-1.6 .7 0 3.2 1.5zM385.9 28.6l-3.2-1.5 .6-.1 3.2 1.6zM385.4 28.7l-3.2-1.5 .5-.1 3.2 1.5zM384.9 28.7l-3.2-1.5 .5 0 3.2 1.5zM384.6 28.8l-3.2-1.5 .3-.1 3.2 1.5z"/>
<path fill="#f1f1d2" stroke="#f1f1d2" d="M384.3 28.8l-3.2-1.5 .3 0 3.2 1.5zM384 28.8l-3.1-1.5 .2 0 3.2 1.5zM383.9 28.8l-3.2-1.5 .2 0 3.1 1.5zM383.8 28.8l-3.2-1.5 .1 0 3.2 1.5zM383.7 28.8l-3.1-1.5 0 0 3.2 1.5zM383.7 28.8l-3.1-1.5 0 0 3.1 1.5z"/>
<path fill="#e7e5b2" stroke="#e7e5b2" d="M459.5 17.9l-3.1-2 4.6-.9 3.1 2z"/>
<path fill="#e8e7b3" stroke="#e8e7b3" d="M455.1 18.8l-3.1-2 4.4-.9 3.1 2z"/>
<path fill="#e9e8b4" stroke="#e9e8b4" d="M450.9 19.6l-3.1-1.9 4.2-.9 3.1 2zM446.8 20.4l-3.1-1.9 4.1-.8 3.1 1.9z"/>
<path fill="#e9e9b6" stroke="#e9e9b6" d="M442.9 21.2l-3.1-1.9 3.9-.8 3.1 1.9z"/>
<path fill="#eaeab8" stroke="#eaeab8" d="M439.1 21.9l-3.1-1.9 3.8-.7 3.1 1.9z"/>
<path fill="#eaeaba" stroke="#eaeaba" d="M435.5 22.6l-3.1-1.9 3.6-.7 3.1 1.9z"/>
<path fill="#ebebbd" stroke="#ebebbd" d="M432 23.2l-3-1.8 3.4-.7 3.1 1.9zM428.7 23.8l-3.1-1.8 3.4-.6 3 1.8z"/>
<path fill="#ececbf" stroke="#ececbf" d="M425.5 24.4l-3-1.8 3.1-.6 3.1 1.8z"/>
<path fill="#ececc1" stroke="#ececc1" d="M422.5 25l-3.1-1.8 3.1-.6 3 1.8zM419.6 25.5l-3-1.8 2.8-.5 3.1 1.8z"/>
<path fill="#ededc3" stroke="#ededc3" d="M416.9 26l-3.1-1.8 2.8-.5 3 1.8zM414.3 26.4l-3.1-1.7 2.6-.5 3.1 1.8z"/>
<path fill="#ededc6" stroke="#ededc6" d="M411.8 26.8l-3.1-1.7 2.5-.4 3.1 1.7zM409.5 27.2l-3.1-1.7 2.3-.4 3.1 1.7zM407.3 27.6l-3.1-1.7 2.2-.4 3.1 1.7z"/>
<path fill="#eeeec8" stroke="#eeeec8" d="M405.2 27.9l-3.1-1.6 2.1-.4 3.1 1.7zM403.3 28.2l-3.1-1.6 1.9-.3 3.1 1.6z"/>
<path fill="#efefca" stroke="#efefca" d="M401.5 28.5l-3.1-1.6 1.8-.3 3.1 1.6zM399.8 28.7l-3.1-1.6 1.7-.2 3.1 1.6zM398.2 29l-3.1-1.6 1.6-.3 3.1 1.6z"/>
<path fill="#efefcc" stroke="#efefcc" d="M396.7 29.2l-3.1-1.6 1.5-.2 3.1 1.6zM395.4 29.4l-3.1-1.6 1.3-.2 3.1 1.6zM394.2 29.5l-3.1-1.5 1.2-.2 3.1 1.6z"/>
<path fill="#f0f0ce" stroke="#f0f0ce" d="M393 29.7l-3-1.6 1.1-.1 3.1 1.5zM392 29.8l-3.1-1.5 1.1-.2 3 1.6zM391.1 29.9l-3.1-1.5 .9-.1 3.1 1.5zM390.3 30l-3.1-1.5 .8-.1 3.1 1.5z"/>
<path fill="#f0f0d0" stroke="#f0f0d0" d="M389.6 30.1l-3.1-1.5 .7-.1 3.1 1.5zM389 30.1l-3.1-1.5 .6 0 3.1 1.5zM388.4 30.2l-3-1.5 .5-.1 3.1 1.5zM388 30.2l-3.1-1.5 .5 0 3 1.5zM387.6 30.2l-3-1.4 .3-.1 3.1 1.5z"/>
<path fill="#f1f1d2" stroke="#f1f1d2" d="M387.3 30.2l-3-1.4 .3 0 3 1.4zM387.1 30.2l-3.1-1.4 .3 0 3 1.4zM387 30.2l-3.1-1.4 .1 0 3.1 1.4zM386.9 30.2l-3.1-1.4 .1 0 3.1 1.4zM386.8 30.2l-3.1-1.4 .1 0 3.1 1.4zM386.8 30.2l-3.1-1.4 0 0 3.1 1.4z"/>
<path fill="#e7e4b2" stroke="#e7e4b2" d="M462.5 19.9l-3-2 4.6-.9 3 2z"/>
<path fill="#e7e5b2" stroke="#e7e5b2" d="M458.1 20.7l-3-1.9 4.4-.9 3 2z"/>
<path fill="#e8e7b3" stroke="#e8e7b3" d="M453.9 21.5l-3-1.9 4.2-.8 3 1.9z"/>
<path fill="#e9e8b4" stroke="#e9e8b4" d="M449.8 22.3l-3-1.9 4.1-.8 3 1.9z"/>
<path fill="#e9e9b6" stroke="#e9e9b6" d="M445.9 23l-3-1.8 3.9-.8 3 1.9z"/>
<path fill="#eaeab8" stroke="#eaeab8" d="M442.1 23.7l-3-1.8 3.8-.7 3 1.8zM438.5 24.4l-3-1.8 3.6-.7 3 1.8z"/>
<path fill="#eaeaba" stroke="#eaeaba" d="M435 25l-3-1.8 3.5-.6 3 1.8z"/>
<path fill="#ebebbd" stroke="#ebebbd" d="M431.7 25.6l-3-1.8 3.3-.6 3 1.8z"/>
<path fill="#ececbf" stroke="#ececbf" d="M428.5 26.2l-3-1.8 3.2-.6 3 1.8z"/>
<path fill="#ececc1" stroke="#ececc1" d="M425.5 26.7l-3-1.7 3-.6 3 1.8zM422.6 27.2l-3-1.7 2.9-.5 3 1.7z"/>
<path fill="#ededc3" stroke="#ededc3" d="M419.9 27.7l-3-1.7 2.7-.5 3 1.7zM417.3 28.1l-3-1.7 2.6-.4 3 1.7z"/>
<path fill="#ededc6" stroke="#ededc6" d="M414.8 28.5l-3-1.7 2.5-.4 3 1.7zM412.5 28.9l-3-1.7 2.3-.4 3 1.7zM410.3 29.2l-3-1.6 2.2-.4 3 1.7z"/>
<path fill="#eeeec8" stroke="#eeeec8" d="M408.2 29.5l-3-1.6 2.1-.3 3 1.6zM406.3 29.8l-3-1.6 1.9-.3 3 1.6z"/>
<path fill="#efefca" stroke="#efefca" d="M404.4 30.1l-2.9-1.6 1.8-.3 3 1.6zM402.8 30.3l-3-1.6 1.7-.2 2.9 1.6zM401.2 30.5l-3-1.5 1.6-.3 3 1.6z"/>
<path fill="#efefcc" stroke="#efefcc" d="M399.7 30.7l-3-1.5 1.5-.2 3 1.5zM398.4 30.9l-3-1.5 1.3-.2 3 1.5zM397.1 31l-2.9-1.5 1.2-.1 3 1.5z"/>
<path fill="#f0f0ce" stroke="#f0f0ce" d="M396 31.2l-3-1.5 1.2-.2 2.9 1.5zM395 31.3l-3-1.5 1-.1 3 1.5zM394.1 31.4l-3-1.5 .9-.1 3 1.5zM393.3 31.5l-3-1.5 .8-.1 3 1.5z"/>
<path fill="#f0f0d0" stroke="#f0f0d0" d="M392.6 31.5l-3-1.4 .7-.1 3 1.5zM392 31.6l-3-1.5 .6 0 3 1.4zM391.4 31.6l-3-1.4 .6-.1 3 1.5zM391 31.6l-3-1.4 .4 0 3 1.4zM390.6 31.6l-3-1.4 .4 0 3 1.4z"/>
<path fill="#f1f1d2" stroke="#f1f1d2" d="M390.3 31.6l-3-1.4 .3 0 3 1.4zM390.1 31.7l-3-1.5 .2 0 3 1.4zM390 31.6l-3-1.4 .1 0 3 1.5zM389.9 31.6l-3-1.4 .1 0 3 1.4zM389.8 31.6l-3-1.4 .1 0 3 1.4zM389.8 31.6l-3-1.4 0 0 3 1.4z"/>
<path fill="#e6e2b1" stroke="#e6e2b1" d="M465.4 21.8l-2.9-1.9 4.6-.9 2.8 2zM461 22.7l-2.9-2 4.4-.8 2.9 1.9z"/>
<path fill="#e7e4b2" stroke="#e7e4b2" d="M456.8 23.5l-2.9-2 4.2-.8 2.9 2z"/>
<path fill="#e8e7b3" stroke="#e8e7b3" d="M452.7 24.2l-2.9-1.9 4.1-.8 2.9 2z"/>
<path fill="#e9e8b4" stroke="#e9e8b4" d="M448.8 24.9l-2.9-1.9 3.9-.7 2.9 1.9z"/>
<path fill="#e9e9b6" stroke="#e9e9b6" d="M445 25.6l-2.9-1.9 3.8-.7 2.9 1.9z"/>
<path fill="#eaeab8" stroke="#eaeab8" d="M441.4 26.2l-2.9-1.8 3.6-.7 2.9 1.9z"/>
<path fill="#eaeaba" stroke="#eaeaba" d="M437.9 26.9l-2.9-1.9 3.5-.6 2.9 1.8z"/>
<path fill="#ebebbd" stroke="#ebebbd" d="M434.6 27.4l-2.9-1.8 3.3-.6 2.9 1.9z"/>
<path fill="#ececbf" stroke="#ececbf" d="M431.4 28l-2.9-1.8 3.2-.6 2.9 1.8z"/>
<path fill="#ececc1" stroke="#ececc1" d="M428.4 28.5l-2.9-1.8 3-.5 2.9 1.8zM425.5 28.9l-2.9-1.7 2.9-.5 2.9 1.8z"/>
<path fill="#ededc3" stroke="#ededc3" d="M422.8 29.4l-2.9-1.7 2.7-.5 2.9 1.7zM420.2 29.8l-2.9-1.7 2.6-.4 2.9 1.7z"/>
<path fill="#ededc6" stroke="#ededc6" d="M417.7 30.2l-2.9-1.7 2.5-.4 2.9 1.7zM415.4 30.5l-2.9-1.6 2.3-.4 2.9 1.7z"/>
<path fill="#eeeec8" stroke="#eeeec8" d="M413.2 30.8l-2.9-1.6 2.2-.3 2.9 1.6zM411.1 31.1l-2.9-1.6 2.1-.3 2.9 1.6zM409.2 31.4l-2.9-1.6 1.9-.3 2.9 1.6z"/>
<path fill="#efefca" stroke="#efefca" d="M407.3 31.6l-2.9-1.5 1.9-.3 2.9 1.6zM405.6 31.9l-2.8-1.6 1.6-.2 2.9 1.5zM404.1 32.1l-2.9-1.6 1.6-.2 2.8 1.6z"/>
<path fill="#efefcc" stroke="#efefcc" d="M402.6 32.2l-2.9-1.5 1.5-.2 2.9 1.6zM401.3 32.4l-2.9-1.5 1.3-.2 2.9 1.5zM400 32.5l-2.9-1.5 1.3-.1 2.9 1.5z"/>
<path fill="#f0f0ce" stroke="#f0f0ce" d="M398.9 32.6l-2.9-1.4 1.1-.2 2.9 1.5zM397.9 32.7l-2.9-1.4 1-.1 2.9 1.4zM397 32.8l-2.9-1.4 .9-.1 2.9 1.4zM396.2 32.9l-2.9-1.4 .8-.1 2.9 1.4z"/>
<path fill="#f0f0d0" stroke="#f0f0d0" d="M395.5 32.9l-2.9-1.4 .7 0 2.9 1.4zM394.9 33l-2.9-1.4 .6-.1 2.9 1.4zM394.3 33l-2.9-1.4 .6 0 2.9 1.4zM393.9 33l-2.9-1.4 .4 0 2.9 1.4zM393.5 33l-2.9-1.4 .4 0 2.9 1.4z"/>
<path fill="#f1f1d2" stroke="#f1f1d2" d="M393.2 33l-2.9-1.4 .3 0 2.9 1.4zM393 33l-2.9-1.3 .2-.1 2.9 1.4zM392.9 33l-2.9-1.4 .1 .1 2.9 1.3zM392.8 33l-2.9-1.4 .1 0 2.9 1.4zM392.7 33l-2.9-1.4 .1 0 2.9 1.4zM392.7 33l-2.9-1.4 0 0 2.9 1.4z"/>
<path fill="#e5dfaf" stroke="#e5dfaf" d="M468.2 23.8l-2.8-2 4.5-.8 2.8 2z"/>
<path fill="#e5e1b0" stroke="#e5e1b0" d="M463.8 24.6l-2.8-1.9 4.4-.9 2.8 2z"/>
<path fill="#e6e2b1" stroke="#e6e2b1" d="M459.6 25.4l-2.8-1.9 4.2-.8 2.8 1.9z"/>
<path fill="#e7e5b2" stroke="#e7e5b2" d="M455.5 26.1l-2.8-1.9 4.1-.7 2.8 1.9z"/>
<path fill="#e8e7b3" stroke="#e8e7b3" d="M451.6 26.8l-2.8-1.9 3.9-.7 2.8 1.9z"/>
<path fill="#e9e8b4" stroke="#e9e8b4" d="M447.8 27.5l-2.8-1.9 3.8-.7 2.8 1.9z"/>
<path fill="#eaeab8" stroke="#eaeab8" d="M444.2 28.1l-2.8-1.9 3.6-.6 2.8 1.9z"/>
<path fill="#eaeaba" stroke="#eaeaba" d="M440.7 28.7l-2.8-1.8 3.5-.7 2.8 1.9z"/>
<path fill="#ebebbd" stroke="#ebebbd" d="M437.4 29.2l-2.8-1.8 3.3-.5 2.8 1.8z"/>
<path fill="#ececbf" stroke="#ececbf" d="M434.2 29.7l-2.8-1.7 3.2-.6 2.8 1.8z"/>
<path fill="#ececc1" stroke="#ececc1" d="M431.2 30.2l-2.8-1.7 3-.5 2.8 1.7z"/>
<path fill="#ededc3" stroke="#ededc3" d="M428.3 30.7l-2.8-1.8 2.9-.4 2.8 1.7zM425.6 31.1l-2.8-1.7 2.7-.5 2.8 1.8zM423 31.5l-2.8-1.7 2.6-.4 2.8 1.7z"/>
<path fill="#ededc6" stroke="#ededc6" d="M420.5 31.8l-2.8-1.6 2.5-.4 2.8 1.7zM418.2 32.1l-2.8-1.6 2.3-.3 2.8 1.6z"/>
<path fill="#eeeec8" stroke="#eeeec8" d="M416 32.4l-2.8-1.6 2.2-.3 2.8 1.6zM413.9 32.7l-2.8-1.6 2.1-.3 2.8 1.6zM412 33l-2.8-1.6 1.9-.3 2.8 1.6z"/>
<path fill="#efefca" stroke="#efefca" d="M410.1 33.2l-2.8-1.6 1.9-.2 2.8 1.6zM408.4 33.4l-2.8-1.5 1.7-.3 2.8 1.6z"/>
<path fill="#efefcc" stroke="#efefcc" d="M406.9 33.6l-2.8-1.5 1.5-.2 2.8 1.5zM405.4 33.7l-2.8-1.5 1.5-.1 2.8 1.5zM404.1 33.9l-2.8-1.5 1.3-.2 2.8 1.5zM402.8 34l-2.8-1.5 1.3-.1 2.8 1.5z"/>
<path fill="#f0f0ce" stroke="#f0f0ce" d="M401.7 34.1l-2.8-1.5 1.1-.1 2.8 1.5zM400.7 34.2l-2.8-1.5 1-.1 2.8 1.5zM399.8 34.2l-2.8-1.4 .9-.1 2.8 1.5z"/>
<path fill="#f0f0d0" stroke="#f0f0d0" d="M399 34.3l-2.8-1.4 .8-.1 2.8 1.4zM398.3 34.3l-2.8-1.4 .7 0 2.8 1.4zM397.7 34.3l-2.8-1.3 .6-.1 2.8 1.4zM397.1 34.3l-2.8-1.3 .6 0 2.8 1.3zM396.7 34.4l-2.8-1.4 .4 0 2.8 1.3zM396.3 34.4l-2.8-1.4 .4 0 2.8 1.4z"/>
<path fill="#f1f1d2" stroke="#f1f1d2" d="M396 34.3l-2.8-1.3 .3 0 2.8 1.4zM395.8 34.3l-2.8-1.3 .2 0 2.8 1.3zM395.7 34.3l-2.8-1.3 .1 0 2.8 1.3zM395.6 34.3l-2.8-1.3 .1 0 2.8 1.3zM395.5 34.3l-2.8-1.3 .1 0 2.8 1.3zM395.5 34.3l-2.8-1.3 0 0 2.8 1.3z"/>
<path fill="#e4deae" stroke="#e4deae" d="M470.9 25.8l-2.7-2 4.5-.8 2.7 2z"/>
<path fill="#e5dfaf" stroke="#e5dfaf" d="M466.5 26.6l-2.7-2 4.4-.8 2.7 2z"/>
<path fill="#e5e1b0" stroke="#e5e1b0" d="M462.3 27.4l-2.7-2 4.2-.8 2.7 2z"/>
<path fill="#e6e2b1" stroke="#e6e2b1" d="M458.2 28.1l-2.7-2 4.1-.7 2.7 2z"/>
<path fill="#e7e5b2" stroke="#e7e5b2" d="M454.3 28.7l-2.7-1.9 3.9-.7 2.7 2z"/>
<path fill="#e9e8b4" stroke="#e9e8b4" d="M450.5 29.4l-2.7-1.9 3.8-.7 2.7 1.9z"/>
<path fill="#e9e9b6" stroke="#e9e9b6" d="M446.9 30l-2.7-1.9 3.6-.6 2.7 1.9z"/>
<path fill="#eaeaba" stroke="#eaeaba" d="M443.4 30.5l-2.7-1.8 3.5-.6 2.7 1.9z"/>
<path fill="#ebebbd" stroke="#ebebbd" d="M440.1 31l-2.7-1.8 3.3-.5 2.7 1.8z"/>
<path fill="#ececbf" stroke="#ececbf" d="M436.9 31.5l-2.7-1.8 3.2-.5 2.7 1.8z"/>
<path fill="#ececc1" stroke="#ececc1" d="M433.9 32l-2.7-1.8 3-.5 2.7 1.8z"/>
<path fill="#ededc3" stroke="#ededc3" d="M431 32.4l-2.7-1.7 2.9-.5 2.7 1.8zM428.3 32.8l-2.7-1.7 2.7-.4 2.7 1.7z"/>
<path fill="#ededc6" stroke="#ededc6" d="M425.7 33.1l-2.7-1.6 2.6-.4 2.7 1.7zM423.2 33.5l-2.7-1.7 2.5-.3 2.7 1.6zM420.9 33.8l-2.7-1.7 2.3-.3 2.7 1.7z"/>
<path fill="#eeeec8" stroke="#eeeec8" d="M418.7 34l-2.7-1.6 2.2-.3 2.7 1.7zM416.6 34.3l-2.7-1.6 2.1-.3 2.7 1.6z"/>
<path fill="#efefca" stroke="#efefca" d="M414.7 34.5l-2.7-1.5 1.9-.3 2.7 1.6zM412.8 34.7l-2.7-1.5 1.9-.2 2.7 1.5zM411.1 34.9l-2.7-1.5 1.7-.2 2.7 1.5z"/>
<path fill="#efefcc" stroke="#efefcc" d="M409.6 35.1l-2.7-1.5 1.5-.2 2.7 1.5zM408.1 35.2l-2.7-1.5 1.5-.1 2.7 1.5zM406.8 35.3l-2.7-1.4 1.3-.2 2.7 1.5z"/>
<path fill="#f0f0ce" stroke="#f0f0ce" d="M405.5 35.4l-2.7-1.4 1.3-.1 2.7 1.4zM404.4 35.5l-2.7-1.4 1.1-.1 2.7 1.4zM403.4 35.5l-2.7-1.3 1-.1 2.7 1.4zM402.5 35.6l-2.7-1.4 .9 0 2.7 1.3z"/>
<path fill="#f0f0d0" stroke="#f0f0d0" d="M401.7 35.6l-2.7-1.3 .8-.1 2.7 1.4zM401 35.6l-2.7-1.3 .7 0 2.7 1.3zM400.4 35.7l-2.7-1.4 .6 0 2.7 1.3zM399.8 35.7l-2.7-1.4 .6 0 2.7 1.4zM399.4 35.7l-2.7-1.3 .4-.1 2.7 1.4zM399 35.6l-2.7-1.2 .4 0 2.7 1.3z"/>
<path fill="#f1f1d2" stroke="#f1f1d2" d="M398.7 35.6l-2.7-1.3 .3 .1 2.7 1.2zM398.5 35.6l-2.7-1.3 .2 0 2.7 1.3zM398.4 35.6l-2.7-1.3 .1 0 2.7 1.3zM398.3 35.6l-2.7-1.3 .1 0 2.7 1.3zM398.2 35.6l-2.7-1.3 .1 0 2.7 1.3zM398.2 35.6l-2.7-1.3 0 0 2.7 1.3z"/>
<path fill="#e3dbad" stroke="#e3dbad" d="M473.5 27.9l-2.6-2.1 4.5-.8 2.7 2.1z"/>
<path fill="#e4dcae" stroke="#e4dcae" d="M469.1 28.6l-2.6-2 4.4-.8 2.6 2.1z"/>
<path fill="#e4deae" stroke="#e4deae" d="M464.9 29.3l-2.6-1.9 4.2-.8 2.6 2z"/>
<path fill="#e5e1b0" stroke="#e5e1b0" d="M460.8 30l-2.6-1.9 4.1-.7 2.6 1.9z"/>
<path fill="#e7e4b2" stroke="#e7e4b2" d="M456.9 30.7l-2.6-2 3.9-.6 2.6 1.9z"/>
<path fill="#e8e7b3" stroke="#e8e7b3" d="M453.1 31.3l-2.6-1.9 3.8-.7 2.6 2z"/>
<path fill="#e9e9b6" stroke="#e9e9b6" d="M449.5 31.8l-2.6-1.8 3.6-.6 2.6 1.9z"/>
<path fill="#eaeab8" stroke="#eaeab8" d="M446 32.4l-2.6-1.9 3.5-.5 2.6 1.8z"/>
<path fill="#ebebbd" stroke="#ebebbd" d="M442.7 32.8l-2.6-1.8 3.3-.5 2.6 1.9z"/>
<path fill="#ececbf" stroke="#ececbf" d="M439.5 33.3l-2.6-1.8 3.2-.5 2.6 1.8z"/>
<path fill="#ececc1" stroke="#ececc1" d="M436.5 33.7l-2.6-1.7 3-.5 2.6 1.8z"/>
<path fill="#ededc3" stroke="#ededc3" d="M433.6 34.1l-2.6-1.7 2.9-.4 2.6 1.7zM430.9 34.5l-2.6-1.7 2.7-.4 2.6 1.7z"/>
<path fill="#ededc6" stroke="#ededc6" d="M428.3 34.8l-2.6-1.7 2.6-.3 2.6 1.7zM425.8 35.1l-2.6-1.6 2.5-.4 2.6 1.7z"/>
<path fill="#eeeec8" stroke="#eeeec8" d="M423.5 35.4l-2.6-1.6 2.3-.3 2.6 1.6zM421.3 35.6l-2.6-1.6 2.2-.2 2.6 1.6zM419.2 35.9l-2.6-1.6 2.1-.3 2.6 1.6z"/>
<path fill="#efefca" stroke="#efefca" d="M417.3 36.1l-2.6-1.6 1.9-.2 2.6 1.6zM415.4 36.2l-2.6-1.5 1.9-.2 2.6 1.6zM413.8 36.4l-2.7-1.5 1.7-.2 2.6 1.5z"/>
<path fill="#efefcc" stroke="#efefcc" d="M412.2 36.5l-2.6-1.4 1.5-.2 2.7 1.5zM410.7 36.6l-2.6-1.4 1.5-.1 2.6 1.4zM409.4 36.7l-2.6-1.4 1.3-.1 2.6 1.4z"/>
<path fill="#f0f0ce" stroke="#f0f0ce" d="M408.2 36.8l-2.7-1.4 1.3-.1 2.6 1.4zM407 36.9l-2.6-1.4 1.1-.1 2.7 1.4zM406 36.9l-2.6-1.4 1 0 2.6 1.4zM405.1 36.9l-2.6-1.3 .9-.1 2.6 1.4z"/>
<path fill="#f0f0d0" stroke="#f0f0d0" d="M404.3 36.9l-2.6-1.3 .8 0 2.6 1.3zM403.6 37l-2.6-1.4 .7 0 2.6 1.3zM403 37l-2.6-1.3 .6-.1 2.6 1.4zM402.4 36.9l-2.6-1.2 .6 0 2.6 1.3zM402 36.9l-2.6-1.2 .4 0 2.6 1.2zM401.6 36.9l-2.6-1.3 .4 .1 2.6 1.2z"/>
<path fill="#f1f1d2" stroke="#f1f1d2" d="M401.3 36.9l-2.6-1.3 .3 0 2.6 1.3zM401.1 36.9l-2.6-1.3 .2 0 2.6 1.3zM401 36.8l-2.6-1.2 .1 0 2.6 1.3zM400.9 36.8l-2.6-1.2 .1 0 2.6 1.2zM400.8 36.8l-2.6-1.2 .1 0 2.6 1.2zM400.8 36.8l-2.6-1.2 0 0 2.6 1.2z"/>
<path fill="#e2d8ab" stroke="#e2d8ab" d="M476 29.9l-2.5-2 4.6-.8 2.5 2.1z"/>
<path fill="#e2d9ac" stroke="#e2d9ac" d="M471.6 30.7l-2.5-2.1 4.4-.7 2.5 2z"/>
<path fill="#e4dcae" stroke="#e4dcae" d="M467.4 31.4l-2.5-2.1 4.2-.7 2.5 2.1z"/>
<path fill="#e5dfaf" stroke="#e5dfaf" d="M463.3 32l-2.5-2 4.1-.7 2.5 2.1z"/>
<path fill="#e6e2b1" stroke="#e6e2b1" d="M459.4 32.6l-2.5-1.9 3.9-.7 2.5 2z"/>
<path fill="#e7e5b2" stroke="#e7e5b2" d="M455.6 33.2l-2.5-1.9 3.8-.6 2.5 1.9z"/>
<path fill="#e9e8b4" stroke="#e9e8b4" d="M452 33.7l-2.5-1.9 3.6-.5 2.5 1.9z"/>
<path fill="#eaeab8" stroke="#eaeab8" d="M448.5 34.2l-2.5-1.8 3.5-.6 2.5 1.9z"/>
<path fill="#ebebbd" stroke="#ebebbd" d="M445.2 34.7l-2.5-1.9 3.3-.4 2.5 1.8z"/>
<path fill="#ececbf" stroke="#ececbf" d="M442.1 35.1l-2.6-1.8 3.2-.5 2.5 1.9z"/>
<path fill="#ededc3" stroke="#ededc3" d="M439 35.5l-2.5-1.8 3-.4 2.6 1.8zM436.1 35.9l-2.5-1.8 2.9-.4 2.5 1.8z"/>
<path fill="#ededc6" stroke="#ededc6" d="M433.4 36.2l-2.5-1.7 2.7-.4 2.5 1.8zM430.8 36.5l-2.5-1.7 2.6-.3 2.5 1.7z"/>
<path fill="#eeeec8" stroke="#eeeec8" d="M428.3 36.8l-2.5-1.7 2.5-.3 2.5 1.7zM426 37l-2.5-1.6 2.3-.3 2.5 1.7zM423.8 37.2l-2.5-1.6 2.2-.2 2.5 1.6z"/>
<path fill="#efefca" stroke="#efefca" d="M421.7 37.4l-2.5-1.5 2.1-.3 2.5 1.6zM419.8 37.6l-2.5-1.5 1.9-.2 2.5 1.5zM418 37.8l-2.6-1.6 1.9-.1 2.5 1.5z"/>
<path fill="#efefcc" stroke="#efefcc" d="M416.3 37.9l-2.5-1.5 1.6-.2 2.6 1.6zM414.7 38l-2.5-1.5 1.6-.1 2.5 1.5zM413.2 38.1l-2.5-1.5 1.5-.1 2.5 1.5zM411.9 38.1l-2.5-1.4 1.3-.1 2.5 1.5z"/>
<path fill="#f0f0ce" stroke="#f0f0ce" d="M410.7 38.2l-2.5-1.4 1.2-.1 2.5 1.4zM409.5 38.2l-2.5-1.3 1.2-.1 2.5 1.4zM408.5 38.2l-2.5-1.3 1 0 2.5 1.3zM407.6 38.2l-2.5-1.3 .9 0 2.5 1.3z"/>
<path fill="#f0f0d0" stroke="#f0f0d0" d="M406.8 38.2l-2.5-1.3 .8 0 2.5 1.3zM406.1 38.2l-2.5-1.2 .7-.1 2.5 1.3zM405.5 38.2l-2.5-1.2 .6 0 2.5 1.2zM405 38.2l-2.6-1.3 .6 .1 2.5 1.2zM404.5 38.2l-2.5-1.3 .4 0 2.6 1.3zM404.1 38.1l-2.5-1.2 .4 0 2.5 1.3z"/>
<path fill="#f1f1d2" stroke="#f1f1d2" d="M403.9 38.1l-2.6-1.2 .3 0 2.5 1.2zM403.6 38.1l-2.5-1.2 .2 0 2.6 1.2zM403.5 38l-2.5-1.2 .1 .1 2.5 1.2zM403.4 38l-2.5-1.2 .1 0 2.5 1.2zM403.3 38l-2.5-1.2 .1 0 2.5 1.2zM403.3 38l-2.5-1.2 0 0 2.5 1.2z"/>
<path fill="#e0d5a9" stroke="#e0d5a9" d="M478.4 32.1l-2.4-2.2 4.6-.7 2.4 2.1z"/>
<path fill="#e1d6aa" stroke="#e1d6aa" d="M474.1 32.8l-2.5-2.1 4.4-.8 2.4 2.2z"/>
<path fill="#e2d9ac" stroke="#e2d9ac" d="M469.8 33.4l-2.4-2 4.2-.7 2.5 2.1z"/>
<path fill="#e4dcae" stroke="#e4dcae" d="M465.7 34l-2.4-2 4.1-.6 2.4 2z"/>
<path fill="#e5e1b0" stroke="#e5e1b0" d="M461.8 34.6l-2.4-2 3.9-.6 2.4 2z"/>
<path fill="#e7e5b2" stroke="#e7e5b2" d="M458.1 35.2l-2.5-2 3.8-.6 2.4 2z"/>
<path fill="#e9e8b4" stroke="#e9e8b4" d="M454.4 35.7l-2.4-2 3.6-.5 2.5 2z"/>
<path fill="#eaeab8" stroke="#eaeab8" d="M451 36.1l-2.5-1.9 3.5-.5 2.4 2z"/>
<path fill="#ebebbd" stroke="#ebebbd" d="M447.7 36.6l-2.5-1.9 3.3-.5 2.5 1.9z"/>
<path fill="#ececbf" stroke="#ececbf" d="M444.5 36.9l-2.4-1.8 3.1-.4 2.5 1.9z"/>
<path fill="#ededc3" stroke="#ededc3" d="M441.5 37.3l-2.5-1.8 3.1-.4 2.4 1.8z"/>
<path fill="#ededc6" stroke="#ededc6" d="M438.6 37.6l-2.5-1.7 2.9-.4 2.5 1.8zM435.8 37.9l-2.4-1.7 2.7-.3 2.5 1.7z"/>
<path fill="#eeeec8" stroke="#eeeec8" d="M433.2 38.2l-2.4-1.7 2.6-.3 2.4 1.7zM430.8 38.4l-2.5-1.6 2.5-.3 2.4 1.7zM428.4 38.7l-2.4-1.7 2.3-.2 2.5 1.6z"/>
<path fill="#efefca" stroke="#efefca" d="M426.2 38.8l-2.4-1.6 2.2-.2 2.4 1.7zM424.2 39l-2.5-1.6 2.1-.2 2.4 1.6zM422.2 39.1l-2.4-1.5 1.9-.2 2.5 1.6zM420.4 39.3l-2.4-1.5 1.8-.2 2.4 1.5z"/>
<path fill="#efefcc" stroke="#efefcc" d="M418.7 39.4l-2.4-1.5 1.7-.1 2.4 1.5zM417.1 39.4l-2.4-1.4 1.6-.1 2.4 1.5zM415.7 39.5l-2.5-1.4 1.5-.1 2.4 1.4z"/>
<path fill="#f0f0ce" stroke="#f0f0ce" d="M414.3 39.5l-2.4-1.4 1.3 0 2.5 1.4zM413.1 39.5l-2.4-1.3 1.2-.1 2.4 1.4zM412 39.6l-2.5-1.4 1.2 0 2.4 1.3zM411 39.6l-2.5-1.4 1 0 2.5 1.4z"/>
<path fill="#f0f0d0" stroke="#f0f0d0" d="M410.1 39.5l-2.5-1.3 .9 0 2.5 1.4zM409.2 39.5l-2.4-1.3 .8 0 2.5 1.3zM408.5 39.5l-2.4-1.3 .7 0 2.4 1.3zM407.9 39.4l-2.4-1.2 .6 0 2.4 1.3zM407.4 39.4l-2.4-1.2 .5 0 2.4 1.2zM406.9 39.4l-2.4-1.2 .5 0 2.4 1.2z"/>
<path fill="#f1f1d2" stroke="#f1f1d2" d="M406.6 39.3l-2.5-1.2 .4 .1 2.4 1.2zM406.3 39.3l-2.4-1.2 .2 0 2.5 1.2zM406.1 39.2l-2.5-1.1 .3 0 2.4 1.2zM405.9 39.2l-2.4-1.2 .1 .1 2.5 1.1zM405.8 39.2l-2.4-1.2 .1 0 2.4 1.2zM405.8 39.2l-2.5-1.2 .1 0 2.4 1.2zM405.8 39.2l-2.5-1.2 0 0 2.5 1.2z"/>
<path fill="#dfd1a8" stroke="#dfd1a8" d="M480.8 34.2l-2.4-2.1 4.6-.8 2.3 2.2z"/>
<path fill="#e0d3a8" stroke="#e0d3a8" d="M476.4 34.9l-2.3-2.1 4.3-.7 2.4 2.1z"/>
<path fill="#e1d6aa" stroke="#e1d6aa" d="M472.1 35.5l-2.3-2.1 4.3-.6 2.3 2.1z"/>
<path fill="#e3dbad" stroke="#e3dbad" d="M468.1 36.1l-2.4-2.1 4.1-.6 2.3 2.1z"/>
<path fill="#e5dfaf" stroke="#e5dfaf" d="M464.2 36.6l-2.4-2 3.9-.6 2.4 2.1z"/>
<path fill="#e7e4b2" stroke="#e7e4b2" d="M460.4 37.2l-2.3-2 3.7-.6 2.4 2z"/>
<path fill="#e8e7b3" stroke="#e8e7b3" d="M456.8 37.6l-2.4-1.9 3.7-.5 2.3 2z"/>
<path fill="#eaeab8" stroke="#eaeab8" d="M453.3 38.1l-2.3-2 3.4-.4 2.4 1.9z"/>
<path fill="#ebebbd" stroke="#ebebbd" d="M450 38.5l-2.3-1.9 3.3-.5 2.3 2z"/>
<path fill="#ececc1" stroke="#ececc1" d="M446.8 38.8l-2.3-1.9 3.2-.3 2.3 1.9z"/>
<path fill="#ededc3" stroke="#ededc3" d="M443.8 39.1l-2.3-1.8 3-.4 2.3 1.9z"/>
<path fill="#ededc6" stroke="#ededc6" d="M440.9 39.4l-2.3-1.8 2.9-.3 2.3 1.8z"/>
<path fill="#eeeec8" stroke="#eeeec8" d="M438.2 39.7l-2.4-1.8 2.8-.3 2.3 1.8zM435.6 39.9l-2.4-1.7 2.6-.3 2.4 1.8zM433.1 40.1l-2.3-1.7 2.4-.2 2.4 1.7z"/>
<path fill="#efefca" stroke="#efefca" d="M430.8 40.3l-2.4-1.6 2.4-.3 2.3 1.7zM428.6 40.5l-2.4-1.7 2.2-.1 2.4 1.6zM426.5 40.6l-2.3-1.6 2-.2 2.4 1.7zM424.5 40.7l-2.3-1.6 2-.1 2.3 1.6z"/>
<path fill="#efefcc" stroke="#efefcc" d="M422.7 40.8l-2.3-1.5 1.8-.2 2.3 1.6zM421 40.8l-2.3-1.4 1.7-.1 2.3 1.5zM419.5 40.9l-2.4-1.5 1.6 0 2.3 1.4z"/>
<path fill="#f0f0ce" stroke="#f0f0ce" d="M418 40.9l-2.3-1.4 1.4-.1 2.4 1.5zM416.7 40.9l-2.4-1.4 1.4 0 2.3 1.4zM415.4 40.9l-2.3-1.4 1.2 0 2.4 1.4zM414.3 40.9l-2.3-1.3 1.1-.1 2.3 1.4zM413.3 40.8l-2.3-1.2 1 0 2.3 1.3z"/>
<path fill="#f0f0d0" stroke="#f0f0d0" d="M412.4 40.8l-2.3-1.3 .9 .1 2.3 1.2zM411.6 40.8l-2.4-1.3 .9 0 2.3 1.3zM410.9 40.7l-2.4-1.2 .7 0 2.4 1.3zM410.2 40.6l-2.3-1.2 .6 .1 2.4 1.2zM409.7 40.6l-2.3-1.2 .5 0 2.3 1.2zM409.3 40.5l-2.4-1.1 .5 0 2.3 1.2z"/>
<path fill="#f1f1d2" stroke="#f1f1d2" d="M408.9 40.5l-2.3-1.2 .3 .1 2.4 1.1zM408.6 40.4l-2.3-1.1 .3 0 2.3 1.2zM408.4 40.3l-2.3-1.1 .2 .1 2.3 1.1zM408.2 40.3l-2.3-1.1 .2 0 2.3 1.1zM408.1 40.3l-2.3-1.1 .1 0 2.3 1.1zM408.1 40.3l-2.3-1.1 0 0 2.3 1.1zM408.1 40.3l-2.3-1.1 0 0 2.3 1.1z"/>
<path fill="#decea6" stroke="#decea6" d="M483 36.4l-2.2-2.2 4.5-.7 2.3 2.2z"/>
<path fill="#ded0a7" stroke="#ded0a7" d="M478.6 37.1l-2.2-2.2 4.4-.7 2.2 2.2z"/>
<path fill="#e0d3a8" stroke="#e0d3a8" d="M474.4 37.7l-2.3-2.2 4.3-.6 2.2 2.2z"/>
<path fill="#e2d8ab" stroke="#e2d8ab" d="M470.3 38.2l-2.2-2.1 4-.6 2.3 2.2z"/>
<path fill="#e4deae" stroke="#e4deae" d="M466.4 38.7l-2.2-2.1 3.9-.5 2.2 2.1z"/>
<path fill="#e6e2b1" stroke="#e6e2b1" d="M462.6 39.2l-2.2-2 3.8-.6 2.2 2.1z"/>
<path fill="#e8e7b3" stroke="#e8e7b3" d="M459 39.7l-2.2-2.1 3.6-.4 2.2 2z"/>
<path fill="#e9e9b6" stroke="#e9e9b6" d="M455.5 40l-2.2-1.9 3.5-.5 2.2 2.1z"/>
<path fill="#ebebbd" stroke="#ebebbd" d="M452.2 40.4l-2.2-1.9 3.3-.4 2.2 1.9z"/>
<path fill="#ececc1" stroke="#ececc1" d="M449.1 40.7l-2.3-1.9 3.2-.3 2.2 1.9z"/>
<path fill="#ededc6" stroke="#ededc6" d="M446 41l-2.2-1.9 3-.3 2.3 1.9z"/>
<path fill="#eeeec8" stroke="#eeeec8" d="M443.1 41.3l-2.2-1.9 2.9-.3 2.2 1.9zM440.4 41.5l-2.2-1.8 2.7-.3 2.2 1.9zM437.8 41.7l-2.2-1.8 2.6-.2 2.2 1.8z"/>
<path fill="#efefca" stroke="#efefca" d="M435.3 41.9l-2.2-1.8 2.5-.2 2.2 1.8zM433 42l-2.2-1.7 2.3-.2 2.2 1.8zM430.8 42.1l-2.2-1.6 2.2-.2 2.2 1.7zM428.7 42.2l-2.2-1.6 2.1-.1 2.2 1.6z"/>
<path fill="#efefcc" stroke="#efefcc" d="M426.8 42.3l-2.3-1.6 2-.1 2.2 1.6zM425 42.3l-2.3-1.5 1.8-.1 2.3 1.6zM423.3 42.3l-2.3-1.5 1.7 0 2.3 1.5zM421.7 42.3l-2.2-1.4 1.5-.1 2.3 1.5z"/>
<path fill="#f0f0ce" stroke="#f0f0ce" d="M420.2 42.3l-2.2-1.4 1.5 0 2.2 1.4zM418.9 42.3l-2.2-1.4 1.3 0 2.2 1.4zM417.7 42.2l-2.3-1.3 1.3 0 2.2 1.4zM416.5 42.2l-2.2-1.3 1.1 0 2.3 1.3z"/>
<path fill="#f0f0d0" stroke="#f0f0d0" d="M415.5 42.1l-2.2-1.3 1 .1 2.2 1.3zM414.6 42.1l-2.2-1.3 .9 0 2.2 1.3zM413.8 42l-2.2-1.2 .8 0 2.2 1.3zM413.1 41.9l-2.2-1.2 .7 .1 2.2 1.2zM412.5 41.8l-2.3-1.2 .7 .1 2.2 1.2zM412 41.7l-2.3-1.1 .5 0 2.3 1.2zM411.5 41.6l-2.2-1.1 .4 .1 2.3 1.1z"/>
<path fill="#f1f1d2" stroke="#f1f1d2" d="M411.1 41.6l-2.2-1.1 .4 0 2.2 1.1zM410.9 41.5l-2.3-1.1 .3 .1 2.2 1.1zM410.6 41.4l-2.2-1.1 .2 .1 2.3 1.1zM410.5 41.4l-2.3-1.1 .2 0 2.2 1.1zM410.4 41.3l-2.3-1 .1 0 2.3 1.1zM410.3 41.3l-2.2-1 0 0 2.3 1zM410.3 41.3l-2.2-1 0 0 2.2 1z"/>
<path fill="#dcc9a3" stroke="#dcc9a3" d="M485.2 38.7l-2.2-2.3 4.6-.7 2.1 2.4z"/>
<path fill="#ddcba4" stroke="#ddcba4" d="M480.8 39.3l-2.2-2.2 4.4-.7 2.2 2.3z"/>
<path fill="#decea6" stroke="#decea6" d="M476.5 39.9l-2.1-2.2 4.2-.6 2.2 2.2z"/>
<path fill="#e0d5a9" stroke="#e0d5a9" d="M472.5 40.4l-2.2-2.2 4.1-.5 2.1 2.2z"/>
<path fill="#e3dbad" stroke="#e3dbad" d="M468.5 40.9l-2.1-2.2 3.9-.5 2.2 2.2z"/>
<path fill="#e5e1b0" stroke="#e5e1b0" d="M464.8 41.3l-2.2-2.1 3.8-.5 2.1 2.2z"/>
<path fill="#e7e5b2" stroke="#e7e5b2" d="M461.2 41.7l-2.2-2 3.6-.5 2.2 2.1z"/>
<path fill="#e9e9b6" stroke="#e9e9b6" d="M457.7 42.1l-2.2-2.1 3.5-.3 2.2 2z"/>
<path fill="#eaeaba" stroke="#eaeaba" d="M454.4 42.4l-2.2-2 3.3-.4 2.2 2.1z"/>
<path fill="#ececc1" stroke="#ececc1" d="M451.2 42.7l-2.1-2 3.1-.3 2.2 2z"/>
<path fill="#ededc6" stroke="#ededc6" d="M448.2 43l-2.2-2 3.1-.3 2.1 2z"/>
<path fill="#eeeec8" stroke="#eeeec8" d="M445.3 43.2l-2.2-1.9 2.9-.3 2.2 2zM442.6 43.4l-2.2-1.9 2.7-.2 2.2 1.9zM439.9 43.5l-2.1-1.8 2.6-.2 2.2 1.9z"/>
<path fill="#efefca" stroke="#efefca" d="M437.5 43.6l-2.2-1.7 2.5-.2 2.1 1.8zM435.1 43.7l-2.1-1.7 2.3-.1 2.2 1.7zM432.9 43.8l-2.1-1.7 2.2-.1 2.1 1.7zM430.9 43.8l-2.2-1.6 2.1-.1 2.1 1.7z"/>
<path fill="#efefcc" stroke="#efefcc" d="M428.9 43.9l-2.1-1.6 1.9-.1 2.2 1.6zM427.1 43.9l-2.1-1.6 1.8 0 2.1 1.6zM425.4 43.8l-2.1-1.5 1.7 0 2.1 1.6zM423.8 43.8l-2.1-1.5 1.6 0 2.1 1.5z"/>
<path fill="#f0f0ce" stroke="#f0f0ce" d="M422.4 43.7l-2.2-1.4 1.5 0 2.1 1.5zM421 43.7l-2.1-1.4 1.3 0 2.2 1.4zM419.8 43.6l-2.1-1.4 1.2 .1 2.1 1.4zM418.7 43.5l-2.2-1.3 1.2 0 2.1 1.4z"/>
<path fill="#f0f0d0" stroke="#f0f0d0" d="M417.7 43.4l-2.2-1.3 1 .1 2.2 1.3zM416.8 43.3l-2.2-1.2 .9 0 2.2 1.3zM416 43.2l-2.2-1.2 .8 .1 2.2 1.2zM415.3 43.1l-2.2-1.2 .7 .1 2.2 1.2zM414.6 43l-2.1-1.2 .6 .1 2.2 1.2zM414.1 42.9l-2.1-1.2 .5 .1 2.1 1.2zM413.7 42.7l-2.2-1.1 .5 .1 2.1 1.2z"/>
<path fill="#f1f1d2" stroke="#f1f1d2" d="M413.3 42.6l-2.2-1 .4 0 2.2 1.1zM413 42.6l-2.1-1.1 .2 .1 2.2 1zM412.8 42.5l-2.2-1.1 .3 .1 2.1 1.1zM412.6 42.4l-2.1-1 .1 0 2.2 1.1zM412.5 42.4l-2.1-1.1 .1 .1 2.1 1zM412.5 42.4l-2.2-1.1 .1 0 2.1 1.1zM412.5 42.4l-2.2-1.1 0 0 2.2 1.1z"/>
<path fill="#dac4a1" stroke="#dac4a1" d="M487.2 41.1l-2-2.4 4.5-.6 2.1 2.4z"/>
<path fill="#dbc6a2" stroke="#dbc6a2" d="M482.8 41.7l-2-2.4 4.4-.6 2 2.4z"/>
<path fill="#ddcba4" stroke="#ddcba4" d="M478.6 42.2l-2.1-2.3 4.3-.6 2 2.4z"/>
<path fill="#dfd1a8" stroke="#dfd1a8" d="M474.5 42.7l-2-2.3 4-.5 2.1 2.3z"/>
<path fill="#e2d8ab" stroke="#e2d8ab" d="M470.6 43.2l-2.1-2.3 4-.5 2 2.3z"/>
<path fill="#e4deae" stroke="#e4deae" d="M466.8 43.6l-2-2.3 3.7-.4 2.1 2.3z"/>
<path fill="#e6e2b1" stroke="#e6e2b1" d="M463.2 43.9l-2-2.2 3.6-.4 2 2.3z"/>
<path fill="#e8e7b3" stroke="#e8e7b3" d="M459.8 44.3l-2.1-2.2 3.5-.4 2 2.2z"/>
<path fill="#eaeab8" stroke="#eaeab8" d="M456.4 44.5l-2-2.1 3.3-.3 2.1 2.2z"/>
<path fill="#ececbf" stroke="#ececbf" d="M453.3 44.8l-2.1-2.1 3.2-.3 2 2.1z"/>
<path fill="#ededc3" stroke="#ededc3" d="M450.2 45l-2-2 3-.3 2.1 2.1z"/>
<path fill="#ededc6" stroke="#ededc6" d="M447.4 45.2l-2.1-2 2.9-.2 2 2z"/>
<path fill="#eeeec8" stroke="#eeeec8" d="M444.6 45.3l-2-1.9 2.7-.2 2.1 2zM442 45.4l-2.1-1.9 2.7-.1 2 1.9zM439.5 45.5l-2-1.9 2.4-.1 2.1 1.9zM437.2 45.5l-2.1-1.8 2.4-.1 2 1.9z"/>
<path fill="#efefca" stroke="#efefca" d="M435 45.5l-2.1-1.7 2.2-.1 2.1 1.8zM432.9 45.5l-2-1.7 2 0 2.1 1.7zM431 45.5l-2.1-1.6 2-.1 2 1.7z"/>
<path fill="#efefcc" stroke="#efefcc" d="M429.2 45.5l-2.1-1.6 1.8 0 2.1 1.6zM427.5 45.4l-2.1-1.6 1.7 .1 2.1 1.6zM425.9 45.3l-2.1-1.5 1.6 0 2.1 1.6zM424.4 45.2l-2-1.5 1.4 .1 2.1 1.5z"/>
<path fill="#f0f0ce" stroke="#f0f0ce" d="M423.1 45.1l-2.1-1.4 1.4 0 2 1.5zM421.9 45l-2.1-1.4 1.2 .1 2.1 1.4zM420.8 44.8l-2.1-1.3 1.1 .1 2.1 1.4zM419.7 44.7l-2-1.3 1 .1 2.1 1.3z"/>
<path fill="#f0f0d0" stroke="#f0f0d0" d="M418.8 44.5l-2-1.2 .9 .1 2 1.3zM418 44.4l-2-1.2 .8 .1 2 1.2zM417.3 44.2l-2-1.1 .7 .1 2 1.2zM416.7 44.1l-2.1-1.1 .7 .1 2 1.1zM416.2 44l-2.1-1.1 .5 .1 2.1 1.1zM415.7 43.8l-2-1.1 .4 .2 2.1 1.1z"/>
<path fill="#f1f1d2" stroke="#f1f1d2" d="M415.4 43.7l-2.1-1.1 .4 .1 2 1.1zM415.1 43.6l-2.1-1 .3 0 2.1 1.1zM414.8 43.5l-2-1 .2 .1 2.1 1zM414.7 43.4l-2.1-1 .2 .1 2 1zM414.6 43.4l-2.1-1 .1 0 2.1 1zM414.5 43.4l-2-1 0 0 2.1 1zM414.5 43.3l-2-.9 0 0 2 1z"/>
<path fill="#d8bf9e" stroke="#d8bf9e" d="M489.2 43.6l-2-2.5 4.6-.6 1.9 2.5z"/>
<path fill="#d9c19f" stroke="#d9c19f" d="M484.8 44.2l-2-2.5 4.4-.6 2 2.5z"/>
<path fill="#dac4a1" stroke="#dac4a1" d="M480.6 44.7l-2-2.5 4.2-.5 2 2.5z"/>
<path fill="#ddcda5" stroke="#ddcda5" d="M476.5 45.1l-2-2.4 4.1-.5 2 2.5z"/>
<path fill="#e0d3a8" stroke="#e0d3a8" d="M472.6 45.5l-2-2.3 3.9-.5 2 2.4z"/>
<path fill="#e2d9ac" stroke="#e2d9ac" d="M468.8 45.9l-2-2.3 3.8-.4 2 2.3z"/>
<path fill="#e5e1b0" stroke="#e5e1b0" d="M465.2 46.2l-2-2.3 3.6-.3 2 2.3z"/>
<path fill="#e7e5b2" stroke="#e7e5b2" d="M461.7 46.5l-1.9-2.2 3.4-.4 2 2.3z"/>
<path fill="#e9e9b6" stroke="#e9e9b6" d="M458.4 46.7l-2-2.2 3.4-.2 1.9 2.2z"/>
<path fill="#ebebbd" stroke="#ebebbd" d="M455.2 46.9l-1.9-2.1 3.1-.3 2 2.2z"/>
<path fill="#ececc1" stroke="#ececc1" d="M452.2 47.1l-2-2.1 3.1-.2 1.9 2.1z"/>
<path fill="#ededc6" stroke="#ededc6" d="M449.3 47.2l-1.9-2 2.8-.2 2 2.1zM446.6 47.3l-2-2 2.8-.1 1.9 2zM444 47.4l-2-2 2.6-.1 2 2z"/>
<path fill="#eeeec8" stroke="#eeeec8" d="M441.5 47.4l-2-1.9 2.5-.1 2 2zM439.2 47.4l-2-1.9 2.3 0 2 1.9zM437 47.4l-2-1.9 2.2 0 2 1.9z"/>
<path fill="#efefca" stroke="#efefca" d="M434.9 47.3l-2-1.8 2.1 0 2 1.9zM433 47.2l-2-1.7 1.9 0 2 1.8zM431.1 47.1l-1.9-1.6 1.8 0 2 1.7z"/>
<path fill="#efefcc" stroke="#efefcc" d="M429.4 47l-1.9-1.6 1.7 .1 1.9 1.6zM427.9 46.9l-2-1.6 1.6 .1 1.9 1.6zM426.4 46.7l-2-1.5 1.5 .1 2 1.6zM425.1 46.5l-2-1.4 1.3 .1 2 1.5z"/>
<path fill="#f0f0ce" stroke="#f0f0ce" d="M423.8 46.4l-1.9-1.4 1.2 .1 2 1.4zM422.7 46.2l-1.9-1.4 1.1 .2 1.9 1.4zM421.7 46l-2-1.3 1.1 .1 1.9 1.4zM420.8 45.8l-2-1.3 .9 .2 2 1.3z"/>
<path fill="#f0f0d0" stroke="#f0f0d0" d="M420 45.6l-2-1.2 .8 .1 2 1.3zM419.3 45.4l-2-1.2 .7 .2 2 1.2zM418.7 45.2l-2-1.1 .6 .1 2 1.2zM418.1 45l-1.9-1 .5 .1 2 1.1zM417.7 44.9l-2-1.1 .5 .2 1.9 1zM417.3 44.7l-1.9-1 .3 .1 2 1.1z"/>
<path fill="#f1f1d2" stroke="#f1f1d2" d="M417 44.6l-1.9-1 .3 .1 1.9 1zM416.8 44.5l-2-1 .3 .1 1.9 1zM416.7 44.4l-2-1 .1 .1 2 1zM416.6 44.3l-2-.9 .1 0 2 1zM416.5 44.3l-2-.9 .1 0 2 .9zM416.5 44.3l-2-1 0 .1 2 .9z"/>
<path fill="#d5b89a" stroke="#d5b89a" d="M491.1 46.2l-1.9-2.6 4.5-.6 1.9 2.6z"/>
<path fill="#d7bc9c" stroke="#d7bc9c" d="M486.7 46.7l-1.9-2.5 4.4-.6 1.9 2.6z"/>
<path fill="#d8bf9e" stroke="#d8bf9e" d="M482.4 47.2l-1.8-2.5 4.2-.5 1.9 2.5z"/>
<path fill="#dbc6a2" stroke="#dbc6a2" d="M478.4 47.6l-1.9-2.5 4.1-.4 1.8 2.5z"/>
<path fill="#ddcda5" stroke="#ddcda5" d="M474.5 48l-1.9-2.5 3.9-.4 1.9 2.5z"/>
<path fill="#e0d5a9" stroke="#e0d5a9" d="M470.7 48.3l-1.9-2.4 3.8-.4 1.9 2.5z"/>
<path fill="#e4dcae" stroke="#e4dcae" d="M467.1 48.6l-1.9-2.4 3.6-.3 1.9 2.4z"/>
<path fill="#e6e2b1" stroke="#e6e2b1" d="M463.6 48.8l-1.9-2.3 3.5-.3 1.9 2.4z"/>
<path fill="#e9e8b4" stroke="#e9e8b4" d="M460.3 49l-1.9-2.3 3.3-.2 1.9 2.3z"/>
<path fill="#eaeaba" stroke="#eaeaba" d="M457.1 49.2l-1.9-2.3 3.2-.2 1.9 2.3z"/>
<path fill="#ececc1" stroke="#ececc1" d="M454.1 49.3l-1.9-2.2 3-.2 1.9 2.3z"/>
<path fill="#ededc3" stroke="#ededc3" d="M451.2 49.4l-1.9-2.2 2.9-.1 1.9 2.2zM448.5 49.4l-1.9-2.1 2.7-.1 1.9 2.2z"/>
<path fill="#ededc6" stroke="#ededc6" d="M445.9 49.4l-1.9-2 2.6-.1 1.9 2.1zM443.4 49.4l-1.9-2 2.5 0 1.9 2zM441.1 49.3l-1.9-1.9 2.3 0 1.9 2z"/>
<path fill="#eeeec8" stroke="#eeeec8" d="M438.9 49.2l-1.9-1.8 2.2 0 1.9 1.9zM436.8 49.1l-1.9-1.8 2.1 .1 1.9 1.8zM434.8 49l-1.8-1.8 1.9 .1 1.9 1.8z"/>
<path fill="#efefca" stroke="#efefca" d="M433 48.8l-1.9-1.7 1.9 .1 1.8 1.8zM431.3 48.6l-1.9-1.6 1.7 .1 1.9 1.7zM429.8 48.4l-1.9-1.5 1.5 .1 1.9 1.6z"/>
<path fill="#efefcc" stroke="#efefcc" d="M428.3 48.2l-1.9-1.5 1.5 .2 1.9 1.5zM427 48l-1.9-1.5 1.3 .2 1.9 1.5zM425.7 47.8l-1.9-1.4 1.3 .1 1.9 1.5z"/>
<path fill="#f0f0ce" stroke="#f0f0ce" d="M424.6 47.5l-1.9-1.3 1.1 .2 1.9 1.4zM423.6 47.3l-1.9-1.3 1 .2 1.9 1.3zM422.7 47l-1.9-1.2 .9 .2 1.9 1.3zM421.9 46.8l-1.9-1.2 .8 .2 1.9 1.2z"/>
<path fill="#f0f0d0" stroke="#f0f0d0" d="M421.2 46.6l-1.9-1.2 .7 .2 1.9 1.2zM420.5 46.3l-1.8-1.1 .6 .2 1.9 1.2zM420 46.1l-1.9-1.1 .6 .2 1.8 1.1zM419.6 45.9l-1.9-1 .4 .1 1.9 1.1zM419.2 45.7l-1.9-1 .4 .2 1.9 1z"/>
<path fill="#f1f1d2" stroke="#f1f1d2" d="M418.9 45.6l-1.9-1 .3 .1 1.9 1zM418.7 45.4l-1.9-.9 .2 .1 1.9 1zM418.5 45.3l-1.8-.9 .1 .1 1.9 .9zM418.4 45.3l-1.8-1 .1 .1 1.8 .9zM418.4 45.2l-1.9-.9 .1 0 1.8 1zM418.4 45.2l-1.9-.9 0 0 1.9 .9z"/>
<path fill="#d3b197" stroke="#d3b197" d="M492.9 48.8l-1.8-2.6 4.5-.6 1.8 2.7z"/>
<path fill="#d4b498" stroke="#d4b498" d="M488.5 49.3l-1.8-2.6 4.4-.5 1.8 2.6z"/>
<path fill="#d5b89a" stroke="#d5b89a" d="M484.2 49.8l-1.8-2.6 4.3-.5 1.8 2.6z"/>
<path fill="#d8bf9e" stroke="#d8bf9e" d="M480.2 50.2l-1.8-2.6 4-.4 1.8 2.6z"/>
<path fill="#dbc6a2" stroke="#dbc6a2" d="M476.2 50.5l-1.7-2.5 3.9-.4 1.8 2.6z"/>
<path fill="#decea6" stroke="#decea6" d="M472.5 50.8l-1.8-2.5 3.8-.3 1.7 2.5z"/>
<path fill="#e0d5a9" stroke="#e0d5a9" d="M468.9 51.1l-1.8-2.5 3.6-.3 1.8 2.5z"/>
<path fill="#e4dcae" stroke="#e4dcae" d="M465.4 51.3l-1.8-2.5 3.5-.2 1.8 2.5z"/>
<path fill="#e7e4b2" stroke="#e7e4b2" d="M462.1 51.4l-1.8-2.4 3.3-.2 1.8 2.5z"/>
<path fill="#e9e9b6" stroke="#e9e9b6" d="M458.9 51.5l-1.8-2.3 3.2-.2 1.8 2.4z"/>
<path fill="#ebebbd" stroke="#ebebbd" d="M455.9 51.6l-1.8-2.3 3-.1 1.8 2.3z"/>
<path fill="#ececc1" stroke="#ececc1" d="M453 51.6l-1.8-2.2 2.9-.1 1.8 2.3z"/>
<path fill="#ededc3" stroke="#ededc3" d="M450.3 51.6l-1.8-2.2 2.7 0 1.8 2.2zM447.7 51.6l-1.8-2.2 2.6 0 1.8 2.2zM445.2 51.5l-1.8-2.1 2.5 0 1.8 2.2z"/>
<path fill="#ededc6" stroke="#ededc6" d="M442.9 51.4l-1.8-2.1 2.3 .1 1.8 2.1zM440.6 51.2l-1.7-2 2.2 .1 1.8 2.1z"/>
<path fill="#eeeec8" stroke="#eeeec8" d="M438.6 51l-1.8-1.9 2.1 .1 1.7 2zM436.6 50.8l-1.8-1.8 2 .1 1.8 1.9zM434.8 50.6l-1.8-1.8 1.8 .2 1.8 1.8z"/>
<path fill="#efefca" stroke="#efefca" d="M433.1 50.4l-1.8-1.8 1.7 .2 1.8 1.8zM431.5 50.1l-1.7-1.7 1.5 .2 1.8 1.8zM430.1 49.8l-1.8-1.6 1.5 .2 1.7 1.7z"/>
<path fill="#efefcc" stroke="#efefcc" d="M428.7 49.5l-1.7-1.5 1.3 .2 1.8 1.6zM427.5 49.2l-1.8-1.4 1.3 .2 1.7 1.5zM426.4 48.9l-1.8-1.4 1.1 .3 1.8 1.4z"/>
<path fill="#f0f0ce" stroke="#f0f0ce" d="M425.4 48.6l-1.8-1.3 1 .2 1.8 1.4zM424.5 48.3l-1.8-1.3 .9 .3 1.8 1.3zM423.7 48l-1.8-1.2 .8 .2 1.8 1.3zM423 47.7l-1.8-1.1 .7 .2 1.8 1.2z"/>
<path fill="#f0f0d0" stroke="#f0f0d0" d="M422.3 47.5l-1.8-1.2 .7 .3 1.8 1.1zM421.8 47.2l-1.8-1.1 .5 .2 1.8 1.2zM421.4 46.9l-1.8-1 .4 .2 1.8 1.1zM421 46.7l-1.8-1 .4 .2 1.8 1zM420.7 46.5l-1.8-.9 .3 .1 1.8 1z"/>
<path fill="#f1f1d2" stroke="#f1f1d2" d="M420.5 46.4l-1.8-1 .2 .2 1.8 .9zM420.3 46.2l-1.8-.9 .2 .1 1.8 1zM420.2 46.2l-1.8-.9 .1 0 1.8 .9zM420.2 46.1l-1.8-.9 0 .1 1.8 .9zM420.2 46.1l-1.8-.9 0 0 1.8 .9z"/>
<path fill="#d0a993" stroke="#d0a993" d="M494.6 51.6l-1.7-2.8 4.5-.5 1.7 2.7z"/>
<path fill="#d1ad95" stroke="#d1ad95" d="M490.2 52l-1.7-2.7 4.4-.5 1.7 2.8z"/>
<path fill="#d3b197" stroke="#d3b197" d="M485.9 52.5l-1.7-2.7 4.3-.5 1.7 2.7z"/>
<path fill="#d5b89a" stroke="#d5b89a" d="M481.9 52.8l-1.7-2.6 4-.4 1.7 2.7z"/>
<path fill="#d8bf9e" stroke="#d8bf9e" d="M477.9 53.1l-1.7-2.6 4-.3 1.7 2.6z"/>
<path fill="#dbc6a2" stroke="#dbc6a2" d="M474.2 53.4l-1.7-2.6 3.7-.3 1.7 2.6z"/>
<path fill="#decea6" stroke="#decea6" d="M470.6 53.6l-1.7-2.5 3.6-.3 1.7 2.6z"/>
<path fill="#e0d5a9" stroke="#e0d5a9" d="M467.1 53.8l-1.7-2.5 3.5-.2 1.7 2.5z"/>
<path fill="#e4dcae" stroke="#e4dcae" d="M463.8 53.9l-1.7-2.5 3.3-.1 1.7 2.5z"/>
<path fill="#e7e4b2" stroke="#e7e4b2" d="M460.6 54l-1.7-2.5 3.2-.1 1.7 2.5z"/>
<path fill="#e9e9b6" stroke="#e9e9b6" d="M457.6 54l-1.7-2.4 3-.1 1.7 2.5z"/>
<path fill="#ebebbd" stroke="#ebebbd" d="M454.7 54l-1.7-2.4 2.9 0 1.7 2.4z"/>
<path fill="#ececc1" stroke="#ececc1" d="M452 53.9l-1.7-2.3 2.7 0 1.7 2.4zM449.4 53.8l-1.7-2.2 2.6 0 1.7 2.3z"/>
<path fill="#ededc3" stroke="#ededc3" d="M446.9 53.6l-1.7-2.1 2.5 .1 1.7 2.2zM444.6 53.5l-1.7-2.1 2.3 .1 1.7 2.1z"/>
<path fill="#ededc6" stroke="#ededc6" d="M442.4 53.3l-1.8-2.1 2.3 .2 1.7 2.1zM440.3 53l-1.7-2 2 .2 1.8 2.1zM438.3 52.8l-1.7-2 2 .2 1.7 2z"/>
<path fill="#eeeec8" stroke="#eeeec8" d="M436.5 52.5l-1.7-1.9 1.8 .2 1.7 2zM434.8 52.1l-1.7-1.7 1.7 .2 1.7 1.9z"/>
<path fill="#efefca" stroke="#efefca" d="M433.3 51.8l-1.8-1.7 1.6 .3 1.7 1.7zM431.8 51.5l-1.7-1.7 1.4 .3 1.8 1.7zM430.5 51.1l-1.8-1.6 1.4 .3 1.7 1.7z"/>
<path fill="#efefcc" stroke="#efefcc" d="M429.2 50.7l-1.7-1.5 1.2 .3 1.8 1.6zM428.1 50.4l-1.7-1.5 1.1 .3 1.7 1.5zM427.1 50l-1.7-1.4 1 .3 1.7 1.5z"/>
<path fill="#f0f0ce" stroke="#f0f0ce" d="M426.2 49.6l-1.7-1.3 .9 .3 1.7 1.4zM425.4 49.3l-1.7-1.3 .8 .3 1.7 1.3zM424.7 48.9l-1.7-1.2 .7 .3 1.7 1.3z"/>
<path fill="#f0f0d0" stroke="#f0f0d0" d="M424 48.6l-1.7-1.1 .7 .2 1.7 1.2zM423.5 48.2l-1.7-1 .5 .3 1.7 1.1zM423.1 48l-1.7-1.1 .4 .3 1.7 1zM422.7 47.7l-1.7-1 .4 .2 1.7 1.1zM422.4 47.5l-1.7-1 .3 .2 1.7 1z"/>
<path fill="#f1f1d2" stroke="#f1f1d2" d="M422.2 47.3l-1.7-.9 .2 .1 1.7 1zM422 47.1l-1.7-.9 .2 .2 1.7 .9zM421.9 47l-1.7-.8 .1 0 1.7 .9zM421.9 47l-1.7-.9 0 .1 1.7 .8zM421.9 47l-1.7-.9 0 0 1.7 .9z"/>
<path fill="#cda18f" stroke="#cda18f" d="M496.2 54.3l-1.6-2.7 4.5-.6 1.6 2.8z"/>
<path fill="#cea591" stroke="#cea591" d="M491.8 54.7l-1.6-2.7 4.4-.4 1.6 2.7z"/>
<path fill="#d0a993" stroke="#d0a993" d="M487.6 55.1l-1.7-2.6 4.3-.5 1.6 2.7z"/>
<path fill="#d2af96" stroke="#d2af96" d="M483.5 55.5l-1.6-2.7 4-.3 1.7 2.6z"/>
<path fill="#d5b699" stroke="#d5b699" d="M479.6 55.8l-1.7-2.7 4-.3 1.6 2.7z"/>
<path fill="#d7bd9d" stroke="#d7bd9d" d="M475.8 56l-1.6-2.6 3.7-.3 1.7 2.7z"/>
<path fill="#dac4a1" stroke="#dac4a1" d="M472.2 56.2l-1.6-2.6 3.6-.2 1.6 2.6z"/>
<path fill="#ddcda5" stroke="#ddcda5" d="M468.7 56.3l-1.6-2.5 3.5-.2 1.6 2.6z"/>
<path fill="#e0d3a8" stroke="#e0d3a8" d="M465.4 56.4l-1.6-2.5 3.3-.1 1.6 2.5z"/>
<path fill="#e3dbad" stroke="#e3dbad" d="M462.2 56.4l-1.6-2.4 3.2-.1 1.6 2.5z"/>
<path fill="#e6e2b1" stroke="#e6e2b1" d="M459.2 56.4l-1.6-2.4 3 0 1.6 2.4z"/>
<path fill="#e9e8b4" stroke="#e9e8b4" d="M456.3 56.4l-1.6-2.4 2.9 0 1.6 2.4z"/>
<path fill="#eaeab8" stroke="#eaeab8" d="M453.6 56.2l-1.6-2.3 2.7 .1 1.6 2.4z"/>
<path fill="#ebebbd" stroke="#ebebbd" d="M451 56.1l-1.6-2.3 2.6 .1 1.6 2.3z"/>
<path fill="#ececc1" stroke="#ececc1" d="M448.5 55.9l-1.6-2.3 2.5 .2 1.6 2.3zM446.2 55.7l-1.6-2.2 2.3 .1 1.6 2.3z"/>
<path fill="#ededc3" stroke="#ededc3" d="M444 55.4l-1.6-2.1 2.2 .2 1.6 2.2zM441.9 55.1l-1.6-2.1 2.1 .3 1.6 2.1z"/>
<path fill="#ededc6" stroke="#ededc6" d="M440 54.7l-1.7-1.9 2 .2 1.6 2.1zM438.1 54.4l-1.6-1.9 1.8 .3 1.7 1.9z"/>
<path fill="#eeeec8" stroke="#eeeec8" d="M436.4 54l-1.6-1.9 1.7 .4 1.6 1.9zM434.9 53.6l-1.6-1.8 1.5 .3 1.6 1.9zM433.4 53.2l-1.6-1.7 1.5 .3 1.6 1.8z"/>
<path fill="#efefca" stroke="#efefca" d="M432.1 52.7l-1.6-1.6 1.3 .4 1.6 1.7zM430.8 52.3l-1.6-1.6 1.3 .4 1.6 1.6z"/>
<path fill="#efefcc" stroke="#efefcc" d="M429.7 51.8l-1.6-1.4 1.1 .3 1.6 1.6zM428.7 51.4l-1.6-1.4 1 .4 1.6 1.4zM427.8 50.9l-1.6-1.3 .9 .4 1.6 1.4z"/>
<path fill="#f0f0ce" stroke="#f0f0ce" d="M427 50.5l-1.6-1.2 .8 .3 1.6 1.3zM426.3 50.1l-1.6-1.2 .7 .4 1.6 1.2zM425.7 49.7l-1.7-1.1 .7 .3 1.6 1.2z"/>
<path fill="#f0f0d0" stroke="#f0f0d0" d="M425.1 49.3l-1.6-1.1 .5 .4 1.7 1.1zM424.7 49l-1.6-1 .4 .2 1.6 1.1zM424.3 48.6l-1.6-.9 .4 .3 1.6 1zM424 48.4l-1.6-.9 .3 .2 1.6 .9zM423.8 48.1l-1.6-.8 .2 .2 1.6 .9z"/>
<path fill="#f1f1d2" stroke="#f1f1d2" d="M423.7 48l-1.7-.9 .2 .2 1.6 .8zM423.6 47.9l-1.7-.9 .1 .1 1.7 .9zM423.5 47.8l-1.6-.8 0 0 1.7 .9zM423.5 47.8l-1.6-.8 0 0 1.6 .8z"/>
<path fill="#ca988b" stroke="#ca988b" d="M497.7 57l-1.5-2.7 4.5-.5 1.6 2.7z"/>
<path fill="#cc9c8d" stroke="#cc9c8d" d="M493.3 57.4l-1.5-2.7 4.4-.4 1.5 2.7z"/>
<path fill="#cda18f" stroke="#cda18f" d="M489.1 57.8l-1.5-2.7 4.2-.4 1.5 2.7z"/>
<path fill="#cfa792" stroke="#cfa792" d="M485 58.2l-1.5-2.7 4.1-.4 1.5 2.7z"/>
<path fill="#d1ad95" stroke="#d1ad95" d="M481.1 58.5l-1.5-2.7 3.9-.3 1.5 2.7z"/>
<path fill="#d4b498" stroke="#d4b498" d="M477.3 58.7l-1.5-2.7 3.8-.2 1.5 2.7z"/>
<path fill="#d7bc9c" stroke="#d7bc9c" d="M473.7 58.8l-1.5-2.6 3.6-.2 1.5 2.7z"/>
<path fill="#d9c3a0" stroke="#d9c3a0" d="M470.3 58.9l-1.6-2.6 3.5-.1 1.5 2.6z"/>
<path fill="#ddcba4" stroke="#ddcba4" d="M466.9 59l-1.5-2.6 3.3-.1 1.6 2.6z"/>
<path fill="#dfd1a8" stroke="#dfd1a8" d="M463.8 59l-1.6-2.6 3.2 0 1.5 2.6z"/>
<path fill="#e2d9ac" stroke="#e2d9ac" d="M460.7 58.9l-1.5-2.5 3 0 1.6 2.6z"/>
<path fill="#e5dfaf" stroke="#e5dfaf" d="M457.9 58.8l-1.6-2.4 2.9 0 1.5 2.5z"/>
<path fill="#e7e4b2" stroke="#e7e4b2" d="M455.1 58.7l-1.5-2.5 2.7 .2 1.6 2.4z"/>
<path fill="#e9e8b4" stroke="#e9e8b4" d="M452.5 58.4l-1.5-2.3 2.6 .1 1.5 2.5z"/>
<path fill="#eaeaba" stroke="#eaeaba" d="M450 58.2l-1.5-2.3 2.5 .2 1.5 2.3z"/>
<path fill="#ececbf" stroke="#ececbf" d="M447.7 57.9l-1.5-2.2 2.3 .2 1.5 2.3z"/>
<path fill="#ececc1" stroke="#ececc1" d="M445.5 57.6l-1.5-2.2 2.2 .3 1.5 2.2z"/>
<path fill="#ededc3" stroke="#ededc3" d="M443.4 57.2l-1.5-2.1 2.1 .3 1.5 2.2zM441.5 56.8l-1.5-2.1 1.9 .4 1.5 2.1z"/>
<path fill="#ededc6" stroke="#ededc6" d="M439.7 56.4l-1.6-2 1.9 .3 1.5 2.1zM438 55.9l-1.6-1.9 1.7 .4 1.6 2zM436.4 55.4l-1.5-1.8 1.5 .4 1.6 1.9z"/>
<path fill="#eeeec8" stroke="#eeeec8" d="M434.9 54.9l-1.5-1.7 1.5 .4 1.5 1.8zM433.6 54.4l-1.5-1.7 1.3 .5 1.5 1.7z"/>
<path fill="#efefca" stroke="#efefca" d="M432.4 53.9l-1.6-1.6 1.3 .4 1.5 1.7zM431.3 53.3l-1.6-1.5 1.1 .5 1.6 1.6z"/>
<path fill="#efefcc" stroke="#efefcc" d="M430.2 52.8l-1.5-1.4 1 .4 1.6 1.5zM429.3 52.3l-1.5-1.4 .9 .5 1.5 1.4zM428.5 51.8l-1.5-1.3 .8 .4 1.5 1.4z"/>
<path fill="#f0f0ce" stroke="#f0f0ce" d="M427.8 51.3l-1.5-1.2 .7 .4 1.5 1.3zM427.2 50.8l-1.5-1.1 .6 .4 1.5 1.2zM426.7 50.4l-1.6-1.1 .6 .4 1.5 1.1z"/>
<path fill="#f0f0d0" stroke="#f0f0d0" d="M426.2 50l-1.5-1 .4 .3 1.6 1.1zM425.9 49.6l-1.6-1 .4 .4 1.5 1zM425.6 49.3l-1.6-.9 .3 .2 1.6 1zM425.3 49l-1.5-.9 .2 .3 1.6 .9z"/>
<path fill="#f1f1d2" stroke="#f1f1d2" d="M425.2 48.8l-1.5-.8 .1 .1 1.5 .9zM425.1 48.7l-1.5-.8 .1 .1 1.5 .8zM425.1 48.6l-1.6-.8 .1 .1 1.5 .8zM425 48.6l-1.5-.8 0 0 1.6 .8z"/>
<path fill="#c78f86" stroke="#c78f86" d="M499.2 59.7l-1.5-2.7 4.6-.5 1.4 2.7z"/>
<path fill="#c89187" stroke="#c89187" d="M494.8 60.2l-1.5-2.8 4.4-.4 1.5 2.7z"/>
<path fill="#c9968a" stroke="#c9968a" d="M490.5 60.6l-1.4-2.8 4.2-.4 1.5 2.8z"/>
<path fill="#cc9c8d" stroke="#cc9c8d" d="M486.5 60.9l-1.5-2.7 4.1-.4 1.4 2.8z"/>
<path fill="#cea390" stroke="#cea390" d="M482.5 61.1l-1.4-2.6 3.9-.3 1.5 2.7z"/>
<path fill="#d0ab94" stroke="#d0ab94" d="M478.8 61.4l-1.5-2.7 3.8-.2 1.4 2.6z"/>
<path fill="#d3b297" stroke="#d3b297" d="M475.2 61.5l-1.5-2.7 3.6-.1 1.5 2.7z"/>
<path fill="#d6ba9b" stroke="#d6ba9b" d="M471.7 61.6l-1.4-2.7 3.4-.1 1.5 2.7z"/>
<path fill="#d9c19f" stroke="#d9c19f" d="M468.4 61.6l-1.5-2.6 3.4-.1 1.4 2.7z"/>
<path fill="#dbc8a2" stroke="#dbc8a2" d="M465.2 61.6l-1.4-2.6 3.1 0 1.5 2.6z"/>
<path fill="#ded0a7" stroke="#ded0a7" d="M462.2 61.5l-1.5-2.6 3.1 .1 1.4 2.6z"/>
<path fill="#e1d6aa" stroke="#e1d6aa" d="M459.3 61.3l-1.4-2.5 2.8 .1 1.5 2.6z"/>
<path fill="#e3dbad" stroke="#e3dbad" d="M456.6 61.1l-1.5-2.4 2.8 .1 1.4 2.5z"/>
<path fill="#e5dfaf" stroke="#e5dfaf" d="M454 60.9l-1.5-2.5 2.6 .3 1.5 2.4z"/>
<path fill="#e7e4b2" stroke="#e7e4b2" d="M451.5 60.6l-1.5-2.4 2.5 .2 1.5 2.5z"/>
<path fill="#e9e8b4" stroke="#e9e8b4" d="M449.2 60.2l-1.5-2.3 2.3 .3 1.5 2.4z"/>
<path fill="#eaeaba" stroke="#eaeaba" d="M447 59.8l-1.5-2.2 2.2 .3 1.5 2.3z"/>
<path fill="#ececbf" stroke="#ececbf" d="M444.9 59.4l-1.5-2.2 2.1 .4 1.5 2.2z"/>
<path fill="#ececc1" stroke="#ececc1" d="M442.9 58.9l-1.4-2.1 1.9 .4 1.5 2.2z"/>
<path fill="#ededc3" stroke="#ededc3" d="M441.1 58.4l-1.4-2 1.8 .4 1.4 2.1zM439.4 57.9l-1.4-2 1.7 .5 1.4 2z"/>
<path fill="#ededc6" stroke="#ededc6" d="M437.9 57.3l-1.5-1.9 1.6 .5 1.4 2zM436.4 56.8l-1.5-1.9 1.5 .5 1.5 1.9z"/>
<path fill="#eeeec8" stroke="#eeeec8" d="M435.1 56.1l-1.5-1.7 1.3 .5 1.5 1.9zM433.8 55.5l-1.4-1.6 1.2 .5 1.5 1.7z"/>
<path fill="#efefca" stroke="#efefca" d="M432.7 54.9l-1.4-1.6 1.1 .6 1.4 1.6zM431.7 54.3l-1.5-1.5 1.1 .5 1.4 1.6z"/>
<path fill="#efefcc" stroke="#efefcc" d="M430.8 53.7l-1.5-1.4 .9 .5 1.5 1.5zM430 53.1l-1.5-1.3 .8 .5 1.5 1.4zM429.3 52.5l-1.5-1.2 .7 .5 1.5 1.3z"/>
<path fill="#f0f0ce" stroke="#f0f0ce" d="M428.6 52l-1.4-1.2 .6 .5 1.5 1.2zM428.1 51.4l-1.4-1 .5 .4 1.4 1.2z"/>
<path fill="#f0f0d0" stroke="#f0f0d0" d="M427.7 51l-1.5-1 .5 .4 1.4 1zM427.3 50.5l-1.4-.9 .3 .4 1.5 1zM427 50.1l-1.4-.8 .3 .3 1.4 .9zM426.8 49.8l-1.5-.8 .3 .3 1.4 .8zM426.6 49.6l-1.4-.8 .1 .2 1.5 .8z"/>
<path fill="#f1f1d2" stroke="#f1f1d2" d="M426.5 49.4l-1.4-.7 .1 .1 1.4 .8zM426.5 49.3l-1.4-.7 0 .1 1.4 .7zM426.5 49.3l-1.5-.7 .1 0 1.4 .7z"/>
<path fill="#c48381" stroke="#c48381" d="M500.5 62.4l-1.3-2.7 4.5-.5 1.4 2.7z"/>
<path fill="#c58883" stroke="#c58883" d="M496.1 62.9l-1.3-2.7 4.4-.5 1.3 2.7z"/>
<path fill="#c78d85" stroke="#c78d85" d="M491.9 63.3l-1.4-2.7 4.3-.4 1.3 2.7z"/>
<path fill="#c89187" stroke="#c89187" d="M487.8 63.6l-1.3-2.7 4-.3 1.4 2.7z"/>
<path fill="#ca988b" stroke="#ca988b" d="M483.9 63.9l-1.4-2.8 4-.2 1.3 2.7z"/>
<path fill="#cc9f8e" stroke="#cc9f8e" d="M480.1 64.1l-1.3-2.7 3.7-.3 1.4 2.8z"/>
<path fill="#cfa792" stroke="#cfa792" d="M476.5 64.2l-1.3-2.7 3.6-.1 1.3 2.7z"/>
<path fill="#d2af96" stroke="#d2af96" d="M473.1 64.3l-1.4-2.7 3.5-.1 1.3 2.7z"/>
<path fill="#d5b699" stroke="#d5b699" d="M469.7 64.3l-1.3-2.7 3.3 0 1.4 2.7z"/>
<path fill="#d7bd9d" stroke="#d7bd9d" d="M466.6 64.2l-1.4-2.6 3.2 0 1.3 2.7z"/>
<path fill="#dac4a1" stroke="#dac4a1" d="M463.5 64.1l-1.3-2.6 3 .1 1.4 2.6z"/>
<path fill="#ddcba4" stroke="#ddcba4" d="M460.7 64l-1.4-2.7 2.9 .2 1.3 2.6z"/>
<path fill="#ded0a7" stroke="#ded0a7" d="M457.9 63.7l-1.3-2.6 2.7 .2 1.4 2.7z"/>
<path fill="#e1d6aa" stroke="#e1d6aa" d="M455.3 63.4l-1.3-2.5 2.6 .2 1.3 2.6z"/>
<path fill="#e3dbad" stroke="#e3dbad" d="M452.9 63.1l-1.4-2.5 2.5 .3 1.3 2.5z"/>
<path fill="#e5dfaf" stroke="#e5dfaf" d="M450.5 62.7l-1.3-2.5 2.3 .4 1.4 2.5z"/>
<path fill="#e7e5b2" stroke="#e7e5b2" d="M448.3 62.2l-1.3-2.4 2.2 .4 1.3 2.5z"/>
<path fill="#e9e9b6" stroke="#e9e9b6" d="M446.2 61.7l-1.3-2.3 2.1 .4 1.3 2.4z"/>
<path fill="#ebebbd" stroke="#ebebbd" d="M444.3 61.2l-1.4-2.3 2 .5 1.3 2.3z"/>
<path fill="#ececc1" stroke="#ececc1" d="M442.5 60.6l-1.4-2.2 1.8 .5 1.4 2.3z"/>
<path fill="#ededc3" stroke="#ededc3" d="M440.8 60l-1.4-2.1 1.7 .5 1.4 2.2zM439.2 59.4l-1.3-2.1 1.5 .6 1.4 2.1z"/>
<path fill="#ededc6" stroke="#ededc6" d="M437.8 58.7l-1.4-1.9 1.5 .5 1.3 2.1zM436.4 58l-1.3-1.9 1.3 .7 1.4 1.9z"/>
<path fill="#eeeec8" stroke="#eeeec8" d="M435.2 57.3l-1.4-1.8 1.3 .6 1.3 1.9zM434.1 56.6l-1.4-1.7 1.1 .6 1.4 1.8z"/>
<path fill="#efefca" stroke="#efefca" d="M433.1 55.9l-1.4-1.6 1 .6 1.4 1.7zM432.1 55.2l-1.3-1.5 .9 .6 1.4 1.6z"/>
<path fill="#efefcc" stroke="#efefcc" d="M431.3 54.5l-1.3-1.4 .8 .6 1.3 1.5zM430.6 53.8l-1.3-1.3 .7 .6 1.3 1.4z"/>
<path fill="#f0f0ce" stroke="#f0f0ce" d="M430 53.1l-1.4-1.1 .7 .5 1.3 1.3zM429.5 52.5l-1.4-1.1 .5 .6 1.4 1.1zM429 52l-1.3-1 .4 .4 1.4 1.1z"/>
<path fill="#f0f0d0" stroke="#f0f0d0" d="M428.7 51.5l-1.4-1 .4 .5 1.3 1zM428.4 51l-1.4-.9 .3 .4 1.4 1zM428.2 50.7l-1.4-.9 .2 .3 1.4 .9zM428 50.4l-1.4-.8 .2 .2 1.4 .9zM427.9 50.2l-1.4-.8 .1 .2 1.4 .8z"/>
<path fill="#f1f1d2" stroke="#f1f1d2" d="M427.9 50.1l-1.4-.8 0 .1 1.4 .8zM427.9 50.1l-1.4-.8 0 0 1.4 .8z"/>
<path fill="#be7c7c" stroke="#be7c7c" d="M501.8 65.2l-1.3-2.8 4.6-.5 1.3 2.7z"/>
<path fill="#c07e7e" stroke="#c07e7e" d="M497.4 65.6l-1.3-2.7 4.4-.5 1.3 2.8z"/>
<path fill="#c38080" stroke="#c38080" d="M493.2 66l-1.3-2.7 4.2-.4 1.3 2.7z"/>
<path fill="#c48582" stroke="#c48582" d="M489.1 66.4l-1.3-2.8 4.1-.3 1.3 2.7z"/>
<path fill="#c78d85" stroke="#c78d85" d="M485.2 66.7l-1.3-2.8 3.9-.3 1.3 2.8z"/>
<path fill="#c99489" stroke="#c99489" d="M481.4 66.9l-1.3-2.8 3.8-.2 1.3 2.8z"/>
<path fill="#cb9a8c" stroke="#cb9a8c" d="M477.8 67l-1.3-2.8 3.6-.1 1.3 2.8z"/>
<path fill="#cda18f" stroke="#cda18f" d="M474.3 67.1l-1.2-2.8 3.4-.1 1.3 2.8z"/>
<path fill="#d0a993" stroke="#d0a993" d="M471 67.1l-1.3-2.8 3.4 0 1.2 2.8z"/>
<path fill="#d3b197" stroke="#d3b197" d="M467.9 67l-1.3-2.8 3.1 .1 1.3 2.8z"/>
<path fill="#d5b89a" stroke="#d5b89a" d="M464.8 66.9l-1.3-2.8 3.1 .1 1.3 2.8z"/>
<path fill="#d8bf9e" stroke="#d8bf9e" d="M461.9 66.7l-1.2-2.7 2.8 .1 1.3 2.8z"/>
<path fill="#dac4a1" stroke="#dac4a1" d="M459.2 66.4l-1.3-2.7 2.8 .3 1.2 2.7z"/>
<path fill="#ddcba4" stroke="#ddcba4" d="M456.6 66.1l-1.3-2.7 2.6 .3 1.3 2.7z"/>
<path fill="#ded0a7" stroke="#ded0a7" d="M454.1 65.7l-1.2-2.6 2.4 .3 1.3 2.7z"/>
<path fill="#e1d6aa" stroke="#e1d6aa" d="M451.8 65.2l-1.3-2.5 2.4 .4 1.2 2.6z"/>
<path fill="#e4dcae" stroke="#e4dcae" d="M449.6 64.7l-1.3-2.5 2.2 .5 1.3 2.5z"/>
<path fill="#e5e1b0" stroke="#e5e1b0" d="M447.5 64.2l-1.3-2.5 2.1 .5 1.3 2.5z"/>
<path fill="#e8e7b3" stroke="#e8e7b3" d="M445.6 63.6l-1.3-2.4 1.9 .5 1.3 2.5z"/>
<path fill="#eaeab8" stroke="#eaeab8" d="M443.8 62.9l-1.3-2.3 1.8 .6 1.3 2.4z"/>
<path fill="#ececbf" stroke="#ececbf" d="M442.1 62.2l-1.3-2.2 1.7 .6 1.3 2.3z"/>
<path fill="#ececc1" stroke="#ececc1" d="M440.5 61.5l-1.3-2.1 1.6 .6 1.3 2.2z"/>
<path fill="#ededc3" stroke="#ededc3" d="M439 60.8l-1.2-2.1 1.4 .7 1.3 2.1zM437.7 60l-1.3-2 1.4 .7 1.2 2.1z"/>
<path fill="#ededc6" stroke="#ededc6" d="M436.5 59.2l-1.3-1.9 1.2 .7 1.3 2z"/>
<path fill="#eeeec8" stroke="#eeeec8" d="M435.3 58.3l-1.2-1.7 1.1 .7 1.3 1.9zM434.3 57.5l-1.2-1.6 1 .7 1.2 1.7z"/>
<path fill="#efefca" stroke="#efefca" d="M433.4 56.7l-1.3-1.5 1 .7 1.2 1.6zM432.6 55.9l-1.3-1.4 .8 .7 1.3 1.5z"/>
<path fill="#efefcc" stroke="#efefcc" d="M431.9 55.1l-1.3-1.3 .7 .7 1.3 1.4zM431.3 54.4l-1.3-1.3 .6 .7 1.3 1.3z"/>
<path fill="#f0f0ce" stroke="#f0f0ce" d="M430.8 53.7l-1.3-1.2 .5 .6 1.3 1.3zM430.3 53l-1.3-1 .5 .5 1.3 1.2zM429.9 52.4l-1.2-.9 .3 .5 1.3 1z"/>
<path fill="#f0f0d0" stroke="#f0f0d0" d="M429.7 51.9l-1.3-.9 .3 .5 1.2 .9zM429.4 51.5l-1.2-.8 .2 .3 1.3 .9zM429.3 51.2l-1.3-.8 .2 .3 1.2 .8zM429.2 50.9l-1.3-.7 .1 .2 1.3 .8zM429.1 50.8l-1.2-.7 0 .1 1.3 .7z"/>
<path fill="#f1f1d2" stroke="#f1f1d2" d="M429.1 50.8l-1.2-.7 0 0 1.2 .7z"/>
<path fill="#b57777" stroke="#b57777" d="M503 67.8l-1.2-2.6 4.6-.6 1.2 2.7z"/>
<path fill="#b97979" stroke="#b97979" d="M498.6 68.3l-1.2-2.7 4.4-.4 1.2 2.6z"/>
<path fill="#bb7a7a" stroke="#bb7a7a" d="M494.4 68.8l-1.2-2.8 4.2-.4 1.2 2.7z"/>
<path fill="#be7c7c" stroke="#be7c7c" d="M490.3 69.1l-1.2-2.7 4.1-.4 1.2 2.8z"/>
<path fill="#c38080" stroke="#c38080" d="M486.4 69.4l-1.2-2.7 3.9-.3 1.2 2.7z"/>
<path fill="#c48582" stroke="#c48582" d="M482.6 69.6l-1.2-2.7 3.8-.2 1.2 2.7z"/>
<path fill="#c78d85" stroke="#c78d85" d="M479 69.8l-1.2-2.8 3.6-.1 1.2 2.7z"/>
<path fill="#c99489" stroke="#c99489" d="M475.5 69.8l-1.2-2.7 3.5-.1 1.2 2.8z"/>
<path fill="#cb9a8c" stroke="#cb9a8c" d="M472.2 69.8l-1.2-2.7 3.3 0 1.2 2.7z"/>
<path fill="#cea390" stroke="#cea390" d="M469.1 69.8l-1.2-2.8 3.1 .1 1.2 2.7z"/>
<path fill="#d0ab94" stroke="#d0ab94" d="M466 69.6l-1.2-2.7 3.1 .1 1.2 2.8z"/>
<path fill="#d3b297" stroke="#d3b297" d="M463.1 69.4l-1.2-2.7 2.9 .2 1.2 2.7z"/>
<path fill="#d5b89a" stroke="#d5b89a" d="M460.4 69.1l-1.2-2.7 2.7 .3 1.2 2.7z"/>
<path fill="#d8bf9e" stroke="#d8bf9e" d="M457.8 68.8l-1.2-2.7 2.6 .3 1.2 2.7z"/>
<path fill="#dac4a1" stroke="#dac4a1" d="M455.3 68.4l-1.2-2.7 2.5 .4 1.2 2.7z"/>
<path fill="#ddcba4" stroke="#ddcba4" d="M453 67.9l-1.2-2.7 2.3 .5 1.2 2.7z"/>
<path fill="#dfd1a8" stroke="#dfd1a8" d="M450.8 67.4l-1.2-2.7 2.2 .5 1.2 2.7z"/>
<path fill="#e2d8ab" stroke="#e2d8ab" d="M448.7 66.7l-1.2-2.5 2.1 .5 1.2 2.7z"/>
<path fill="#e4deae" stroke="#e4deae" d="M446.8 66.1l-1.2-2.5 1.9 .6 1.2 2.5z"/>
<path fill="#e6e2b1" stroke="#e6e2b1" d="M445 65.4l-1.2-2.5 1.8 .7 1.2 2.5z"/>
<path fill="#e9e8b4" stroke="#e9e8b4" d="M443.3 64.6l-1.2-2.4 1.7 .7 1.2 2.5z"/>
<path fill="#ebebbd" stroke="#ebebbd" d="M441.7 63.8l-1.2-2.3 1.6 .7 1.2 2.4z"/>
<path fill="#ececc1" stroke="#ececc1" d="M440.2 62.9l-1.2-2.1 1.5 .7 1.2 2.3z"/>
<path fill="#ededc3" stroke="#ededc3" d="M438.9 62.1l-1.2-2.1 1.3 .8 1.2 2.1zM437.7 61.2l-1.2-2 1.2 .8 1.2 2.1z"/>
<path fill="#ededc6" stroke="#ededc6" d="M436.5 60.2l-1.2-1.9 1.2 .9 1.2 2z"/>
<path fill="#eeeec8" stroke="#eeeec8" d="M435.5 59.3l-1.2-1.8 1 .8 1.2 1.9zM434.6 58.4l-1.2-1.7 .9 .8 1.2 1.8z"/>
<path fill="#efefca" stroke="#efefca" d="M433.8 57.4l-1.2-1.5 .8 .8 1.2 1.7zM433.1 56.5l-1.2-1.4 .7 .8 1.2 1.5z"/>
<path fill="#efefcc" stroke="#efefcc" d="M432.5 55.7l-1.2-1.3 .6 .7 1.2 1.4zM432 54.8l-1.2-1.1 .5 .7 1.2 1.3z"/>
<path fill="#f0f0ce" stroke="#f0f0ce" d="M431.5 54.1l-1.2-1.1 .5 .7 1.2 1.1zM431.1 53.4l-1.2-1 .4 .6 1.2 1.1z"/>
<path fill="#f0f0d0" stroke="#f0f0d0" d="M430.9 52.8l-1.2-.9 .2 .5 1.2 1zM430.6 52.3l-1.2-.8 .3 .4 1.2 .9zM430.5 51.9l-1.2-.7 .1 .3 1.2 .8zM430.4 51.7l-1.2-.8 .1 .3 1.2 .7zM430.3 51.5l-1.2-.7 .1 .1 1.2 .8zM430.3 51.5l-1.2-.7 0 0 1.2 .7z"/>
<path fill="#ae7272" stroke="#ae7272" d="M504.1 70.5l-1.1-2.7 4.6-.5 1.1 2.6z"/>
<path fill="#af7373" stroke="#af7373" d="M499.7 71l-1.1-2.7 4.4-.5 1.1 2.7z"/>
<path fill="#b37575" stroke="#b37575" d="M495.5 71.4l-1.1-2.6 4.2-.5 1.1 2.7z"/>
<path fill="#b57777" stroke="#b57777" d="M491.4 71.8l-1.1-2.7 4.1-.3 1.1 2.6z"/>
<path fill="#b97979" stroke="#b97979" d="M487.5 72.1l-1.1-2.7 3.9-.3 1.1 2.7z"/>
<path fill="#bc7b7b" stroke="#bc7b7b" d="M483.7 72.3l-1.1-2.7 3.8-.2 1.1 2.7z"/>
<path fill="#c27f7f" stroke="#c27f7f" d="M480.1 72.5l-1.1-2.7 3.6-.2 1.1 2.7z"/>
<path fill="#c48381" stroke="#c48381" d="M476.7 72.6l-1.2-2.8 3.5 0 1.1 2.7z"/>
<path fill="#c68a84" stroke="#c68a84" d="M473.3 72.6l-1.1-2.8 3.3 0 1.2 2.8z"/>
<path fill="#c99489" stroke="#c99489" d="M470.2 72.5l-1.1-2.7 3.1 0 1.1 2.8z"/>
<path fill="#cc9c8d" stroke="#cc9c8d" d="M467.1 72.4l-1.1-2.8 3.1 .2 1.1 2.7z"/>
<path fill="#cea390" stroke="#cea390" d="M464.3 72.2l-1.2-2.8 2.9 .2 1.1 2.8z"/>
<path fill="#d0ab94" stroke="#d0ab94" d="M461.5 71.9l-1.1-2.8 2.7 .3 1.2 2.8z"/>
<path fill="#d3b197" stroke="#d3b197" d="M458.9 71.6l-1.1-2.8 2.6 .3 1.1 2.8z"/>
<path fill="#d5b89a" stroke="#d5b89a" d="M456.4 71.1l-1.1-2.7 2.5 .4 1.1 2.8z"/>
<path fill="#d8bf9e" stroke="#d8bf9e" d="M454.1 70.6l-1.1-2.7 2.3 .5 1.1 2.7z"/>
<path fill="#dac4a1" stroke="#dac4a1" d="M451.9 70l-1.1-2.6 2.2 .5 1.1 2.7z"/>
<path fill="#ddcba4" stroke="#ddcba4" d="M449.8 69.4l-1.1-2.7 2.1 .7 1.1 2.6z"/>
<path fill="#e0d3a8" stroke="#e0d3a8" d="M447.9 68.7l-1.1-2.6 1.9 .6 1.1 2.7z"/>
<path fill="#e2d9ac" stroke="#e2d9ac" d="M446.1 67.9l-1.1-2.5 1.8 .7 1.1 2.6z"/>
<path fill="#e5dfaf" stroke="#e5dfaf" d="M444.4 67.1l-1.1-2.5 1.7 .8 1.1 2.5z"/>
<path fill="#e7e5b2" stroke="#e7e5b2" d="M442.8 66.2l-1.1-2.4 1.6 .8 1.1 2.5z"/>
<path fill="#eaeab8" stroke="#eaeab8" d="M441.4 65.2l-1.2-2.3 1.5 .9 1.1 2.4z"/>
<path fill="#ececbf" stroke="#ececbf" d="M440 64.3l-1.1-2.2 1.3 .8 1.2 2.3z"/>
<path fill="#ececc1" stroke="#ececc1" d="M438.8 63.3l-1.1-2.1 1.2 .9 1.1 2.2z"/>
<path fill="#ededc3" stroke="#ededc3" d="M437.7 62.2l-1.2-2 1.2 1 1.1 2.1z"/>
<path fill="#ededc6" stroke="#ededc6" d="M436.6 61.2l-1.1-1.9 1 .9 1.2 2z"/>
<path fill="#eeeec8" stroke="#eeeec8" d="M435.7 60.1l-1.1-1.7 .9 .9 1.1 1.9zM434.9 59.1l-1.1-1.7 .8 1 1.1 1.7z"/>
<path fill="#efefca" stroke="#efefca" d="M434.2 58l-1.1-1.5 .7 .9 1.1 1.7zM433.6 57l-1.1-1.3 .6 .8 1.1 1.5z"/>
<path fill="#efefcc" stroke="#efefcc" d="M433.1 56.1l-1.1-1.3 .5 .9 1.1 1.3zM432.6 55.2l-1.1-1.1 .5 .7 1.1 1.3z"/>
<path fill="#f0f0ce" stroke="#f0f0ce" d="M432.3 54.4l-1.2-1 .4 .7 1.1 1.1zM432 53.7l-1.1-.9 .2 .6 1.2 1z"/>
<path fill="#f0f0d0" stroke="#f0f0d0" d="M431.8 53.1l-1.2-.8 .3 .5 1.1 .9zM431.6 52.7l-1.1-.8 .1 .4 1.2 .8zM431.5 52.4l-1.1-.7 .1 .2 1.1 .8zM431.5 52.2l-1.2-.7 .1 .2 1.1 .7zM431.4 52.2l-1.1-.7 0 0 1.2 .7z"/>
<path fill="#a66c6c" stroke="#a66c6c" d="M505.2 72.9l-1.1-2.4 4.6-.6 1 2.4z"/>
<path fill="#a86e6e" stroke="#a86e6e" d="M500.8 73.5l-1.1-2.5 4.4-.5 1.1 2.4z"/>
<path fill="#aa6f6f" stroke="#aa6f6f" d="M496.5 74l-1-2.6 4.2-.4 1.1 2.5z"/>
<path fill="#ac7070" stroke="#ac7070" d="M492.5 74.4l-1.1-2.6 4.1-.4 1 2.6z"/>
<path fill="#af7373" stroke="#af7373" d="M488.5 74.7l-1-2.6 3.9-.3 1.1 2.6z"/>
<path fill="#b17474" stroke="#b17474" d="M484.8 75l-1.1-2.7 3.8-.2 1 2.6z"/>
<path fill="#b57777" stroke="#b57777" d="M481.2 75.2l-1.1-2.7 3.6-.2 1.1 2.7z"/>
<path fill="#bb7a7a" stroke="#bb7a7a" d="M477.7 75.3l-1-2.7 3.4-.1 1.1 2.7z"/>
<path fill="#c07e7e" stroke="#c07e7e" d="M474.4 75.3l-1.1-2.7 3.4 0 1 2.7z"/>
<path fill="#c48381" stroke="#c48381" d="M471.2 75.3l-1-2.8 3.1 .1 1.1 2.7z"/>
<path fill="#c68a84" stroke="#c68a84" d="M468.2 75.2l-1.1-2.8 3.1 .1 1 2.8z"/>
<path fill="#c89187" stroke="#c89187" d="M465.3 75l-1-2.8 2.8 .2 1.1 2.8z"/>
<path fill="#cb9a8c" stroke="#cb9a8c" d="M462.6 74.7l-1.1-2.8 2.8 .3 1 2.8z"/>
<path fill="#cda18f" stroke="#cda18f" d="M459.9 74.3l-1-2.7 2.6 .3 1.1 2.8z"/>
<path fill="#d0a993" stroke="#d0a993" d="M457.5 73.9l-1.1-2.8 2.5 .5 1 2.7z"/>
<path fill="#d3b197" stroke="#d3b197" d="M455.1 73.3l-1-2.7 2.3 .5 1.1 2.8z"/>
<path fill="#d5b89a" stroke="#d5b89a" d="M452.9 72.8l-1-2.8 2.2 .6 1 2.7z"/>
<path fill="#d8bf9e" stroke="#d8bf9e" d="M450.9 72.1l-1.1-2.7 2.1 .6 1 2.8z"/>
<path fill="#dbc6a2" stroke="#dbc6a2" d="M448.9 71.3l-1-2.6 1.9 .7 1.1 2.7z"/>
<path fill="#decea6" stroke="#decea6" d="M447.1 70.5l-1-2.6 1.8 .8 1 2.6z"/>
<path fill="#e0d5a9" stroke="#e0d5a9" d="M445.4 69.6l-1-2.5 1.7 .8 1 2.6z"/>
<path fill="#e4dcae" stroke="#e4dcae" d="M443.8 68.7l-1-2.5 1.6 .9 1 2.5z"/>
<path fill="#e6e2b1" stroke="#e6e2b1" d="M442.4 67.6l-1-2.4 1.4 1 1 2.5z"/>
<path fill="#e9e9b6" stroke="#e9e9b6" d="M441 66.6l-1-2.3 1.4 .9 1 2.4z"/>
<path fill="#ebebbd" stroke="#ebebbd" d="M439.8 65.5l-1-2.2 1.2 1 1 2.3z"/>
<path fill="#ececc1" stroke="#ececc1" d="M438.7 64.3l-1-2.1 1.1 1.1 1 2.2z"/>
<path fill="#ededc3" stroke="#ededc3" d="M437.7 63.1l-1.1-1.9 1.1 1 1 2.1z"/>
<path fill="#ededc6" stroke="#ededc6" d="M436.8 62l-1.1-1.9 .9 1.1 1.1 1.9zM436 60.8l-1.1-1.7 .8 1 1.1 1.9z"/>
<path fill="#eeeec8" stroke="#eeeec8" d="M435.3 59.6l-1.1-1.6 .7 1.1 1.1 1.7z"/>
<path fill="#efefca" stroke="#efefca" d="M434.6 58.5l-1-1.5 .6 1 1.1 1.6z"/>
<path fill="#efefcc" stroke="#efefcc" d="M434.1 57.4l-1-1.3 .5 .9 1 1.5zM433.7 56.4l-1.1-1.2 .5 .9 1 1.3z"/>
<path fill="#f0f0ce" stroke="#f0f0ce" d="M433.3 55.5l-1-1.1 .3 .8 1.1 1.2zM433 54.6l-1-.9 .3 .7 1 1.1z"/>
<path fill="#f0f0d0" stroke="#f0f0d0" d="M432.8 54l-1-.9 .2 .6 1 .9zM432.6 53.4l-1-.7 .2 .4 1 .9zM432.5 53.1l-1-.7 .1 .3 1 .7zM432.5 52.9l-1-.7 0 .2 1 .7zM432.5 52.9l-1.1-.7 .1 0 1 .7z"/>
<path fill="#9d6767" stroke="#9d6767" d="M506.1 75.3l-.9-2.4 4.5-.6 1 2.3z"/>
<path fill="#9f6868" stroke="#9f6868" d="M501.7 75.8l-.9-2.3 4.4-.6 .9 2.4z"/>
<path fill="#a26a6a" stroke="#a26a6a" d="M497.5 76.4l-1-2.4 4.3-.5 .9 2.3z"/>
<path fill="#a46b6b" stroke="#a46b6b" d="M493.4 76.8l-.9-2.4 4-.4 1 2.4z"/>
<path fill="#a66c6c" stroke="#a66c6c" d="M489.5 77.2l-1-2.5 4-.3 .9 2.4z"/>
<path fill="#a86e6e" stroke="#a86e6e" d="M485.7 77.5l-.9-2.5 3.7-.3 1 2.5z"/>
<path fill="#aa6f6f" stroke="#aa6f6f" d="M482.1 77.7l-.9-2.5 3.6-.2 .9 2.5z"/>
<path fill="#ae7272" stroke="#ae7272" d="M478.6 77.9l-.9-2.6 3.5-.1 .9 2.5z"/>
<path fill="#b37575" stroke="#b37575" d="M475.3 77.9l-.9-2.6 3.3 0 .9 2.6z"/>
<path fill="#b77878" stroke="#b77878" d="M472.2 77.9l-1-2.6 3.2 0 .9 2.6z"/>
<path fill="#be7c7c" stroke="#be7c7c" d="M469.1 77.8l-.9-2.6 3 .1 1 2.6z"/>
<path fill="#c38080" stroke="#c38080" d="M466.3 77.6l-1-2.6 2.9 .2 .9 2.6z"/>
<path fill="#c58883" stroke="#c58883" d="M463.5 77.4l-.9-2.7 2.7 .3 1 2.6z"/>
<path fill="#c89187" stroke="#c89187" d="M460.9 77l-1-2.7 2.7 .4 .9 2.7z"/>
<path fill="#ca988b" stroke="#ca988b" d="M458.4 76.6l-.9-2.7 2.4 .4 1 2.7z"/>
<path fill="#cda18f" stroke="#cda18f" d="M456.1 76.1l-1-2.8 2.4 .6 .9 2.7z"/>
<path fill="#d0a993" stroke="#d0a993" d="M453.9 75.5l-1-2.7 2.2 .5 1 2.8z"/>
<path fill="#d3b197" stroke="#d3b197" d="M451.8 74.8l-.9-2.7 2 .7 1 2.7z"/>
<path fill="#d6ba9b" stroke="#d6ba9b" d="M449.9 74l-1-2.7 2 .8 .9 2.7z"/>
<path fill="#d9c19f" stroke="#d9c19f" d="M448.1 73.1l-1-2.6 1.8 .8 1 2.7z"/>
<path fill="#dcc9a3" stroke="#dcc9a3" d="M446.4 72.2l-1-2.6 1.7 .9 1 2.6z"/>
<path fill="#dfd1a8" stroke="#dfd1a8" d="M444.8 71.2l-1-2.5 1.6 .9 1 2.6z"/>
<path fill="#e2d8ab" stroke="#e2d8ab" d="M443.3 70.1l-.9-2.5 1.4 1.1 1 2.5z"/>
<path fill="#e5dfaf" stroke="#e5dfaf" d="M442 69l-1-2.4 1.4 1 .9 2.5z"/>
<path fill="#e8e7b3" stroke="#e8e7b3" d="M440.8 67.8l-1-2.3 1.2 1.1 1 2.4z"/>
<path fill="#ebebbd" stroke="#ebebbd" d="M439.7 66.5l-1-2.2 1.1 1.2 1 2.3z"/>
<path fill="#ececc1" stroke="#ececc1" d="M438.6 65.2l-.9-2.1 1 1.2 1 2.2z"/>
<path fill="#ededc3" stroke="#ededc3" d="M437.7 63.9l-.9-1.9 .9 1.1 .9 2.1z"/>
<path fill="#ededc6" stroke="#ededc6" d="M436.9 62.6l-.9-1.8 .8 1.2 .9 1.9z"/>
<path fill="#eeeec8" stroke="#eeeec8" d="M436.2 61.3l-.9-1.7 .7 1.2 .9 1.8zM435.6 60l-1-1.5 .7 1.1 .9 1.7z"/>
<path fill="#efefca" stroke="#efefca" d="M435.1 58.8l-1-1.4 .5 1.1 1 1.5z"/>
<path fill="#efefcc" stroke="#efefcc" d="M434.6 57.6l-.9-1.2 .4 1 1 1.4zM434.2 56.5l-.9-1 .4 .9 .9 1.2z"/>
<path fill="#f0f0ce" stroke="#f0f0ce" d="M434 55.6l-1-1 .3 .9 .9 1zM433.7 54.8l-.9-.8 .2 .6 1 1z"/>
<path fill="#f0f0d0" stroke="#f0f0d0" d="M433.6 54.2l-1-.8 .2 .6 .9 .8zM433.5 53.8l-1-.7 .1 .3 1 .8zM433.4 53.6l-.9-.7 0 .2 1 .7zM433.4 53.5l-.9-.6 0 0 .9 .7z"/>
<path fill="#956161" stroke="#956161" d="M507 77.4l-.9-2.1 4.6-.7 .9 2.1z"/>
<path fill="#976363" stroke="#976363" d="M502.6 78l-.9-2.2 4.4-.5 .9 2.1z"/>
<path fill="#996464" stroke="#996464" d="M498.4 78.6l-.9-2.2 4.2-.6 .9 2.2zM494.3 79.1l-.9-2.3 4.1-.4 .9 2.2z"/>
<path fill="#9b6666" stroke="#9b6666" d="M490.4 79.5l-.9-2.3 3.9-.4 .9 2.3z"/>
<path fill="#9d6767" stroke="#9d6767" d="M486.6 79.8l-.9-2.3 3.8-.3 .9 2.3z"/>
<path fill="#9f6868" stroke="#9f6868" d="M483 80.1l-.9-2.4 3.6-.2 .9 2.3z"/>
<path fill="#a26a6a" stroke="#a26a6a" d="M479.5 80.3l-.9-2.4 3.5-.2 .9 2.4z"/>
<path fill="#a66c6c" stroke="#a66c6c" d="M476.2 80.4l-.9-2.5 3.3 0 .9 2.4z"/>
<path fill="#ac7070" stroke="#ac7070" d="M473 80.4l-.8-2.5 3.1 0 .9 2.5z"/>
<path fill="#af7373" stroke="#af7373" d="M470 80.3l-.9-2.5 3.1 .1 .8 2.5z"/>
<path fill="#b57777" stroke="#b57777" d="M467.1 80.2l-.8-2.6 2.8 .2 .9 2.5z"/>
<path fill="#bc7b7b" stroke="#bc7b7b" d="M464.4 79.9l-.9-2.5 2.8 .2 .8 2.6z"/>
<path fill="#c27f7f" stroke="#c27f7f" d="M461.8 79.6l-.9-2.6 2.6 .4 .9 2.5z"/>
<path fill="#c58883" stroke="#c58883" d="M459.3 79.2l-.9-2.6 2.5 .4 .9 2.6z"/>
<path fill="#c89187" stroke="#c89187" d="M457 78.7l-.9-2.6 2.3 .5 .9 2.6z"/>
<path fill="#cb9a8c" stroke="#cb9a8c" d="M454.8 78l-.9-2.5 2.2 .6 .9 2.6z"/>
<path fill="#cea390" stroke="#cea390" d="M452.7 77.3l-.9-2.5 2.1 .7 .9 2.5z"/>
<path fill="#d0ab94" stroke="#d0ab94" d="M450.8 76.6l-.9-2.6 1.9 .8 .9 2.5z"/>
<path fill="#d4b498" stroke="#d4b498" d="M448.9 75.7l-.8-2.6 1.8 .9 .9 2.6z"/>
<path fill="#d7bd9d" stroke="#d7bd9d" d="M447.3 74.7l-.9-2.5 1.7 .9 .8 2.6z"/>
<path fill="#dac4a1" stroke="#dac4a1" d="M445.7 73.6l-.9-2.4 1.6 1 .9 2.5z"/>
<path fill="#decea6" stroke="#decea6" d="M444.2 72.5l-.9-2.4 1.5 1.1 .9 2.4z"/>
<path fill="#e1d6aa" stroke="#e1d6aa" d="M442.9 71.3l-.9-2.3 1.3 1.1 .9 2.4z"/>
<path fill="#e4deae" stroke="#e4deae" d="M441.6 70l-.8-2.2 1.2 1.2 .9 2.3z"/>
<path fill="#e7e5b2" stroke="#e7e5b2" d="M440.5 68.6l-.8-2.1 1.1 1.3 .8 2.2z"/>
<path fill="#eaeaba" stroke="#eaeaba" d="M439.5 67.2l-.9-2 1.1 1.3 .8 2.1z"/>
<path fill="#ececc1" stroke="#ececc1" d="M438.6 65.8l-.9-1.9 .9 1.3 .9 2z"/>
<path fill="#ededc3" stroke="#ededc3" d="M437.8 64.4l-.9-1.8 .8 1.3 .9 1.9z"/>
<path fill="#ededc6" stroke="#ededc6" d="M437.1 62.9l-.9-1.6 .7 1.3 .9 1.8z"/>
<path fill="#eeeec8" stroke="#eeeec8" d="M436.5 61.5l-.9-1.5 .6 1.3 .9 1.6zM435.9 60.1l-.8-1.3 .5 1.2 .9 1.5z"/>
<path fill="#efefca" stroke="#efefca" d="M435.5 58.8l-.9-1.2 .5 1.2 .8 1.3z"/>
<path fill="#efefcc" stroke="#efefcc" d="M435.1 57.6l-.9-1.1 .4 1.1 .9 1.2z"/>
<path fill="#f0f0ce" stroke="#f0f0ce" d="M434.8 56.5l-.8-.9 .2 .9 .9 1.1zM434.6 55.6l-.9-.8 .3 .8 .8 .9zM434.5 54.9l-.9-.7 .1 .6 .9 .8z"/>
<path fill="#f0f0d0" stroke="#f0f0d0" d="M434.4 54.5l-.9-.7 .1 .4 .9 .7zM434.3 54.2l-.9-.6 .1 .2 .9 .7zM434.3 54.2l-.9-.7 0 .1 .9 .6z"/>
<path fill="#8b5b5b" stroke="#8b5b5b" d="M507.8 79.5l-.8-2.1 4.6-.7 .8 2.1z"/>
<path fill="#8e5d5d" stroke="#8e5d5d" d="M503.4 80.2l-.8-2.2 4.4-.6 .8 2.1z"/>
<path fill="#905e5e" stroke="#905e5e" d="M499.2 80.8l-.8-2.2 4.2-.6 .8 2.2zM495.1 81.3l-.8-2.2 4.1-.5 .8 2.2zM491.2 81.8l-.8-2.3 3.9-.4 .8 2.2z"/>
<path fill="#926060" stroke="#926060" d="M487.4 82.1l-.8-2.3 3.8-.3 .8 2.3zM483.8 82.4l-.8-2.3 3.6-.3 .8 2.3z"/>
<path fill="#976363" stroke="#976363" d="M480.3 82.6l-.8-2.3 3.5-.2 .8 2.3z"/>
<path fill="#996464" stroke="#996464" d="M477 82.8l-.8-2.4 3.3-.1 .8 2.3z"/>
<path fill="#9d6767" stroke="#9d6767" d="M473.8 82.8l-.8-2.4 3.2 0 .8 2.4z"/>
<path fill="#a26a6a" stroke="#a26a6a" d="M470.8 82.7l-.8-2.4 3 .1 .8 2.4z"/>
<path fill="#a86e6e" stroke="#a86e6e" d="M467.9 82.6l-.8-2.4 2.9 .1 .8 2.4z"/>
<path fill="#af7373" stroke="#af7373" d="M465.2 82.4l-.8-2.5 2.7 .3 .8 2.4z"/>
<path fill="#b57777" stroke="#b57777" d="M462.6 82.1l-.8-2.5 2.6 .3 .8 2.5z"/>
<path fill="#bc7b7b" stroke="#bc7b7b" d="M460.1 81.7l-.8-2.5 2.5 .4 .8 2.5z"/>
<path fill="#c27f7f" stroke="#c27f7f" d="M457.8 81.1l-.8-2.4 2.3 .5 .8 2.5z"/>
<path fill="#c58883" stroke="#c58883" d="M455.6 80.5l-.8-2.5 2.2 .7 .8 2.4z"/>
<path fill="#c99489" stroke="#c99489" d="M453.5 79.8l-.8-2.5 2.1 .7 .8 2.5z"/>
<path fill="#cc9c8d" stroke="#cc9c8d" d="M451.6 79l-.8-2.4 1.9 .7 .8 2.5z"/>
<path fill="#cfa792" stroke="#cfa792" d="M449.7 78.1l-.8-2.4 1.9 .9 .8 2.4z"/>
<path fill="#d3b197" stroke="#d3b197" d="M448 77.1l-.7-2.4 1.6 1 .8 2.4z"/>
<path fill="#d6ba9b" stroke="#d6ba9b" d="M446.5 76l-.8-2.4 1.6 1.1 .7 2.4z"/>
<path fill="#d9c3a0" stroke="#d9c3a0" d="M445 74.8l-.8-2.3 1.5 1.1 .8 2.4z"/>
<path fill="#ddcba4" stroke="#ddcba4" d="M443.7 73.5l-.8-2.2 1.3 1.2 .8 2.3z"/>
<path fill="#e0d5a9" stroke="#e0d5a9" d="M442.4 72.1l-.8-2.1 1.3 1.3 .8 2.2z"/>
<path fill="#e4deae" stroke="#e4deae" d="M441.3 70.6l-.8-2 1.1 1.4 .8 2.1z"/>
<path fill="#e7e5b2" stroke="#e7e5b2" d="M440.3 69.1l-.8-1.9 1 1.4 .8 2z"/>
<path fill="#ebebbd" stroke="#ebebbd" d="M439.4 67.5l-.8-1.7 .9 1.4 .8 1.9z"/>
<path fill="#ececc1" stroke="#ececc1" d="M438.6 66l-.8-1.6 .8 1.4 .8 1.7z"/>
<path fill="#ededc3" stroke="#ededc3" d="M437.9 64.4l-.8-1.5 .7 1.5 .8 1.6z"/>
<path fill="#ededc6" stroke="#ededc6" d="M437.3 62.8l-.8-1.3 .6 1.4 .8 1.5z"/>
<path fill="#eeeec8" stroke="#eeeec8" d="M436.7 61.2l-.8-1.1 .6 1.4 .8 1.3z"/>
<path fill="#efefca" stroke="#efefca" d="M436.3 59.8l-.8-1 .4 1.3 .8 1.1z"/>
<path fill="#efefcc" stroke="#efefcc" d="M435.9 58.5l-.8-.9 .4 1.2 .8 1zM435.6 57.3l-.8-.8 .3 1.1 .8 .9z"/>
<path fill="#f0f0ce" stroke="#f0f0ce" d="M435.4 56.3l-.8-.7 .2 .9 .8 .8zM435.3 55.5l-.8-.6 .1 .7 .8 .7z"/>
<path fill="#f0f0d0" stroke="#f0f0d0" d="M435.2 55l-.8-.5 .1 .4 .8 .6zM435.1 54.7l-.8-.5 .1 .3 .8 .5zM435.1 54.7l-.8-.5 0 0 .8 .5z"/>
<path fill="#815555" stroke="#815555" d="M508.5 81.6l-.7-2.1 4.6-.7 .7 2.1z"/>
<path fill="#845656" stroke="#845656" d="M504.1 82.4l-.7-2.2 4.4-.7 .7 2.1z"/>
<path fill="#865858" stroke="#865858" d="M499.9 83l-.7-2.2 4.2-.6 .7 2.2zM495.8 83.6l-.7-2.3 4.1-.5 .7 2.2z"/>
<path fill="#845656" stroke="#845656" d="M491.9 84l-.7-2.2 3.9-.5 .7 2.3zM488.1 84.4l-.7-2.3 3.8-.3 .7 2.2z"/>
<path fill="#865858" stroke="#865858" d="M484.5 84.8l-.7-2.4 3.6-.3 .7 2.3z"/>
<path fill="#895a5a" stroke="#895a5a" d="M481 85l-.7-2.4 3.5-.2 .7 2.4z"/>
<path fill="#8b5b5b" stroke="#8b5b5b" d="M477.7 85.2l-.7-2.4 3.3-.2 .7 2.4z"/>
<path fill="#8e5d5d" stroke="#8e5d5d" d="M474.6 85.3l-.8-2.5 3.2 0 .7 2.4z"/>
<path fill="#926060" stroke="#926060" d="M471.5 85.3l-.7-2.6 3 .1 .8 2.5z"/>
<path fill="#996464" stroke="#996464" d="M468.7 85.1l-.8-2.5 2.9 .1 .7 2.6z"/>
<path fill="#9f6868" stroke="#9f6868" d="M465.9 84.9l-.7-2.5 2.7 .2 .8 2.5z"/>
<path fill="#a86e6e" stroke="#a86e6e" d="M463.3 84.6l-.7-2.5 2.6 .3 .7 2.5z"/>
<path fill="#ae7272" stroke="#ae7272" d="M460.8 84.2l-.7-2.5 2.5 .4 .7 2.5z"/>
<path fill="#b57777" stroke="#b57777" d="M458.5 83.7l-.7-2.6 2.3 .6 .7 2.5z"/>
<path fill="#bc7b7b" stroke="#bc7b7b" d="M456.3 83.1l-.7-2.6 2.2 .6 .7 2.6z"/>
<path fill="#c38080" stroke="#c38080" d="M454.2 82.4l-.7-2.6 2.1 .7 .7 2.6z"/>
<path fill="#c78d85" stroke="#c78d85" d="M452.3 81.6l-.7-2.6 1.9 .8 .7 2.6z"/>
<path fill="#c9968a" stroke="#c9968a" d="M450.5 80.6l-.8-2.5 1.9 .9 .7 2.6z"/>
<path fill="#cda18f" stroke="#cda18f" d="M448.8 79.6l-.8-2.5 1.7 1 .8 2.5z"/>
<path fill="#d1ad95" stroke="#d1ad95" d="M447.2 78.4l-.7-2.4 1.5 1.1 .8 2.5z"/>
<path fill="#d5b699" stroke="#d5b699" d="M445.7 77.1l-.7-2.3 1.5 1.2 .7 2.4z"/>
<path fill="#d9c19f" stroke="#d9c19f" d="M444.4 75.8l-.7-2.3 1.3 1.3 .7 2.3z"/>
<path fill="#ddcba4" stroke="#ddcba4" d="M443.2 74.3l-.8-2.2 1.3 1.4 .7 2.3z"/>
<path fill="#e0d5a9" stroke="#e0d5a9" d="M442.1 72.7l-.8-2.1 1.1 1.5 .8 2.2z"/>
<path fill="#e4deae" stroke="#e4deae" d="M441 71l-.7-1.9 1 1.5 .8 2.1z"/>
<path fill="#e8e7b3" stroke="#e8e7b3" d="M440.1 69.3l-.7-1.8 .9 1.6 .7 1.9z"/>
<path fill="#ebebbd" stroke="#ebebbd" d="M439.3 67.6l-.7-1.6 .8 1.5 .7 1.8z"/>
<path fill="#ededc3" stroke="#ededc3" d="M438.6 65.8l-.7-1.4 .7 1.6 .7 1.6z"/>
<path fill="#ededc6" stroke="#ededc6" d="M438 64.1l-.7-1.3 .6 1.6 .7 1.4z"/>
<path fill="#eeeec8" stroke="#eeeec8" d="M437.5 62.4l-.8-1.2 .6 1.6 .7 1.3zM437 60.8l-.7-1 .4 1.4 .8 1.2z"/>
<path fill="#efefca" stroke="#efefca" d="M436.6 59.3l-.7-.8 .4 1.3 .7 1z"/>
<path fill="#efefcc" stroke="#efefcc" d="M436.4 58l-.8-.7 .3 1.2 .7 .8z"/>
<path fill="#f0f0ce" stroke="#f0f0ce" d="M436.1 56.9l-.7-.6 .2 1 .8 .7zM436 56.1l-.7-.6 .1 .8 .7 .6z"/>
<path fill="#f0f0d0" stroke="#f0f0d0" d="M435.9 55.5l-.7-.5 .1 .5 .7 .6zM435.8 55.2l-.7-.5 .1 .3 .7 .5zM435.8 55.1l-.7-.4 0 0 .7 .5z"/>
<path fill="#794f4f" stroke="#794f4f" d="M509.2 83.8l-.7-2.2 4.6-.7 .6 2.1zM504.8 84.6l-.7-2.2 4.4-.8 .7 2.2z"/>
<path fill="#7c5151" stroke="#7c5151" d="M500.5 85.3l-.6-2.3 4.2-.6 .7 2.2z"/>
<path fill="#794f4f" stroke="#794f4f" d="M496.5 85.9l-.7-2.3 4.1-.6 .6 2.3z"/>
<path fill="#774e4e" stroke="#774e4e" d="M492.5 86.4l-.6-2.4 3.9-.4 .7 2.3zM488.8 86.9l-.7-2.5 3.8-.4 .6 2.4zM485.2 87.3l-.7-2.5 3.6-.4 .7 2.5zM481.7 87.6l-.7-2.6 3.5-.2 .7 2.5z"/>
<path fill="#794f4f" stroke="#794f4f" d="M478.4 87.8l-.7-2.6 3.3-.2 .7 2.6z"/>
<path fill="#7c5151" stroke="#7c5151" d="M475.2 87.9l-.6-2.6 3.1-.1 .7 2.6z"/>
<path fill="#815555" stroke="#815555" d="M472.2 88l-.7-2.7 3.1 0 .6 2.6z"/>
<path fill="#865858" stroke="#865858" d="M469.3 87.9l-.6-2.8 2.8 .2 .7 2.7z"/>
<path fill="#8e5d5d" stroke="#8e5d5d" d="M466.6 87.8l-.7-2.9 2.8 .2 .6 2.8z"/>
<path fill="#976363" stroke="#976363" d="M464 87.5l-.7-2.9 2.6 .3 .7 2.9z"/>
<path fill="#9d6767" stroke="#9d6767" d="M461.5 87.1l-.7-2.9 2.5 .4 .7 2.9z"/>
<path fill="#a66c6c" stroke="#a66c6c" d="M459.2 86.7l-.7-3 2.3 .5 .7 2.9z"/>
<path fill="#ae7272" stroke="#ae7272" d="M456.9 86.1l-.6-3 2.2 .6 .7 3z"/>
<path fill="#b57777" stroke="#b57777" d="M454.9 85.4l-.7-3 2.1 .7 .6 3z"/>
<path fill="#bc7b7b" stroke="#bc7b7b" d="M452.9 84.6l-.6-3 1.9 .8 .7 3z"/>
<path fill="#c48381" stroke="#c48381" d="M451.1 83.6l-.6-3 1.8 1 .6 3z"/>
<path fill="#c78f86" stroke="#c78f86" d="M449.4 82.5l-.6-2.9 1.7 1 .6 3z"/>
<path fill="#cb9a8c" stroke="#cb9a8c" d="M447.8 81.3l-.6-2.9 1.6 1.2 .6 2.9z"/>
<path fill="#cfa792" stroke="#cfa792" d="M446.4 80l-.7-2.9 1.5 1.3 .6 2.9z"/>
<path fill="#d3b297" stroke="#d3b297" d="M445 78.5l-.6-2.7 1.3 1.3 .7 2.9z"/>
<path fill="#d7bd9d" stroke="#d7bd9d" d="M443.8 77l-.6-2.7 1.2 1.5 .6 2.7z"/>
<path fill="#dcc9a3" stroke="#dcc9a3" d="M442.7 75.3l-.6-2.6 1.1 1.6 .6 2.7z"/>
<path fill="#e0d3a8" stroke="#e0d3a8" d="M441.7 73.5l-.7-2.5 1.1 1.7 .6 2.6z"/>
<path fill="#e4deae" stroke="#e4deae" d="M440.8 71.6l-.7-2.3 .9 1.7 .7 2.5z"/>
<path fill="#e9e8b4" stroke="#e9e8b4" d="M440 69.7l-.7-2.1 .8 1.7 .7 2.3z"/>
<path fill="#ececbf" stroke="#ececbf" d="M439.3 67.7l-.7-1.9 .7 1.8 .7 2.1z"/>
<path fill="#ededc3" stroke="#ededc3" d="M438.6 65.7l-.6-1.6 .6 1.7 .7 1.9z"/>
<path fill="#ededc6" stroke="#ededc6" d="M438.1 63.8l-.6-1.4 .5 1.7 .6 1.6z"/>
<path fill="#eeeec8" stroke="#eeeec8" d="M437.7 62l-.7-1.2 .5 1.6 .6 1.4z"/>
<path fill="#efefca" stroke="#efefca" d="M437.3 60.3l-.7-1 .4 1.5 .7 1.2z"/>
<path fill="#efefcc" stroke="#efefcc" d="M437 58.8l-.6-.8 .2 1.3 .7 1zM436.8 57.6l-.7-.7 .3 1.1 .6 .8z"/>
<path fill="#f0f0ce" stroke="#f0f0ce" d="M436.6 56.7l-.6-.6 .1 .8 .7 .7zM436.5 56l-.6-.5 .1 .6 .6 .6z"/>
<path fill="#f0f0d0" stroke="#f0f0d0" d="M436.5 55.7l-.7-.5 .1 .3 .6 .5zM436.5 55.6l-.7-.5 0 .1 .7 .5z"/>
<path fill="#6e4848" stroke="#6e4848" d="M509.7 86l-.5-2.2 4.5-.8 .6 2.1zM505.4 86.8l-.6-2.2 4.4-.8 .5 2.2z"/>
<path fill="#714a4a" stroke="#714a4a" d="M501.1 87.6l-.6-2.3 4.3-.7 .6 2.2z"/>
<path fill="#6e4848" stroke="#6e4848" d="M497 88.3l-.5-2.4 4-.6 .6 2.3z"/>
<path fill="#6b4646" stroke="#6b4646" d="M493.1 88.9l-.6-2.5 4-.5 .5 2.4z"/>
<path fill="#674444" stroke="#674444" d="M489.4 89.4l-.6-2.5 3.7-.5 .6 2.5z"/>
<path fill="#644242" stroke="#644242" d="M485.7 89.9l-.5-2.6 3.6-.4 .6 2.5zM482.3 90.3l-.6-2.7 3.5-.3 .5 2.6zM479 90.6l-.6-2.8 3.3-.2 .6 2.7zM475.8 90.8l-.6-2.9 3.2-.1 .6 2.8z"/>
<path fill="#674444" stroke="#674444" d="M472.8 90.9l-.6-2.9 3-.1 .6 2.9z"/>
<path fill="#6e4848" stroke="#6e4848" d="M469.9 91l-.6-3.1 2.9 .1 .6 2.9z"/>
<path fill="#774e4e" stroke="#774e4e" d="M467.1 90.9l-.5-3.1 2.7 .1 .6 3.1z"/>
<path fill="#7f5353" stroke="#7f5353" d="M464.5 90.8l-.5-3.3 2.6 .3 .5 3.1z"/>
<path fill="#865858" stroke="#865858" d="M462.1 90.5l-.6-3.4 2.5 .4 .5 3.3z"/>
<path fill="#905e5e" stroke="#905e5e" d="M459.7 90.1l-.5-3.4 2.3 .4 .6 3.4z"/>
<path fill="#996464" stroke="#996464" d="M457.5 89.6l-.6-3.5 2.3 .6 .5 3.4z"/>
<path fill="#a26a6a" stroke="#a26a6a" d="M455.5 89l-.6-3.6 2 .7 .6 3.5z"/>
<path fill="#aa6f6f" stroke="#aa6f6f" d="M453.5 88.2l-.6-3.6 2 .8 .6 3.6z"/>
<path fill="#b37575" stroke="#b37575" d="M451.7 87.3l-.6-3.7 1.8 1 .6 3.6z"/>
<path fill="#bc7b7b" stroke="#bc7b7b" d="M450 86.3l-.6-3.8 1.7 1.1 .6 3.7z"/>
<path fill="#c48381" stroke="#c48381" d="M448.4 85.1l-.6-3.8 1.6 1.2 .6 3.8z"/>
<path fill="#c89187" stroke="#c89187" d="M447 83.7l-.6-3.7 1.4 1.3 .6 3.8z"/>
<path fill="#cc9f8e" stroke="#cc9f8e" d="M445.6 82.2l-.6-3.7 1.4 1.5 .6 3.7z"/>
<path fill="#d0ab94" stroke="#d0ab94" d="M444.4 80.6l-.6-3.6 1.2 1.5 .6 3.7z"/>
<path fill="#d5b89a" stroke="#d5b89a" d="M443.3 78.8l-.6-3.5 1.1 1.7 .6 3.6z"/>
<path fill="#dac4a1" stroke="#dac4a1" d="M442.3 76.9l-.6-3.4 1 1.8 .6 3.5z"/>
<path fill="#dfd1a8" stroke="#dfd1a8" d="M441.4 74.8l-.6-3.2 .9 1.9 .6 3.4z"/>
<path fill="#e4dcae" stroke="#e4dcae" d="M440.5 72.7l-.5-3 .8 1.9 .6 3.2z"/>
<path fill="#e8e7b3" stroke="#e8e7b3" d="M439.8 70.5l-.5-2.8 .7 2 .5 3z"/>
<path fill="#ececbf" stroke="#ececbf" d="M439.2 68.2l-.6-2.5 .7 2 .5 2.8z"/>
<path fill="#ededc3" stroke="#ededc3" d="M438.7 66l-.6-2.2 .5 1.9 .6 2.5z"/>
<path fill="#ededc6" stroke="#ededc6" d="M438.2 63.9l-.5-1.9 .4 1.8 .6 2.2z"/>
<path fill="#eeeec8" stroke="#eeeec8" d="M437.9 61.9l-.6-1.6 .4 1.7 .5 1.9z"/>
<path fill="#efefca" stroke="#efefca" d="M437.6 60.2l-.6-1.4 .3 1.5 .6 1.6z"/>
<path fill="#efefcc" stroke="#efefcc" d="M437.4 58.7l-.6-1.1 .2 1.2 .6 1.4z"/>
<path fill="#f0f0ce" stroke="#f0f0ce" d="M437.2 57.5l-.6-.8 .2 .9 .6 1.1zM437.1 56.8l-.6-.8 .1 .7 .6 .8z"/>
<path fill="#f0f0d0" stroke="#f0f0d0" d="M437.1 56.4l-.6-.7 0 .3 .6 .8zM437.1 56.3l-.6-.7 0 .1 .6 .7z"/>
<path fill="#613f3f" stroke="#613f3f" d="M510.2 88.1l-.5-2.1 4.6-.9 .5 2.1zM505.9 89l-.5-2.2 4.3-.8 .5 2.1zM501.6 89.9l-.5-2.3 4.3-.8 .5 2.2zM497.5 90.6l-.5-2.3 4.1-.7 .5 2.3z"/>
<path fill="#5d3d3d" stroke="#5d3d3d" d="M493.6 91.4l-.5-2.5 3.9-.6 .5 2.3z"/>
<path fill="#5a3b3b" stroke="#5a3b3b" d="M489.9 92l-.5-2.6 3.7-.5 .5 2.5z"/>
<path fill="#563838" stroke="#563838" d="M486.2 92.6l-.5-2.7 3.7-.5 .5 2.6z"/>
<path fill="#523636" stroke="#523636" d="M482.8 93l-.5-2.7 3.4-.4 .5 2.7z"/>
<path fill="#4e3333" stroke="#4e3333" d="M479.5 93.5l-.5-2.9 3.3-.3 .5 2.7zM476.3 93.8l-.5-3 3.2-.2 .5 2.9zM473.3 94l-.5-3.1 3-.1 .5 3z"/>
<path fill="#523636" stroke="#523636" d="M470.4 94.2l-.5-3.2 2.9-.1 .5 3.1z"/>
<path fill="#563838" stroke="#563838" d="M467.6 94.3l-.5-3.4 2.8 .1 .5 3.2z"/>
<path fill="#613f3f" stroke="#613f3f" d="M465 94.2l-.5-3.4 2.6 .1 .5 3.4z"/>
<path fill="#6b4646" stroke="#6b4646" d="M462.6 94.1l-.5-3.6 2.4 .3 .5 3.4z"/>
<path fill="#744c4c" stroke="#744c4c" d="M460.2 93.8l-.5-3.7 2.4 .4 .5 3.6z"/>
<path fill="#7c5151" stroke="#7c5151" d="M458 93.4l-.5-3.8 2.2 .5 .5 3.7z"/>
<path fill="#865858" stroke="#865858" d="M456 92.9l-.5-3.9 2 .6 .5 3.8z"/>
<path fill="#905e5e" stroke="#905e5e" d="M454 92.3l-.5-4.1 2 .8 .5 3.9z"/>
<path fill="#996464" stroke="#996464" d="M452.2 91.5l-.5-4.2 1.8 .9 .5 4.1z"/>
<path fill="#a46b6b" stroke="#a46b6b" d="M450.5 90.6l-.5-4.3 1.7 1 .5 4.2z"/>
<path fill="#ae7272" stroke="#ae7272" d="M448.9 89.5l-.5-4.4 1.6 1.2 .5 4.3z"/>
<path fill="#b97979" stroke="#b97979" d="M447.5 88.2l-.5-4.5 1.4 1.4 .5 4.4z"/>
<path fill="#c38080" stroke="#c38080" d="M446.1 86.8l-.5-4.6 1.4 1.5 .5 4.5z"/>
<path fill="#c78f86" stroke="#c78f86" d="M444.9 85.1l-.5-4.5 1.2 1.6 .5 4.6z"/>
<path fill="#cc9f8e" stroke="#cc9f8e" d="M443.8 83.3l-.5-4.5 1.1 1.8 .5 4.5z"/>
<path fill="#d2af96" stroke="#d2af96" d="M442.8 81.3l-.5-4.4 1 1.9 .5 4.5z"/>
<path fill="#d7bc9c" stroke="#d7bc9c" d="M441.9 79.1l-.5-4.3 .9 2.1 .5 4.4z"/>
<path fill="#ddcba4" stroke="#ddcba4" d="M441 76.8l-.5-4.1 .9 2.1 .5 4.3z"/>
<path fill="#e2d8ab" stroke="#e2d8ab" d="M440.3 74.3l-.5-3.8 .7 2.2 .5 4.1z"/>
<path fill="#e7e4b2" stroke="#e7e4b2" d="M439.7 71.8l-.5-3.6 .6 2.3 .5 3.8z"/>
<path fill="#ebebbd" stroke="#ebebbd" d="M439.2 69.2l-.5-3.2 .5 2.2 .5 3.6z"/>
<path fill="#ededc3" stroke="#ededc3" d="M438.7 66.6l-.5-2.7 .5 2.1 .5 3.2z"/>
<path fill="#ededc6" stroke="#ededc6" d="M438.4 64.2l-.5-2.3 .3 2 .5 2.7z"/>
<path fill="#eeeec8" stroke="#eeeec8" d="M438.1 62.1l-.5-1.9 .3 1.7 .5 2.3z"/>
<path fill="#efefca" stroke="#efefca" d="M437.9 60.2l-.5-1.5 .2 1.5 .5 1.9z"/>
<path fill="#efefcc" stroke="#efefcc" d="M437.7 58.8l-.5-1.3 .2 1.2 .5 1.5z"/>
<path fill="#f0f0ce" stroke="#f0f0ce" d="M437.6 57.8l-.5-1 .1 .7 .5 1.3zM437.6 57.3l-.5-.9 0 .4 .5 1zM437.6 57.2l-.5-.9 0 .1 .5 .9z"/>
<path fill="#523636" stroke="#523636" d="M510.7 89.9l-.5-1.8 4.6-.9 .4 1.7zM506.3 90.9l-.4-1.9 4.3-.9 .5 1.8z"/>
<path fill="#563838" stroke="#563838" d="M502.1 91.8l-.5-1.9 4.3-.9 .4 1.9z"/>
<path fill="#523636" stroke="#523636" d="M498 92.7l-.5-2.1 4.1-.7 .5 1.9zM494.1 93.4l-.5-2 3.9-.8 .5 2.1z"/>
<path fill="#4e3333" stroke="#4e3333" d="M490.3 94.2l-.4-2.2 3.7-.6 .5 2z"/>
<path fill="#493030" stroke="#493030" d="M486.7 94.8l-.5-2.2 3.7-.6 .4 2.2zM483.2 95.4l-.4-2.4 3.4-.4 .5 2.2z"/>
<path fill="#442d2d" stroke="#442d2d" d="M479.9 95.9l-.4-2.4 3.3-.5 .4 2.4z"/>
<path fill="#3f2929" stroke="#3f2929" d="M476.7 96.4l-.4-2.6 3.2-.3 .4 2.4z"/>
<path fill="#3a2626" stroke="#3a2626" d="M473.7 96.8l-.4-2.8 3-.2 .4 2.6zM470.8 97l-.4-2.8 2.9-.2 .4 2.8zM468.1 97.2l-.5-2.9 2.8-.1 .4 2.8z"/>
<path fill="#3f2929" stroke="#3f2929" d="M465.5 97.3l-.5-3.1 2.6 .1 .5 2.9z"/>
<path fill="#493030" stroke="#493030" d="M463 97.4l-.4-3.3 2.4 .1 .5 3.1z"/>
<path fill="#523636" stroke="#523636" d="M460.7 97.3l-.5-3.5 2.4 .3 .4 3.3z"/>
<path fill="#5a3b3b" stroke="#5a3b3b" d="M458.5 97l-.5-3.6 2.2 .4 .5 3.5z"/>
<path fill="#644242" stroke="#644242" d="M456.4 96.7l-.4-3.8 2 .5 .5 3.6z"/>
<path fill="#6e4848" stroke="#6e4848" d="M454.4 96.2l-.4-3.9 2 .6 .4 3.8z"/>
<path fill="#794f4f" stroke="#794f4f" d="M452.6 95.6l-.4-4.1 1.8 .8 .4 3.9z"/>
<path fill="#845656" stroke="#845656" d="M450.9 94.9l-.4-4.3 1.7 .9 .4 4.1z"/>
<path fill="#905e5e" stroke="#905e5e" d="M449.4 93.9l-.5-4.4 1.6 1.1 .4 4.3z"/>
<path fill="#9b6666" stroke="#9b6666" d="M447.9 92.8l-.4-4.6 1.4 1.3 .5 4.4z"/>
<path fill="#a86e6e" stroke="#a86e6e" d="M446.6 91.5l-.5-4.7 1.4 1.4 .4 4.6z"/>
<path fill="#b37575" stroke="#b37575" d="M445.3 90l-.4-4.9 1.2 1.7 .5 4.7z"/>
<path fill="#c07e7e" stroke="#c07e7e" d="M444.2 88.2l-.4-4.9 1.1 1.8 .4 4.9z"/>
<path fill="#c78d85" stroke="#c78d85" d="M443.2 86.2l-.4-4.9 1 2 .4 4.9z"/>
<path fill="#cc9f8e" stroke="#cc9f8e" d="M442.3 84l-.4-4.9 .9 2.2 .4 4.9z"/>
<path fill="#d3b197" stroke="#d3b197" d="M441.5 81.6l-.5-4.8 .9 2.3 .4 4.9z"/>
<path fill="#d9c19f" stroke="#d9c19f" d="M440.8 78.9l-.5-4.6 .7 2.5 .5 4.8z"/>
<path fill="#dfd1a8" stroke="#dfd1a8" d="M440.1 76.1l-.4-4.3 .6 2.5 .5 4.6z"/>
<path fill="#e5e1b0" stroke="#e5e1b0" d="M439.6 73.1l-.4-3.9 .5 2.6 .4 4.3z"/>
<path fill="#eaeab8" stroke="#eaeab8" d="M439.2 70.1l-.5-3.5 .5 2.6 .4 3.9z"/>
<path fill="#ececc1" stroke="#ececc1" d="M438.8 67.2l-.4-3 .3 2.4 .5 3.5z"/>
<path fill="#ededc6" stroke="#ededc6" d="M438.5 64.5l-.4-2.4 .3 2.1 .4 3z"/>
<path fill="#eeeec8" stroke="#eeeec8" d="M438.3 62.2l-.4-2 .2 1.9 .4 2.4z"/>
<path fill="#efefcc" stroke="#efefcc" d="M438.1 60.4l-.4-1.6 .2 1.4 .4 2zM438.1 59.2l-.5-1.4 .1 1 .4 1.6z"/>
<path fill="#f0f0ce" stroke="#f0f0ce" d="M438 58.5l-.4-1.2 0 .5 .5 1.4zM438 58.4l-.4-1.2 0 .1 .4 1.2z"/>
<path fill="#442d2d" stroke="#442d2d" d="M511 91.2l-.3-1.3 4.5-1 .4 1.3zM506.7 92.3l-.4-1.4 4.4-1 .3 1.3z"/>
<path fill="#493030" stroke="#493030" d="M502.4 93.3l-.3-1.5 4.2-.9 .4 1.4z"/>
<path fill="#442d2d" stroke="#442d2d" d="M498.3 94.2l-.3-1.5 4.1-.9 .3 1.5zM494.4 95l-.3-1.6 3.9-.7 .3 1.5z"/>
<path fill="#3f2929" stroke="#3f2929" d="M490.7 95.8l-.4-1.6 3.8-.8 .3 1.6zM487 96.6l-.3-1.8 3.6-.6 .4 1.6z"/>
<path fill="#3a2626" stroke="#3a2626" d="M483.6 97.3l-.4-1.9 3.5-.6 .3 1.8zM480.3 97.9l-.4-2 3.3-.5 .4 1.9z"/>
<path fill="#342222" stroke="#342222" d="M477.1 98.4l-.4-2 3.2-.5 .4 2zM474.1 98.9l-.4-2.1 3-.4 .4 2z"/>
<path fill="#2d1d1d" stroke="#2d1d1d" d="M471.2 99.3l-.4-2.3 2.9-.2 .4 2.1z"/>
<path fill="#342222" stroke="#342222" d="M468.4 99.6l-.3-2.4 2.7-.2 .4 2.3zM465.8 99.9l-.3-2.6 2.6-.1 .3 2.4zM463.4 100l-.4-2.6 2.5-.1 .3 2.6z"/>
<path fill="#3a2626" stroke="#3a2626" d="M461 100.1l-.3-2.8 2.3 .1 .4 2.6zM458.8 100l-.3-3 2.2 .3 .3 2.8z"/>
<path fill="#442d2d" stroke="#442d2d" d="M456.8 99.8l-.4-3.1 2.1 .3 .3 3z"/>
<path fill="#4e3333" stroke="#4e3333" d="M454.8 99.6l-.4-3.4 2 .5 .4 3.1z"/>
<path fill="#563838" stroke="#563838" d="M453 99.1l-.4-3.5 1.8 .6 .4 3.4z"/>
<path fill="#613f3f" stroke="#613f3f" d="M451.3 98.6l-.4-3.7 1.7 .7 .4 3.5z"/>
<path fill="#6e4848" stroke="#6e4848" d="M449.7 97.8l-.3-3.9 1.5 1 .4 3.7z"/>
<path fill="#794f4f" stroke="#794f4f" d="M448.3 96.9l-.4-4.1 1.5 1.1 .3 3.9z"/>
<path fill="#865858" stroke="#865858" d="M446.9 95.8l-.3-4.3 1.3 1.3 .4 4.1z"/>
<path fill="#956161" stroke="#956161" d="M445.7 94.5l-.4-4.5 1.3 1.5 .3 4.3z"/>
<path fill="#a26a6a" stroke="#a26a6a" d="M444.6 92.9l-.4-4.7 1.1 1.8 .4 4.5z"/>
<path fill="#b17474" stroke="#b17474" d="M443.6 91l-.4-4.8 1 2 .4 4.7z"/>
<path fill="#be7c7c" stroke="#be7c7c" d="M442.7 88.9l-.4-4.9 .9 2.2 .4 4.8z"/>
<path fill="#c78f86" stroke="#c78f86" d="M441.8 86.5l-.3-4.9 .8 2.4 .4 4.9z"/>
<path fill="#cea591" stroke="#cea591" d="M441.1 83.7l-.3-4.8 .7 2.7 .3 4.9z"/>
<path fill="#d5b89a" stroke="#d5b89a" d="M440.5 80.7l-.4-4.6 .7 2.8 .3 4.8z"/>
<path fill="#ddcba4" stroke="#ddcba4" d="M440 77.5l-.4-4.4 .5 3 .4 4.6z"/>
<path fill="#e4dcae" stroke="#e4dcae" d="M439.5 74.1l-.3-4 .4 3 .4 4.4z"/>
<path fill="#e9e9b6" stroke="#e9e9b6" d="M439.2 70.7l-.4-3.5 .4 2.9 .3 4z"/>
<path fill="#ececc1" stroke="#ececc1" d="M438.9 67.5l-.4-3 .3 2.7 .4 3.5z"/>
<path fill="#ededc6" stroke="#ededc6" d="M438.7 64.7l-.4-2.5 .2 2.3 .4 3z"/>
<path fill="#efefca" stroke="#efefca" d="M438.5 62.4l-.4-2 .2 1.8 .4 2.5zM438.4 60.8l-.3-1.6 0 1.2 .4 2z"/>
<path fill="#efefcc" stroke="#efefcc" d="M438.4 60l-.4-1.5 .1 .7 .3 1.6zM438.4 59.8l-.4-1.4 0 .1 .4 1.5z"/>
<path fill="#3a2626" stroke="#3a2626" d="M511.3 92.2l-.3-1 4.6-1 .3 .9zM507 93.3l-.3-1 4.3-1.1 .3 1zM502.7 94.3l-.3-1 4.3-1 .3 1zM498.6 95.3l-.3-1.1 4.1-.9 .3 1zM494.7 96.2l-.3-1.2 3.9-.8 .3 1.1zM491 97.1l-.3-1.3 3.7-.8 .3 1.2z"/>
<path fill="#342222" stroke="#342222" d="M487.3 97.9l-.3-1.3 3.7-.8 .3 1.3zM483.9 98.6l-.3-1.3 3.4-.7 .3 1.3zM480.6 99.3l-.3-1.4 3.3-.6 .3 1.3z"/>
<path fill="#2d1d1d" stroke="#2d1d1d" d="M477.4 100l-.3-1.6 3.2-.5 .3 1.4zM474.4 100.5l-.3-1.6 3-.5 .3 1.6z"/>
<path fill="#251818" stroke="#251818" d="M471.5 101l-.3-1.7 2.9-.4 .3 1.6z"/>
<path fill="#2d1d1d" stroke="#2d1d1d" d="M468.7 101.4l-.3-1.8 2.8-.3 .3 1.7zM466.1 101.8l-.3-1.9 2.6-.3 .3 1.8zM463.7 102.1l-.3-2.1 2.4-.1 .3 1.9zM461.3 102.2l-.3-2.1 2.4-.1 .3 2.1z"/>
<path fill="#342222" stroke="#342222" d="M459.1 102.3l-.3-2.3 2.2 .1 .3 2.1zM457.1 102.3l-.3-2.5 2 .2 .3 2.3zM455.1 102.2l-.3-2.6 2 .2 .3 2.5z"/>
<path fill="#3a2626" stroke="#3a2626" d="M453.3 102l-.3-2.9 1.8 .5 .3 2.6z"/>
<path fill="#3f2929" stroke="#3f2929" d="M451.6 101.6l-.3-3 1.7 .5 .3 2.9z"/>
<path fill="#493030" stroke="#493030" d="M450 101.1l-.3-3.3 1.6 .8 .3 3z"/>
<path fill="#563838" stroke="#563838" d="M448.6 100.4l-.3-3.5 1.4 .9 .3 3.3z"/>
<path fill="#644242" stroke="#644242" d="M447.2 99.5l-.3-3.7 1.4 1.1 .3 3.5z"/>
<path fill="#744c4c" stroke="#744c4c" d="M446 98.4l-.3-3.9 1.2 1.3 .3 3.7z"/>
<path fill="#815555" stroke="#815555" d="M444.9 97l-.3-4.1 1.1 1.6 .3 3.9z"/>
<path fill="#926060" stroke="#926060" d="M443.9 95.4l-.3-4.4 1 1.9 .3 4.1z"/>
<path fill="#a26a6a" stroke="#a26a6a" d="M443 93.5l-.3-4.6 .9 2.1 .3 4.4z"/>
<path fill="#b17474" stroke="#b17474" d="M442.1 91.2l-.3-4.7 .9 2.4 .3 4.6z"/>
<path fill="#c38080" stroke="#c38080" d="M441.4 88.5l-.3-4.8 .7 2.8 .3 4.7z"/>
<path fill="#ca988b" stroke="#ca988b" d="M440.8 85.5l-.3-4.8 .6 3 .3 4.8z"/>
<path fill="#d2af96" stroke="#d2af96" d="M440.3 82.1l-.3-4.6 .5 3.2 .3 4.8z"/>
<path fill="#dac4a1" stroke="#dac4a1" d="M439.8 78.5l-.3-4.4 .5 3.4 .3 4.6z"/>
<path fill="#e2d9ac" stroke="#e2d9ac" d="M439.5 74.7l-.3-4 .3 3.4 .3 4.4z"/>
<path fill="#e9e8b4" stroke="#e9e8b4" d="M439.2 71l-.3-3.5 .3 3.2 .3 4z"/>
<path fill="#ececc1" stroke="#ececc1" d="M439 67.6l-.3-2.9 .2 2.8 .3 3.5z"/>
<path fill="#ededc6" stroke="#ededc6" d="M438.8 64.8l-.3-2.4 .2 2.3 .3 2.9z"/>
<path fill="#eeeec8" stroke="#eeeec8" d="M438.7 62.8l-.3-2 .1 1.6 .3 2.4z"/>
<path fill="#efefca" stroke="#efefca" d="M438.7 61.7l-.3-1.7 0 .8 .3 2z"/>
<path fill="#efefcc" stroke="#efefcc" d="M438.7 61.5l-.3-1.7 0 .2 .3 1.7z"/>
<path fill="#342222" stroke="#342222" d="M511.6 92.9l-.3-.7 4.6-1.1 .2 .6zM507.2 94l-.2-.7 4.3-1.1 .3 .7zM503 95.1l-.3-.8 4.3-1 .2 .7zM498.9 96.1l-.3-.8 4.1-1 .3 .8zM495 97l-.3-.8 3.9-.9 .3 .8z"/>
<path fill="#2d1d1d" stroke="#2d1d1d" d="M491.2 97.9l-.2-.8 3.7-.9 .3 .8zM487.6 98.8l-.3-.9 3.7-.8 .2 .8zM484.1 99.6l-.2-1 3.4-.7 .3 .9zM480.8 100.3l-.2-1 3.3-.7 .2 1z"/>
<path fill="#251818" stroke="#251818" d="M477.6 101l-.2-1 3.2-.7 .2 1zM474.6 101.6l-.2-1.1 3-.5 .2 1zM471.7 102.2l-.2-1.2 2.9-.5 .2 1.1zM469 102.7l-.3-1.3 2.8-.4 .2 1.2zM466.4 103.1l-.3-1.3 2.6-.4 .3 1.3zM463.9 103.5l-.2-1.4 2.4-.3 .3 1.3zM461.6 103.8l-.3-1.6 2.4-.1 .2 1.4z"/>
<path fill="#2d1d1d" stroke="#2d1d1d" d="M459.4 104l-.3-1.7 2.2-.1 .3 1.6zM457.3 104.1l-.2-1.8 2 0 .3 1.7zM455.3 104.1l-.2-1.9 2 .1 .2 1.8z"/>
<path fill="#342222" stroke="#342222" d="M453.5 104l-.2-2 1.8 .2 .2 1.9zM451.8 103.8l-.2-2.2 1.7 .4 .2 2zM450.3 103.5l-.3-2.4 1.6 .5 .2 2.2z"/>
<path fill="#3a2626" stroke="#3a2626" d="M448.8 103l-.2-2.6 1.4 .7 .3 2.4z"/>
<path fill="#442d2d" stroke="#442d2d" d="M447.5 102.3l-.3-2.8 1.4 .9 .2 2.6z"/>
<path fill="#4e3333" stroke="#4e3333" d="M446.2 101.4l-.2-3 1.2 1.1 .3 2.8z"/>
<path fill="#5d3d3d" stroke="#5d3d3d" d="M445.1 100.3l-.2-3.3 1.1 1.4 .2 3z"/>
<path fill="#714a4a" stroke="#714a4a" d="M444.1 99l-.2-3.6 1 1.6 .2 3.3z"/>
<path fill="#845656" stroke="#845656" d="M443.2 97.3l-.2-3.8 .9 1.9 .2 3.6z"/>
<path fill="#956161" stroke="#956161" d="M442.4 95.2l-.3-4 .9 2.3 .2 3.8z"/>
<path fill="#a86e6e" stroke="#a86e6e" d="M441.7 92.7l-.3-4.2 .7 2.7 .3 4z"/>
<path fill="#bb7a7a" stroke="#bb7a7a" d="M441 89.8l-.2-4.3 .6 3 .3 4.2z"/>
<path fill="#c78f86" stroke="#c78f86" d="M440.5 86.5l-.2-4.4 .5 3.4 .2 4.3z"/>
<path fill="#d0ab94" stroke="#d0ab94" d="M440.1 82.7l-.3-4.2 .5 3.6 .2 4.4z"/>
<path fill="#d9c3a0" stroke="#d9c3a0" d="M439.7 78.7l-.2-4 .3 3.8 .3 4.2z"/>
<path fill="#e2d9ac" stroke="#e2d9ac" d="M439.4 74.5l-.2-3.5 .3 3.7 .2 4z"/>
<path fill="#e9e9b6" stroke="#e9e9b6" d="M439.2 70.6l-.2-3 .2 3.4 .2 3.5z"/>
<path fill="#ededc3" stroke="#ededc3" d="M439 67.3l-.2-2.5 .2 2.8 .2 3z"/>
<path fill="#ededc6" stroke="#ededc6" d="M439 64.9l-.3-2.1 .1 2 .2 2.5z"/>
<path fill="#eeeec8" stroke="#eeeec8" d="M438.9 63.7l-.2-2 0 1.1 .3 2.1z"/>
<path fill="#efefca" stroke="#efefca" d="M438.9 63.4l-.2-1.9 0 .2 .2 2z"/>
<path fill="#2d1d1d" stroke="#2d1d1d" d="M511.8 93.4l-.2-.5 4.5-1.2 .2 .5zM507.4 94.5l-.2-.5 4.4-1.1 .2 .5zM503.1 95.6l-.1-.5 4.2-1.1 .2 .5zM499.1 96.6l-.2-.5 4.1-1 .1 .5zM495.1 97.6l-.1-.6 3.9-.9 .2 .5z"/>
<path fill="#251818" stroke="#251818" d="M491.4 98.5l-.2-.6 3.8-.9 .1 .6zM487.7 99.4l-.1-.6 3.6-.9 .2 .6zM484.3 100.2l-.2-.6 3.5-.8 .1 .6zM481 101l-.2-.7 3.3-.7 .2 .6zM477.8 101.8l-.2-.8 3.2-.7 .2 .7z"/>
<path fill="#231717" stroke="#231717" d="M474.8 102.4l-.2-.8 3-.6 .2 .8zM471.9 103l-.2-.8 2.9-.6 .2 .8zM469.1 103.6l-.1-.9 2.7-.5 .2 .8z"/>
<path fill="#251818" stroke="#251818" d="M466.5 104.1l-.1-1 2.6-.4 .1 .9zM464.1 104.5l-.2-1 2.5-.4 .1 1zM461.7 104.9l-.1-1.1 2.3-.3 .2 1zM459.5 105.2l-.1-1.2 2.2-.2 .1 1.1zM457.5 105.4l-.2-1.3 2.1-.1 .1 1.2zM455.5 105.5l-.2-1.4 2 0 .2 1.3z"/>
<path fill="#2d1d1d" stroke="#2d1d1d" d="M453.7 105.6l-.2-1.6 1.8 .1 .2 1.4zM452 105.5l-.2-1.7 1.7 .2 .2 1.6zM450.4 105.3l-.1-1.8 1.5 .3 .2 1.7z"/>
<path fill="#342222" stroke="#342222" d="M449 105l-.2-2 1.5 .5 .1 1.8zM447.6 104.5l-.1-2.2 1.3 .7 .2 2z"/>
<path fill="#3a2626" stroke="#3a2626" d="M446.4 103.8l-.2-2.4 1.3 .9 .1 2.2z"/>
<path fill="#442d2d" stroke="#442d2d" d="M445.3 102.9l-.2-2.6 1.1 1.1 .2 2.4z"/>
<path fill="#523636" stroke="#523636" d="M444.3 101.8l-.2-2.8 1 1.3 .2 2.6z"/>
<path fill="#644242" stroke="#644242" d="M443.4 100.4l-.2-3.1 .9 1.7 .2 2.8z"/>
<path fill="#774e4e" stroke="#774e4e" d="M442.6 98.6l-.2-3.4 .8 2.1 .2 3.1z"/>
<path fill="#8b5b5b" stroke="#8b5b5b" d="M441.8 96.3l-.1-3.6 .7 2.5 .2 3.4z"/>
<path fill="#a26a6a" stroke="#a26a6a" d="M441.2 93.7l-.2-3.9 .7 2.9 .1 3.6z"/>
<path fill="#b77878" stroke="#b77878" d="M440.7 90.5l-.2-4 .5 3.3 .2 3.9z"/>
<path fill="#c78d85" stroke="#c78d85" d="M440.2 86.7l-.1-4 .4 3.8 .2 4z"/>
<path fill="#d0ab94" stroke="#d0ab94" d="M439.9 82.6l-.2-3.9 .4 4 .1 4z"/>
<path fill="#dac4a1" stroke="#dac4a1" d="M439.6 78.1l-.2-3.6 .3 4.2 .2 3.9z"/>
<path fill="#e4dcae" stroke="#e4dcae" d="M439.4 73.8l-.2-3.2 .2 3.9 .2 3.6z"/>
<path fill="#eaeaba" stroke="#eaeaba" d="M439.2 70.1l-.2-2.8 .2 3.3 .2 3.2z"/>
<path fill="#ededc3" stroke="#ededc3" d="M439.1 67.3l-.1-2.4 0 2.4 .2 2.8z"/>
<path fill="#ededc6" stroke="#ededc6" d="M439.1 65.8l-.2-2.1 .1 1.2 .1 2.4z"/>
<path fill="#eeeec8" stroke="#eeeec8" d="M439.1 65.4l-.2-2 0 .3 .2 2.1z"/>
<path fill="#251818" stroke="#251818" d="M511.9 93.7l-.1-.3 4.5-1.2 .1 .3zM507.5 94.8l-.1-.3 4.4-1.1 .1 .3zM503.2 95.9l-.1-.3 4.3-1.1 .1 .3zM499.2 96.9l-.1-.3 4-1 .1 .3zM495.2 97.9l-.1-.3 4-1 .1 .3zM491.5 98.9l-.1-.4 3.7-.9 .1 .3zM487.9 99.8l-.2-.4 3.7-.9 .1 .4zM484.4 100.7l-.1-.5 3.4-.8 .2 .4z"/>
<path fill="#231717" stroke="#231717" d="M481.1 101.5l-.1-.5 3.3-.8 .1 .5zM477.9 102.2l-.1-.4 3.2-.8 .1 .5zM474.9 102.9l-.1-.5 3-.6 .1 .4zM472 103.6l-.1-.6 2.9-.6 .1 .5zM469.3 104.2l-.2-.6 2.8-.6 .1 .6zM466.7 104.7l-.2-.6 2.6-.5 .2 .6zM464.2 105.2l-.1-.7 2.4-.4 .2 .6zM461.9 105.6l-.2-.7 2.4-.4 .1 .7z"/>
<path fill="#251818" stroke="#251818" d="M459.6 105.9l-.1-.7 2.2-.3 .2 .7zM457.6 106.2l-.1-.8 2-.2 .1 .7zM455.6 106.4l-.1-.9 2-.1 .1 .8zM453.8 106.5l-.1-.9 1.8-.1 .1 .9zM452.1 106.6l-.1-1.1 1.7 .1 .1 .9z"/>
<path fill="#2d1d1d" stroke="#2d1d1d" d="M450.5 106.5l-.1-1.2 1.6 .2 .1 1.1zM449.1 106.3l-.1-1.3 1.4 .3 .1 1.2zM447.7 105.9l-.1-1.4 1.4 .5 .1 1.3z"/>
<path fill="#342222" stroke="#342222" d="M446.5 105.4l-.1-1.6 1.2 .7 .1 1.4zM445.4 104.7l-.1-1.8 1.1 .9 .1 1.6z"/>
<path fill="#3a2626" stroke="#3a2626" d="M444.4 103.7l-.1-1.9 1 1.1 .1 1.8z"/>
<path fill="#493030" stroke="#493030" d="M443.5 102.5l-.1-2.1 .9 1.4 .1 1.9z"/>
<path fill="#5a3b3b" stroke="#5a3b3b" d="M442.7 100.9l-.1-2.3 .8 1.8 .1 2.1z"/>
<path fill="#744c4c" stroke="#744c4c" d="M442 98.9l-.2-2.6 .8 2.3 .1 2.3z"/>
<path fill="#895a5a" stroke="#895a5a" d="M441.3 96.5l-.1-2.8 .6 2.6 .2 2.6z"/>
<path fill="#9f6868" stroke="#9f6868" d="M440.8 93.5l-.1-3 .5 3.2 .1 2.8z"/>
<path fill="#b77878" stroke="#b77878" d="M440.4 89.9l-.2-3.2 .5 3.8 .1 3z"/>
<path fill="#c89187" stroke="#c89187" d="M440 85.7l-.1-3.1 .3 4.1 .2 3.2z"/>
<path fill="#d3b197" stroke="#d3b197" d="M439.7 81.2l-.1-3.1 .3 4.5 .1 3.1z"/>
<path fill="#ddcba4" stroke="#ddcba4" d="M439.5 76.6l-.1-2.8 .2 4.3 .1 3.1z"/>
<path fill="#e6e2b1" stroke="#e6e2b1" d="M439.3 72.5l-.1-2.4 .2 3.7 .1 2.8z"/>
<path fill="#ebebbd" stroke="#ebebbd" d="M439.2 69.4l-.1-2.1 .1 2.8 .1 2.4z"/>
<path fill="#ededc3" stroke="#ededc3" d="M439.2 67.7l-.1-1.9 0 1.5 .1 2.1z"/>
<path fill="#ededc6" stroke="#ededc6" d="M439.2 67.3l-.1-1.9 0 .4 .1 1.9z"/>
<path fill="#251818" stroke="#251818" d="M511.9 93.8l0-.1 4.5-1.2 .1 .1zM507.5 94.9l0-.1 4.4-1.1 0 .1zM503.3 96.1l-.1-.2 4.3-1.1 0 .1zM499.2 97.1l0-.2 4-1 .1 .2zM495.3 98.1l-.1-.2 4-1 0 .2z"/>
<path fill="#231717" stroke="#231717" d="M491.5 99.1l0-.2 3.7-1 .1 .2zM487.9 100l0-.2 3.6-.9 0 .2zM484.5 100.9l-.1-.2 3.5-.9 0 .2zM481.1 101.7l0-.2 3.3-.8 .1 .2zM478 102.4l-.1-.2 3.2-.7 0 .2zM474.9 103.2l0-.3 3-.7 .1 .2zM472.1 103.8l-.1-.2 2.9-.7 0 .3zM469.3 104.4l0-.2 2.7-.6 .1 .2zM466.7 105l0-.3 2.6-.5 0 .2zM464.2 105.5l0-.3 2.5-.5 0 .3zM461.9 105.9l0-.3 2.3-.4 0 .3zM459.7 106.3l-.1-.4 2.3-.3 0 .3zM457.6 106.6l0-.4 2-.3 .1 .4z"/>
<path fill="#251818" stroke="#251818" d="M455.7 106.9l-.1-.5 2-.2 0 .4zM453.9 107l-.1-.5 1.8-.1 .1 .5zM452.2 107.1l-.1-.5 1.7-.1 .1 .5zM450.6 107.1l-.1-.6 1.6 .1 .1 .5zM449.2 106.9l-.1-.6 1.4 .2 .1 .6z"/>
<path fill="#2d1d1d" stroke="#2d1d1d" d="M447.8 106.7l-.1-.8 1.4 .4 .1 .6zM446.6 106.2l-.1-.8 1.2 .5 .1 .8z"/>
<path fill="#342222" stroke="#342222" d="M445.5 105.6l-.1-.9 1.1 .7 .1 .8zM444.5 104.8l-.1-1.1 1 1 .1 .9z"/>
<path fill="#3a2626" stroke="#3a2626" d="M443.5 103.6l0-1.1 .9 1.2 .1 1.1z"/>
<path fill="#442d2d" stroke="#442d2d" d="M442.7 102.2l0-1.3 .8 1.6 0 1.1z"/>
<path fill="#5d3d3d" stroke="#5d3d3d" d="M442 100.4l0-1.5 .7 2 0 1.3z"/>
<path fill="#774e4e" stroke="#774e4e" d="M441.4 98l-.1-1.5 .7 2.4 0 1.5z"/>
<path fill="#905e5e" stroke="#905e5e" d="M440.9 95.2l-.1-1.7 .5 3 .1 1.5z"/>
<path fill="#a86e6e" stroke="#a86e6e" d="M440.4 91.7l0-1.8 .4 3.6 .1 1.7z"/>
<path fill="#c27f7f" stroke="#c27f7f" d="M440.1 87.6l-.1-1.9 .4 4.2 0 1.8z"/>
<path fill="#cda18f" stroke="#cda18f" d="M439.8 83l-.1-1.8 .3 4.5 .1 1.9z"/>
<path fill="#d8bf9e" stroke="#d8bf9e" d="M439.6 78.3l-.1-1.7 .2 4.6 .1 1.8z"/>
<path fill="#e2d8ab" stroke="#e2d8ab" d="M439.4 74l-.1-1.5 .2 4.1 .1 1.7z"/>
<path fill="#e9e9b6" stroke="#e9e9b6" d="M439.3 70.7l-.1-1.3 .1 3.1 .1 1.5z"/>
<path fill="#ececc1" stroke="#ececc1" d="M439.3 68.9l-.1-1.2 0 1.7 .1 1.3z"/>
<path fill="#ededc3" stroke="#ededc3" d="M439.2 68.5l0-1.2 0 .4 .1 1.2z"/>
<path fill="#231717" stroke="#231717" d="M512 93.8l-.1 0 4.6-1.2 0 0z"/>
<path fill="#251818" stroke="#251818" d="M507.6 95l-.1-.1 4.4-1.1 .1 0zM503.3 96.1l0 0 4.2-1.2 .1 .1z"/>
<path fill="#231717" stroke="#231717" d="M499.2 97.2l0-.1 4.1-1 0 0zM495.3 98.2l0-.1 3.9-1 0 .1zM491.6 99.1l-.1 0 3.8-1 0 .1zM487.9 100l0 0 3.6-.9 .1 0zM484.5 100.9l0 0 3.4-.9 0 0zM481.2 101.7l-.1 0 3.4-.8 0 0zM478 102.5l0-.1 3.1-.7 .1 0zM475 103.2l-.1 0 3.1-.8 0 .1zM472.1 103.9l0-.1 2.8-.6 .1 0zM469.3 104.5l0-.1 2.8-.6 0 .1zM466.7 105.1l0-.1 2.6-.6 0 .1zM464.3 105.6l-.1-.1 2.5-.5 0 .1zM461.9 106l0-.1 2.3-.4 .1 .1zM459.7 106.4l0-.1 2.2-.4 0 .1zM457.7 106.8l-.1-.2 2.1-.3 0 .1zM455.7 107l0-.1 1.9-.3 .1 .2z"/>
<path fill="#251818" stroke="#251818" d="M453.9 107.2l0-.2 1.8-.1 0 .1zM452.2 107.3l0-.2 1.7-.1 0 .2zM450.6 107.2l0-.1 1.6 0 0 .2zM449.2 107.1l0-.2 1.4 .2 0 .1z"/>
<path fill="#2d1d1d" stroke="#2d1d1d" d="M447.8 106.8l0-.1 1.4 .2 0 .2zM446.6 106.4l0-.2 1.2 .5 0 .1zM445.5 105.8l0-.2 1.1 .6 0 .2z"/>
<path fill="#342222" stroke="#342222" d="M444.5 105l0-.2 1 .8 0 .2z"/>
<path fill="#3a2626" stroke="#3a2626" d="M443.6 103.9l-.1-.3 1 1.2 0 .2z"/>
<path fill="#3f2929" stroke="#3f2929" d="M442.7 102.5l0-.3 .8 1.4 .1 .3z"/>
<path fill="#523636" stroke="#523636" d="M442 100.7l0-.3 .7 1.8 0 .3z"/>
<path fill="#6e4848" stroke="#6e4848" d="M441.4 98.5l0-.5 .6 2.4 0 .3z"/>
<path fill="#865858" stroke="#865858" d="M440.9 95.6l0-.4 .5 2.8 0 .5z"/>
<path fill="#9f6868" stroke="#9f6868" d="M440.4 92.2l0-.5 .5 3.5 0 .4z"/>
<path fill="#bb7a7a" stroke="#bb7a7a" d="M440.1 88.1l0-.5 .3 4.1 0 .5z"/>
<path fill="#ca988b" stroke="#ca988b" d="M439.8 83.5l0-.5 .3 4.6 0 .5z"/>
<path fill="#d5b89a" stroke="#d5b89a" d="M439.6 78.8l0-.5 .2 4.7 0 .5z"/>
<path fill="#dfd1a8" stroke="#dfd1a8" d="M439.4 74.4l0-.4 .2 4.3 0 .5z"/>
<path fill="#e7e5b2" stroke="#e7e5b2" d="M439.3 71.1l0-.4 .1 3.3 0 .4z"/>
<path fill="#ececbf" stroke="#ececbf" d="M439.3 69.3l0-.4 0 1.8 0 .4z"/>
<path fill="#ececc1" stroke="#ececc1" d="M439.3 68.8l-.1-.3 .1 .4 0 .4z"/>
</g>
<path d="M380.3 87L380.3 27.3" stroke="#333" stroke-width="0.7" fill="none"/>
<path d="M380.3 87L439.3 114.5" stroke="#333" stroke-width="0.7" fill="none"/>
<path d="M439.3 114.5L516.8 93.4" stroke="#333" stroke-width="0.7" fill="none"/>
<path d="M380.3 87L381.8 86.6" stroke="#333" stroke-width="0.6" fill="none"/>
<path d="M380.3 57.1L381.8 56.7" stroke="#333" stroke-width="0.6" fill="none"/>
<path d="M380.3 27.3L381.8 26.9" stroke="#333" stroke-width="0.6" fill="none"/>
<path d="M439.3 114.5L440.8 114.1" stroke="#333" stroke-width="0.6" fill="none"/>
<path d="M409.8 100.8L411.3 100.3" stroke="#333" stroke-width="0.6" fill="none"/>
<path d="M380.3 87L381.8 86.6" stroke="#333" stroke-width="0.6" fill="none"/>
<path d="M439.3 114.5L437.8 113.8" stroke="#333" stroke-width="0.6" fill="none"/>
<path d="M465.1 107.5L463.7 106.8" stroke="#333" stroke-width="0.6" fill="none"/>
<path d="M491 100.4L489.5 99.8" stroke="#333" stroke-width="0.6" fill="none"/>
<path d="M516.8 93.4L515.3 92.7" stroke="#333" stroke-width="0.6" fill="none"/>
<text x="377.7" y="88.9" font-size="7" text-anchor="end" >0</text>
<text x="377.7" y="59" font-size="7" text-anchor="end" >0.5</text>
<text x="377.7" y="29.2" font-size="7" text-anchor="end" >1</text>
<text x="377.8" y="94.6" font-size="7" text-anchor="end" >2</text>
<text x="407.3" y="108.3" font-size="7" text-anchor="end" >1</text>
<text x="436.8" y="122.1" font-size="7" text-anchor="end" >0</text>
<text x="441.6" y="122.5" font-size="7" text-anchor="start" >0</text>
<text x="467.4" y="115.5" font-size="7" text-anchor="start" >5</text>
<text x="493.3" y="108.4" font-size="7" text-anchor="start" >10</text>
<text x="519.1" y="101.4" font-size="7" text-anchor="start" >15</text>
<text x="356" y="25.1" font-size="14" text-anchor="start" class="b">(c)</text>
<text transform="translate(362.5 62.5) rotate(-90)" class="c" font-size="13.5" text-anchor="middle"><tspan font-style="italic">P</tspan><tspan font-size="8" dy="2.5">d, n</tspan></text>
<text transform="translate(394.7 115.8) rotate(25)" class="c" font-size="13.5" text-anchor="middle" font-style="italic">N<tspan font-size="7" dy="3.5">s</tspan></text>
<g transform="translate(489.2 122.3) rotate(-15.2)"><text x="-25.4" y="0.2" font-size="14" font-style="italic" class="c" transform="skewX(-13)">f</text><text x="-20.9" y="2.5" font-size="8" class="c">n</text><text x="-10.2" y="0" font-size="13.5" class="b">(MHz)</text></g>
<defs><linearGradient id="cb" x1="0" y1="1" x2="0" y2="0">
<stop offset="0%" stop-color="#231717"/>
<stop offset="3.1%" stop-color="#342222"/>
<stop offset="6.2%" stop-color="#493030"/>
<stop offset="9.4%" stop-color="#593a3a"/>
<stop offset="12.5%" stop-color="#674343"/>
<stop offset="15.6%" stop-color="#734b4b"/>
<stop offset="18.8%" stop-color="#7e5353"/>
<stop offset="21.9%" stop-color="#885959"/>
<stop offset="25%" stop-color="#925f5f"/>
<stop offset="28.1%" stop-color="#9b6565"/>
<stop offset="31.2%" stop-color="#a36b6b"/>
<stop offset="34.4%" stop-color="#ab7070"/>
<stop offset="37.5%" stop-color="#b27575"/>
<stop offset="40.6%" stop-color="#ba7a7a"/>
<stop offset="43.8%" stop-color="#c17e7e"/>
<stop offset="46.9%" stop-color="#c58783"/>
<stop offset="50%" stop-color="#c89087"/>
<stop offset="53.1%" stop-color="#cb998b"/>
<stop offset="56.2%" stop-color="#cda28f"/>
<stop offset="59.4%" stop-color="#d0aa93"/>
<stop offset="62.5%" stop-color="#d3b197"/>
<stop offset="65.6%" stop-color="#d5b99b"/>
<stop offset="68.8%" stop-color="#d8c09e"/>
<stop offset="71.9%" stop-color="#dbc6a2"/>
<stop offset="75%" stop-color="#ddcda5"/>
<stop offset="78.1%" stop-color="#e0d3a9"/>
<stop offset="81.2%" stop-color="#e2daac"/>
<stop offset="84.4%" stop-color="#e5e0af"/>
<stop offset="87.5%" stop-color="#e7e6b2"/>
<stop offset="90.6%" stop-color="#eaeab8"/>
<stop offset="93.8%" stop-color="#ececc1"/>
<stop offset="96.9%" stop-color="#efefca"/>
<stop offset="100%" stop-color="#f1f1d2"/>
</linearGradient></defs>
<rect x="528.6" y="6.5" width="6.9" height="108.2" fill="url(#cb)" stroke="#b0b0b0" stroke-width="0.4"/>
<text x="538.3" y="117.1" font-size="7">0</text>
<text x="538.3" y="63" font-size="7">0.5</text>
<text x="538.3" y="8.9" font-size="7">1</text>
<g fill="none" stroke-width="1.3" stroke-linejoin="round">
<path d="M30.9 237.37 30.9 237.37 30.9 237.37 30.9 237.38 30.9 237.38 30.9 237.39 30.9 237.39 31 237.40 31 237.41 31 237.41 31 237.42 31.1 237.43 31.1 237.43 31.1 237.44 31.1 237.45 31.2 237.46 31.2 237.46 31.2 237.47 31.2 237.48 31.3 237.49 31.3 237.50 31.3 237.51 31.4 237.52 31.4 237.53 31.4 237.54 31.5 237.55 31.5 237.56 31.6 237.57 31.6 237.58 31.7 237.59 31.7 237.61 31.7 237.62 31.8 237.63 31.8 237.65 31.9 237.66 32 237.67 32 237.69 32.1 237.70 32.1 237.72 32.2 237.74 32.3 237.75 32.3 237.77 32.4 237.79 32.5 237.81 32.5 237.83 32.6 237.84 32.7 237.86 32.8 237.88 32.9 237.91 33 237.93 33.1 237.95 33.2 237.97 33.3 237.99 33.4 238.02 33.5 238.04 33.6 238.07 33.7 238.09 33.8 238.12 33.9 238.15 34.1 238.17 34.2 238.20 34.3 238.23 34.5 238.26 34.6 238.29 34.8 238.32 35 238.35 35.1 238.39 35.3 238.42 35.5 238.45 35.7 238.49 35.8 238.52 36 238.56 36.3 238.59 36.5 238.63 36.7 238.67 36.9 238.71 37.2 238.74 37.4 238.78 37.7 238.82 37.9 238.86 38.2 238.91 38.5 238.95 38.8 238.99 39.1 239.03 39.4 239.08 39.7 239.12 40.1 239.17 40.4 239.21 40.8 239.26 41.2 239.30 41.6 239.35 42 239.40 42.4 239.45 42.8 239.49 43.3 239.54 43.8 239.59 44.2 239.64 44.7 239.69 45.3 239.74 45.8 239.79 46.4 239.84 47 239.89 47.6 239.94 48.2 240.00 48.8 240.05 49.5 240.10 50.2 240.15 50.9 240.20 51.7 240.26 52.5 240.31 53.3 240.36 54.1 240.41 55 240.46 55.9 240.52 56.8 240.57 57.8 240.62 58.8 240.67 59.8 240.73 60.9 240.78 62 240.83 63.1 240.88 64.3 240.93 65.6 240.98 66.9 241.03 68.2 241.08 69.6 241.13 71 241.19 72.5 241.24 74 241.28 75.6 241.33 77.3 241.38 79 241.43 80.8 241.48 82.6 241.53 84.5 241.58 86.5 241.62 88.5 241.67 90.7 241.72 92.9 241.76 95.1 241.81 97.5 241.85 99.9 241.90 102.5 241.94 105.1 241.98 107.9 242.03 110.7 242.07 113.6 242.11 116.7 242.16 119.8 242.20 123.1 242.24 126.5 242.28 130 242.32 133.6 242.36 137.4 242.40 141.3 242.43 145.3 242.47 149.5 242.51 153.9 242.55 158.4 242.58 163.1 242.62 167.9 242.66" stroke="#0072bd"/>
<path d="M30.9 220.90 30.9 220.90 30.9 220.90 30.9 220.90 30.9 220.90 30.9 220.90 30.9 220.91 31 220.91 31 220.91 31 220.91 31 220.91 31.1 220.92 31.1 220.92 31.1 220.92 31.1 220.92 31.2 220.93 31.2 220.93 31.2 220.93 31.2 220.94 31.3 220.94 31.3 220.94 31.3 220.95 31.4 220.95 31.4 220.95 31.4 220.96 31.5 220.96 31.5 220.96 31.6 220.97 31.6 220.97 31.7 220.98 31.7 220.98 31.7 220.98 31.8 220.99 31.8 220.99 31.9 221.00 32 221.01 32 221.01 32.1 221.02 32.1 221.02 32.2 221.03 32.3 221.04 32.3 221.04 32.4 221.05 32.5 221.06 32.5 221.06 32.6 221.07 32.7 221.08 32.8 221.09 32.9 221.10 33 221.10 33.1 221.11 33.2 221.12 33.3 221.13 33.4 221.14 33.5 221.15 33.6 221.16 33.7 221.17 33.8 221.19 33.9 221.20 34.1 221.21 34.2 221.22 34.3 221.24 34.5 221.25 34.6 221.26 34.8 221.28 35 221.29 35.1 221.31 35.3 221.33 35.5 221.34 35.7 221.36 35.8 221.38 36 221.40 36.3 221.42 36.5 221.44 36.7 221.46 36.9 221.48 37.2 221.50 37.4 221.52 37.7 221.55 37.9 221.57 38.2 221.59 38.5 221.62 38.8 221.65 39.1 221.67 39.4 221.70 39.7 221.73 40.1 221.76 40.4 221.79 40.8 221.83 41.2 221.86 41.6 221.89 42 221.93 42.4 221.97 42.8 222.00 43.3 222.04 43.8 222.08 44.2 222.13 44.7 222.17 45.3 222.21 45.8 222.26 46.4 222.30 47 222.35 47.6 222.40 48.2 222.45 48.8 222.51 49.5 222.56 50.2 222.62 50.9 222.67 51.7 222.73 52.5 222.79 53.3 222.85 54.1 222.92 55 222.98 55.9 223.05 56.8 223.12 57.8 223.19 58.8 223.27 59.8 223.34 60.9 223.42 62 223.50 63.1 223.58 64.3 223.66 65.6 223.74 66.9 223.83 68.2 223.92 69.6 224.01 71 224.10 72.5 224.20 74 224.30 75.6 224.39 77.3 224.50 79 224.60 80.8 224.70 82.6 224.81 84.5 224.92 86.5 225.03 88.5 225.15 90.7 225.26 92.9 225.38 95.1 225.50 97.5 225.63 99.9 225.75 102.5 225.88 105.1 226.01 107.9 226.14 110.7 226.27 113.6 226.40 116.7 226.54 119.8 226.68 123.1 226.82 126.5 226.96 130 227.10 133.6 227.25 137.4 227.39 141.3 227.54 145.3 227.69 149.5 227.84 153.9 227.99 158.4 228.15 163.1 228.30 167.9 228.46" stroke="#d95319"/>
<path d="M30.9 210.96 30.9 210.96 30.9 210.97 30.9 210.97 30.9 210.97 30.9 210.97 30.9 210.97 31 210.97 31 210.97 31 210.98 31 210.98 31.1 210.98 31.1 210.98 31.1 210.98 31.1 210.98 31.2 210.99 31.2 210.99 31.2 210.99 31.2 210.99 31.3 210.99 31.3 211.00 31.3 211.00 31.4 211.00 31.4 211.00 31.4 211.01 31.5 211.01 31.5 211.01 31.6 211.01 31.6 211.02 31.7 211.02 31.7 211.02 31.7 211.03 31.8 211.03 31.8 211.03 31.9 211.04 32 211.04 32 211.05 32.1 211.05 32.1 211.05 32.2 211.06 32.3 211.06 32.3 211.07 32.4 211.07 32.5 211.08 32.5 211.08 32.6 211.09 32.7 211.09 32.8 211.10 32.9 211.11 33 211.11 33.1 211.12 33.2 211.13 33.3 211.13 33.4 211.14 33.5 211.15 33.6 211.15 33.7 211.16 33.8 211.17 33.9 211.18 34.1 211.19 34.2 211.20 34.3 211.21 34.5 211.22 34.6 211.23 34.8 211.24 35 211.25 35.1 211.26 35.3 211.27 35.5 211.28 35.7 211.30 35.8 211.31 36 211.32 36.3 211.34 36.5 211.35 36.7 211.37 36.9 211.38 37.2 211.40 37.4 211.42 37.7 211.43 37.9 211.45 38.2 211.47 38.5 211.49 38.8 211.51 39.1 211.53 39.4 211.55 39.7 211.57 40.1 211.60 40.4 211.62 40.8 211.64 41.2 211.67 41.6 211.69 42 211.72 42.4 211.75 42.8 211.78 43.3 211.81 43.8 211.84 44.2 211.87 44.7 211.90 45.3 211.94 45.8 211.97 46.4 212.01 47 212.04 47.6 212.08 48.2 212.12 48.8 212.16 49.5 212.21 50.2 212.25 50.9 212.30 51.7 212.34 52.5 212.39 53.3 212.44 54.1 212.49 55 212.55 55.9 212.60 56.8 212.66 57.8 212.71 58.8 212.77 59.8 212.84 60.9 212.90 62 212.97 63.1 213.03 64.3 213.10 65.6 213.17 66.9 213.25 68.2 213.32 69.6 213.40 71 213.48 72.5 213.56 74 213.65 75.6 213.74 77.3 213.83 79 213.92 80.8 214.01 82.6 214.11 84.5 214.21 86.5 214.31 88.5 214.42 90.7 214.52 92.9 214.64 95.1 214.75 97.5 214.86 99.9 214.98 102.5 215.11 105.1 215.23 107.9 215.36 110.7 215.49 113.6 215.62 116.7 215.76 119.8 215.90 123.1 216.04 126.5 216.18 130 216.33 133.6 216.48 137.4 216.64 141.3 216.80 145.3 216.96 149.5 217.12 153.9 217.29 158.4 217.46 163.1 217.63 167.9 217.80" stroke="#edb120"/>
<path d="M30.9 191.27 30.9 191.27 30.9 191.27 30.9 191.27 30.9 191.27 30.9 191.27 30.9 191.27 31 191.28 31 191.28 31 191.28 31 191.28 31.1 191.28 31.1 191.28 31.1 191.28 31.1 191.28 31.2 191.28 31.2 191.29 31.2 191.29 31.2 191.29 31.3 191.29 31.3 191.29 31.3 191.29 31.4 191.29 31.4 191.30 31.4 191.30 31.5 191.30 31.5 191.30 31.6 191.30 31.6 191.30 31.7 191.31 31.7 191.31 31.7 191.31 31.8 191.31 31.8 191.31 31.9 191.32 32 191.32 32 191.32 32.1 191.32 32.1 191.33 32.2 191.33 32.3 191.33 32.3 191.34 32.4 191.34 32.5 191.34 32.5 191.35 32.6 191.35 32.7 191.35 32.8 191.36 32.9 191.36 33 191.36 33.1 191.37 33.2 191.37 33.3 191.38 33.4 191.38 33.5 191.39 33.6 191.39 33.7 191.40 33.8 191.40 33.9 191.41 34.1 191.41 34.2 191.42 34.3 191.43 34.5 191.43 34.6 191.44 34.8 191.45 35 191.45 35.1 191.46 35.3 191.47 35.5 191.48 35.7 191.48 35.8 191.49 36 191.50 36.3 191.51 36.5 191.52 36.7 191.53 36.9 191.54 37.2 191.55 37.4 191.56 37.7 191.57 37.9 191.58 38.2 191.60 38.5 191.61 38.8 191.62 39.1 191.63 39.4 191.65 39.7 191.66 40.1 191.68 40.4 191.69 40.8 191.71 41.2 191.72 41.6 191.74 42 191.76 42.4 191.78 42.8 191.80 43.3 191.82 43.8 191.84 44.2 191.86 44.7 191.88 45.3 191.90 45.8 191.93 46.4 191.95 47 191.98 47.6 192.00 48.2 192.03 48.8 192.06 49.5 192.08 50.2 192.11 50.9 192.14 51.7 192.18 52.5 192.21 53.3 192.24 54.1 192.28 55 192.32 55.9 192.35 56.8 192.39 57.8 192.43 58.8 192.47 59.8 192.52 60.9 192.56 62 192.61 63.1 192.66 64.3 192.71 65.6 192.76 66.9 192.81 68.2 192.86 69.6 192.92 71 192.98 72.5 193.04 74 193.10 75.6 193.16 77.3 193.23 79 193.30 80.8 193.37 82.6 193.44 84.5 193.52 86.5 193.59 88.5 193.67 90.7 193.76 92.9 193.84 95.1 193.93 97.5 194.02 99.9 194.11 102.5 194.21 105.1 194.31 107.9 194.41 110.7 194.51 113.6 194.62 116.7 194.73 119.8 194.85 123.1 194.97 126.5 195.09 130 195.21 133.6 195.34 137.4 195.47 141.3 195.61 145.3 195.75 149.5 195.89 153.9 196.04 158.4 196.19 163.1 196.35 167.9 196.51" stroke="#7e2f8e"/>
<path d="M30.9 169.08 30.9 169.08 30.9 169.08 30.9 169.08 30.9 169.08 30.9 169.09 30.9 169.09 31 169.09 31 169.09 31 169.09 31 169.09 31.1 169.09 31.1 169.09 31.1 169.09 31.1 169.09 31.2 169.09 31.2 169.09 31.2 169.09 31.2 169.10 31.3 169.10 31.3 169.10 31.3 169.10 31.4 169.10 31.4 169.10 31.4 169.10 31.5 169.10 31.5 169.10 31.6 169.11 31.6 169.11 31.7 169.11 31.7 169.11 31.7 169.11 31.8 169.11 31.8 169.11 31.9 169.12 32 169.12 32 169.12 32.1 169.12 32.1 169.12 32.2 169.13 32.3 169.13 32.3 169.13 32.4 169.13 32.5 169.13 32.5 169.14 32.6 169.14 32.7 169.14 32.8 169.14 32.9 169.15 33 169.15 33.1 169.15 33.2 169.16 33.3 169.16 33.4 169.16 33.5 169.17 33.6 169.17 33.7 169.17 33.8 169.18 33.9 169.18 34.1 169.18 34.2 169.19 34.3 169.19 34.5 169.20 34.6 169.20 34.8 169.21 35 169.21 35.1 169.22 35.3 169.22 35.5 169.23 35.7 169.23 35.8 169.24 36 169.25 36.3 169.25 36.5 169.26 36.7 169.27 36.9 169.27 37.2 169.28 37.4 169.29 37.7 169.30 37.9 169.31 38.2 169.31 38.5 169.32 38.8 169.33 39.1 169.34 39.4 169.35 39.7 169.36 40.1 169.37 40.4 169.38 40.8 169.40 41.2 169.41 41.6 169.42 42 169.43 42.4 169.45 42.8 169.46 43.3 169.47 43.8 169.49 44.2 169.50 44.7 169.52 45.3 169.53 45.8 169.55 46.4 169.57 47 169.59 47.6 169.61 48.2 169.62 48.8 169.65 49.5 169.67 50.2 169.69 50.9 169.71 51.7 169.73 52.5 169.76 53.3 169.78 54.1 169.81 55 169.83 55.9 169.86 56.8 169.89 57.8 169.92 58.8 169.95 59.8 169.98 60.9 170.01 62 170.05 63.1 170.08 64.3 170.12 65.6 170.16 66.9 170.20 68.2 170.24 69.6 170.28 71 170.32 72.5 170.36 74 170.41 75.6 170.46 77.3 170.51 79 170.56 80.8 170.61 82.6 170.67 84.5 170.72 86.5 170.78 88.5 170.84 90.7 170.90 92.9 170.97 95.1 171.04 97.5 171.10 99.9 171.18 102.5 171.25 105.1 171.33 107.9 171.40 110.7 171.49 113.6 171.57 116.7 171.66 119.8 171.75 123.1 171.84 126.5 171.93 130 172.03 133.6 172.13 137.4 172.24 141.3 172.35 145.3 172.46 149.5 172.57 153.9 172.69 158.4 172.82 163.1 172.94 167.9 173.07" stroke="#77ac30"/>
</g>
<rect x="30.4" y="137.7" width="137.5" height="107.1" fill="none" stroke="#333" stroke-width="0.8"/>
<path d="M76.2 244.8v-1.6M76.2 137.7v1.6M122.1 244.8v-1.6M122.1 137.7v1.6M30.4 218h1.6M167.9 218h-1.6M30.4 191.2h1.6M167.9 191.2h-1.6M30.4 164.5h1.6M167.9 164.5h-1.6" stroke="#333" stroke-width="0.6" fill="none"/>
<text x="30.4" y="254.6" font-size="7" text-anchor="middle">0</text>
<text x="76.2" y="254.6" font-size="7" text-anchor="middle">5</text>
<text x="122.1" y="254.6" font-size="7" text-anchor="middle">10</text>
<text x="167.9" y="254.6" font-size="7" text-anchor="middle">15</text>
<text x="27.8" y="247.2" font-size="7" text-anchor="end">0</text>
<text x="27.8" y="220.4" font-size="7" text-anchor="end">0.25</text>
<text x="27.8" y="193.7" font-size="7" text-anchor="end">0.5</text>
<text x="27.8" y="166.9" font-size="7" text-anchor="end">0.75</text>
<text x="27.8" y="140.1" font-size="7" text-anchor="end">1</text>
<text x="5.2" y="140.8" class="b" font-size="14">(d)</text>
<text transform="translate(17.4 194.4) rotate(-90)" class="b" font-size="13.5" text-anchor="middle">SNR</text>
<text x="69.3" y="266.3" font-size="14" font-style="italic" class="c">f</text><text x="75.5" y="269" font-size="8" class="c">n</text><text x="86.2" y="266.1" font-size="13.5" class="b">(MHz)</text>
<g fill="none" stroke-width="1.3" stroke-linejoin="round">
<path d="M204.1 212.67 204.1 212.67 204.1 212.98 204.1 213.32 204.1 213.68 204.1 214.07 204.1 214.48 204.2 214.92 204.2 215.37 204.2 215.84 204.2 216.33 204.3 216.83 204.3 217.35 204.3 217.88 204.3 218.41 204.4 218.96 204.4 219.50 204.4 220.06 204.4 220.61 204.5 221.17 204.5 221.72 204.5 222.29 204.6 222.88 204.6 223.50 204.6 224.14 204.7 224.79 204.7 225.46 204.8 226.14 204.8 226.81 204.8 227.49 204.9 228.15 204.9 228.81 205 229.46 205 230.09 205.1 230.70 205.1 231.30 205.2 231.87 205.3 232.42 205.3 232.94 205.4 233.44 205.5 233.92 205.5 234.38 205.6 234.83 205.7 235.27 205.7 235.69 205.8 236.10 205.9 236.49 206 236.87 206.1 237.24 206.2 237.60 206.3 237.94 206.3 238.26 206.4 238.58 206.6 238.88 206.7 239.16 206.8 239.44 206.9 239.70 207 239.95 207.1 240.19 207.3 240.42 207.4 240.64 207.5 240.84 207.7 241.04 207.8 241.22 208 241.40 208.1 241.57 208.3 241.73 208.5 241.88 208.7 242.02 208.8 242.16 209 242.29 209.2 242.42 209.4 242.53 209.6 242.65 209.9 242.76 210.1 242.86 210.3 242.96 210.6 243.05 210.8 243.14 211.1 243.22 211.4 243.30 211.7 243.37 212 243.45 212.3 243.51 212.6 243.58 212.9 243.64 213.2 243.70 213.6 243.75 214 243.81 214.3 243.86 214.7 243.90 215.1 243.95 215.6 243.99 216 244.03 216.4 244.07 216.9 244.11 217.4 244.14 217.9 244.17 218.4 244.21 219 244.24 219.5 244.26 220.1 244.29 220.7 244.32 221.3 244.34 222 244.36 222.7 244.39 223.4 244.41 224.1 244.43 224.8 244.44 225.6 244.46 226.4 244.48 227.2 244.50 228.1 244.51 229 244.52 229.9 244.54 230.9 244.55 231.9 244.56 232.9 244.58 234 244.59 235.1 244.60 236.2 244.61 237.4 244.62 238.7 244.63 240 244.64 241.3 244.64 242.7 244.65 244.1 244.66 245.6 244.67 247.1 244.67 248.7 244.68 250.3 244.68 252 244.69 253.8 244.70 255.6 244.70 257.5 244.71 259.5 244.71 261.6 244.72 263.7 244.72 265.9 244.72 268.1 244.73 270.5 244.73 272.9 244.73 275.5 244.74 278.1 244.74 280.8 244.74 283.6 244.75 286.6 244.75 289.6 244.75 292.7 244.75 296 244.76 299.4 244.76 302.9 244.76 306.5 244.76 310.3 244.77 314.2 244.77 318.2 244.77 322.4 244.77 326.7 244.77 331.2 244.77 335.9 244.78 340.7 244.78" stroke="#0072bd"/>
<path d="M204.1 180.54 204.1 180.54 204.1 180.66 204.1 180.80 204.1 180.95 204.1 181.11 204.1 181.29 204.2 181.48 204.2 181.69 204.2 181.90 204.2 182.13 204.3 182.37 204.3 182.62 204.3 182.88 204.3 183.15 204.4 183.42 204.4 183.71 204.4 184.00 204.4 184.29 204.5 184.60 204.5 184.90 204.5 185.22 204.6 185.56 204.6 185.92 204.6 186.30 204.7 186.70 204.7 187.12 204.8 187.55 204.8 188.01 204.8 188.48 204.9 188.96 204.9 189.46 205 189.97 205 190.49 205.1 191.02 205.1 191.56 205.2 192.11 205.3 192.67 205.3 193.24 205.4 193.81 205.5 194.39 205.5 194.98 205.6 195.59 205.7 196.21 205.7 196.86 205.8 197.52 205.9 198.19 206 198.87 206.1 199.57 206.2 200.28 206.3 200.99 206.3 201.72 206.4 202.45 206.6 203.19 206.7 203.93 206.8 204.67 206.9 205.42 207 206.17 207.1 206.92 207.3 207.67 207.4 208.42 207.5 209.16 207.7 209.90 207.8 210.63 208 211.36 208.1 212.08 208.3 212.80 208.5 213.52 208.7 214.25 208.8 214.97 209 215.70 209.2 216.43 209.4 217.15 209.6 217.87 209.9 218.58 210.1 219.29 210.3 219.99 210.6 220.68 210.8 221.36 211.1 222.03 211.4 222.68 211.7 223.33 212 223.96 212.3 224.58 212.6 225.18 212.9 225.77 213.2 226.35 213.6 226.92 214 227.48 214.3 228.03 214.7 228.56 215.1 229.09 215.6 229.60 216 230.10 216.4 230.59 216.9 231.07 217.4 231.53 217.9 231.98 218.4 232.42 219 232.85 219.5 233.27 220.1 233.67 220.7 234.06 221.3 234.44 222 234.80 222.7 235.16 223.4 235.50 224.1 235.84 224.8 236.16 225.6 236.48 226.4 236.79 227.2 237.08 228.1 237.37 229 237.64 229.9 237.91 230.9 238.17 231.9 238.42 232.9 238.66 234 238.89 235.1 239.11 236.2 239.33 237.4 239.54 238.7 239.74 240 239.94 241.3 240.12 242.7 240.30 244.1 240.48 245.6 240.65 247.1 240.81 248.7 240.96 250.3 241.11 252 241.26 253.8 241.40 255.6 241.53 257.5 241.66 259.5 241.78 261.6 241.90 263.7 242.02 265.9 242.13 268.1 242.23 270.5 242.33 272.9 242.43 275.5 242.53 278.1 242.62 280.8 242.70 283.6 242.78 286.6 242.86 289.6 242.94 292.7 243.02 296 243.10 299.4 243.18 302.9 243.25 306.5 243.32 310.3 243.39 314.2 243.46 318.2 243.53 322.4 243.59 326.7 243.66 331.2 243.72 335.9 243.77 340.7 243.83" stroke="#d95319"/>
<path d="M204.1 165.55 204.1 165.55 204.1 165.70 204.1 165.87 204.1 166.04 204.1 166.23 204.1 166.42 204.2 166.62 204.2 166.84 204.2 167.06 204.2 167.29 204.3 167.52 204.3 167.77 204.3 168.02 204.3 168.28 204.4 168.55 204.4 168.83 204.4 169.11 204.4 169.40 204.5 169.70 204.5 170.00 204.5 170.31 204.6 170.64 204.6 170.98 204.6 171.33 204.7 171.70 204.7 172.09 204.8 172.48 204.8 172.89 204.8 173.32 204.9 173.75 204.9 174.20 205 174.66 205 175.13 205.1 175.61 205.1 176.10 205.2 176.60 205.3 177.11 205.3 177.63 205.4 178.16 205.5 178.69 205.5 179.24 205.6 179.80 205.7 180.38 205.7 180.98 205.8 181.59 205.9 182.22 206 182.85 206.1 183.50 206.2 184.17 206.3 184.84 206.3 185.53 206.4 186.23 206.6 186.93 206.7 187.65 206.8 188.37 206.9 189.11 207 189.85 207.1 190.59 207.3 191.34 207.4 192.10 207.5 192.86 207.7 193.62 207.8 194.38 208 195.15 208.1 195.92 208.3 196.69 208.5 197.46 208.7 198.25 208.8 199.05 209 199.85 209.2 200.66 209.4 201.47 209.6 202.29 209.9 203.11 210.1 203.93 210.3 204.75 210.6 205.56 210.8 206.38 211.1 207.19 211.4 207.99 211.7 208.79 212 209.58 212.3 210.37 212.6 211.14 212.9 211.91 213.2 212.67 213.6 213.42 214 214.17 214.3 214.91 214.7 215.65 215.1 216.38 215.6 217.09 216 217.80 216.4 218.51 216.9 219.20 217.4 219.88 217.9 220.55 218.4 221.20 219 221.85 219.5 222.48 220.1 223.11 220.7 223.71 221.3 224.31 222 224.90 222.7 225.47 223.4 226.03 224.1 226.58 224.8 227.12 225.6 227.65 226.4 228.17 227.2 228.67 228.1 229.16 229 229.64 229.9 230.11 230.9 230.57 231.9 231.02 232.9 231.45 234 231.87 235.1 232.29 236.2 232.69 237.4 233.08 238.7 233.46 240 233.83 241.3 234.19 242.7 234.54 244.1 234.87 245.6 235.20 247.1 235.52 248.7 235.83 250.3 236.13 252 236.43 253.8 236.71 255.6 236.98 257.5 237.25 259.5 237.51 261.6 237.76 263.7 238.00 265.9 238.23 268.1 238.46 270.5 238.68 272.9 238.89 275.5 239.10 278.1 239.29 280.8 239.48 283.6 239.66 286.6 239.85 289.6 240.02 292.7 240.20 296 240.38 299.4 240.56 302.9 240.73 306.5 240.90 310.3 241.07 314.2 241.24 318.2 241.40 322.4 241.55 326.7 241.70 331.2 241.85 335.9 242.00 340.7 242.14" stroke="#edb120"/>
<path d="M204.1 153.76 204.1 153.76 204.1 154.00 204.1 154.24 204.1 154.48 204.1 154.73 204.1 154.98 204.2 155.24 204.2 155.50 204.2 155.76 204.2 156.03 204.3 156.31 204.3 156.59 204.3 156.87 204.3 157.16 204.4 157.45 204.4 157.75 204.4 158.06 204.4 158.37 204.5 158.68 204.5 159.00 204.5 159.32 204.6 159.65 204.6 159.98 204.6 160.32 204.7 160.67 204.7 161.02 204.8 161.37 204.8 161.73 204.8 162.10 204.9 162.47 204.9 162.85 205 163.23 205 163.63 205.1 164.03 205.1 164.44 205.2 164.85 205.3 165.28 205.3 165.71 205.4 166.15 205.5 166.60 205.5 167.06 205.6 167.53 205.7 168.01 205.7 168.50 205.8 169.00 205.9 169.50 206 170.01 206.1 170.54 206.2 171.07 206.3 171.61 206.3 172.15 206.4 172.71 206.6 173.27 206.7 173.84 206.8 174.42 206.9 175.01 207 175.60 207.1 176.20 207.3 176.81 207.4 177.42 207.5 178.04 207.7 178.67 207.8 179.30 208 179.94 208.1 180.58 208.3 181.23 208.5 181.89 208.7 182.56 208.8 183.23 209 183.92 209.2 184.61 209.4 185.30 209.6 186.00 209.9 186.71 210.1 187.42 210.3 188.14 210.6 188.86 210.8 189.59 211.1 190.32 211.4 191.05 211.7 191.78 212 192.51 212.3 193.25 212.6 193.98 212.9 194.71 213.2 195.45 213.6 196.19 214 196.93 214.3 197.67 214.7 198.41 215.1 199.15 215.6 199.89 216 200.63 216.4 201.36 216.9 202.10 217.4 202.83 217.9 203.56 218.4 204.29 219 205.01 219.5 205.73 220.1 206.44 220.7 207.15 221.3 207.85 222 208.55 222.7 209.24 223.4 209.93 224.1 210.61 224.8 211.29 225.6 211.96 226.4 212.63 227.2 213.29 228.1 213.94 229 214.58 229.9 215.22 230.9 215.85 231.9 216.47 232.9 217.09 234 217.69 235.1 218.29 236.2 218.88 237.4 219.46 238.7 220.04 240 220.60 241.3 221.16 242.7 221.71 244.1 222.25 245.6 222.78 247.1 223.30 248.7 223.81 250.3 224.32 252 224.81 253.8 225.30 255.6 225.77 257.5 226.24 259.5 226.70 261.6 227.15 263.7 227.59 265.9 228.03 268.1 228.46 270.5 228.87 272.9 229.28 275.5 229.68 278.1 230.06 280.8 230.43 283.6 230.80 286.6 231.17 289.6 231.54 292.7 231.92 296 232.30 299.4 232.69 302.9 233.07 306.5 233.46 310.3 233.84 314.2 234.23 318.2 234.61 322.4 234.98 326.7 235.35 331.2 235.72 335.9 236.08 340.7 236.44" stroke="#7e2f8e"/>
<path d="M204.1 146.80 204.1 146.80 204.1 147.03 204.1 147.26 204.1 147.49 204.1 147.73 204.1 147.97 204.2 148.22 204.2 148.47 204.2 148.72 204.2 148.98 204.3 149.24 204.3 149.50 204.3 149.77 204.3 150.04 204.4 150.32 204.4 150.60 204.4 150.88 204.4 151.17 204.5 151.46 204.5 151.75 204.5 152.05 204.6 152.35 204.6 152.65 204.6 152.95 204.7 153.25 204.7 153.56 204.8 153.86 204.8 154.18 204.8 154.49 204.9 154.81 204.9 155.14 205 155.47 205 155.80 205.1 156.14 205.1 156.49 205.2 156.84 205.3 157.20 205.3 157.58 205.4 157.96 205.5 158.35 205.5 158.74 205.6 159.15 205.7 159.56 205.7 159.98 205.8 160.40 205.9 160.83 206 161.27 206.1 161.72 206.2 162.17 206.3 162.63 206.3 163.10 206.4 163.58 206.6 164.06 206.7 164.55 206.8 165.05 206.9 165.55 207 166.07 207.1 166.59 207.3 167.11 207.4 167.65 207.5 168.19 207.7 168.74 207.8 169.29 208 169.86 208.1 170.43 208.3 171.00 208.5 171.59 208.7 172.18 208.8 172.78 209 173.39 209.2 174.01 209.4 174.63 209.6 175.26 209.9 175.90 210.1 176.54 210.3 177.19 210.6 177.85 210.8 178.51 211.1 179.18 211.4 179.85 211.7 180.52 212 181.21 212.3 181.89 212.6 182.58 212.9 183.27 213.2 183.97 213.6 184.67 214 185.38 214.3 186.09 214.7 186.80 215.1 187.52 215.6 188.24 216 188.96 216.4 189.69 216.9 190.41 217.4 191.14 217.9 191.87 218.4 192.60 219 193.33 219.5 194.05 220.1 194.78 220.7 195.51 221.3 196.24 222 196.96 222.7 197.69 223.4 198.41 224.1 199.14 224.8 199.86 225.6 200.58 226.4 201.29 227.2 202.01 228.1 202.72 229 203.42 229.9 204.13 230.9 204.83 231.9 205.52 232.9 206.21 234 206.90 235.1 207.58 236.2 208.25 237.4 208.92 238.7 209.59 240 210.25 241.3 210.90 242.7 211.55 244.1 212.19 245.6 212.82 247.1 213.45 248.7 214.07 250.3 214.68 252 215.29 253.8 215.88 255.6 216.47 257.5 217.06 259.5 217.63 261.6 218.20 263.7 218.76 265.9 219.32 268.1 219.86 270.5 220.41 272.9 220.94 275.5 221.45 278.1 221.95 280.8 222.45 283.6 222.94 286.6 223.43 289.6 223.93 292.7 224.44 296 224.96 299.4 225.50 302.9 226.03 306.5 226.57 310.3 227.12 314.2 227.66 318.2 228.21 322.4 228.75 326.7 229.29 331.2 229.83 335.9 230.36 340.7 230.89" stroke="#77ac30"/>
</g>
<rect x="203.6" y="137.7" width="137.1" height="107.1" fill="none" stroke="#333" stroke-width="0.8"/>
<path d="M249.3 244.8v-1.6M249.3 137.7v1.6M295 244.8v-1.6M295 137.7v1.6M203.6 218h1.6M340.7 218h-1.6M203.6 191.2h1.6M340.7 191.2h-1.6M203.6 164.5h1.6M340.7 164.5h-1.6" stroke="#333" stroke-width="0.6" fill="none"/>
<text x="203.6" y="254.6" font-size="7" text-anchor="middle">0</text>
<text x="249.3" y="254.6" font-size="7" text-anchor="middle">5</text>
<text x="295" y="254.6" font-size="7" text-anchor="middle">10</text>
<text x="340.7" y="254.6" font-size="7" text-anchor="middle">15</text>
<text x="201" y="247.2" font-size="7" text-anchor="end">0</text>
<text x="201" y="220.4" font-size="7" text-anchor="end">0.25</text>
<text x="201" y="193.7" font-size="7" text-anchor="end">0.5</text>
<text x="201" y="166.9" font-size="7" text-anchor="end">0.75</text>
<text x="201" y="140.1" font-size="7" text-anchor="end">1</text>
<text x="179.5" y="140.8" class="b" font-size="14">(e)</text>
<text transform="translate(190.6 194.4) rotate(-90)" class="b" font-size="13.5" text-anchor="middle">PSE</text>
<text x="242.2" y="266.3" font-size="14" font-style="italic" class="c">f</text><text x="248.4" y="269" font-size="8" class="c">n</text><text x="259.1" y="266.1" font-size="13.5" class="b">(MHz)</text>
<g fill="none" stroke-width="1.3" stroke-linejoin="round">
<path d="M380.3 163.20 380.3 163.20 380.3 163.90 380.3 164.62 380.3 165.35 380.3 166.09 380.3 166.85 380.4 167.61 380.4 168.39 380.4 169.18 380.4 169.99 380.5 170.80 380.5 171.63 380.5 172.47 380.5 173.31 380.6 174.17 380.6 175.04 380.6 175.92 380.6 176.80 380.7 177.70 380.7 178.60 380.7 179.51 380.8 180.43 380.8 181.35 380.8 182.28 380.9 183.22 380.9 184.16 381 185.11 381 186.06 381 187.01 381.1 187.97 381.1 188.92 381.2 189.88 381.2 190.84 381.3 191.80 381.3 192.76 381.4 193.72 381.5 194.68 381.5 195.64 381.6 196.59 381.7 197.54 381.7 198.48 381.8 199.42 381.9 200.36 381.9 201.29 382 202.21 382.1 203.13 382.2 204.04 382.3 204.94 382.4 205.83 382.5 206.72 382.5 207.59 382.6 208.46 382.8 209.32 382.9 210.16 383 211.00 383.1 211.82 383.2 212.63 383.3 213.44 383.5 214.23 383.6 215.00 383.7 215.77 383.9 216.52 384 217.26 384.2 217.99 384.3 218.70 384.5 219.41 384.7 220.09 384.9 220.77 385 221.43 385.2 222.08 385.4 222.72 385.6 223.34 385.9 223.95 386.1 224.54 386.3 225.13 386.5 225.69 386.8 226.25 387 226.80 387.3 227.33 387.6 227.84 387.9 228.35 388.2 228.84 388.5 229.32 388.8 229.79 389.1 230.25 389.4 230.70 389.8 231.13 390.2 231.55 390.5 231.96 390.9 232.36 391.3 232.75 391.8 233.13 392.2 233.50 392.7 233.85 393.1 234.20 393.6 234.54 394.1 234.87 394.6 235.19 395.2 235.50 395.7 235.80 396.3 236.09 396.9 236.37 397.6 236.64 398.2 236.91 398.9 237.17 399.6 237.42 400.3 237.66 401 237.90 401.8 238.13 402.6 238.35 403.5 238.56 404.3 238.77 405.2 238.97 406.1 239.16 407.1 239.35 408.1 239.53 409.1 239.71 410.2 239.88 411.3 240.05 412.5 240.21 413.7 240.36 414.9 240.51 416.2 240.66 417.5 240.80 418.9 240.94 420.3 241.07 421.8 241.19 423.3 241.32 424.9 241.44 426.6 241.55 428.3 241.66 430 241.77 431.9 241.87 433.8 241.97 435.8 242.07 437.8 242.16 439.9 242.25 442.1 242.34 444.4 242.43 446.8 242.51 449.2 242.59 451.7 242.66 454.4 242.74 457.1 242.81 459.9 242.88 462.8 242.95 465.9 243.01 469 243.07 472.3 243.13 475.6 243.19 479.1 243.25 482.8 243.30 486.5 243.35 490.4 243.40 494.5 243.45 498.7 243.50 503 243.54 507.5 243.59 512.2 243.63 517 243.67" stroke="#0072bd"/>
<path d="M380.3 141.96 380.3 141.96 380.3 142.09 380.3 142.23 380.3 142.36 380.3 142.51 380.3 142.65 380.4 142.80 380.4 142.95 380.4 143.11 380.4 143.28 380.5 143.44 380.5 143.61 380.5 143.79 380.5 143.97 380.6 144.16 380.6 144.35 380.6 144.55 380.6 144.75 380.7 144.96 380.7 145.18 380.7 145.39 380.8 145.62 380.8 145.85 380.8 146.09 380.9 146.34 380.9 146.59 381 146.84 381 147.11 381 147.38 381.1 147.66 381.1 147.94 381.2 148.24 381.2 148.54 381.3 148.84 381.3 149.16 381.4 149.48 381.5 149.81 381.5 150.15 381.6 150.50 381.7 150.86 381.7 151.22 381.8 151.60 381.9 151.98 381.9 152.37 382 152.77 382.1 153.18 382.2 153.59 382.3 154.02 382.4 154.46 382.5 154.90 382.5 155.36 382.6 155.82 382.8 156.30 382.9 156.78 383 157.28 383.1 157.78 383.2 158.30 383.3 158.82 383.5 159.35 383.6 159.90 383.7 160.45 383.9 161.02 384 161.59 384.2 162.18 384.3 162.77 384.5 163.37 384.7 163.99 384.9 164.61 385 165.25 385.2 165.89 385.4 166.54 385.6 167.20 385.9 167.88 386.1 168.56 386.3 169.25 386.5 169.95 386.8 170.65 387 171.37 387.3 172.10 387.6 172.83 387.9 173.57 388.2 174.32 388.5 175.07 388.8 175.84 389.1 176.61 389.4 177.38 389.8 178.16 390.2 178.95 390.5 179.75 390.9 180.55 391.3 181.35 391.8 182.16 392.2 182.97 392.7 183.79 393.1 184.61 393.6 185.44 394.1 186.26 394.6 187.09 395.2 187.93 395.7 188.76 396.3 189.59 396.9 190.43 397.6 191.26 398.2 192.10 398.9 192.93 399.6 193.77 400.3 194.60 401 195.43 401.8 196.26 402.6 197.09 403.5 197.91 404.3 198.74 405.2 199.55 406.1 200.37 407.1 201.18 408.1 201.98 409.1 202.78 410.2 203.57 411.3 204.36 412.5 205.14 413.7 205.92 414.9 206.69 416.2 207.45 417.5 208.21 418.9 208.96 420.3 209.70 421.8 210.43 423.3 211.15 424.9 211.87 426.6 212.58 428.3 213.28 430 213.97 431.9 214.65 433.8 215.32 435.8 215.98 437.8 216.63 439.9 217.28 442.1 217.91 444.4 218.53 446.8 219.15 449.2 219.75 451.7 220.34 454.4 220.93 457.1 221.50 459.9 222.07 462.8 222.62 465.9 223.16 469 223.70 472.3 224.22 475.6 224.74 479.1 225.24 482.8 225.73 486.5 226.22 490.4 226.69 494.5 227.16 498.7 227.61 503 228.06 507.5 228.49 512.2 228.92 517 229.34" stroke="#d95319"/>
<path d="M380.3 140.79 380.3 140.79 380.3 140.87 380.3 140.96 380.3 141.06 380.3 141.15 380.3 141.25 380.4 141.35 380.4 141.45 380.4 141.55 380.4 141.66 380.5 141.77 380.5 141.89 380.5 142.00 380.5 142.12 380.6 142.25 380.6 142.37 380.6 142.50 380.6 142.64 380.7 142.77 380.7 142.92 380.7 143.06 380.8 143.21 380.8 143.36 380.8 143.52 380.9 143.67 380.9 143.84 381 144.01 381 144.18 381 144.36 381.1 144.54 381.1 144.72 381.2 144.91 381.2 145.11 381.3 145.31 381.3 145.52 381.4 145.73 381.5 145.94 381.5 146.16 381.6 146.39 381.7 146.62 381.7 146.86 381.8 147.10 381.9 147.35 381.9 147.61 382 147.87 382.1 148.13 382.2 148.41 382.3 148.69 382.4 148.97 382.5 149.27 382.5 149.57 382.6 149.87 382.8 150.19 382.9 150.51 383 150.83 383.1 151.17 383.2 151.51 383.3 151.86 383.5 152.21 383.6 152.58 383.7 152.95 383.9 153.33 384 153.72 384.2 154.11 384.3 154.51 384.5 154.92 384.7 155.34 384.9 155.77 385 156.20 385.2 156.65 385.4 157.10 385.6 157.56 385.9 158.03 386.1 158.51 386.3 158.99 386.5 159.48 386.8 159.99 387 160.50 387.3 161.02 387.6 161.54 387.9 162.08 388.2 162.63 388.5 163.18 388.8 163.74 389.1 164.31 389.4 164.89 389.8 165.47 390.2 166.07 390.5 166.67 390.9 167.28 391.3 167.90 391.8 168.53 392.2 169.16 392.7 169.80 393.1 170.45 393.6 171.11 394.1 171.77 394.6 172.44 395.2 173.12 395.7 173.80 396.3 174.49 396.9 175.19 397.6 175.89 398.2 176.60 398.9 177.31 399.6 178.03 400.3 178.75 401 179.48 401.8 180.22 402.6 180.95 403.5 181.70 404.3 182.44 405.2 183.19 406.1 183.94 407.1 184.70 408.1 185.46 409.1 186.22 410.2 186.98 411.3 187.74 412.5 188.51 413.7 189.28 414.9 190.04 416.2 190.81 417.5 191.58 418.9 192.35 420.3 193.12 421.8 193.88 423.3 194.65 424.9 195.41 426.6 196.18 428.3 196.94 430 197.70 431.9 198.45 433.8 199.21 435.8 199.96 437.8 200.70 439.9 201.44 442.1 202.18 444.4 202.92 446.8 203.65 449.2 204.37 451.7 205.09 454.4 205.81 457.1 206.51 459.9 207.22 462.8 207.91 465.9 208.60 469 209.29 472.3 209.97 475.6 210.64 479.1 211.30 482.8 211.96 486.5 212.61 490.4 213.25 494.5 213.89 498.7 214.51 503 215.13 507.5 215.75 512.2 216.35 517 216.94" stroke="#edb120"/>
<path d="M380.3 138.76 380.3 138.76 380.3 138.79 380.3 138.82 380.3 138.86 380.3 138.89 380.3 138.92 380.4 138.96 380.4 138.99 380.4 139.03 380.4 139.07 380.5 139.11 380.5 139.15 380.5 139.19 380.5 139.23 380.6 139.28 380.6 139.32 380.6 139.37 380.6 139.42 380.7 139.47 380.7 139.52 380.7 139.57 380.8 139.62 380.8 139.68 380.8 139.73 380.9 139.79 380.9 139.85 381 139.91 381 139.98 381 140.04 381.1 140.11 381.1 140.18 381.2 140.25 381.2 140.32 381.3 140.39 381.3 140.47 381.4 140.55 381.5 140.63 381.5 140.71 381.6 140.80 381.7 140.88 381.7 140.97 381.8 141.07 381.9 141.16 381.9 141.26 382 141.36 382.1 141.46 382.2 141.57 382.3 141.68 382.4 141.79 382.5 141.90 382.5 142.02 382.6 142.14 382.8 142.26 382.9 142.39 383 142.52 383.1 142.65 383.2 142.79 383.3 142.93 383.5 143.08 383.6 143.23 383.7 143.38 383.9 143.53 384 143.69 384.2 143.86 384.3 144.03 384.5 144.20 384.7 144.38 384.9 144.56 385 144.75 385.2 144.94 385.4 145.13 385.6 145.34 385.9 145.54 386.1 145.75 386.3 145.97 386.5 146.19 386.8 146.42 387 146.65 387.3 146.89 387.6 147.13 387.9 147.38 388.2 147.64 388.5 147.90 388.8 148.17 389.1 148.44 389.4 148.72 389.8 149.01 390.2 149.30 390.5 149.60 390.9 149.91 391.3 150.22 391.8 150.54 392.2 150.87 392.7 151.21 393.1 151.55 393.6 151.90 394.1 152.26 394.6 152.62 395.2 152.99 395.7 153.37 396.3 153.76 396.9 154.16 397.6 154.56 398.2 154.97 398.9 155.39 399.6 155.82 400.3 156.26 401 156.70 401.8 157.16 402.6 157.62 403.5 158.09 404.3 158.56 405.2 159.05 406.1 159.54 407.1 160.05 408.1 160.56 409.1 161.08 410.2 161.61 411.3 162.15 412.5 162.69 413.7 163.25 414.9 163.81 416.2 164.38 417.5 164.96 418.9 165.55 420.3 166.14 421.8 166.74 423.3 167.36 424.9 167.97 426.6 168.60 428.3 169.24 430 169.88 431.9 170.53 433.8 171.19 435.8 171.85 437.8 172.52 439.9 173.20 442.1 173.88 444.4 174.57 446.8 175.27 449.2 175.97 451.7 176.68 454.4 177.40 457.1 178.12 459.9 178.84 462.8 179.57 465.9 180.30 469 181.04 472.3 181.79 475.6 182.53 479.1 183.28 482.8 184.03 486.5 184.79 490.4 185.55 494.5 186.31 498.7 187.07 503 187.84 507.5 188.60 512.2 189.37 517 190.14" stroke="#7e2f8e"/>
<path d="M380.3 138.09 380.3 138.09 380.3 138.10 380.3 138.11 380.3 138.13 380.3 138.14 380.3 138.15 380.4 138.16 380.4 138.18 380.4 138.19 380.4 138.21 380.5 138.22 380.5 138.24 380.5 138.25 380.5 138.27 380.6 138.28 380.6 138.30 380.6 138.32 380.6 138.34 380.7 138.35 380.7 138.37 380.7 138.39 380.8 138.41 380.8 138.43 380.8 138.45 380.9 138.48 380.9 138.50 381 138.52 381 138.54 381 138.57 381.1 138.59 381.1 138.62 381.2 138.65 381.2 138.67 381.3 138.70 381.3 138.73 381.4 138.76 381.5 138.79 381.5 138.82 381.6 138.85 381.7 138.89 381.7 138.92 381.8 138.96 381.9 138.99 381.9 139.03 382 139.07 382.1 139.11 382.2 139.15 382.3 139.19 382.4 139.23 382.5 139.28 382.5 139.32 382.6 139.37 382.8 139.42 382.9 139.47 383 139.52 383.1 139.57 383.2 139.62 383.3 139.68 383.5 139.73 383.6 139.79 383.7 139.85 383.9 139.91 384 139.97 384.2 140.04 384.3 140.11 384.5 140.17 384.7 140.24 384.9 140.32 385 140.39 385.2 140.47 385.4 140.55 385.6 140.63 385.9 140.71 386.1 140.79 386.3 140.88 386.5 140.97 386.8 141.06 387 141.16 387.3 141.26 387.6 141.36 387.9 141.46 388.2 141.56 388.5 141.67 388.8 141.78 389.1 141.90 389.4 142.02 389.8 142.14 390.2 142.26 390.5 142.39 390.9 142.52 391.3 142.65 391.8 142.79 392.2 142.93 392.7 143.07 393.1 143.22 393.6 143.37 394.1 143.53 394.6 143.69 395.2 143.86 395.7 144.02 396.3 144.20 396.9 144.37 397.6 144.56 398.2 144.74 398.9 144.93 399.6 145.13 400.3 145.33 401 145.54 401.8 145.75 402.6 145.96 403.5 146.19 404.3 146.41 405.2 146.64 406.1 146.88 407.1 147.13 408.1 147.38 409.1 147.63 410.2 147.89 411.3 148.16 412.5 148.44 413.7 148.72 414.9 149.00 416.2 149.30 417.5 149.60 418.9 149.90 420.3 150.22 421.8 150.54 423.3 150.87 424.9 151.20 426.6 151.54 428.3 151.89 430 152.25 431.9 152.61 433.8 152.99 435.8 153.37 437.8 153.75 439.9 154.15 442.1 154.55 444.4 154.96 446.8 155.38 449.2 155.81 451.7 156.25 454.4 156.69 457.1 157.14 459.9 157.61 462.8 158.07 465.9 158.55 469 159.04 472.3 159.53 475.6 160.04 479.1 160.55 482.8 161.07 486.5 161.60 490.4 162.13 494.5 162.68 498.7 163.23 503 163.80 507.5 164.37 512.2 164.94 517 165.53" stroke="#77ac30"/>
</g>
<rect x="469.5" y="140.5" width="44.3" height="40.3" fill="#fff"/>
<path d="M471.8 145.2H484" stroke="#0072bd" stroke-width="1.2"/>
<text x="485.5" y="147.5" font-size="6.8" text-anchor="start">Ns = 0.01</text>
<path d="M471.8 153.4H484" stroke="#d95319" stroke-width="1.2"/>
<text x="485.5" y="155.7" font-size="6.8" text-anchor="start">Ns = 0.1</text>
<path d="M471.8 161.6H484" stroke="#edb120" stroke-width="1.2"/>
<text x="485.5" y="163.9" font-size="6.8" text-anchor="start">Ns = 0.2</text>
<path d="M471.8 169.8H484" stroke="#7e2f8e" stroke-width="1.2"/>
<text x="485.5" y="172.1" font-size="6.8" text-anchor="start">Ns = 0.5</text>
<path d="M471.8 178H484" stroke="#77ac30" stroke-width="1.2"/>
<text x="485.5" y="180.3" font-size="6.8" text-anchor="start">Ns = 1</text>
<rect x="379.8" y="137.7" width="137.2" height="107.1" fill="none" stroke="#333" stroke-width="0.8"/>
<path d="M425.5 244.8v-1.6M425.5 137.7v1.6M471.3 244.8v-1.6M471.3 137.7v1.6M379.8 218h1.6M517 218h-1.6M379.8 191.2h1.6M517 191.2h-1.6M379.8 164.5h1.6M517 164.5h-1.6" stroke="#333" stroke-width="0.6" fill="none"/>
<text x="379.8" y="254.6" font-size="7" text-anchor="middle">0</text>
<text x="425.5" y="254.6" font-size="7" text-anchor="middle">5</text>
<text x="471.3" y="254.6" font-size="7" text-anchor="middle">10</text>
<text x="517" y="254.6" font-size="7" text-anchor="middle">15</text>
<text x="377.2" y="247.2" font-size="7" text-anchor="end">0</text>
<text x="377.2" y="220.4" font-size="7" text-anchor="end">0.25</text>
<text x="377.2" y="193.7" font-size="7" text-anchor="end">0.5</text>
<text x="377.2" y="166.9" font-size="7" text-anchor="end">0.75</text>
<text x="377.2" y="140.1" font-size="7" text-anchor="end">1</text>
<text x="356.8" y="140.8" class="b" font-size="14">(f)</text>
<text transform="translate(361.5 192.8) rotate(-90)" class="c" font-size="13.5" text-anchor="middle"><tspan font-style="italic">P</tspan><tspan font-size="8" dy="2.5">d, n</tspan></text>
<text x="418.5" y="266.3" font-size="14" font-style="italic" class="c">f</text><text x="424.7" y="269" font-size="8" class="c">n</text><text x="435.4" y="266.1" font-size="13.5" class="b">(MHz)</text>
</svg></body></html>
